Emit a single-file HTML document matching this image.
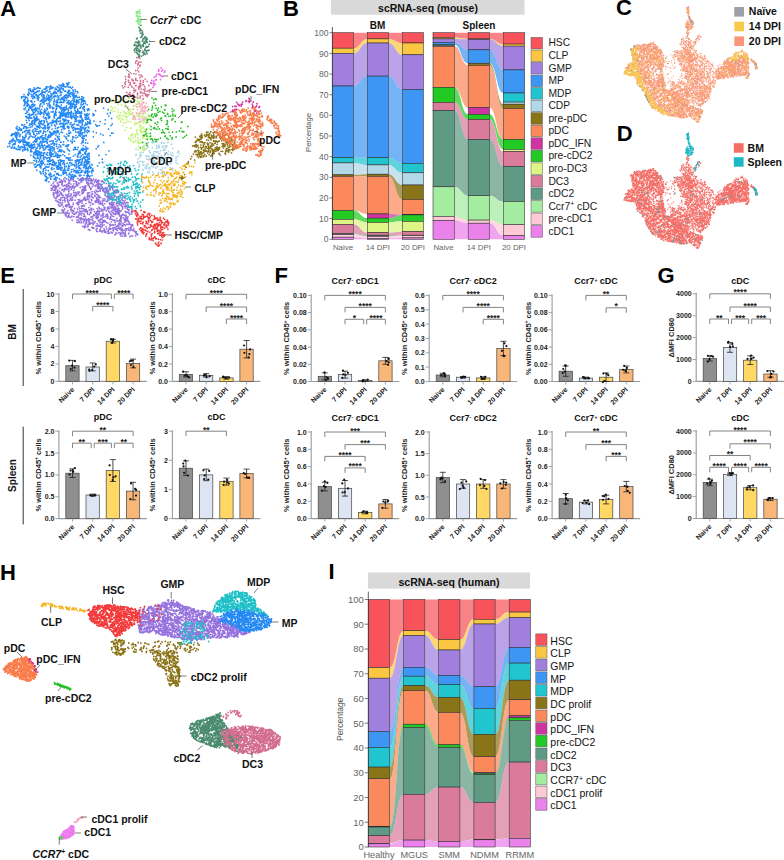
<!DOCTYPE html>
<html><head><meta charset="utf-8"><style>
html,body{margin:0;padding:0;background:#fff;}
svg{display:block;font-family:"Liberation Sans", sans-serif;}
</style></head><body>
<svg width="784" height="860" viewBox="0 0 784 860">
<rect width="784" height="860" fill="#fff"/>
<defs><path id="a_MP" d="M63 85h0M66.3 173.3h0M26.2 133.9h0M24.5 148.7h0M68.2 117.1h0M61.2 170.2h0M68.8 87.2h0M32.4 90.6h0M62.7 119.6h0M63.8 144.5h0M75 105.8h0M34.7 109.8h0M89.6 171.7h0M47.2 109.5h0M56.2 109.2h0M85.7 123.2h0M44 89h0M92.1 170.1h0M46.8 179.6h0M30.1 133.5h0M87 171.1h0M63 144.5h0M54.3 161.8h0M84 167.2h0M49.6 89.5h0M74.1 95.6h0M44.1 104.1h0M71 103h0M45.4 135.2h0M26.8 116.9h0M27.2 104.9h0M27.9 150.6h0M57.1 130.6h0M77.8 101.9h0M44.8 125.6h0M36.8 170.2h0M23.7 128.2h0M45.9 170.2h0M88.2 168.9h0M49.6 104.3h0M75.7 128.8h0M55.7 155.6h0M57.8 137.7h0M12.1 142h0M59.2 151.2h0M28.6 143h0M43.8 141.9h0M69.8 106.8h0M65.9 113h0M72.9 89.9h0M84.2 172h0M68.7 144.8h0M16.5 138.8h0M60 155.6h0M62.6 109.4h0M86.3 168.6h0M44.2 110.7h0M74.6 147.4h0M55.4 126h0M58.1 97.6h0M25.5 107.9h0M75.4 172.5h0M61.4 98.2h0M78 172.2h0M47.4 113.6h0M31.5 147.8h0M34.5 144.2h0M40.8 141.2h0M69.1 82.7h0M65.8 119.6h0M65.2 116.1h0M81.3 155.8h0M34.2 124.1h0M33 95.5h0M61 113.1h0M44.7 141.5h0M47.8 127.5h0M52.2 146.9h0M26.8 102.8h0M62.2 102.3h0M50.4 107.3h0M74.5 93.4h0M52.4 87.6h0M60.7 155.7h0M62.9 160.5h0M61.9 110.5h0M32.1 110.2h0M54.4 96.6h0M54.6 124.8h0M54.9 143.9h0M26.3 126.9h0M36.5 151.6h0M21.5 130.1h0M61.5 85.2h0M19 129.5h0M40.3 104h0M79.9 108.2h0M64 162h0M73.1 179.2h0M56.4 104.7h0M74.2 99.6h0M72.5 94.2h0M41.8 155.3h0M67.5 146.4h0M81.5 143.6h0M37.5 126.1h0M45.2 157.2h0M54.2 131.7h0M84.2 107.3h0M60.5 121.1h0M81.6 101h0M68.5 110.6h0M70.1 132.2h0M67.6 113.7h0M48.5 136.5h0M72.4 116.2h0M30.8 108.1h0M24 94.7h0M73.8 101.3h0M53 111.3h0M24.1 105.7h0M55.5 153.5h0M57.3 130.3h0M89.4 131.1h0M60.2 163h0M71.9 179h0M25.6 149.7h0M59.1 112.2h0M69 154.1h0M87.9 162.7h0M65 177.5h0M50.9 132.8h0M35.3 108h0M91.3 167.6h0M65.9 109.9h0M73.3 130.4h0M23 142.1h0M50.1 91.8h0M36.3 150.7h0M36 153.1h0M89.8 165.3h0M46.9 114.5h0M73.6 103.2h0M88.3 127.1h0M60.4 106.9h0M55.3 138.7h0M50.7 155.5h0M55.3 121.5h0M78.9 111.3h0M49.9 97.6h0M37.3 138.7h0M46.9 115.3h0M68.1 140.7h0M68.8 165.1h0M50.4 86.3h0M45.6 136h0M70.3 124.2h0M36.7 153h0M73.5 171.3h0M45.1 92.5h0M83.5 127.7h0M76.8 112.4h0M19.8 136.6h0M76.4 99.8h0M83.3 145.6h0M47.5 108.4h0M86 151.5h0M45.8 117.7h0M63 125.7h0M81.1 102.8h0M49.4 106.6h0M64.7 110.4h0M67.1 158.3h0M60.2 118.4h0M61.4 151.5h0M64.8 167.8h0M86.1 148.3h0M45.7 141.5h0M72.5 100.4h0M53.5 175.5h0M49.3 164.6h0M91.7 164.4h0M79.2 175.1h0M33.7 132.6h0M15.8 132.3h0M38.5 123h0M28.4 95.3h0M76.2 106.7h0M48.8 161.7h0M83 135.6h0M49 123.4h0M50 175.1h0M14.2 144.4h0M31.2 146.9h0M70.2 104.4h0M27.1 117h0M43.5 92.2h0M65.3 120.6h0M35.9 94.9h0M59.6 118.3h0M25.7 149.4h0M88.4 166.9h0M34.1 117.1h0M83.2 140.2h0M19.5 147h0M72.4 104.4h0M36.9 120.2h0M30.9 149.9h0M17.1 126.3h0M41.7 143.5h0M33.5 104h0M29.5 115.9h0M72.5 100.4h0M68.7 133.4h0M87.7 170.3h0M57.3 154.7h0M35.5 164.1h0M79.9 176.1h0M52.9 122.8h0M36.8 116.4h0M51.8 94.1h0M86.4 118.1h0M78.8 165.5h0M59.8 159.9h0M46.4 176.6h0M62 97.9h0M45.8 113.3h0M12 134.1h0M46.6 88.3h0M35.2 130.9h0M85.8 117.5h0M51.2 100.1h0M45.4 127.2h0M31.9 124.1h0M36.3 141.8h0M68.2 122.4h0M89.2 114h0M76.4 165.3h0M53.2 148.3h0M38.8 119.4h0M49.6 105.6h0M80.2 172.5h0M36.6 160.5h0M74.6 164.9h0M27.9 127.7h0M72.6 128.2h0M34.2 164.8h0M31.8 121.4h0M63.2 171.5h0M81.6 111.5h0M26.5 128.4h0M88.5 167.9h0M76.3 96.5h0M79.7 153.4h0M68.8 128.2h0M53.3 93.8h0M52.2 107.1h0M44.7 145.1h0M43.5 150.1h0M53.1 134.1h0M55.6 122.2h0M76.1 117.6h0M62.1 161h0M54.9 165.3h0M75.3 129.8h0M75.4 170.6h0M50.5 133.1h0M52.5 164.1h0M14 143.8h0M54.8 115.2h0M64.9 113.7h0M44.4 152.7h0M75.2 119.8h0M56.7 144.1h0M90.1 120.4h0M57.3 136.4h0M63.9 107.9h0M87.3 132.5h0M46 91.4h0M81.1 115h0M62.9 163.3h0M39.4 164.3h0M60.6 91.3h0M53.1 160.8h0M63.3 128.3h0M75.4 147.6h0M45 175.2h0M85.4 168.6h0M53.8 133.7h0M64.7 155.9h0M56.4 166.5h0M11.1 147.8h0M64.1 160.6h0M49.4 164.4h0M33.1 89.9h0M45.6 131.8h0M60.2 114.3h0M56.2 115h0M30.5 107.7h0M32.5 121.6h0M50.7 134.9h0M38 87.6h0M84.3 149.1h0M54.1 168.7h0M84.3 156.6h0M39.1 123.3h0M24.1 138.8h0M51.2 160.3h0M41.6 163.4h0M89.3 159.4h0M51.6 133.4h0M48.6 129h0M71.8 113h0M67.3 85.2h0M57.6 155.9h0M22 146.5h0M83.5 157.4h0M35.5 149.9h0M37.1 118.6h0M60.5 102.1h0M33.1 111.9h0M68.8 114.8h0M88.8 163.5h0M37.4 127.5h0M49 103.1h0M88.7 153.4h0M61 142.2h0M43.3 155.5h0M55.3 177.1h0M88.9 171.9h0M14.9 140.9h0M70.4 177.9h0M88.1 171.8h0M56.8 93.4h0M54.6 132.8h0M81.6 130.1h0M47.3 108.7h0M71.6 163h0M85.6 166.7h0M23.3 96.8h0M28.8 109h0M33.5 156.1h0M33.9 123.8h0M85.4 154.1h0M32.9 145.1h0M48.3 137.2h0M46.2 154.1h0M51.3 140.8h0M35.8 135.5h0M25.1 141.9h0M51.8 164.8h0M52 129h0M57.7 87.1h0M40 152h0M54.3 149h0M22.7 137.2h0M70.8 105.2h0M66 137.9h0M28.8 117.7h0M89.1 156.3h0M77.9 125.2h0M10 143.4h0M42.3 106.4h0M51.2 111.9h0M71.1 115h0M65.9 115.1h0M19.6 149.7h0M84.1 175.3h0M75.9 114.9h0M55.9 96.2h0M70.5 101.9h0M28.3 144h0M40.4 136.8h0M30 134.7h0M39.5 124.6h0M26.5 97.4h0M43.6 98h0M40.3 167.3h0M64.4 152.2h0M50 99.6h0M49.8 175.8h0M63.3 88.5h0M81.2 178.7h0M39.8 145.4h0M53.2 165.5h0M41.8 120.5h0M64.3 169.9h0M55.5 88.2h0M15.4 136.3h0M84.8 130.9h0M85.8 139.9h0M42 90.3h0M41.2 173.8h0M69.5 90.9h0M34.8 93.3h0M34.1 119.1h0M46.4 139h0M15.2 143.4h0M40.8 112.2h0M57.1 99.8h0M50.2 88.9h0M43.9 131.8h0M29.1 107.6h0M59.1 102.4h0M40 165.6h0M17.1 139.9h0M54.8 151.9h0M69.1 127.1h0M42.9 133.3h0M54.1 147.5h0M74.4 149.4h0M66.4 123.2h0M51.8 135.3h0M57.4 127.9h0M46.9 103.6h0M48.8 127.1h0M63.8 151.4h0M28.4 100.3h0M56.1 180.1h0M42.5 101.3h0M60.8 102.6h0M41.1 154.2h0M72.9 164.8h0M53.3 147.6h0M60.6 142.3h0M68.9 112.8h0M51.8 125.1h0M55.7 132.3h0M34.6 128.4h0M50.4 152.2h0M80.6 132.2h0M32.7 110.5h0M21.8 129.1h0M74.9 166.3h0M46.5 118h0M58.5 118.2h0M62.5 99.4h0M25.2 103.6h0M37.8 111.1h0M35.4 154.2h0M82.9 107.9h0M79.6 160h0M49.9 141.3h0M43.3 128.5h0M65.2 119h0M53.9 104.7h0M36.7 141.3h0M49.6 117.5h0M75.7 129.3h0M82.1 127.4h0M67.4 95.9h0M31.1 149.1h0M33.8 153.7h0M66.6 83.4h0M44.1 96h0M40.6 156.9h0M19.6 136.5h0M64 127.3h0M62.1 97.9h0M67.2 170h0M34.6 96.7h0M81.3 149.5h0M52.4 134.4h0M17 133.4h0M56.8 119.7h0M43.5 153.9h0M54 145.2h0M34.2 134.6h0M77.8 137.1h0M80.1 151.8h0M45.1 128.7h0M52.9 162.2h0M77.7 110.2h0M38.6 133.4h0M39.3 108.5h0M57.3 156.1h0M51.6 87h0M28.5 130.5h0M71.9 125.2h0M43.5 155.8h0M51 174.3h0M35.7 138.8h0M24.7 139.9h0M61.6 129.7h0M50.3 161.2h0M85.9 159.9h0M27.5 117.8h0M83.9 179.3h0M64.6 168.9h0M16.2 136.4h0M50.2 88.6h0M85.6 135.4h0M13.6 140.3h0M29.9 114.6h0M47.9 123.9h0M34.1 109.5h0M79.4 153.4h0M80.2 115.9h0M28.8 118.7h0M46.7 158.7h0M47.5 164.3h0M79.2 120.4h0M63.5 141.8h0M86.1 127.6h0M86.3 166.9h0M21.8 140.9h0M66.9 100.1h0M61.3 107.5h0M43.1 138.6h0M31.6 96.5h0M84.5 136h0M75.5 119.1h0M49.5 175.4h0M41.1 100.8h0M64.6 109.6h0M81.2 163.7h0M80.5 168.5h0M58.9 164.6h0M68.4 179h0M84.2 132.6h0M50 91.7h0M26.2 136.1h0M87.5 168.4h0M89.5 122.8h0M33.5 96.4h0M63.9 100.2h0M26.6 142.5h0M33.9 152.6h0M63 172.8h0M30.3 107.9h0M29.6 93.5h0M84.5 132.7h0M54.9 92.8h0M82.7 148.8h0M81.1 112.5h0M15.2 143h0M57.1 168h0M38.7 126h0M34.1 123h0M39.4 127.9h0M47.8 105.5h0M65.5 91.2h0M58.7 138.9h0M78.7 125.1h0M69.6 133.6h0M66.4 145.6h0M92.2 164.8h0M62 167.4h0M86.8 175.6h0M41.1 123h0M43.4 97.6h0M56.3 92.8h0M54 117.5h0M40.6 131.9h0M87.7 173.8h0M78.6 113.4h0M50.1 153.4h0M45.9 166.6h0M43.6 148.2h0M78.9 135h0M34.3 134.1h0M81.6 172h0M80.3 107.9h0M87.4 154.2h0M79.2 133.9h0M39.7 143h0M83.3 142.2h0M21.4 140.8h0M82.1 148.4h0M30.6 124.2h0M75.4 160.6h0M86.9 148.4h0M63.3 125.6h0M37.6 108.2h0M66.4 166.4h0M16.1 134.6h0M80.9 120.6h0M60.4 112.9h0M63.2 170.2h0M69.3 173.3h0M85.8 164.5h0M59.6 149.7h0M29.8 125.1h0M57.2 101.8h0M86.4 150.9h0M77.8 160.2h0M66.6 116.7h0M38.2 158.3h0M76.1 116.2h0M48.3 170.7h0M40.5 112.9h0M81.8 96.5h0M47.1 114.7h0M22.6 147.1h0M49.9 160.2h0M60.9 147h0M35.3 167.3h0M66.3 146.3h0M37.2 95.6h0M33.2 112.1h0M59.3 116.9h0M86 119.1h0M90.1 176h0M58.7 99.7h0M64 86.3h0M29.5 136.9h0M43.6 121.2h0M48.6 98.1h0M62.3 113.2h0M65.1 110h0M24.6 109.3h0M65.6 97.7h0M51.9 156.2h0M29.5 106h0M33 129.8h0M34.5 157.7h0M81.6 150h0M38.4 127.1h0M78.4 101.1h0M63.9 163.6h0M58.8 164.2h0M74.3 141.2h0M65.7 116.9h0M68.4 92.2h0M28.9 117.7h0M40.8 167.9h0M63.4 98.5h0M81.6 171h0M63.4 123.6h0M47.3 164.1h0M82.1 128h0M50.6 149h0M43.2 139.2h0M15.1 144h0M33.8 134.2h0M38.9 88h0M46.9 139.5h0M26.5 117.3h0M52.8 154h0M21.5 96.8h0M70.2 93.4h0M69.8 93.5h0M88.2 167.8h0M74.7 128.4h0M18.9 133.3h0M80.5 131.7h0M57.7 156.9h0M87.2 160.1h0M46.7 96.1h0M68.4 158.7h0M68.5 170.1h0M24.7 146h0M37.3 150.9h0M51.2 153.2h0M43.6 158.6h0M67.5 112.5h0M56.2 106.7h0M77 111.8h0M29.1 145.7h0M54.9 143.9h0M23.5 100.2h0M40.1 126.1h0M18.5 141.9h0M36 154.7h0M61 149.9h0M57.2 119h0M34.9 104.9h0M13.1 133.9h0M54.1 91.9h0M25.8 116.3h0M89.8 121.8h0M79 120.7h0M46.1 87h0M74.8 170.6h0M16.2 137.2h0M20.6 129.2h0M66 136.9h0M33.5 91.3h0M48.6 136.8h0M41.3 163.7h0M55.5 139h0M54.1 178.9h0M72.6 174.5h0M43.2 148.3h0M24.1 101h0M55.2 112.1h0M49.7 116.2h0M85.9 114.9h0M61 113.6h0M56.6 119.6h0M28.6 105.1h0M45.3 168h0M71.2 171.9h0M82.2 96.8h0M9.8 141.7h0M58.7 174.8h0M48.4 161.4h0M71.3 112.1h0M51.8 122.9h0M60.8 99.4h0M46.1 100.7h0M49.8 88.9h0M86.5 119.3h0M46.9 87.2h0M35.5 154.1h0M79.7 167.5h0M52.3 120.8h0M49.7 131.6h0M51 96.6h0M13.8 148h0M69.9 94.5h0M78.1 155.8h0M49 103.9h0M10.9 140.9h0M62.2 86.5h0M59.5 139.9h0M83 99.9h0M23 149.7h0M70.5 117.4h0M58.8 105.9h0M82.3 133.8h0M48.7 145.1h0M85.6 161.4h0M52.8 120.2h0M76.2 121.3h0M72 160h0M42.9 101.7h0M20.6 148.8h0M81.9 125.6h0M43.3 162.3h0M39.5 139h0M71.5 169.5h0M72.5 128h0M36.7 138.5h0M45.2 89h0M63.1 127.2h0M64.6 164.3h0M10 143.5h0M27.4 99.8h0M75.3 118.4h0M31.3 144.2h0M29.9 123.9h0M83.8 165.3h0M47.4 142.2h0M66.3 105.9h0M28.8 92h0M88.6 131h0M66.9 175.1h0M83.5 103.6h0M28.9 145.5h0M85.6 170.9h0M31.6 105.1h0M49 137.6h0M41.6 152.4h0M47.4 152.7h0M25.5 141.6h0M60.7 108.9h0M27.8 130.5h0M39.1 133.3h0M31.6 100.8h0M57.5 105.8h0M30.7 106.5h0M75.8 113h0M56.8 123.1h0M48.8 146.6h0M36.4 119.2h0M88.6 108.7h0M57.5 148.6h0M75.4 118.7h0M40.4 111.7h0M77.8 116.8h0M57.1 168.9h0M34.8 112.2h0M63.5 110.1h0M82.6 119.5h0M68.4 90.7h0M84 138.3h0M41.8 160.4h0M84.6 114h0M32 146.3h0M65.2 170.1h0M48.8 181.8h0M63.1 114h0M54.3 164.4h0M39.1 108.9h0M81.3 117.5h0M32.7 106h0M39.8 124.4h0M41.2 121h0M86.7 164.7h0M43.2 169.4h0M32.4 147.3h0M30.9 145.9h0M53.9 101.4h0M30.7 155.3h0M27.5 97.8h0M75 89.8h0M78.6 166.8h0M74.3 107.8h0M45.9 157.6h0M47.4 161h0M66.7 114.3h0M52.7 108.3h0M82.7 104.7h0M62.5 115.5h0M31.3 94.7h0M76.4 95.3h0M73.3 164.5h0M38.4 96.2h0M49.6 127h0M68.1 101.8h0M37.5 157.1h0M33 109.3h0M40.3 101.4h0M82.1 161.5h0M53 133.2h0M60.7 115.3h0M16.8 135.8h0M24.8 131.9h0M57.1 167.6h0M53.1 153.9h0M39.2 144.2h0M50.1 173.1h0M55.9 178h0M39.4 154.6h0M53.6 101.8h0M28.9 146.2h0M72.7 124.8h0M63 118.9h0M65.3 172.4h0M45.9 118.4h0M39.6 160.3h0M74.1 176.8h0M33.5 113.1h0M79 152.7h0M38.2 96.6h0M58 106.2h0M87.4 157.2h0M57.5 90.5h0M74.6 117.9h0M43.5 170.8h0M40.6 113.5h0M71.1 122.5h0M59.2 133.9h0M32.5 122.6h0M14.3 140.7h0M42 91.2h0M74.8 95.8h0M56 132.2h0M24.3 145.2h0M28.6 89.8h0M44.2 118h0M59.1 85h0M78.7 102.8h0M73.4 169.3h0M16.8 128.3h0M25.4 137.3h0M52.9 108.8h0M65.2 86.9h0M61.2 87.9h0M64.9 170.5h0M83 148.6h0M82.9 136.6h0M37.9 146.1h0M85 165.5h0M55.7 111h0M85.6 149.4h0M60.7 146.2h0M86.7 116h0M25.2 96.6h0M77.1 170.3h0M68.8 135.8h0M88.7 175.9h0M55.9 179.1h0M43.3 124.4h0M27.3 106.1h0M38.5 152.6h0M51.1 144.1h0M93.3 170.8h0M35.5 129.1h0M40.4 114.4h0M72.1 142.9h0M76 135.5h0M52.5 122.8h0M55.9 135h0M47.5 125.5h0M11.9 135.1h0M89.2 153.4h0M43.3 128.4h0M58.8 155h0M46.9 108h0M86.5 163.6h0M46.4 119.4h0M40.7 163h0M90.2 121h0M74.3 175.4h0M64.8 97.8h0M43.8 114h0M46.1 146.3h0M61.6 108.3h0M81.9 137.8h0M84.3 106.7h0M48.7 124.3h0M59.6 107.4h0M20.1 149h0M22.7 150.9h0M39.3 121.1h0M44.5 138.5h0M31.1 136.2h0M68 144.8h0M60.4 114.7h0M18.4 139.8h0M62.4 132.6h0M43.3 116.5h0M62.9 83.7h0M34 134.1h0M87.3 163.7h0M43.3 158.1h0M33.3 156.3h0M54 103.7h0M77.1 172.9h0M61.9 168.3h0M43.3 133.1h0M46.6 179.3h0M33.6 93.9h0M75.2 175.5h0M47.3 155.2h0M11.1 135.5h0M34.4 141.3h0M85.2 115.2h0M31.3 115h0M31.9 107.4h0M60.8 117h0M18.5 130.4h0M44.4 100.7h0M59 167.6h0M69.5 150.8h0M73.2 129.9h0M87.6 130.2h0M61.1 175.4h0M84.3 128.6h0M48.7 118.3h0M60 95.5h0M78.6 163.6h0M63.9 163.2h0M42.2 124.6h0M58.8 162.3h0M76 137.9h0M57.3 132h0M47.6 139h0M78.3 161h0M50.4 149.7h0M78.6 172.8h0M53.6 122.2h0M34.8 140.6h0M37.2 91.6h0M39.4 138.4h0M68.6 166.1h0M82.5 170.6h0M68.5 122.6h0M40.6 121.3h0M88 168h0M14.5 147.9h0M44.3 100.8h0M55.4 128.3h0M23.4 144h0M81.2 106.6h0M43 138.1h0M68.8 94h0M67.5 97h0M75.3 129.8h0M62.5 163.7h0M76.9 111.9h0M87.9 158.8h0M61.7 111.7h0M51.3 169.2h0M58.9 97.9h0M77.8 109.1h0M49.5 163.9h0M37.1 91.1h0M74.5 106.7h0M37.3 147.9h0M42 113.2h0M72.9 136.7h0M48.6 97.3h0M66.9 86.7h0M36.4 109.7h0M36.6 152.8h0M16.2 127.9h0M31.9 102.2h0M62.9 154.6h0M18.5 149.3h0M85.5 153.3h0M48 177.8h0M87.8 110.6h0M86.1 160.9h0M75.1 121.5h0M30.3 127.4h0M22.7 132.6h0M74.4 104.7h0M87 155.3h0M13.5 140.7h0M46.1 173.8h0M75.4 162.5h0M78.7 131.6h0M88.9 119h0M63.8 100.5h0M85.5 146.7h0M54.4 113.8h0M83.6 97.7h0M19.5 149.1h0M68.5 95.8h0M76.5 128.9h0M58.8 165.8h0M50.6 163.9h0M76.5 160.3h0M36.5 94.8h0M43.4 153.4h0M45.5 176.7h0M60.7 161.7h0M64.1 172.8h0M77.7 161.1h0M25.1 147.6h0M50.8 179.2h0M75.6 117.9h0M27.7 94.5h0M73.7 137.4h0M64.8 110.6h0M48.6 100.4h0M32 126.7h0M77.6 159.7h0M71.9 176.7h0M75.8 131.9h0M35.6 92.5h0M83.2 120.7h0M46.9 121.9h0M81.6 129.2h0M59.9 162.9h0M60.6 99.8h0M58.9 167.7h0M57.8 173.3h0M20.1 140.9h0M48.3 160.7h0M53.6 131.3h0M79 128.6h0M71.1 179.2h0M33 148.4h0M49.1 113.5h0M82.2 158.6h0M42.6 162.9h0M47.7 147h0M54.6 163.4h0M66.1 172.9h0M39.1 145.5h0M22.4 139.4h0M69.2 103.3h0M28 94.1h0M72.3 105.4h0M30.5 151.7h0M49.6 136.1h0M77.9 178.3h0M85.1 129.1h0M54.5 95.9h0M45.9 148.1h0M63.5 124.4h0M63.6 115.7h0M68.1 168.2h0M47 99.4h0M80.5 153h0M23.2 139.8h0M34.8 117.5h0M54.3 99.1h0M87.6 123.7h0M19.8 129.1h0M68.8 130.7h0M20 140h0M55.3 113.9h0M80.7 127.9h0M11.9 147.8h0M14.7 134.6h0M86.6 119.3h0M81.8 120.1h0M77.4 111.9h0M58.5 91.3h0M73.3 91.5h0M87.1 124.7h0M69.2 159.4h0M80.1 113.4h0M90.8 167.4h0M64.3 173.4h0M50.1 152.5h0M72.3 141.7h0M17.6 134.7h0M81.1 99.1h0M38.2 112h0M74.2 101.2h0M73 137.8h0M67 113.1h0M67.3 92.3h0M52.4 120.5h0M60.8 167.1h0M17.1 129.4h0M34.4 119.4h0M37 154.8h0M52 88.5h0M29.2 89.2h0M37.5 98.8h0M70.8 107.1h0M15.8 141.4h0M26.1 102h0M51.2 154.5h0M58.7 127.3h0M40.3 104.3h0M45.9 138.9h0M81.9 101.7h0M80.7 130.9h0M64.7 91.2h0M42.2 142.6h0M63.4 123.2h0M59.9 123.7h0M50.6 146.5h0M66.5 98h0M24.8 149.9h0M30 117.5h0M54.9 179.5h0M34.6 120.8h0M50.1 96.2h0M81.9 134.1h0M37.6 158h0M85.1 117.2h0M37.3 118.9h0M65 107.7h0M58.9 175.2h0M33.8 116.9h0M56.8 174.3h0M40.2 122.2h0M77.8 92.7h0M76 168.1h0M45 137.5h0M42.3 146.1h0M73.9 100.9h0M68.6 170.3h0M60.9 160.8h0M56.6 146.3h0M39 97.5h0M67.1 113.1h0M35 167h0M63.6 108.6h0M42.6 94.1h0M47.7 139.5h0M63.7 86.3h0M77.4 149.6h0M85.9 123.9h0M70.5 96.8h0M71.4 177.5h0M35.9 142h0M72.6 106.5h0M29.4 142.5h0M60.1 168.2h0M28.1 138.8h0M27.7 103.9h0M74.2 123.9h0M79.2 153.6h0M62.1 114.4h0M67.1 163.2h0M49 157.3h0M24.5 124.7h0M83.8 178.7h0M87.9 148.4h0M44.6 109h0M66 94.6h0M75.5 111.8h0M31.9 151.4h0M42.8 97.4h0M30 145.4h0M39.4 152.2h0M35.4 153h0M72.6 87.1h0M61.3 113.3h0M56.1 141.6h0M53.5 96.9h0M83.4 167.5h0M60.7 160h0M64.6 163.8h0M38.3 154.7h0M83.1 100.9h0M53.1 140.6h0M66.3 172.8h0M90.3 167.7h0M56.9 104h0M63.4 115.4h0M40.5 123.1h0M91.5 170.6h0M81.7 99.1h0M44.9 164.6h0M67 95.9h0M79.9 134.7h0M44.1 159.5h0M60.8 126.7h0M47.7 105.3h0M53 112.1h0M86.5 131.1h0M80.7 135.8h0M44.3 92.1h0M56.8 108.3h0M14.3 133.8h0M65 100.8h0M33.1 142.3h0M65.7 146h0M83.3 101.6h0M16.4 136.9h0M38.7 151.1h0M41.7 113.3h0M64 126.9h0M76.2 101.9h0M47.6 130.8h0M21.6 98h0M82.3 142.1h0M56.9 167.4h0M7.8 146.7h0M92.8 168.9h0M59.2 138.9h0M49.8 132h0M60.6 151.6h0M49.8 155.2h0M44 114.7h0M85.2 125h0M50.4 178.1h0M68.1 84.6h0M64.6 95.9h0M80 151h0M76.7 163.9h0M61.5 111.3h0M65.5 95.6h0M60.1 92.8h0M38.3 98.6h0M61.1 94.8h0M29.7 117.1h0M52.2 150.7h0M88.2 127.1h0M90 166.3h0M71.2 92.6h0M37 133.9h0M39.7 159.3h0M65.3 97.9h0M43.3 124.2h0M81.7 163.4h0M73.5 149.7h0M12.2 146.8h0M66.7 138.9h0M68.4 127.9h0M54.7 162.8h0M42.5 102.6h0M70.5 157.8h0M31.9 91.9h0M52.7 159.6h0M39.7 146.3h0M56.6 173.5h0M53.8 143.1h0M52.6 107.7h0M58.1 166.3h0M48.8 127.9h0M53.1 142.4h0M41.6 109.3h0M44.1 127.3h0M79.2 97.2h0M69.3 95.7h0M25.7 130.7h0M59.7 124.1h0M57.1 86.6h0M33.6 132h0M19.5 142.5h0M85.3 173h0M78.8 132.3h0M60.1 160.1h0M47.4 128.3h0M65.2 124.2h0M85 157.4h0M82.9 154.5h0M56 102.1h0M75.9 107.5h0M60.2 123.4h0M34.9 108.7h0M42.7 99.7h0M35.1 124.5h0M40 166.8h0M40.8 94.2h0M47.8 123.9h0M66.2 107.6h0M75.8 113.5h0M14.4 147.2h0M47.8 166.9h0M88.8 131.6h0M80.6 121.2h0M55.8 110.9h0M35 151.9h0M37 129.3h0M48.8 174.3h0M43.3 173.6h0M73.8 137.3h0M79.9 150.9h0M38 165.2h0M68.1 83.4h0M89 127.8h0M87.7 118.9h0M60.8 113.4h0M27.6 132.8h0M69 103.8h0M78.9 122.8h0M56.9 132.8h0M56.5 89.2h0M57 105.7h0M75.5 102h0M53.7 108.2h0M46.8 178h0M31.1 151.7h0M26.7 110.8h0M61.9 92.3h0M29 93.5h0M36.9 88h0M61.3 160.3h0M57.8 91.2h0M45.8 113.2h0M56 112.5h0M27.5 143.5h0M76.7 172.1h0M75.6 128.7h0M59.2 89.4h0M24 140.9h0M29.5 125.4h0M45.2 180.2h0M75 97.5h0M37.1 120h0M58.4 151.6h0M44 102.4h0M86.6 162.4h0M59.6 116.2h0M43.7 99h0M26.6 105.9h0M71.9 103.4h0M24.1 142.1h0M24.4 100.2h0M70 117.1h0M80.9 175.2h0M76.7 102h0M61 101.8h0M76.2 115.9h0M76.7 171.4h0M91.8 172.7h0M12.8 134.3h0M35.3 120.6h0M57.1 177.7h0M55.3 96.2h0M46 118.3h0M47.8 145.7h0M34.8 121.4h0M27.6 148.2h0M24.6 102.5h0M79.1 162.2h0M42.6 141.5h0M48.6 135h0M73.4 156.1h0M34.5 101.6h0M68.2 103.8h0M56 120.6h0M80.1 117.1h0M67.1 123.6h0M54.1 115.7h0M75.8 176.4h0M53.9 101.7h0M49.9 101.5h0M27.5 149.6h0M12.1 135.3h0M82.3 124.3h0M16.8 137.1h0M25.1 126.5h0M42 164.7h0M86.8 172h0M57.5 157.6h0M84.2 129h0M69.4 112.8h0M78 100.3h0M85.8 157.1h0M31.1 146.4h0M74.2 115.7h0M29.2 134h0M82 122.9h0M35.7 158.7h0M13.1 138.3h0M78.9 168.2h0M32.8 136.9h0M66.4 98.1h0M80.3 165.1h0M69.8 173.8h0M34.1 87.8h0M39.9 106.8h0M76.8 167h0M21.7 124.8h0M35.7 139.7h0M38.3 100.2h0M34.8 122.1h0M64 120.1h0M26.2 113.2h0M81.5 100h0M67.8 116.3h0M49.3 116.6h0M58.3 121.4h0M27.5 145.2h0M61.3 88.6h0M33.1 97.9h0M59.4 178.8h0M35.9 110.8h0M63.8 111.9h0M81.2 116.2h0M54.3 174.8h0M60.3 121.3h0M23.9 147.1h0M59 167.1h0M70.5 114.2h0M28.5 100.5h0M41.9 99.6h0M78.8 163.3h0M87.7 143.1h0M70.7 108.7h0M48.2 98.3h0M70.6 132.5h0M49.9 147.8h0M87.7 121.7h0M24.1 126.9h0M87 156h0M49.9 152.6h0M66.7 108.4h0M90.4 168.2h0M58.4 174.2h0M64.7 121.5h0M43.1 171.7h0M37.2 97h0M88.5 123h0M68 135.9h0M68.7 102.7h0M78.4 101.4h0M42.9 146.3h0M83.1 99.4h0M40.2 110.7h0M58.3 131.1h0M15.6 135.7h0M73.7 177.4h0M36.6 126.2h0M40.2 88.3h0M36 92.7h0M48.7 124.6h0M42.1 144.9h0M71.3 112.4h0M19.6 135.4h0M82.1 133.9h0M76.8 113.2h0M55.1 171.6h0M28.2 104h0M86.1 160.5h0M53.9 156.3h0M40.1 155.5h0M40.5 147.9h0M82 164.8h0M89.1 158.3h0M39 151.7h0M52.6 143.7h0M41.7 137.3h0M80.4 133.4h0M48.9 166.9h0M36.3 166.8h0M71.2 165h0M22.8 132.1h0M41.3 136.2h0M41.6 95.8h0M68 112.1h0M70.6 141.1h0M44.5 168.2h0M62 123.6h0M28.2 132.2h0M39.9 152.9h0M64 110.5h0M39.2 94.7h0M49.9 150.6h0M76.6 100.9h0M63.5 126.6h0M86.6 163.5h0M49.8 135.3h0M69.6 162.9h0M22.8 139h0M25.1 98.9h0M38.9 137.9h0M52.6 162.2h0M46 141.2h0M37.9 137.3h0M27.8 101.6h0M80 180h0M18.3 145.9h0M42.1 91h0M44.3 153.2h0M64.6 166h0M59.9 90.4h0M16.7 138.3h0M63.1 119.4h0M49.9 136.3h0M82.8 138.6h0M89.9 122.2h0M53.6 143h0M48.8 95.5h0M52 98.3h0M40.2 157.4h0M69 107.9h0M90 123.9h0M71 178.7h0M55.6 132.7h0M84.8 153.5h0M71.8 179.3h0M84.1 136.3h0M66.1 172.3h0M44.1 121.1h0M32.8 104.2h0M56.9 104.6h0M61.2 132.2h0M35.8 118.5h0M85 101.5h0M16 132.6h0M52.1 98.1h0M49.7 98.3h0M26.9 122.7h0M44.6 101h0M24.5 101.8h0M65.3 109.6h0M55.2 163.9h0M51 176.5h0M41.1 93.7h0M50.9 160.6h0M71.6 126.7h0M49.6 160h0M20.4 134.5h0M78 153.9h0M58.8 147.1h0M44.4 145.3h0M33.9 147h0M36.5 131.3h0M63.4 113.5h0M31.6 118.2h0M72.3 104.1h0M38.9 113.5h0M38.7 161.8h0M39.6 148.7h0M40.7 172.8h0M72.1 94.8h0M86.9 149.1h0M68.8 176.7h0M70.2 87h0M85.4 128.2h0M9 143.5h0M40.7 161.8h0M30.9 101.2h0M84 163h0M63.3 107.8h0M37.5 144.1h0M55.2 156h0M60.6 115.5h0M78.5 166.4h0M73 98.3h0M63.8 84.6h0M60.3 89.6h0M59.9 121h0M79.4 160.2h0M71.5 116.9h0M24.8 131.4h0M46 99.1h0M67.7 146.4h0M51.9 167.7h0M44.5 97.5h0M40.8 172.5h0M87.6 173.7h0M22.7 136.5h0M66.6 97.8h0M69.3 90.3h0M64.5 115.1h0M70.2 162.5h0M43.3 163.3h0M50.6 136.8h0M79 121.7h0M44 141.3h0M81.4 170.7h0M92.1 175.4h0M68.7 120.9h0M68.5 150h0M39.1 90.5h0M56.9 165.3h0M36.6 162h0M80 151.7h0M51 154.7h0M61.3 104.8h0M72.4 139.4h0M48.1 114.4h0M79.5 99.3h0M63.7 102.3h0M13.9 143.9h0M73.3 114h0M63 85.8h0M56.4 162.9h0M31.8 123h0M68.6 92.4h0M72 92.8h0M20.2 142.3h0M58.4 169.2h0M20.4 129.6h0M84.5 164.7h0M88.5 117.3h0M36.8 119.2h0M41 103.8h0M75.5 91.4h0M38.9 91.6h0M74.6 108.8h0M64 96.8h0M81 179.4h0M66.8 134h0M66.8 145.7h0M32.5 98.6h0M63.3 174.1h0M87.4 176.4h0M49.7 154h0M20.7 130.3h0M38.7 126.3h0M30.7 147.2h0M53 150.7h0M86 117.3h0M43.8 130.9h0M38.1 153h0M59.3 90.4h0M89.3 158.1h0M34.8 97.8h0M42.7 135.5h0M46.5 167.2h0M46.4 181.2h0M43.9 138.1h0M63.9 128.9h0M37.9 137.7h0M74 94h0M44.6 100.5h0M54.6 121.3h0M67.3 127h0M16.2 148.6h0M46 141.7h0M32.5 125.3h0M46.9 121.3h0M87.1 124.5h0M68.7 157.9h0M39.9 105.3h0M84.1 109.4h0M76.7 124.7h0M85.9 124.7h0M57.7 95.6h0M86.2 135.2h0M40.6 158.1h0M46.8 146.8h0M33.1 137h0M47.3 143.2h0M15.2 132.8h0M80.5 122.3h0M67.2 120.7h0M86.6 164.8h0M56.7 144.3h0M49.4 145h0M89.3 109.7h0M50.5 134.7h0M24 100.1h0M84.7 111.1h0M58.2 160.5h0M84.4 125.6h0M56.7 120.6h0M76.3 118.9h0M56.2 121.8h0M53.2 93h0M44 159.5h0M44 95.1h0M35.7 121.5h0M77.3 156.1h0M34.5 144.8h0M39.8 145.4h0M67.3 126.9h0M83.1 108.9h0M60.7 165.2h0M22 96.5h0M43.3 128h0M53.3 141.3h0M71.1 105.5h0M33 90.9h0M83.5 149.6h0M78.7 101.6h0M25.4 142.6h0M82.2 159.9h0M46.8 98.2h0M87.1 104.8h0M92.4 170.8h0M75.4 101.6h0M83.2 148.5h0M83.8 158.3h0M85.3 101.5h0M65 128.6h0M44.9 97.8h0M51.5 87.9h0M15.7 148.5h0M44.1 112.4h0M59.1 136.4h0M30.4 89.2h0M26.9 145.6h0M41.4 92.8h0M84.1 109.8h0M75.9 117.9h0M59.3 157.2h0M51.1 153.8h0M28 114.6h0M48.6 116.5h0M30.2 90.3h0M58.1 132.2h0M80.2 136h0M33.8 157.4h0M29.6 132h0M82 149.6h0M46.4 180.1h0M45 128.8h0M50.8 152.3h0M59 87.9h0M44.8 149.7h0M29.1 118.2h0M82.3 150.2h0M24.3 142.1h0M26.3 130.7h0M78.1 147.4h0M33.5 114.1h0M66.5 115.3h0M66.9 102.8h0M55.6 113.1h0M56.7 146.5h0M40 171.7h0M19.2 127.5h0M88.9 155h0M44.5 125.3h0M51.9 95.5h0M41.5 123.5h0M77.8 171.6h0M32.5 131.5h0M66.1 157.8h0M25 97.2h0M50.4 105.3h0M81.7 113.1h0M49.5 152.5h0M45.9 88.2h0M79 151.9h0M61.1 126.5h0M64.6 99.9h0M54.9 131h0M50.2 150.5h0M68.1 93.4h0M47.1 139.9h0M37.6 154.4h0M37.9 155.7h0M69.7 162.6h0M73.8 113.3h0M87.3 148.2h0M48.4 149.6h0M88.2 161.4h0M61.1 123.6h0M81.7 98.7h0M77.8 157.1h0M85.2 159.4h0M12.7 144.8h0M87.9 115.2h0M57.3 102.8h0M45.4 111.6h0M77.9 102.1h0M62.1 150.6h0M85.3 119.1h0M54.9 89.8h0M71 175.2h0M48.6 118.3h0M56 96.5h0M44.5 120.8h0M33.2 94.5h0M59.7 116.2h0M89.4 176.4h0M50.9 123.1h0M68.1 93.8h0M87.4 109.3h0M36.7 109.1h0M74 96.7h0M71.3 176.6h0M83.9 106.5h0M59.4 144.8h0M55.3 178.9h0M51.5 148.7h0M66.8 157.6h0M68 126.2h0M24 126.9h0M27.4 142.4h0M64.4 107.4h0M29 137.8h0M89.5 161.9h0M64.3 136.1h0M51.2 88h0M50.8 85.9h0M40.7 166.7h0M31.5 144.6h0M82.6 121.7h0M25.1 101.3h0M54.5 117.9h0M86.5 165h0M73.4 117.2h0M45.1 126h0M71.4 88.3h0M41.1 155.9h0M82.2 178h0M57.2 140.4h0M72.3 176.6h0M29 137.8h0M41.6 145.2h0M35.2 109.4h0M47.6 127.3h0M81 104.7h0M34.6 89h0M18.2 146.7h0M61.2 87.5h0M82.4 141.5h0M82.1 118.5h0M59.7 118.1h0M45.9 134.5h0M35.6 120.3h0M76.1 116.6h0M61.5 98.8h0M88.5 175.3h0M60.4 164.8h0M51.2 141h0M43.7 157.1h0M53.3 87.7h0M80.3 112.3h0M71.2 172.1h0M56.9 166.7h0M54.1 161.5h0M58.3 96.6h0M32.2 114.4h0M85.8 171.7h0M55.6 177.2h0M87.5 174.6h0M42.3 139.2h0M71.7 118.6h0M42.9 128.3h0M32.4 131.1h0M87.3 177.8h0M85.5 142.9h0M63.9 121.1h0M36.9 139.9h0M57.8 168.4h0M35.3 114.9h0M25.5 135.3h0M61 92.6h0M45.5 172.6h0M73 176.6h0M80.5 159.3h0M86.1 180.2h0M57.1 157h0M79.8 112.5h0M68.9 168.5h0M70.7 115.8h0M31.3 146.7h0M75.1 154.5h0M64.9 171.8h0M71.3 111.3h0M83.7 179.3h0M13 139.3h0M22.7 125.1h0M40.4 141.9h0M49.5 149.4h0M33.4 106.1h0M49.5 163.6h0M38.3 131.5h0M35.6 149.9h0M47.8 115h0M77.5 132.3h0M27.7 112.1h0M85 162.2h0M74.6 109.1h0M41.3 127.5h0M36.8 165.8h0M43 140.8h0M60.8 116.1h0M77.3 91.7h0M86.9 160.6h0M86.8 116.2h0M71.3 178.2h0M49.5 98.5h0M28.7 110.2h0M75.7 149.2h0M30.7 91.1h0M70.3 160.1h0M76.5 102.3h0M24.8 109.4h0M48.3 112.1h0M49.4 174.9h0M50.6 122.6h0M54.9 93.5h0M50 107.9h0M56.7 106.2h0M29.2 114.2h0M56.6 123.9h0M35.3 154.7h0M68.3 120.7h0M49.7 158.7h0M42 112.7h0M64 96.9h0M25 145h0M52.5 108.1h0M43.5 97.8h0M54.2 116.2h0M48.1 98.4h0M56 105.5h0M83.1 142h0M61.7 123.6h0M54.4 149.6h0M31.6 109.3h0M36 161.1h0M83.3 150.6h0M77.4 97.4h0M11.7 134.6h0M65.3 115.8h0M17.4 139.5h0M40.8 130.8h0M80.8 179.8h0M56.1 132.4h0M70.8 104.3h0M34.3 92.1h0M60.2 85.9h0M49 87h0M29.2 146.2h0M79.1 170.4h0M72.8 164.7h0M43.8 168.6h0M62.9 88.8h0M24.1 145h0M80.4 168.8h0M69.2 174.7h0M51 156.7h0M45.9 110.5h0M31.1 118.2h0M56.8 153.4h0M47.6 94.3h0M70.9 101.4h0M76.1 104.6h0M63.3 174.3h0M73.2 96h0M68.9 100.6h0M34.7 105.5h0M84.4 100.5h0M68.1 109.4h0M57.7 118h0M46.4 146.7h0M40.8 137.3h0M76.8 103.6h0M29.7 130.1h0M17.2 149.5h0M19.3 142.2h0M40.2 142.4h0M36.4 148.5h0M87 113.7h0M77.9 129h0M29.2 120.5h0M51.5 125.4h0M90.6 123.3h0M51.9 176.4h0M72.9 95.7h0M34.2 160.5h0M47.2 99.3h0M33.5 90.7h0M39.8 131.1h0M68.9 160.2h0M85.7 166h0M44.3 122.6h0M49.8 157.9h0M26.5 144.4h0M63.6 96.6h0M25.6 126.8h0M64.3 125.8h0M40.9 166.1h0M80.1 129.8h0M35 141h0M42.2 161h0M29.7 147.1h0M77.3 128.3h0M48.5 116.6h0M53.6 121.5h0M17.7 132.3h0M84.9 152.4h0M54.6 100.7h0M71.7 107.8h0M62.5 126.4h0M80.2 157.1h0M47.2 90.3h0M62.9 172.3h0M88.3 158.8h0M80.3 126.6h0M23.9 109.1h0M52.1 169.5h0M77 120.6h0M73.7 127h0M75.2 110.7h0M31 124h0M43.4 95.7h0M34.9 105h0M35.5 89h0M69.4 166.7h0M62.6 116h0M36.9 117.8h0M47.5 158.1h0M32.6 114.6h0M9.7 146.1h0M55.8 132.5h0M60.2 169h0M57 100.7h0M72.8 125.1h0M35 119.5h0M34.9 137h0M82.3 132.9h0M43 147.3h0M35.5 107.9h0M48.4 91.8h0M87.7 115.4h0M85.4 103.6h0M28.5 143.9h0M50.9 93.8h0M21 129.6h0M70.6 112.3h0M79.1 160.8h0M73 93.9h0M76.7 103.9h0M63.3 90h0M50.1 107.4h0M73.7 97.6h0M26.4 120.3h0M21 147h0M67.9 97.4h0M40.7 147.3h0M25.6 113.3h0M42.6 145.5h0M37.2 98.4h0M34.6 120.6h0M49.6 99.7h0M37.1 114h0M81.1 162.2h0M27.1 103.1h0M42 92.6h0M12 140.2h0M67.4 148.8h0M47 86.6h0M55.4 91.8h0M86.1 135.7h0M27 142.1h0M47.7 137.2h0M35 147h0M24.4 137.7h0M84.7 161.6h0M51.5 134.8h0M48.3 99.1h0M45.9 147.4h0M73.8 104.2h0M35.1 136.5h0M33.4 144.5h0M76.1 161.9h0M33.7 97.3h0M38.1 158.4h0M44.3 122.6h0M38 164.5h0M68.7 103.7h0M32.9 120.5h0M76.3 115.7h0M24.6 104.4h0" fill="none" stroke-linecap="round"/>
<path id="a_MPsc" d="M96.8 126.2h0M110.2 135.5h0M93.1 113.7h0M99.1 155.4h0M94.2 114.8h0M95.6 110.7h0M106 154.6h0M104.9 123.9h0M102.5 162.5h0M103.1 135h0M109 150.8h0M93.3 131.7h0M103.6 108.1h0M103.8 142.4h0M111.5 133h0M102.6 162.2h0M108.2 109.7h0M113 133.1h0M96.3 132.8h0M96.2 148.8h0M111.6 118.4h0M99.2 125.5h0M95.8 124.7h0M97.6 165.9h0M102.3 159.2h0M100.7 134h0M110.3 112.9h0M93.4 136.8h0M111 125.6h0M100.1 121.6h0M97.7 147.1h0M93.9 121.2h0M93.6 115.1h0M108.5 129.2h0M93.1 115.6h0M98.6 145.6h0M97.4 125.9h0M99.3 162.8h0M112.2 123.9h0M105.3 119.8h0M107.5 113.7h0M108.9 116h0" fill="none" stroke-linecap="round"/>
<path id="a_GMP" d="M68.8 182.8h0M57.7 191.3h0M109.5 208.7h0M129.3 222.8h0M52.4 189.7h0M61.2 180h0M62.9 197h0M98.2 185h0M118.7 232.5h0M98.5 217.1h0M79.5 208.6h0M59.6 191.4h0M80.6 213.5h0M96.8 200.1h0M104.1 228.6h0M136.2 234h0M107.4 201.1h0M116 233.7h0M76.6 184.1h0M91.3 217h0M121.1 222.7h0M103.5 213.3h0M125 234.8h0M106.7 229h0M71.2 208h0M124.9 236h0M70.3 207.2h0M119.8 219.8h0M83.2 213.5h0M121 234.3h0M81.2 217.7h0M122.8 215.1h0M132.7 225.3h0M89 180.8h0M118.9 210.3h0M84.9 198.6h0M125.7 228.5h0M104.7 221.7h0M106.8 196.5h0M65.1 200.6h0M77.7 184.6h0M99.6 222.6h0M84.6 219h0M72.2 220.2h0M122.9 230.4h0M88.7 180.4h0M109.4 194.2h0M124.7 236h0M68.8 216.2h0M98.7 211.5h0M91.8 196.5h0M103.6 220.5h0M90.8 211.9h0M104.9 207.3h0M99.5 211h0M115 220.1h0M67.8 204.7h0M110.1 197.5h0M128.6 233.8h0M97.6 218.2h0M113.5 199.1h0M64.5 188.7h0M93.5 185.1h0M85.5 219.1h0M79.6 183.7h0M113.1 229.9h0M65 201.7h0M79.3 222.4h0M83.4 179.6h0M65.3 214.6h0M100.8 230.6h0M76.7 195.2h0M98.4 200.9h0M79.1 199.6h0M85.2 199.1h0M132.7 225.8h0M113.1 227.5h0M95.8 217.1h0M96.5 211.9h0M84.3 210.2h0M77.5 204.4h0M88 182.9h0M76.3 212.7h0M97.9 215.8h0M97.2 180.8h0M128.4 221.6h0M64.4 199.9h0M54.7 190h0M111.4 232.5h0M61 192.5h0M100.5 229h0M111.5 202.5h0M103.2 215h0M112 204.5h0M68.5 215.6h0M84.6 209.6h0M100.4 184.4h0M99 207.4h0M104.6 203.8h0M67.4 196.8h0M135.4 232.4h0M66.5 216h0M62.1 195.2h0M64.9 189.5h0M88.4 229.4h0M70.6 209.2h0M85.7 209.5h0M82.1 186.5h0M69.5 200.5h0M122.9 223.4h0M68.7 215.1h0M74 214.3h0M116.8 218.3h0M62.1 209.7h0M81.9 179.2h0M97.8 191.4h0M86.4 221.3h0M83.7 199.5h0M84.7 220.7h0M68 189.3h0M104.9 231.1h0M107.2 190.6h0M119.3 214.8h0M68 210.5h0M83.4 208.5h0M88.8 218.9h0M109.4 194.1h0M99.8 187.2h0M104.3 221.4h0M110.2 224.4h0M66.7 186.9h0M86.2 209.4h0M62.6 210.6h0M131.1 235.6h0M60.5 200.5h0M63.7 179.2h0M123.3 232.9h0M137.3 233.8h0M54.3 186h0M84.2 186.8h0M65.7 194.5h0M70 196.1h0M105.4 221.3h0M83 180.1h0M112.1 197.8h0M126.5 224.3h0M114.2 210.6h0M109.3 196.8h0M119.7 229h0M128.4 224.4h0M69.4 180.9h0M77.5 209.2h0M103.7 189h0M110.2 229h0M64.2 189.7h0M112.4 219.5h0M102.5 213.5h0M115.7 209.3h0M115.4 214.6h0M102.1 232.1h0M110.7 218h0M89.5 221.8h0M94 223h0M102 180.5h0M125.9 235.4h0M86.6 179.4h0M106.2 201.6h0M120.8 217h0M102.6 188.9h0M84 186.8h0M98.5 191.4h0M54.2 197.1h0M110.9 203.3h0M59.9 194.6h0M122.3 229h0M89.1 202.6h0M78 191.8h0M99.1 212.1h0M65.9 185.5h0M69.1 213h0M91.2 179.1h0M89.4 223.9h0M73.4 186.4h0M53.4 192.5h0M92.4 186.6h0M103.6 209.6h0M72 186.5h0M108 223h0M99.1 213h0M57.9 194.1h0M113 204.7h0M98.8 199.8h0M114.3 210.5h0M107.5 201.3h0M74 211.4h0M53.9 182h0M86 222.3h0M84.4 187.1h0M68.7 180.5h0M69.4 187h0M109.6 219.1h0M67.2 212.4h0M112.6 212.3h0M99.2 208.1h0M66.5 213.8h0M78.1 193.4h0M107.9 208.2h0M65 180.5h0M116.3 229.6h0M81.2 181.2h0M100.1 230.2h0M95 196.3h0M64.6 197.7h0M114.2 220.5h0M109.4 233.3h0M115 234.7h0M73.8 216.6h0M51.2 185.1h0M129 233h0M89.9 230.3h0M73.1 179.3h0M67.8 201.5h0M90.8 188.3h0M113.3 220.4h0M112.7 224.7h0M98.1 200h0M114.8 209.9h0M56 192.9h0M89.5 209.8h0M132.5 236h0M96.1 226.3h0M80.3 202.1h0M57.9 186.5h0M85.4 226.7h0M86.8 199.1h0M83.7 190.3h0M97.6 183.8h0M93.1 179.6h0M91.7 210.1h0M89.8 222.2h0M85.8 178.6h0M88.9 207.6h0M101.9 219.2h0M63 195.1h0M66.3 206.7h0M64.8 198.1h0M57.3 186.2h0M88.3 199.6h0M111.8 215.5h0M91.6 194.5h0M86.8 181.8h0M131.4 229.7h0M62.9 211.7h0M82.3 193.5h0M86 211h0M109.3 212.5h0M65.4 206h0M97.8 225.4h0M68.7 193.5h0M87.8 179.8h0M82 201.2h0M122.2 232.1h0M97.2 197.3h0M103.7 217h0M91.2 183.4h0M71.1 193.8h0M74.6 208.3h0M95.6 202.3h0M111.2 199.3h0M101.5 188.2h0M107.6 207.3h0M92.6 194h0M97.4 186.6h0M122.8 236h0M73.5 211.5h0M91.8 200.8h0M64.7 199.3h0M73.5 210.4h0M120.1 232.6h0M79.1 214.8h0M98.9 196.7h0M122.1 226.7h0M92.7 183.6h0M68.3 205.1h0M64 191h0M70 196.2h0M103.2 200.8h0M57.2 182.8h0M88.7 221.6h0M104.6 200.4h0M93.2 224.6h0M82.3 219.5h0M67.1 196.5h0M70.9 195.2h0M103.2 205.7h0M112.2 204.7h0M83.8 198.4h0M56.2 193h0M125.8 235.8h0M89.7 195.3h0M69.1 196.4h0M69.3 183.4h0M64.4 185.3h0M118 220.7h0M53.2 186h0M73.7 192.5h0M58.1 192.6h0M82.7 178h0M121.5 218h0M97.8 201.8h0M136.5 233.7h0M103.7 220.4h0M117.2 208.9h0M67 213.4h0M75.5 213.7h0M82.6 200h0M66.3 178.9h0M75.8 192.4h0M68.9 203.9h0M90.6 202.5h0M75.2 181.1h0M83.6 216.6h0M103 198.9h0M72.8 179.5h0M95.9 179.4h0M105.2 194.8h0M95.6 185.3h0M92.9 223.1h0M119.7 221h0M72.6 186.4h0M56.6 200.6h0M100.4 202.6h0M62 210.3h0M72.4 206.5h0M78.4 217.2h0M109.4 227.3h0M110.8 225.6h0M102.4 225.3h0M62.1 183.8h0M81.4 221.8h0M78.5 182.8h0M88.1 226.1h0M74.4 214h0M62.6 197.3h0M81.7 218.5h0M80.9 211.7h0M104.6 209h0M71.9 216h0M126.4 217.2h0M94.8 195.3h0M84.9 225.6h0M78 192.2h0M62.3 182.7h0M58.8 184.4h0M61.7 182.3h0M88.1 185.2h0M67.3 205.9h0M62.4 189.3h0M71.2 189h0M77.8 185.8h0M100.1 219.3h0M120.1 234.3h0M86.4 223.5h0M113.4 225.2h0M67.4 197.6h0M129.8 236.6h0M114.2 210.3h0M78.6 202h0M104 191.6h0M102.4 204.5h0M89.3 201.4h0M98.3 202.6h0M106.9 196.1h0M67.6 217h0M99.6 197.4h0M71.8 216.8h0M66.8 187.7h0M97.9 210.4h0M121.1 233.7h0M58.4 204.6h0M118.5 224h0M80.5 200.9h0M79.3 201h0M65.5 215.6h0M108.4 231.9h0M107.1 189.7h0M89.7 178.2h0M102.7 211.1h0M71.8 200.4h0M79.3 202.3h0M96.8 182.4h0M78.2 220h0M56.8 193.6h0M101.1 218.7h0M108.5 193.9h0M102.1 184.3h0M91.2 199.3h0M72.3 212.9h0M100.3 229.1h0M98.4 181.5h0M96.6 198.3h0M102.4 231.7h0M59.5 202.8h0M85.3 189.3h0M116.5 221.1h0M57.8 190.2h0M77.9 202.3h0M110.6 204.2h0M106.4 190.2h0M128 228.6h0M88.2 192.9h0M124.7 222.2h0M66.8 184.5h0M74.1 188.4h0M91.5 223h0M89.8 195.9h0M125.2 234.8h0M92.2 203.8h0M119.9 216.1h0M72.6 199.9h0M95.5 196.3h0M133.7 228.5h0M58 196.1h0M80.8 200.4h0M117.8 209.4h0M87.6 211.2h0M68.1 183.7h0M129.9 230.7h0M56.6 192.8h0M116.7 233.4h0M91.8 194.3h0M121.2 230.4h0M94.3 191.5h0M99.2 187.7h0M52.2 188.6h0M66.2 195.4h0M89.4 214.5h0M114.8 220.7h0M62.6 200.3h0M51.2 188.3h0M86.7 183h0M88 219.3h0M96.8 231.2h0M78.4 204.7h0M102.7 217h0M88.9 196.6h0M90.8 183.4h0M97.1 228.6h0M84.3 216.3h0M98 182.4h0M56.6 193.4h0M93.1 227.4h0M120.7 219.2h0M61.6 204.1h0M79.1 180h0M117.7 225.7h0M97.6 199.9h0M116.9 213.7h0M109.8 224.9h0M74.7 195.2h0M98.2 186.7h0M97.7 194.9h0M82.9 180.4h0M70.6 198.4h0M81.3 208.4h0M85.3 211.2h0M61.7 193.9h0M77.6 217h0M123.6 224.3h0M99.4 214.5h0M53.9 193.8h0M105.6 193.3h0M96.6 181.8h0M62.2 181.9h0M105 195.4h0M85.5 187.4h0M86.6 220.3h0M114.7 209.2h0M79.3 218.3h0M136.2 231.8h0M55.8 200.3h0M73.7 195.1h0M99.2 207.6h0M77 219.8h0M68.4 186.3h0M98.1 213.8h0M102.6 215.2h0M67.9 201.9h0M126.6 220.7h0M94.4 222.7h0M83.8 205.2h0M58.3 185.5h0M82.7 205.9h0M86.2 178.2h0M67.7 199.7h0M60.3 181.4h0M54.5 185.3h0M97.6 191.3h0M91.9 227.4h0M94.5 182.3h0M78.8 202.7h0M95.8 202h0M79 207.1h0M88.1 224.7h0M95.9 190h0M62.2 204.9h0M92.7 228h0M99.6 231.2h0M58.7 195.9h0M121 236.1h0M79.5 192h0M96.6 202h0M107.4 214.3h0M101.4 181.8h0M113.7 204.7h0M101.3 215.6h0M125.2 225.6h0M119.8 223.8h0M107.1 188.3h0M69 213.8h0M108.5 211.1h0M118.2 210.1h0M98.7 211.8h0M106 232.5h0M99.7 225.7h0M124.4 230.1h0M119.1 228.1h0M130.7 228.4h0M95.3 213.4h0M83.6 189.9h0M65.8 214.1h0M66 212.4h0M85.8 186.5h0M68.3 194.5h0M93.6 204.1h0M89.3 186.2h0M127.4 217.6h0M79.7 210.8h0M128.3 220.8h0M66.3 204.8h0M55.2 187.6h0M82.6 189.2h0M76.3 213h0M63.5 212.1h0M87.7 194.8h0M102.2 226.8h0M63.8 210.2h0M93.2 221.1h0M128.7 228h0M110.7 196.8h0M89.7 219.3h0M85.3 224h0M110.4 216.9h0M85.3 186.9h0M107.9 233.3h0M100.5 197.3h0M90 213.1h0M102.3 223.6h0M87.6 213.9h0M111.6 207.9h0M79.1 221.4h0M105.9 216.2h0M89.6 210.2h0M122.5 231.9h0M88.6 199.1h0M83.9 189.6h0M93.5 209.4h0M107.2 218.3h0M81.9 219h0M109 229.2h0M83.9 220.9h0M90 180.3h0M64.8 208.9h0M84.3 186.3h0M104.2 189h0M116 228h0M57.5 201.9h0M111 232h0M79.6 213.9h0M113.4 199.8h0M107.4 208.6h0M92.9 218.1h0M68.6 189.5h0M92.6 180.8h0M112.8 212.3h0M67.3 196.1h0M89.7 197.3h0M112.1 216h0M91.5 181.5h0M60.1 206.2h0M96.5 228.5h0M63 186.1h0M122.4 225.8h0M88.7 195.6h0M93.3 197.9h0M113.6 214.2h0M87.4 197.6h0M126.3 230.1h0M69.1 216.2h0M128.7 230.1h0M121.5 229.2h0M106.2 210.8h0M57.2 195.9h0M96.3 200.6h0M68.4 204.5h0M95.4 221.6h0M81.9 190.3h0M96.4 225.5h0M98 226.2h0M65.5 181.7h0M56.5 200.3h0M56.3 192.4h0M90.6 179.4h0M91.4 208.6h0M92.2 196.9h0M81.4 215h0M104.9 208.1h0M98.9 221h0M98.5 188.7h0M59.1 205.7h0M136 232.6h0M63.9 212h0M104.6 221.7h0M121.5 216.8h0M106.9 191.9h0M69.8 187.8h0M101.1 230.8h0M99.1 196.2h0M93 216h0M119.3 214.1h0M65.2 188.3h0M91.1 209.1h0M101.3 210.9h0M70.4 186.8h0M120.7 228.9h0M72.4 210.7h0M94.5 211.6h0M112.9 200h0M73.6 195.8h0M100.8 184.5h0M130.7 229.2h0M119.7 221.1h0M80 179.4h0M92 216.6h0M65.7 214.1h0M61.4 180.9h0M62 190.2h0M111.2 219.3h0M90.9 217h0M103.7 222h0M58.4 201.8h0M89.1 220.7h0M105.3 221.1h0M100.6 203.5h0M97.3 217h0M73.9 183.9h0M120.7 218.3h0M60.9 197.9h0M61.8 194.9h0M114.4 227.5h0M67.7 217.4h0M93.7 179h0M73.3 203h0M78.1 199.6h0M129.7 223.9h0M86.9 199.3h0M69.2 207.2h0M103.1 181.6h0M69 185.5h0M107.8 231.2h0M124.2 218.4h0M74.3 192.7h0M104.7 231.6h0M76.4 181.8h0M82.2 203.1h0M70.6 206.3h0M87.9 184.5h0M118.8 225h0M131.9 224.8h0M56.3 187.6h0M109.7 204.4h0M90.6 189.5h0M89.7 192.5h0M69.1 182.7h0M96.8 194.3h0M100 188.7h0M96.6 199h0M87.5 193h0M85 226.5h0M88.4 193h0M84.2 226.6h0M101.8 209h0M112.4 206h0M87.2 196.3h0M102.2 222.6h0M71.2 179.2h0M101.9 210.1h0M117.7 228.6h0M72.8 178.2h0M104.2 207.6h0M123.6 232.8h0M106.8 216.2h0M83.2 210.8h0M85.8 200.5h0M67.9 194.9h0M92.2 193.7h0M64 197h0M91 208.4h0M97.7 188.1h0M53.1 187.3h0M89.3 186.6h0M137.8 234.8h0M97.5 214.9h0M133.4 230.8h0M89.5 229.9h0M100.5 204h0M88.3 178.7h0M91.5 183.5h0M109.7 228h0M80.6 220.1h0M120.7 224.6h0M80.6 180.6h0M107.1 188.4h0M99.4 197.7h0M107 188.7h0M74 214h0M76.7 181.8h0M99.6 184h0M117.9 226.7h0M97.9 185.4h0M100.8 224.6h0M104.5 229.9h0M101 203.1h0M53.8 195.7h0M117.6 220.8h0M117.5 213.4h0M71.4 210.8h0M75.8 186.5h0M57 196.8h0M65.8 195.1h0M100.2 201.7h0M71.8 209.8h0M115.1 229.1h0M98.7 183.7h0M120.4 227.5h0M104.7 209.8h0M84.4 214.5h0M56.3 198.1h0M76.8 216.9h0M104.5 220.6h0M83.1 219h0M67.1 196.5h0M95.3 193.3h0M107.9 195.8h0M96.8 212.2h0M75 200.2h0M99.2 203.7h0M72.1 178.8h0M76.6 203h0M120.1 228.4h0M86.5 219.3h0M84.5 197.7h0M65.2 188.3h0M111.8 206h0M118.3 214.2h0M97.1 208.5h0M91.7 208.5h0M88.9 224.4h0M72.2 187.7h0M96.6 191.5h0M92 191.5h0M102.2 200.8h0M81.9 193.6h0M76.5 185.3h0M87.5 196h0M108 198h0M89.2 223.4h0M110.8 214.6h0M119.2 223.1h0M99.1 200.4h0M113.7 216.6h0M83.6 192.6h0M78.3 215.5h0M104 224.8h0M114.2 207.7h0M105.4 191.5h0M126.9 228.9h0M84.5 206h0M131.3 227.7h0M87.3 226.7h0M97.2 199.3h0M103.5 190.8h0M61.5 204.9h0M108.8 229.6h0M87.2 212.6h0M101.2 185.8h0M73.2 204.5h0M82.7 180.1h0M115.1 213.3h0M83.1 192.9h0M131.2 227.1h0M102.5 187.6h0M95.4 180.9h0M94.7 215.3h0M99.3 225.3h0M83.5 178.7h0M107.8 215.8h0M95 180.8h0M86.7 222.3h0M107 189.5h0M124.5 224.6h0M85.2 188.8h0M123 233.7h0M102.1 203.8h0M109.5 202.9h0M97.8 183.9h0M119.1 222.9h0M98.4 195.4h0M97.2 211.5h0M97.7 210.9h0M96.7 218.2h0M87.4 199.4h0M100.4 230.9h0M101.1 227h0M134.8 230.9h0M60.8 182.3h0M75.3 213.5h0M73.8 213.9h0M78.8 212.7h0M72.5 185.8h0M79.9 195.3h0M124.4 219.9h0M91.2 188.5h0M60.5 202.8h0M82.3 206.4h0M80.3 211.2h0M55.9 189h0M129 221.9h0M123.2 224.8h0M100.4 189.8h0M120.2 211.1h0M91.1 213h0M95.3 186.3h0M122 225.8h0M54.5 193.2h0M80.4 211.1h0M68.4 188.8h0M120.1 221h0M96.2 230h0M96.8 201.9h0M98.2 180.3h0M121.4 215.2h0M85.3 186.1h0M78.7 204.3h0M73.5 181h0M105 198.8h0M84.5 190.2h0M103.2 230.5h0M82.1 191.8h0M55.7 188.5h0M55.6 186h0M100.1 229.4h0M62.5 202.6h0M106.3 214.4h0M113.2 212.8h0M105.7 231.7h0M81 222.8h0M82.4 211.5h0M81.2 182.2h0M101.1 216h0M98.3 220.3h0M70.2 206.3h0M108.9 211.6h0M82.5 191.3h0M62.5 197.4h0M106.2 226.9h0M67.6 200.4h0M64.9 181.6h0M110.3 199h0M95 192.3h0M84.1 191h0M102.6 203h0M70.1 217.6h0M121.4 230.2h0M82 208.7h0M90.5 205.3h0M88.9 183.4h0M98.7 188.7h0M121.2 220.8h0M111.1 211.4h0M67.5 199.9h0M76.8 222.2h0M91.3 219.5h0M99.2 180.6h0M103.6 190.7h0M52.9 183.7h0M63 181.2h0M104.6 209.7h0M71.2 194.4h0M73.6 190.5h0M116.9 209h0M81.1 213.5h0M51.3 190.3h0M68.1 185.7h0M93.8 228.2h0M56.6 197.8h0M71.3 189.6h0M60.1 182.2h0M111.1 221.8h0M96.8 185h0M116.3 226.4h0M83.6 187.6h0M125.4 231.5h0M117.3 230.6h0M112.4 232.9h0M95.1 201.2h0M75.9 194.9h0M71.4 216.7h0M111 213.7h0M68.7 202.6h0M107.5 200.2h0M59.9 188h0M75.2 186.7h0M85.8 186.1h0M72.5 186.9h0M116.1 232.9h0M66.5 198h0M81.6 181.4h0M68.7 193.4h0M123 225.7h0M85.3 200.1h0M72.7 197.5h0M70.1 199.9h0M53.8 190.3h0M55.3 198.3h0M97.3 231.6h0M76.2 183.2h0M118 213.2h0M84.5 227.8h0M60.6 199.7h0M75.7 196.7h0M100.1 191h0M97.1 218.5h0M59.1 199.7h0M73.8 187.2h0M131.3 225.1h0M125.7 216.4h0M107.1 187.7h0M84.8 197.1h0M122.9 233h0M107.7 216.8h0M64.4 185.6h0M96.7 215h0M66.3 189.7h0M103.3 189h0M126.7 224.3h0M108.7 190.6h0M96 213.9h0M81.5 205.9h0M130.3 227.1h0M68.7 191.4h0M91.2 183.4h0M65.2 213.8h0M62.3 183.9h0M135.6 235.8h0M106.2 188.8h0M127 217.3h0M88 219.7h0M127.1 224h0M77.8 222.5h0M106.4 222.5h0M100.1 220.3h0M111.1 228.8h0M82.7 226.4h0M108.4 231.1h0M130.5 224.6h0M107.6 209.4h0M110.9 207h0M69.7 206.6h0M108.1 197.1h0M108.7 191h0M91.6 199.6h0M115.2 224.7h0M77.3 211.6h0M81.9 203.3h0M102.5 190.5h0M98.3 199.1h0M60.6 193h0M105.3 216.5h0M100.6 222.4h0M96.9 216.2h0M100.1 208.9h0M63.2 206.9h0M108 217.8h0M91.7 210.1h0M125.3 233.2h0M76.4 184.8h0M109.8 224.4h0M64.7 185.4h0M59.1 182.1h0M92.2 219.9h0M86.7 211.1h0M76.4 217.3h0M84.9 211.8h0M132.9 230.2h0M80 218.7h0M85.4 198.8h0M91.3 180.2h0M88.6 184.5h0M102.6 220.4h0M80.2 187.5h0M86 190.2h0M104.5 232.1h0M99.5 211.6h0M86.1 203.6h0M78.4 193.4h0M76.3 193.2h0M102.2 222.4h0M112.9 228.6h0M96.4 217.9h0M99.6 186.6h0M78.2 202.8h0M97.1 223.5h0M70.9 184.1h0M65.7 215.2h0M82.1 205.9h0M70.5 180.5h0M100.1 226.6h0M96.6 213.1h0M72 199.3h0M71.9 197.3h0M55.8 191.1h0M65.9 205h0M85.4 216.7h0M69.3 204.6h0M84.5 226.5h0M113.4 230.9h0M109 206.8h0M124.8 233.9h0M123 214h0M84 188.7h0M115.1 222.5h0M105.4 191.8h0M69.1 190.9h0M91.1 182h0M109.7 203.2h0M53.2 194.4h0M63.9 191.6h0M118.8 226.1h0M132.4 224.8h0M89.8 187.6h0M90.6 223.8h0M111.6 196.9h0M53.9 187.2h0M83.4 222.7h0M71.4 207.9h0M55 189h0M55.9 180.8h0M98.9 225.6h0M126.7 228.9h0M111.8 225.1h0M103 198.8h0M105 192.9h0M103 221.4h0M58.1 184h0M71 210.9h0M61.8 184.7h0M110.5 218.4h0M78.4 194h0M104.5 200.3h0M93.7 214.8h0M115.3 206.7h0M112.8 189.8h0M123.3 204.1h0M107.7 192h0M107.7 193.3h0M124.7 196.9h0M117.4 210.2h0M125.4 207.9h0M123 203.2h0M109.3 184.5h0M128.7 212.8h0M113.1 203.4h0M112.6 192.8h0M127.1 220.3h0M126.2 212.6h0M112.2 187.6h0M125.2 198.3h0M105.3 187.7h0M120.6 216.2h0M132 211.4h0M109 196.6h0M113.1 187.5h0M125 219.3h0M127.1 212.2h0M117 202.4h0M115.6 211.4h0M131.3 211.5h0M117.8 209.7h0M122.5 195.5h0M126.9 206.1h0M116.8 197.2h0M129.5 207h0M112.3 207.8h0M115.4 196.1h0M121.4 217.4h0M113.1 205.3h0M116.8 192.5h0M122.2 200.3h0M120.2 205h0M117.3 192.1h0M127.1 202.4h0M128 216.8h0M115.3 192.2h0M118 208h0M110.3 186.3h0M127.4 218.4h0M125.3 211.9h0M121.4 216.5h0M108.9 198.4h0M116.4 203.9h0M117.9 210.3h0M115.8 207h0M121.9 198.3h0M112.8 197.9h0M121.9 193.9h0M122.7 207.7h0M121.5 205.2h0M110.2 189.5h0M109.8 187h0M122.8 206.6h0M119.6 202.9h0M113.7 193.5h0M113.7 209.9h0M113.2 195.5h0M122.8 195h0M116.6 202.2h0M114 192.6h0M109.3 194h0M106.9 189.1h0M127.4 208.9h0M117.7 202.5h0M108.6 198.7h0M116.2 200.1h0M125.8 198.6h0M112.6 188.8h0M113.6 205.6h0M127.5 209h0M119.5 203.3h0M120.9 202.3h0M131.9 209.8h0M124.8 202.7h0M108.3 192.4h0M132.1 212.6h0M126.3 217.8h0M125.5 204.5h0M120.4 216.8h0M126 215.4h0M131.7 214.1h0M119.2 196.4h0M118.6 211.6h0M106.5 183.4h0M120.9 217.3h0M127.6 207.6h0M120.9 195.6h0M118.6 211.5h0M117.4 211.5h0M110.5 204.5h0M112.5 207.1h0M104.3 182.5h0M112.3 210h0M124.8 206.3h0M117 190.3h0M129.7 214.5h0M115.2 208.5h0M116.1 212.2h0M112.1 201.9h0M124.8 197.3h0M123.7 203h0M122.6 208.4h0M119.4 204.3h0M127.6 218.9h0M118.4 190.9h0M122.4 209.1h0M122 199.1h0M128.8 212.2h0M118.2 199h0M127 212.2h0M118.3 203h0M126.2 220.4h0M110.3 197h0M121.8 206.2h0M108.8 185.4h0M111.2 187h0M124.4 215.2h0M129 207h0M118 205.9h0M126.3 202.8h0M121.2 210.9h0M126.1 221.3h0M118.4 192.5h0M109 196.1h0M115.4 209.2h0M117.4 205.4h0M117.3 205.8h0M123.3 200.8h0M127.4 217.9h0M125.7 219.3h0M109.5 187.7h0M128.4 210.2h0M114.1 202.7h0M128 202.7h0M121.8 202.5h0M118.5 191.3h0M115.5 211h0M131.9 212.3h0M109.1 193.7h0M119.8 201.4h0M115.7 191.5h0M109.5 189.1h0M115.5 190h0M126.3 206.4h0M131.9 211.2h0M119.5 212.5h0M125.9 205.9h0M119.8 210.8h0M120 200.2h0M119 208.7h0M112.9 207.8h0M114.5 190.9h0M126.5 220.4h0M110.8 204.4h0M126.8 220.7h0M119.5 201h0M111.1 193.6h0M113.3 203.1h0M123.6 217.5h0M119.2 199.2h0M125.4 211.3h0M125.8 218.9h0M116.3 211.6h0M125.5 220.8h0M108.5 186.1h0M118.5 211.2h0M110.3 203.5h0M118.2 197.2h0M132.1 211.8h0M129.3 209.6h0M113.9 209.3h0M123.5 204.3h0M118.8 201h0M112.3 186.1h0M129.8 214.1h0M112.5 197.6h0M116.4 190.6h0M114 195h0M125 200.7h0M120.1 202.3h0M129.8 213.9h0M112.6 207.6h0M115.4 193.1h0" fill="none" stroke-linecap="round"/>
<path id="a_MDP" d="M140.7 186.3h0M131.4 206.2h0M120.4 166.2h0M129.7 199.6h0M120.1 194.6h0M133.6 165.6h0M129.4 192.7h0M102.2 186.9h0M127.9 204.8h0M135.3 177.4h0M108.9 183.2h0M122.8 197.4h0M139.7 189.6h0M136 187.7h0M129.7 165.9h0M138.4 195.9h0M110.8 186h0M108.5 178h0M130.8 179.4h0M137.3 186.5h0M128 195.5h0M135.4 180.7h0M142.7 191.9h0M111.2 195.3h0M134.4 196.2h0M118.8 196.6h0M136.5 208.5h0M132.2 206.5h0M138.5 203.6h0M130.2 196.8h0M137.2 190.6h0M136.8 186.7h0M135 176.8h0M106.3 179.5h0M123.7 180.6h0M140.2 205.7h0M123.6 165h0M135.3 206.7h0M121.1 203.5h0M113.8 173.1h0M132 208.5h0M123.5 164h0M121.2 202.8h0M104.2 179.2h0M134.9 184.5h0M118.7 199.1h0M133.2 182.4h0M106.1 179h0M135.6 184.6h0M134.6 200h0M142.8 199.9h0M131.1 171.5h0M113.2 172.1h0M136.1 186.7h0M119.7 169.6h0M124.2 177.6h0M138.4 169.9h0M117.9 173.3h0M128.1 180h0M120.6 163.6h0M108.9 177.9h0M141.6 181.2h0M105.9 192h0M126.1 181.5h0M139.5 187.7h0M129.2 169.3h0M133.5 201.2h0M133.2 185.1h0M118.4 173.6h0M108.2 194.8h0M119.4 199h0M137.9 186.5h0M111 183.1h0M135.7 187.9h0M107.8 171.1h0M136 184.1h0M117.4 189.3h0M107.6 165.5h0M124.5 189.1h0M142.1 174.1h0M137.3 183.9h0M119.2 201.3h0M112.5 170.5h0M116.2 171.9h0M134.8 168.5h0M132.5 177.2h0M137.9 192.6h0M105.1 180.5h0M124.2 182.7h0M118.5 182.2h0M125.2 161.2h0M121.7 188.9h0M142.7 199.9h0M136.3 191.5h0M140.6 206.8h0M124.6 161.8h0M138.6 178.5h0M107.2 178.9h0M109.7 177.9h0M130.9 207.6h0M117.4 186.7h0M124.1 196.8h0M108.3 168.6h0M116.9 168.7h0M114.9 199.6h0M127.7 166.5h0M133.9 199.9h0M133.5 199.8h0M139 192.4h0M110.4 186.3h0M120.7 176.4h0M116.5 191.6h0M104.2 167h0M103.3 172.1h0M136.8 174.5h0M110.8 165.5h0M130.2 207.2h0M119.3 200.6h0M122.9 174.2h0M137 178.8h0M111.6 198.1h0M125 165.6h0M136.2 187.4h0M139.4 184.4h0M116.1 199.3h0M106.6 165h0M141.7 176h0M135.7 170.5h0M110.1 169h0M124 178.8h0M126.6 163h0M113.8 183.2h0M107.2 176.2h0M107.3 168.4h0M115.1 200h0M137.9 194.2h0M140.7 202h0M111.8 175.2h0M128.2 180.9h0M119.1 167.1h0M141.4 179.1h0M110 164h0M103.6 171.6h0M108.6 192.8h0M112.8 184.6h0M125.5 180.3h0M120.9 162h0M132.2 204h0M116.8 171.6h0M124.6 172.1h0M111.7 164.8h0M128.3 205.4h0M108.5 181.7h0M140.3 192.7h0M104 183.1h0M108.6 165.3h0M108.5 169.5h0M138.5 187.7h0M109 173.3h0M126.8 162.4h0M118.4 163.7h0M114.6 187.1h0M121.3 192.6h0M112.3 171.6h0M121.3 171.6h0M133.6 202.2h0M116.7 173.5h0M137.6 201h0M105.9 189.6h0M129.6 169.2h0M131.6 174.1h0M114.6 186.5h0M138.1 185.5h0M107.5 180.7h0M113.8 191.3h0M134.3 190.8h0M122.9 173.9h0M127.3 199.1h0M122.5 174.6h0M117 179.9h0M137.8 173.6h0M120.1 196h0M128.3 206.8h0M114.4 197h0M136 180.4h0M109.9 199.5h0M115.9 183.7h0M123.3 182.3h0M127 193.6h0M112.4 200.3h0M126.2 196.3h0M127.1 187.8h0M110.3 188.8h0M123.1 189h0M117.5 180.5h0M128.4 178.5h0M124.7 196.1h0M109.8 186.8h0M110.7 178.7h0M125.3 196.2h0M126.2 193.8h0M124 181h0M113.3 194.6h0M130.5 196.3h0M111.5 195.4h0M123.9 197.6h0M116.3 187.1h0M109.8 194.9h0M111.4 196.3h0M117.5 201.7h0M126.1 187.5h0M119.7 181.5h0M131.9 188h0M116.2 192.2h0M137 182.8h0M128.4 197.6h0M129.3 179.8h0M135.7 183.8h0M112.2 199.1h0M111.9 193.3h0M130.6 200h0M134.2 193.4h0M112.2 178.4h0M113.4 192.8h0M133.6 182.1h0M135.9 178.6h0M124.4 193.3h0M132.3 198.1h0M135.5 193.5h0M118.5 191.1h0M122.1 183.9h0M124.1 187.6h0M133 181.3h0M120 177.4h0M112.7 177.4h0M136.8 187.5h0M133.7 184h0M131.5 186.5h0M132 189.1h0M114 195.4h0M127.5 193.4h0M127.4 186.3h0M135.8 188.5h0M114.1 199.7h0M120.3 197.4h0M109 200h0M128.3 178.1h0M128.6 187.6h0M119.3 200.5h0M136.2 198.8h0M116.6 198.9h0M113.1 185.8h0M121.6 189.5h0M137 201h0M110.1 187.1h0M130.7 201.3h0M125.4 180.2h0M133.8 199.6h0M110.4 183.4h0M119.8 181.1h0M126.4 177.3h0M119.6 201.6h0M135.5 193.4h0M129.6 198.6h0" fill="none" stroke-linecap="round"/>
<path id="a_CDP" d="M157.7 166.6h0M154 151.8h0M171.4 144.4h0M158.3 147.8h0M152.5 142.1h0M166.1 174.5h0M162.4 167.9h0M170.5 167.7h0M167.6 161.3h0M156.8 146.5h0M159 145.8h0M163.9 143h0M156.3 156.4h0M170.8 163.4h0M154.6 155.7h0M156.6 145.3h0M142.9 164.8h0M152.6 141.5h0M156.8 164.1h0M179.6 153.6h0M138 161.7h0M161.5 143.6h0M156.3 148.6h0M147.7 147.6h0M154.6 160.8h0M146.5 156.5h0M178.1 156h0M165.8 157.9h0M158.8 153.5h0M159.7 153.7h0M149.9 167.7h0M146 166.9h0M164.8 150h0M156.6 158h0M159.1 147.4h0M168 142.4h0M176.1 160.6h0M177.6 163.6h0M158.9 146.5h0M151.6 165.9h0M143.5 148.3h0M167.2 145.8h0M147.8 171.6h0M153.9 142.5h0M161.4 142.5h0M139.4 166.2h0M172.6 170.6h0M140.7 155h0M149.4 150.9h0M152.4 147.7h0M161.3 155.5h0M140.8 152.3h0M155.6 141.3h0M146.5 166.6h0M168.5 151.4h0M171.9 161.6h0M140.1 155.7h0M140.3 154.8h0M147.9 145.7h0M159.6 157.1h0M151.9 155.4h0M171.4 155.2h0M152.2 156.6h0M163.1 150.6h0M159.1 145.3h0M163.4 146.2h0M169.3 157.6h0M155.5 162.5h0M139.2 164.4h0M152.1 142.8h0M150 170.3h0M140.3 152.5h0M178.3 151.1h0M149.2 159.5h0M167 162.4h0M172.9 168.4h0M152.7 172.2h0M165.5 146.4h0M156.8 152.3h0M148.2 156.2h0M147.6 172.1h0M153.4 174.2h0M143.1 169.8h0M157.2 142h0M154.3 165.5h0M138.1 158.9h0M153.5 153.5h0M145.8 143.7h0M149 156.9h0M167.7 154.2h0M158.1 161.7h0M173 155.6h0M149.2 172.9h0M143 152.6h0M146.1 165.1h0M145.2 167.9h0M155.8 167.3h0M163.5 161.3h0M161.8 156.6h0M142.7 170.4h0M161.8 158.2h0M140.1 161.4h0M148.8 168.5h0M155.2 163.2h0M142.6 147h0M164 142.7h0M142.4 161.7h0M157.7 151.6h0M147.7 164.8h0M158.2 173h0M164.9 152.9h0M165.7 145.6h0M176.1 156.9h0M165.7 163.4h0M153.9 163.5h0M176 158.7h0M153.1 167.1h0M135.6 155.3h0M136.4 154.6h0M162.3 147.1h0M148 163.7h0M155.8 168.3h0M153.7 156.1h0M146.1 155.8h0M160.4 150.6h0M163.7 148.5h0M144 162.1h0M165.3 167.9h0M137.6 162.6h0M153.7 162.2h0M161.5 169.8h0M171.9 168.9h0M144 145.7h0M161.2 173.2h0M138.6 166.9h0M164.4 173.8h0M166.2 147.6h0M142.9 162.3h0M141.4 155.3h0M157.2 158.7h0M139.9 157.2h0M163.9 143.1h0M178.7 151.4h0M167.3 161.7h0M148.1 167.9h0M158.7 172.3h0M160.1 169.7h0M165.2 149.7h0M162.6 174.1h0M153.2 154.8h0M167.7 165.6h0M146.8 159h0M177.6 152.6h0M150.5 158.8h0M153.8 141.2h0M153.1 160.1h0M165.4 153.9h0M150.2 152.7h0M146 168.7h0M155.7 151.7h0M173 148.3h0M172.5 170.5h0M152.8 142.6h0M157.6 155.8h0M170.7 153h0M162.1 160.2h0M162 172.4h0M143.8 165h0M171.8 161.7h0M172.7 153.1h0M146.4 148.6h0M148.6 142.5h0M168.7 154.6h0M160.4 158.9h0M144.2 150h0M136 149.4h0M175.9 162.6h0M148.4 142.5h0M168.2 164.9h0M158.5 157.6h0M148.2 159.5h0" fill="none" stroke-linecap="round"/>
<path id="a_CLP" d="M169.7 169.4h0M169.7 199.4h0M156.2 191.2h0M164.6 200.1h0M171.2 199h0M150.1 183.3h0M192 172.1h0M165.4 198.1h0M151 192.3h0M176.3 197.1h0M166.8 187.5h0M149.1 181.2h0M153.1 186.1h0M189.6 173.1h0M180.3 194.3h0M184.5 183.3h0M152.6 175h0M173.7 197.1h0M174.1 194.5h0M171.1 169.2h0M184.4 188.7h0M177.1 201.4h0M171.5 181.5h0M177.4 193.2h0M143.4 187h0M160.5 184.6h0M189.4 166.3h0M165.2 209h0M178.2 200.2h0M180.1 175.8h0M161.2 188h0M158 186.6h0M191.6 166.4h0M153.5 195.4h0M147.3 194.3h0M165.8 184.7h0M189.5 173.3h0M160.6 188.2h0M185.8 164.5h0M148.4 177.9h0M160.5 211.1h0M177.8 196.1h0M183.6 172h0M160.1 200.2h0M173.1 203.2h0M166.7 172h0M162.1 186h0M181.9 191.3h0M174.5 183.5h0M163.2 190.2h0M157.5 175.5h0M173.5 204.3h0M167.8 184.8h0M180.5 167.6h0M172.6 195.2h0M163.9 185h0M163.8 211.5h0M190.5 172.1h0M164.3 172.7h0M160.7 200.2h0M159 194.7h0M163.2 175.5h0M188.2 164.3h0M185.7 166.8h0M160.6 208.9h0M174.7 178.7h0M185.7 176.8h0M181.9 178.7h0M191.9 174.6h0M166.8 173.8h0M154.9 180.1h0M166.2 188.4h0M141.8 178.1h0M168.3 184.1h0M184.9 165.1h0M175.7 178h0M159.2 185.1h0M176.3 195.5h0M177.1 174h0M142.5 182.7h0M158.3 174.6h0M190.1 171.9h0M161.8 195.7h0M177.5 193.5h0M155.1 177.3h0M184.8 169.4h0M163.6 176h0M157.7 187.5h0M155.5 188.1h0M181.1 191.9h0M165 185.1h0M154.3 196.1h0M175.4 170.4h0M153.8 182.5h0M162.1 211.9h0M159.3 205.9h0M183 181.7h0M169.1 193.8h0M180.6 196.3h0M171.9 198h0M182.1 169.2h0M162.4 210h0M146.7 186.2h0M171.1 172.9h0M171.2 187.5h0M184.2 181.8h0M157.3 185.9h0M184.3 165.1h0M151.8 185.5h0M167.1 181.1h0M170.5 183.5h0M171.5 198.7h0M162.9 171.4h0M184.1 184.4h0M175.8 181.6h0M162.7 191.4h0M147 195h0M162.1 176.5h0M175.1 184.9h0M163.6 208.1h0M159.1 192.8h0M193.6 166.7h0M156 175.4h0M177.1 171.9h0M143.5 190.9h0M168.1 172.5h0M154.8 189.9h0M141.6 176h0M173.5 195.9h0M143.6 177.5h0M163.2 189.8h0M174.1 174.1h0M144.3 177.9h0M184.3 166.2h0M145.8 187.3h0M169.6 203.6h0M170.3 206.1h0M148.5 186.7h0M167.2 188h0M157.2 183.7h0M168.5 193.6h0M172.8 176.2h0M191.6 172.5h0M173.8 184h0M162.4 182.5h0M168.3 177.5h0M148.6 180.3h0M166.7 189.8h0M156.2 188.9h0M164.4 193h0M195 162.6h0M191.4 172h0M168.8 208h0M151.1 194.8h0M149.6 182.4h0M160.9 180.4h0M185.7 182.7h0M185.2 166.3h0M148.7 186h0M160.3 203h0M153.6 190.3h0M171.6 176h0M166.9 206.9h0M160.7 193.1h0M155.7 193.1h0M161.5 202.4h0M150.1 195.1h0M173.9 185.6h0M142.3 176.9h0M159.1 177h0M182.9 166.1h0M145.7 188h0M171.8 198.6h0M171 175.7h0M174.2 183.8h0M178.9 180h0M174.4 189.8h0M159.2 185.4h0M145.6 177.9h0M173.3 190.2h0M156.4 186.4h0M174.8 194.9h0M168.4 209.2h0M150.6 177h0M180 177.3h0M159.8 210.9h0M146.9 189.3h0M150 185h0M183 172.7h0M148.7 181.5h0M179 192.8h0M146.5 176.7h0M165.2 175h0M171.4 190.6h0M182.8 183.6h0M166.1 185.4h0M164.9 183.5h0M167 201.9h0M173.5 181.5h0M165.5 185.9h0M163.1 191.9h0M166.9 193.5h0M173.2 192.9h0M176.9 177h0M169.9 173.8h0M168.5 188.7h0M170.5 206.9h0M178.7 192h0M182.7 178.6h0M174.3 172.9h0M168.7 197.9h0M172.2 199.7h0M168.8 198.8h0M171.8 186h0M163.3 176.7h0M182.6 185.9h0M180 176.1h0M178.1 182.2h0M178.6 172.3h0M162.6 193.9h0M171.8 182.7h0M166.6 188.5h0M175.5 172.7h0M180.8 189.6h0M163.9 180.9h0M162.7 198.4h0M174.4 204.5h0M167.6 196.5h0M173.6 184.4h0M178.4 173.9h0M166.6 196h0M175.1 203.5h0M166.8 189.9h0M165.8 186.3h0M177.5 181.9h0M168 186.8h0M171.5 174.9h0M169.5 190.3h0M164.5 201.1h0M171.7 174.8h0M171.6 188.7h0M167.3 182.1h0M172.1 199.5h0M163.7 191.9h0M166.3 199.9h0M170.6 202.8h0M177.1 187.4h0M176.9 190.1h0M167.6 186.9h0M175 196.7h0M178.5 185h0M166.5 193.9h0M180.6 186.2h0M182.5 197.4h0M173.6 180.2h0M167.8 206.7h0M166.7 198.6h0M172.4 191.9h0M174.4 185.4h0M176.7 196.5h0M181.6 194.3h0M182.2 192.8h0M168.4 197.2h0M181.9 175.5h0M179.6 173.6h0M169.6 184.9h0M180.1 190.2h0M178.3 172.3h0M167 189.9h0M176.7 197.7h0M168.5 180.3h0M171.3 204h0M177.8 201.7h0M176.6 173.9h0M167 181.8h0" fill="none" stroke-linecap="round"/>
<path id="a_HSC" d="M151.1 221.1h0M148.6 219h0M156.4 224.5h0M157.8 233.7h0M158.1 225.7h0M151.1 225.1h0M153.2 240.6h0M151.3 234.4h0M158.8 242h0M153.8 225.1h0M137.2 223.1h0M140.6 218.5h0M160.7 228.5h0M146.2 234.2h0M157.3 229.6h0M161.4 222h0M160.1 225.4h0M156 218.7h0M164.7 223.2h0M151.8 230.6h0M155.7 238.2h0M164.8 228.1h0M156.2 244.2h0M158.6 219.6h0M157.1 227.7h0M168 222.3h0M163.7 235.4h0M149.3 237.9h0M161.2 243.5h0M157.2 231.3h0M145.8 236.1h0M160.8 224.4h0M142.7 232.2h0M142.2 214.3h0M153.5 238h0M149.6 218.3h0M165.9 221.6h0M135.1 211.6h0M166 225h0M139.2 221.2h0M153.1 227h0M141.1 218.3h0M150.7 224.8h0M163.8 234.9h0M147.5 214.6h0M143.3 229.6h0M162.2 235.3h0M161.4 221.2h0M152.7 221.9h0M146.7 233.9h0M164.8 235.6h0M146 236.2h0M132.9 211h0M148.3 213.4h0M154.2 215.9h0M155.1 217.8h0M158.3 233.2h0M150.9 240h0M160.3 220.6h0M157.9 218.8h0M154.4 232.6h0M159.3 222.6h0M159.1 224.5h0M145.1 212.4h0M138 215.1h0M158.6 246h0M142.5 231.3h0M143.8 232.8h0M137.3 221.3h0M150.3 220.3h0M167.9 229.3h0M167.2 220.1h0M146.2 227.4h0M144.8 212.5h0M164.6 222.8h0M144.7 226.7h0M136.9 216.5h0M146.7 233.6h0M163.8 224.6h0M136.7 219h0M146.1 236.1h0M158.1 230.9h0M149.3 239.3h0M167.9 223h0M160.9 227.9h0M161.4 222.8h0M144 211.5h0M162.7 222.5h0M141.6 216.6h0M144.9 229.9h0M137.6 224.9h0M148 224h0M162.3 227.1h0M154.6 218.3h0M156.2 238.5h0M141 218.3h0M147.8 231.8h0M151.8 222.6h0M161.5 221.2h0M138.1 219.3h0M157.9 226.1h0M135.7 210.5h0M157 217.9h0M161.7 236.7h0M153.3 219.5h0M146.7 216.1h0M141.5 230.1h0M135.7 211h0M140 216.4h0M162.7 232.9h0M143.8 212h0M166.5 222.1h0M160.1 217.4h0M147.3 216.6h0M136.8 212.3h0M160.3 218.8h0M156.3 224h0M144.2 211.8h0M167.2 220.9h0M144 232.5h0M162.9 229.3h0M167.8 220.8h0M146.7 223h0M137 215.7h0M135.6 218.8h0M160.6 225.9h0M158.7 220.2h0M142.3 218.9h0M151.3 236h0M134.7 210.5h0M149.8 213.5h0M137.6 213.3h0M140.8 230.7h0M143.7 217.3h0M151 226.2h0M155 236.8h0M138.9 218.7h0M140.7 227.9h0M143.2 222.2h0M154 228.2h0M141.8 232.1h0M157.3 220.4h0M161.4 229.7h0M136.5 215.6h0M140.8 223.3h0M143.3 214.7h0M151.8 229.9h0M164.9 234.7h0M158.9 233.3h0M163.4 218.1h0M167.1 227.3h0M159.9 231.6h0M149.9 227.4h0M166.1 226.4h0M161.6 234.6h0M143.7 215.9h0M160.1 232.8h0M143 218.9h0M146.5 221.9h0M154.2 226.3h0M150.5 224.9h0M147.6 231.3h0M148.2 217.4h0M145.3 216.9h0M137.8 214.3h0M142.4 223.5h0M142.8 223.9h0M150.2 216.8h0M161 235.1h0M156.9 223.3h0M141 221h0M152.4 238.8h0M149.9 232h0M160.5 231h0M158.3 245.2h0M155.9 227.4h0M144 217.5h0M159.7 235.2h0M136.4 215h0M151.8 226.1h0M144.2 226.1h0M163.1 227.2h0M154.8 232.8h0M135.5 213.7h0M168.9 222.6h0M152.5 229.4h0M157.5 245.6h0M168.7 223h0M154.6 217.3h0M163.8 236.1h0M150.4 225.3h0M157.7 225.1h0M154.8 229.1h0M143.3 232h0M149.5 215.2h0M142.7 228.7h0M153.7 238h0M161 243.1h0M154.2 237.3h0M141.1 227.9h0M158.3 224.5h0M157.9 224.1h0M141.4 218.9h0M158.9 230.2h0M160.9 232h0M160.8 227h0M153.5 226.8h0M164.3 235.8h0M155.6 243.1h0M147.4 228.4h0M148.7 227.3h0M149.6 217.6h0M143.1 233.8h0M159.4 245.1h0M138.5 218h0M152.1 233.8h0M164.6 219.3h0M154.3 225.8h0M156.8 228.7h0M168.6 224.9h0M154.7 231h0M158.3 243.3h0M155.1 228.4h0M146 223.6h0M167 225.2h0M137.9 222.3h0M146 230.7h0M161.2 220.7h0M141.7 216.3h0M157.1 229.6h0M140.5 217h0M141.1 210.4h0M162.1 240h0M140.9 230.5h0M164.6 225.1h0M160.4 239.5h0M154.6 224.4h0M154.7 218.9h0M158.1 226.5h0M163.6 232.7h0M139.6 229h0M148.5 221.9h0M145.1 225.5h0M159.1 225.1h0M142.6 230.5h0M138.3 219.9h0M155.7 225.6h0M166.6 221.4h0M156 238.9h0M158.3 239.2h0M162.8 237.6h0M151.9 215.4h0M148.4 220.5h0M151 239.2h0M153.2 238h0M146.1 221.3h0M160.5 225.8h0M162.1 233.8h0M164.4 236h0M151.4 238h0M139.7 221.5h0" fill="none" stroke-linecap="round"/>
<path id="a_proDC3" d="M147.7 137.9h0M133.1 137.8h0M136.3 104.4h0M126.5 119.6h0M143.4 146.5h0M117.2 102.9h0M119.8 116h0M126.7 113.5h0M133.4 141.6h0M123.7 111.3h0M118.1 112h0M143.6 121h0M118.1 117.8h0M144.4 119.6h0M120.9 120.9h0M127.8 107.6h0M141.1 132h0M143.7 137.4h0M123.6 116h0M118.2 112.3h0M141.6 132.7h0M146.4 144.4h0M123.2 119.6h0M137 129.5h0M138.9 142.7h0M129.1 137.9h0M147 118.5h0M138.7 122.3h0M132.5 118.4h0M137.7 96.9h0M149.1 128.8h0M135 99.8h0M137.5 134.7h0M136.6 130.9h0M139.1 115h0M120.6 112.9h0M145.7 144.9h0M138.3 139.9h0M117.5 116h0M128.9 112.9h0M147.3 139.4h0M115 102.7h0M141.3 100.3h0M143.3 150.5h0M145.4 138.9h0M110.7 110.5h0M133.5 116.7h0M143.3 150.8h0M143.3 137.2h0M127.8 106.8h0M111.7 110h0M148 114h0M145.5 130.5h0M125.1 130.4h0M140.3 113.9h0M143.3 120.2h0M139.2 106.3h0M144 129.5h0M138.8 101.8h0M137 101.2h0M139.7 143.1h0M125 103.9h0M143.1 127.8h0M137.8 137.8h0M128.7 138.6h0M119.2 115h0M135 135.6h0M134.5 124.9h0M124 112.1h0M141.2 142.6h0M125.6 116.1h0M128 121.3h0M137.1 130h0M132.5 114.5h0M136.9 107.4h0M146.3 130.3h0M148.3 119.3h0M147 143.2h0M146.7 123h0M139.7 130.5h0M131.9 113.3h0M138.7 149.6h0M126.5 127.4h0M145.1 149.6h0M117 99.2h0M138.6 103.1h0M130.2 139.1h0M138.1 146.5h0M112.7 108.2h0M129.4 115.2h0M134.8 124.1h0M124.8 114.1h0M128.1 111.1h0M122.1 100.4h0M121.5 115.3h0M146.8 135.2h0M130.6 121.6h0M147 120h0M128.7 110.4h0M133.8 115.9h0M140.2 139.6h0M145.2 130.2h0M133.2 109.3h0M124.6 106.7h0M139.9 114.3h0M134.9 105.7h0M113.3 111.7h0M139.3 113.1h0M131.2 127.8h0M110.1 100.6h0M129.3 97.9h0M144.6 120.6h0M141.4 125.5h0M139.4 101.8h0M119 119.3h0M118.3 104.6h0M137.4 123.8h0M143.8 112.7h0M137.8 142h0M141.7 116.4h0M138.4 143.6h0M131.1 101h0M123.6 122.8h0M120.1 118.1h0M133.6 142.6h0M140.8 127.5h0M127.2 117h0M132 134.5h0M141.3 129.8h0M139.9 125h0M135.8 122.6h0M126.2 117.2h0M145.7 123h0M126.1 122.4h0M122.1 119h0M147.9 136.7h0M137.1 112.7h0M140.2 130.4h0M135.9 141.8h0M137.2 123.1h0M147.6 122.2h0M124.9 101.8h0M135.2 136.9h0M144.8 116.9h0M143.1 123.2h0M143 116.3h0M135.5 118.5h0M134.4 102.6h0M141.1 131.7h0M120.6 122h0M142.5 109.8h0M131.4 136h0M149.8 125h0M112.2 100.4h0M136.5 132.9h0M147.5 121.8h0M130.8 135.2h0M130.2 113.6h0M141.2 128.8h0M136.4 115.8h0M123 125.5h0M128.5 121.4h0M130.6 111.1h0M142.5 138.2h0M111.1 106.6h0M145.1 149.2h0M148.5 107h0M148.9 133.4h0M146.4 133.7h0M143.4 127.4h0M142 149h0M141.6 103.9h0M115 110.8h0M121.5 104.9h0M146.8 128.8h0M131 141.1h0M139.9 121.3h0M134.4 117.1h0M117 117h0M136.9 104.1h0M142.7 132h0M126 112.9h0M140.7 111.6h0M118.2 109.6h0M110.5 101.5h0M115.1 107.6h0M144.9 118.1h0M135.8 123.1h0M130.8 139.4h0M139.1 116.9h0M135.5 134.6h0M129 98.3h0M143.5 118.1h0M142.2 108.5h0M135.5 140.6h0M126 112.7h0M138.2 134.3h0M117.6 103.3h0M133 134.2h0M131.5 101.6h0M130.9 128.5h0M134.8 118.3h0M144.7 149.3h0M139.8 126.8h0M123.4 111.5h0M144.3 148h0M140.5 116.6h0M129.1 112.7h0M134.1 100.6h0M121.7 100.7h0M146.6 117.1h0M137 115.3h0M114.8 100.6h0M118.3 100.9h0M144.2 121.4h0M137.4 106.8h0M145.5 113h0M146.2 135.1h0M130.7 109h0M131.3 114h0M126.3 99.4h0M143.4 148.1h0M143.4 131.8h0" fill="none" stroke-linecap="round"/>
<path id="a_DC3" d="M128.3 76.8h0M145.2 79.1h0M130.4 96.2h0M145.9 95.3h0M147.5 95.4h0M147.3 96.7h0M133.8 73.5h0M135.7 79.2h0M130 92.3h0M125.7 81.6h0M142.1 92.7h0M139.9 77.7h0M137.4 80.5h0M147.1 81.4h0M143.3 82.2h0M125.1 82.3h0M134.7 83.2h0M125.5 76.7h0M126.7 92.4h0M134.8 90.1h0M124.8 86.6h0M141.2 75h0M140.1 97.9h0M133.4 80.3h0M131.6 86.1h0M145.1 88h0M137.5 94.8h0M137.5 93.4h0M140.6 92.9h0M131.9 79.3h0M140.8 83.4h0M143.4 98.5h0M135.9 97.1h0M145 89.9h0M135.6 85.7h0M135.7 90h0M130.3 82.8h0M144.6 86.3h0M135.6 70.6h0M122.3 85.8h0M143.6 89.7h0M143.4 84.7h0M129.5 84.9h0M133.9 96.2h0M143.9 93.4h0M133.6 90.4h0M129.5 94.8h0M137.6 93h0M137.8 98.2h0M142.4 76.5h0M125.2 84.6h0M140.2 83.8h0M136 74h0M131.9 87.1h0M143.4 80.6h0M142.9 99.1h0M141.1 75.9h0M140.6 81.2h0M124.9 82.9h0M139.7 83.3h0M130.3 94.3h0M139.1 74.8h0M139.6 85.5h0M149.4 91.8h0M129 75.7h0M140.5 80.3h0M148.8 85.6h0M135.8 80.1h0M140 87.1h0M141.1 89.2h0M140.4 91.6h0M142.7 84.5h0M129.1 74.6h0M133.8 88h0M144.6 91.5h0M149.3 90.4h0M133.3 97.3h0M140.7 85.7h0M129.5 94h0M138.8 89.1h0M150.8 89.4h0M133.9 82.5h0M145.4 93.9h0M131.9 95.9h0M138.4 87.2h0M133.6 95.9h0M130.3 83.5h0M147.1 91.2h0M128.7 82h0M138.7 88.7h0M128.2 87.2h0M129.6 95.6h0M135.5 90.8h0M135.9 78.3h0M148.8 90.4h0M130.1 84.3h0M140.6 86.2h0M128.5 80.4h0M128.7 74h0M132.3 80.7h0M148.8 94.5h0M123.2 87.8h0M146.2 95.7h0M128.2 94h0M136.1 85.5h0M147.2 94.7h0M140.1 96.2h0M142.5 95.7h0M129.6 77.4h0M134.3 92.3h0M125.8 79.4h0M132.9 94.3h0M134 83.4h0M134.1 97.4h0M140 65.9h0M139.9 66h0M138.1 64.5h0M138.8 57.6h0M137.1 60.6h0M139.9 58.3h0M140.1 65h0M137.8 64.9h0M135.7 63.3h0M138.1 67.9h0M137.5 70.3h0M138.7 71.8h0M139.1 62.2h0M138.1 63.3h0M140.9 62.1h0M136.8 57.7h0M135.7 61.6h0" fill="none" stroke-linecap="round"/>
<path id="a_preCDC1" d="M142.6 110.7h0M134.5 116.8h0M141 122.1h0M144 111.6h0M143.5 103.2h0M141.5 103.4h0M146.3 103.4h0M140.2 104.4h0M134.4 115.6h0M138.4 119h0M137.8 114h0M143.3 113.9h0M135.5 119.6h0M139.8 112.4h0M133.4 105.9h0M139.4 113.5h0M140.4 105.3h0M142.3 109.3h0M134.6 118.1h0M147.2 107.3h0M144.6 110.9h0M133.3 109.1h0M141.2 103.5h0M141.8 111.7h0M145.1 111.7h0M141.9 109.4h0M137.1 104.4h0M145.6 106.7h0M136.3 113h0M144.3 106.4h0M139.9 107.6h0M142.3 106.5h0M145.8 118.7h0M144.5 119.6h0M144.3 110h0M133.6 117.6h0M133.5 116.5h0M142.8 110.8h0M145.5 118.7h0M139.8 105.7h0M133.8 118.8h0M140.1 121.8h0M142.2 118.4h0M142.5 113.8h0M133.2 119.3h0M134.9 117.7h0M143 102h0M143.7 101.8h0M141.1 109.9h0M137.5 109.7h0M139.5 121.9h0M142.2 120.3h0M142.8 113.8h0M136.6 106.6h0M138.9 103.3h0M147.7 111h0M144.8 110.8h0M145 105.9h0M141.8 107.8h0M132.6 112.6h0M147 110.7h0M144.9 119.3h0M145.8 108.4h0M139.6 106h0M143.3 107.7h0M138.9 116.4h0M143.6 119h0M144.9 107.8h0M142 105h0M138.6 103.5h0M140.1 119.3h0" fill="none" stroke-linecap="round"/>
<path id="a_cDC1" d="M164.9 71h0M158.4 74h0M159.9 74.9h0M164.4 72.3h0M151.9 83.6h0M156.5 74.4h0M162.4 76.6h0M160.5 79.5h0M159.7 74.3h0M153.6 81.2h0M158.7 69.5h0M161.2 67.9h0M158.8 70.4h0M153.8 83.7h0M150.7 83h0M160 74.6h0M152.9 87.4h0M156.3 79.9h0M151.2 82.7h0M154.3 77.1h0M151.7 80.4h0M158.6 71.2h0M155.1 84.1h0M156 76.4h0M155.7 79.9h0M153.9 85.5h0M162.7 69.8h0M153.9 81.7h0M161.2 75.9h0M161.7 71.1h0" fill="none" stroke-linecap="round"/>
<path id="a_cDC2" d="M137.6 48.3h0M138.8 46h0M139 50.5h0M144.9 50.3h0M136 45.6h0M144 38.8h0M145.8 40.9h0M137.2 38.7h0M135.6 42.1h0M144.2 42.6h0M143.2 45.8h0M147.3 39.3h0M138.7 42.6h0M144.6 38.2h0M136.9 46.6h0M139.4 56.1h0M140.8 37.3h0M143 51.1h0M136.7 52.5h0M139.5 56h0M143.4 38.7h0M144.5 38.1h0M149 50h0M136.6 38.8h0M146.7 41.4h0M136.3 45.4h0M144.1 53.6h0M134.2 50h0M144.3 42.2h0M146.2 42.2h0M142.7 40.6h0M146.4 46.6h0M145.3 54.3h0M146.8 38.1h0M145.8 39.9h0M149.2 44.4h0M143 51h0M137.5 53.9h0M140 44.6h0M134.7 44h0M139.5 42h0M144 52.7h0M146.2 52h0M148.1 50.6h0M145.6 50.3h0M147.3 47.2h0M144.7 49h0M138.5 56.9h0M139.1 54.1h0M139.6 52h0M142.9 38.9h0M134.5 44.8h0M142.6 52.5h0M138.6 54.8h0M138.3 51.1h0M136.3 42.2h0M143.1 44.7h0M134.6 50h0M137 50.6h0M145.3 36.9h0M143.3 55.1h0M147 39.4h0M143.7 43.3h0M142.3 41h0M146.5 37.9h0M143.4 46.4h0M146.5 51.1h0M138.9 43.7h0M147.1 53.7h0M145.2 54.4h0M148.5 46.3h0M134.9 52h0M137.2 47.7h0M137.3 47.9h0M138.3 41.1h0M141.1 47.8h0M146.4 38h0M149.7 41.3h0M146.2 40.5h0M144 42.2h0M145.8 47.5h0M147.6 50.5h0M140.7 46.1h0M138.9 49.7h0M134.3 45.5h0M144.7 37.2h0M141.4 56.1h0M136.5 49.5h0M136.9 47.8h0M136.6 50.7h0M140.4 47.9h0M146.1 39.9h0M145.3 43.6h0M135.8 48.1h0M137.8 45.7h0M147.3 42.3h0M137.4 42.9h0M141.5 36.6h0M134.7 49h0M138.8 44.6h0M144.7 49.4h0M139.6 41.5h0M145.5 40.5h0M139.1 42.3h0M140.3 50.5h0M142 45.7h0M137.2 38h0M142 35.1h0M140.4 33h0M140.4 29h0M142.1 36.7h0M139.5 28.6h0M140.7 30.7h0M139 27h0M141.8 33.3h0M142.6 32.1h0M142.7 34h0M143.2 34.5h0M139.6 30.8h0M141.8 30.3h0M140.8 25.4h0" fill="none" stroke-linecap="round"/>
<path id="a_Ccr7" d="M138.9 16.9h0M136.4 11.5h0M140.8 21h0M137.9 18.2h0M137 15.7h0M137.9 20.1h0M138 22.3h0M138.2 16.2h0M139.9 13.4h0M138.3 21.4h0M138 11.3h0M138.8 11.5h0M140 21.1h0M137.7 20.5h0M139.8 24.4h0M140.9 19.2h0M139.1 12.1h0M136.2 21.2h0M138.1 23.9h0M138.4 19.4h0M138 17.8h0M139.5 13.7h0M139.7 9.8h0M137.4 13.6h0M139.8 23.9h0M139.8 11.8h0M140.5 16.6h0M139.7 19.5h0M137.3 12.7h0M139.3 20.9h0M136.2 13.5h0M140.5 22.6h0M138.2 21.5h0M136.6 16.1h0M140.3 20.9h0M139.8 16.2h0M137.4 21.3h0M138.2 18.6h0" fill="none" stroke-linecap="round"/>
<path id="a_preCDC2" d="M158.2 112.2h0M153.6 128.2h0M150.6 138.8h0M160 111.4h0M157.8 110h0M168.2 126.5h0M149.1 116.1h0M147.3 119.5h0M175.1 116h0M160.5 118.6h0M156.1 108.3h0M152.1 139.2h0M162.7 132.4h0M154.8 139.1h0M143.2 135.7h0M148.7 109.6h0M161.5 120.4h0M166.8 138.2h0M147.2 139.4h0M165.9 128.6h0M167.1 120.5h0M154.7 113.8h0M162.6 112h0M153.9 102.9h0M169.1 132.3h0M161.7 132.5h0M154.7 127.8h0M160.5 138h0M172.9 114.1h0M151.6 116.3h0M146.5 129.4h0M152.4 107.9h0M172.4 111.5h0M183.1 137.8h0M154.9 128.8h0M165.7 116.2h0M156.3 139.5h0M182.7 131.7h0M166.2 124.6h0M170.3 135.8h0M165.1 105h0M156.4 99.3h0M150.4 119.1h0M186.5 135.2h0M147.2 120.6h0M140.3 147.7h0M168.1 139.4h0M144 134.9h0M151.1 129.5h0M175.2 121.5h0M161.3 106.8h0M162.6 129.9h0M157 115.2h0M171.8 139.1h0M155.6 105.3h0M156.6 114.2h0M151.1 126.5h0M158 126.8h0M172.2 108.9h0M150.4 133.3h0M154.2 127.7h0M163.3 132.2h0M173 118.6h0M173.9 110.4h0M182 131.6h0M167.8 113.5h0M146.4 133.6h0M187.8 126.4h0M145.9 133.8h0M144.6 135.7h0M151.2 115.1h0M142.7 142.4h0M158.3 108.1h0M171.8 119.9h0M155.9 116.4h0M173 115.8h0M157.7 122.2h0M170.6 115.9h0M172.4 132.1h0M168.2 129.2h0M155 115.6h0M184.7 136.5h0M165 136.5h0M164.6 133.2h0M179.5 130.9h0M159.3 128.8h0M147.1 145.5h0M176.4 131.8h0M150 136.4h0M172.2 137.5h0M152.5 106h0M158.1 139.4h0M163.9 113.2h0M180.9 128h0M146.8 143.5h0M165.1 115.7h0M150.7 136.1h0M161.4 118.2h0M152 138.8h0M155.3 98.8h0M167.3 123.9h0M150.3 119.6h0M165.3 135.9h0M156.1 141.2h0M176.1 136.9h0M164.7 110.1h0M181.3 122.3h0M175.2 115.3h0M168.7 116.3h0M146.8 136.1h0M145.4 131.7h0M153.7 99.5h0M152.5 108h0M156.9 124.3h0M167.6 128.8h0M152.2 114.1h0M182 122.1h0M167.5 114.2h0M155.8 141.4h0M166 105.4h0M167.4 121.9h0M168.1 129.4h0M152 97.9h0M151.8 110h0M153.3 117h0M151.4 120.3h0M148.4 119.6h0M155.1 123.2h0M165.8 105.5h0M157 129.2h0M157.5 110.2h0M165 109.6h0M152.8 140.3h0M183.9 131.5h0M160.5 118.6h0M146.9 122.3h0" fill="none" stroke-linecap="round"/>
<path id="a_prepDC" d="M213.7 138.2h0M212.5 154.6h0M228.7 137.3h0M218.7 153.6h0M224.9 146.5h0M234.3 140.7h0M195.2 142.1h0M216.3 137.8h0M223.8 135.7h0M218.2 150.2h0M229.3 147h0M205.1 151.2h0M207.1 134.7h0M224.1 140.6h0M213.8 135.6h0M232.8 150.4h0M206.1 146.7h0M224.1 139.6h0M206.4 134.2h0M201.8 137.2h0M204.8 150.8h0M192.6 146h0M197.8 150.2h0M203.3 150.3h0M201.8 135.6h0M213.7 140.7h0M211.1 139.8h0M213 150.2h0M195.8 145h0M223.1 145.1h0M195.4 150.5h0M197.5 139.1h0M203.7 150.2h0M196.7 146.7h0M194.8 146.6h0M206 150.7h0M225.7 151.8h0M217.1 148.6h0M213.1 132.5h0M232.8 148.1h0M199.9 156.1h0M226.5 150.6h0M226.7 142h0M218.9 147.6h0M210.9 131.5h0M208.6 150.4h0M221.7 140.7h0M225 153.4h0M203.3 145h0M221 151.3h0M228.5 150.1h0M232.9 144.9h0M204.5 135.2h0M212 150.5h0M200.1 142.1h0M229.4 141.7h0M196.1 147.1h0M204.5 143.9h0M231.5 152.8h0M207.4 134.6h0M200.6 157.3h0M202 153.8h0M213.2 151.9h0M227 150.8h0M196 144.9h0M208.9 134.4h0M201.2 151.5h0M210.8 156.1h0M198 145.4h0M223 136h0M225.7 150.3h0M217 146.8h0M201.6 156.3h0M201.1 137.3h0M223.4 148.1h0M229.3 136.7h0M210.3 151.7h0M208.6 144.1h0M218.3 141.4h0M237 148h0M230.8 140.6h0M208.9 149h0M202.2 147.8h0M216 140.8h0M201.8 152.7h0M219.7 147.6h0M234 149.3h0M202 136.7h0M219.3 141.1h0M228.7 152h0M225.5 134.4h0M212.1 154.7h0M216.1 148.2h0M230.1 146.6h0M203.3 146.1h0M220.3 155h0M216.3 136h0M213.6 135.6h0M208.2 151.5h0M223.1 139h0M205.3 136.4h0M206.7 151.1h0M212 148.9h0M214.6 131.8h0M198.7 152.8h0M201.4 149.1h0M222.2 143.5h0M225.6 138.7h0M199.1 139.4h0M220.9 136.3h0M228.6 152.2h0M227.5 148.7h0M230.4 137.9h0M201.8 156.9h0M212.3 145.8h0M212.1 155.8h0M226 142.9h0M234.4 145.6h0M212.5 137.6h0M215.4 147.7h0M210.2 151.2h0M219.2 149.2h0M199.6 156.1h0M232.2 140.7h0M219.4 135.8h0M229.7 149.5h0M229.8 144.6h0M216 132.2h0M206.3 147.8h0M228.9 136.7h0M212.3 143.4h0M218.8 148.7h0M211.6 136h0M217.4 142h0M217.9 148.2h0M216 137h0M229.5 144.9h0M199.7 140.1h0M200.9 145h0M200.5 138.9h0M196.3 141.1h0M226.4 148.7h0M205.6 146.3h0M200.7 141.8h0M209.2 154.7h0M218.5 149.1h0M219.3 153.5h0M216.5 133.2h0M222.4 133.1h0M235.6 147.1h0M199.5 153.6h0M217.7 150.3h0M235 140.9h0M211.4 135.1h0M231.5 152.8h0M201.8 154.6h0M234.7 144.4h0M208 135.2h0M216.9 141.5h0M228.3 151h0M211.7 144.2h0M197.1 146h0M222.7 134.6h0M221.7 137.2h0M201 135.9h0M232.2 144.7h0M225.1 134.7h0M205.1 148.9h0M217.5 149.6h0M210.6 145.8h0M208.5 140.3h0M202 142.4h0M210.6 138.4h0M223.7 146h0M203.7 152.5h0M194 145.6h0M203.8 152.7h0M202.9 142.5h0M204.9 154.6h0M210.6 146.9h0M223.8 143.3h0M211.9 146.1h0M208 148.7h0M198.5 157.5h0M198.6 147.7h0M200.2 153.9h0M220.8 138.8h0M210 133.3h0M207.9 132.2h0M231.4 138.7h0M198.2 152.1h0M195.9 151.5h0M227.4 145.6h0M227.3 139.3h0M219.3 148h0M211 148.6h0M209 135.2h0M214.6 149.5h0M225 135h0M200.2 136.5h0M230.1 141.5h0M216 151.1h0M194.6 151.9h0M208.6 150.8h0M225.1 144.9h0M220.7 138.8h0M198.9 150.6h0M198.8 154.7h0M203.9 151.1h0M228.7 138.6h0M214.3 137h0M213.4 153.5h0M217 149.6h0M197.3 156.1h0M196.3 144.3h0M218.1 135.1h0M213.3 151.9h0M212 136.9h0M215.2 143.2h0M206.3 151.2h0M206.8 139.8h0M213.4 145.2h0M200.6 157h0M213.7 141.3h0M217.1 144.4h0M224 144.5h0M213.7 136.6h0M229.8 150.4h0M208.6 136.1h0M226.5 134.7h0M203.8 156.8h0M208.4 147h0M206.3 156.2h0M219.4 147.5h0M229.3 149.5h0M202.4 137.6h0M230.7 143.6h0M214.8 151h0M208.4 145.9h0M195.2 145.3h0M230.5 143.9h0M208.9 147h0M201.9 135.3h0M232.1 139.7h0M234.8 142.9h0M201.5 134.2h0M202 141.7h0M213.2 150.5h0M227.1 141.9h0M227.1 134.6h0M228.4 147.2h0M211.8 135.5h0M208.2 137.3h0M203.6 155.7h0M207.6 152.9h0M232.4 146.2h0M209.9 137.3h0M196.1 151.4h0M217.7 150.6h0M209.3 147.9h0M195.8 142.1h0M217.4 147.9h0M223.7 140.1h0M214.5 143.5h0M213.9 140.9h0M228.3 142.5h0M203.8 147.1h0M202.1 153h0M236.2 148.6h0M200.2 152.2h0M200.8 147.4h0M197.3 154.4h0M195.4 137h0M206.2 136h0M196 154.3h0M210.1 152.6h0M222.3 146.4h0M209.5 147.6h0M213.2 137.2h0M237 146.8h0M200.9 135.9h0M215.4 141.4h0M233.9 147.8h0M222.6 151.3h0M234.1 143h0M227.3 144.2h0M197.3 140.1h0M223.1 136.6h0M225.6 154h0M207.7 144.7h0M231.9 149.5h0M216.1 149.2h0M210.9 138.3h0M199.7 136.4h0M227.2 140.5h0M207.4 143h0M209.7 138h0M204.2 143h0M208.3 148h0M204.7 143h0M221.4 137.8h0M212.3 153h0M236.5 145.2h0M216.5 136.4h0M234.5 146.7h0M219.9 137.7h0M205.9 151h0M206.5 132.2h0M198.5 140.7h0M216.5 148.1h0M201.3 138.9h0M204.9 142.5h0M210.1 142.7h0M202 154.1h0M214.3 153.2h0M213.8 134h0" fill="none" stroke-linecap="round"/>
<path id="a_prepDC2" d="M179.6 177.8h0M182.9 178h0M190.7 158.9h0M182.3 176.7h0M184.1 177.5h0M184.6 174.5h0M193.4 154h0M188.5 162.6h0M191.7 156.6h0M181.2 178.1h0M187.1 163.5h0M188.3 161.6h0M186 167.3h0M181.8 179.4h0M181.3 177.6h0M194.6 160.1h0" fill="none" stroke-linecap="round"/>
<path id="a_pDC" d="M233.1 140.5h0M239.7 136.7h0M243.8 123.7h0M248.5 122.4h0M243.7 109.4h0M242.3 135h0M254.4 114.4h0M255.9 125h0M233.8 135.9h0M229.1 143.2h0M253.4 137.7h0M256.8 135.3h0M261.2 113.3h0M252.2 108.5h0M228.7 130.9h0M221.7 130.2h0M241.7 130.6h0M224.6 139.3h0M227.7 130.7h0M256.3 131.1h0M256.4 115.5h0M215.3 122.4h0M229.7 128h0M228.2 122.2h0M243.5 145h0M237.1 124.4h0M251.2 130.1h0M249.9 146.8h0M249.8 130h0M223.8 125.3h0M222.8 122h0M255.9 133.8h0M252.3 134.1h0M260.4 123.6h0M237.6 145.6h0M248.4 136.9h0M251.9 120.5h0M234.4 129.3h0M253.9 118.2h0M213.4 119.8h0M239.6 121h0M215.7 126.2h0M240.4 142.5h0M236.4 113.9h0M260.2 141.9h0M224.2 140h0M236.5 137.6h0M225.3 123.6h0M243.9 119.4h0M229.7 132h0M229.1 135h0M254.9 148.6h0M261.7 126.1h0M262.4 116.7h0M247.8 145.7h0M235.6 123.7h0M235.5 121.4h0M243.8 133.1h0M252 134.7h0M257 137.1h0M239.5 136.1h0M214.8 123.6h0M239.8 133.9h0M229.9 116.2h0M222.8 116.8h0M223.1 133.4h0M222.8 132.2h0M261.4 132.2h0M234.5 125.2h0M222.6 130.1h0M225.9 140.4h0M232.3 119.4h0M233.4 117.8h0M245.2 130.3h0M224.7 132.5h0M238.4 136.9h0M261.3 124.3h0M263.1 132.6h0M227.8 126.7h0M217.8 134.7h0M218.2 124h0M253.5 119.1h0M252.2 113.6h0M244.9 119h0M222.2 116.4h0M246.5 109.9h0M238.1 121.7h0M227.8 133.3h0M237.1 132.3h0M245.2 118.8h0M242.5 116.7h0M222.1 128h0M253.2 115h0M237.5 126.9h0M215.4 123.6h0M227.6 135.4h0M262.4 122.6h0M257.5 131.6h0M220.1 115.4h0M240.4 146.1h0M232.9 139h0M256.1 137.2h0M221.2 131.7h0M253.2 134.7h0M254.5 108.9h0M224.4 127.7h0M252 148.3h0M251.4 123.3h0M228 113h0M219.7 134.7h0M237.2 115.7h0M256.8 135.2h0M258.4 139.4h0M217.6 125.1h0M220.9 127.7h0M218.4 119.8h0M216.8 119.7h0M219.7 126.1h0M256.2 114.9h0M214.7 125.6h0M237.6 125.8h0M234.5 121.9h0M234.7 113.2h0M223.1 135.3h0M213.1 127.5h0M229.2 140.7h0M247 126.6h0M235 110.4h0M214.9 124.2h0M242.3 143.5h0M229.7 142.8h0M222.4 138.3h0M244 123.7h0M257 125.8h0M213 126.9h0M224.7 124.8h0M246.9 140.3h0M258.9 121.5h0M237.2 142.1h0M242.8 115.6h0M229.7 118.2h0M221 117.7h0M248.3 123.6h0M235.1 146.2h0M254.3 147.5h0M251.6 118.9h0M234.2 135.8h0M254.2 122.3h0M243.6 131.8h0M253.5 145.8h0M243.9 132.4h0M234.3 144.8h0M230.6 111.9h0M242.6 129.2h0M214.5 124h0M242.5 143.7h0M228 116.1h0M235.2 136.9h0M239.1 136.2h0M245.2 139.5h0M241.4 143.8h0M245.5 142.4h0M237.7 145.9h0M241.7 110.1h0M240.9 143.7h0M247.3 137h0M246.1 138.1h0M254.5 145.3h0M235.1 138.4h0M257.6 111.5h0M259.1 120.8h0M236.5 116.1h0M254.1 113.7h0M229.9 117.8h0M255 149h0M242.9 122.8h0M257.5 139.5h0M235.5 123.3h0M249.3 118.8h0M245.3 120.8h0M230.1 134.2h0M250.6 115h0M258.2 126.2h0M232.7 133.3h0M230 137.5h0M235.8 116.8h0M249.1 128.5h0M227.8 121.9h0M246.5 141.9h0M223.7 129.7h0M240.2 125.1h0M241.8 120.1h0M234.4 132.7h0M216.9 133.1h0M244.8 130h0M240.7 119.5h0M247.4 129.3h0M255.6 110.5h0M226.3 120.6h0M228.9 129.6h0M213.7 121.9h0M218.5 134.9h0M249.6 115.5h0M256.2 127.3h0M232.6 146.7h0M238.9 147h0M239 121.6h0M244.7 119.3h0M244.6 116.6h0M255.8 135.2h0M221.3 120.8h0M244.2 111.5h0M237 145.5h0M254.9 122h0M228.5 118.3h0M248.3 114.6h0M255.2 110.8h0M246 117.3h0M253.3 148.7h0M224 137.8h0M252.7 148.7h0M241.2 141.8h0M259.3 114.4h0M236.3 125h0M233.6 136.9h0M249.5 147.8h0M220.4 137.3h0M229.4 143.2h0M247.6 146.6h0M233.7 134.6h0M249.3 131.7h0M248 115h0M256.6 135.9h0M231.4 133h0M254.8 143.9h0M234.3 147.1h0M243.4 129.8h0M226.6 134.8h0M261.9 124.6h0M242.4 118.1h0M257.9 121.7h0M262.2 115.6h0M258.2 111.4h0M227 113.2h0M251.4 146.9h0M235.7 110.7h0M252.1 107.5h0M250.9 118.4h0M251.7 134.9h0M241.9 131.1h0M259.1 126.2h0M239.1 146.4h0M236.3 113h0M245.1 115h0M247.1 143.6h0M228.6 115.2h0M257.8 126.7h0M248.5 133.1h0M220 132h0M239.8 142.8h0M220.3 124.2h0M239.7 126.2h0M257.8 140.2h0M251.8 117.4h0M242.5 133h0M214.4 126.2h0M240.6 136.6h0M232.4 141.6h0M259.2 123.1h0M254.5 131.9h0M225 114.7h0M241.5 122.1h0M255.7 115.5h0M225.9 133.2h0M247.2 111.9h0M242.2 129.4h0M246.3 151h0M233.2 125.1h0M242.7 149.4h0M258.9 113.3h0M257.7 144.2h0M244.2 131.5h0M252.8 130.7h0M249.2 140.8h0M256.5 137.4h0M256 121.4h0M254.3 110.2h0M250.5 149.7h0M212.9 126.4h0M252.2 133.2h0M254.8 108.2h0M238.8 129.9h0M217 129.5h0M248.1 108.1h0M244.3 128.2h0M225.2 134.3h0M245.9 150.3h0M244.8 136.9h0M249.1 120.8h0M253.5 120.2h0M240.8 113h0M247 112.8h0M261.8 126h0M247.4 112.9h0M230.4 142.1h0M253.2 134h0M258.9 144h0M235.7 126.7h0M213.4 129.5h0M242.7 110.8h0M222.1 127.5h0M218.7 119.5h0M227.2 140.3h0M252.7 144.3h0M216.1 132h0M245.5 142h0M252.9 122.7h0M227.2 121.9h0M240.7 141.5h0M232.2 130.2h0M229.2 127.6h0M228.7 137.7h0M228.2 116.9h0M225.3 141.2h0M251 148.3h0M246.6 127.5h0M250 127.5h0M246 148.7h0M219.4 125.1h0M229.8 129.1h0M226.8 126.2h0M238.2 118.6h0M224 131.7h0M222.5 114.1h0M226.6 123.9h0M257.2 136.6h0M244.5 109.6h0M250 149h0M218.7 128h0M219 123.5h0M254.1 109.6h0M224.6 139.8h0M258 143.3h0M254.4 118.6h0M258.7 135.8h0M249.8 136.2h0M252.3 123.2h0M224.3 136.1h0M250.4 123.4h0M226.8 140.1h0M227.8 116.4h0M262.4 125.1h0M244.6 123.6h0M245.5 150.5h0M242 144.1h0M247.5 149.7h0M243.9 146.4h0M236.8 137h0M254.4 148h0M225.1 138.6h0M240.5 118.9h0M211.8 126.2h0M231.1 131.6h0M253.3 129.4h0M252.4 143.7h0M258.8 145.9h0M230.5 133.2h0M229.5 143.4h0M220.7 126.6h0M256.1 143.6h0M244.1 118.4h0M240.4 124.9h0M246.1 147.2h0M235.8 116.1h0M251.8 116.8h0M245.1 117.4h0M247.4 133.3h0M244.3 129.9h0M234.8 132.8h0M259.9 126.2h0M237 148h0M242.6 140.7h0M233.7 111.8h0M255.9 148.9h0M262.1 124.7h0M217 124.4h0M259.6 119.2h0M228.2 123.5h0M239.8 117.4h0M246.7 122.2h0M252.8 148.9h0M232.7 128.7h0M234.7 139.9h0M242.8 141.6h0M230.5 129h0M235.7 112h0M219.8 132.2h0M213.5 127.4h0M258.8 111.7h0M260.8 140.4h0M242.8 144.3h0M238.4 125.5h0M245.4 128.5h0M241.6 140.9h0M219.7 133.8h0M227.5 125.6h0M243.7 139.5h0M216.2 123.2h0M238.4 109.6h0M260.7 127.9h0M211.3 127h0M232.9 136.2h0M252.2 121.6h0M241.7 132.9h0M233.6 147.6h0M243.6 137.5h0M219.6 126.3h0M217.3 120.9h0M224.1 115.7h0M233.8 147.2h0M257.4 125.9h0M255 149.1h0M261.1 131h0M243.5 150.1h0M231.3 143.5h0M234.2 117.6h0M239.1 147.2h0M235.5 110.3h0M241 146.5h0M250 123h0M233.8 120.2h0M241.8 124.5h0M237.5 127.1h0M216.4 123.4h0M218.3 118.2h0M241.1 142.4h0M222.6 138.8h0M251.9 124.1h0M239.1 139.6h0M257.1 148.3h0M221.5 136.4h0M231.9 136.4h0M253.3 143.7h0M258.2 119.8h0M233.6 136.7h0M247.9 126.6h0M249.9 118.5h0M237.1 126.3h0M225.7 131.3h0M237.3 146.7h0M223.5 139.7h0M237 114.8h0M223.9 132.7h0M218.7 116.2h0M257 144.6h0M255.4 148.3h0M234.9 144h0M236.1 123.4h0M224.4 140h0M247.6 124.6h0M232.6 133.5h0M247 140.2h0M245.3 129.1h0M246 127.3h0M248.9 124.3h0M236 124.7h0M229.6 119.9h0M235.3 120.5h0M239.9 138.2h0M242.8 133.8h0M252.3 117.4h0M252.4 119.4h0M253.2 113.3h0M261.8 116.1h0M258.4 111.9h0M256.9 118.8h0M229.1 129.6h0M238.2 121.4h0M225.6 113.9h0M228.6 119.4h0M234.7 118.4h0M261.5 116.5h0M234.5 132.7h0M245.1 127.5h0M233.3 146.5h0M250.2 126.7h0M235.1 131h0M261 124.4h0M241.5 112h0M260.5 120.8h0M248 114.6h0M253.3 137.8h0M217.4 130.6h0M234.7 126.5h0M255.3 146.9h0M253.9 107.2h0M253.9 134.3h0M252.5 134.9h0M250 145.9h0M234.5 111.5h0M249.5 124.2h0M254 139.5h0M231.1 126.1h0M229.1 130.5h0M249.5 124.2h0M246.4 111.1h0M222.7 135.9h0M261 133.8h0M242.4 140.2h0M252.7 108.1h0M243.5 128.1h0M240.1 117.6h0M247.2 149.2h0M257 128.4h0M236.4 123h0M231.5 126.7h0M235.7 117.1h0M240.1 111.8h0M223.3 116.8h0M250.2 112.7h0M244.4 132.6h0M235.5 145.5h0M258.1 143.6h0M240.5 144.4h0M242.6 109h0M240.6 142.4h0M246.1 110.9h0M249 121.6h0M223.6 124.7h0M231.2 120.1h0M253.7 125.8h0M244.1 127.9h0M231.5 129.5h0M259.8 121.4h0M228.5 139.9h0M257.8 119.8h0M232.3 128.6h0M226.7 127.8h0M213.5 120.4h0M250.8 143.8h0M229.5 133.1h0M259.6 117.3h0M250.2 113.9h0M231.3 119.2h0M244.2 144.8h0M244.6 117.3h0M217.8 126.3h0M252.7 114h0M252.1 123.3h0M242.8 123.6h0M253.5 137.5h0M253.7 115.9h0M239.5 131.2h0M236.9 127.6h0M237.3 121h0M262.9 124h0M240.3 126.4h0M244.2 116.5h0M229.2 139.8h0M233.1 132.7h0M230.4 132.5h0M236.3 135.4h0M248.8 139h0M235.2 115.7h0M223 135.7h0M262.8 125.7h0M226.1 139.8h0M257 124.8h0M258 140.9h0M229.5 130.4h0M248.2 125.8h0M256.9 131.5h0M216.6 133.1h0M235.3 133.4h0M244.9 142.5h0M262.1 134.1h0M211.5 124.4h0M251.3 115.1h0M218.3 133.1h0M239.9 110.6h0M242.1 126.2h0M255 115.2h0M223.2 136.8h0M250.4 149.8h0M238.6 118.6h0M256.6 147.9h0M225.4 129.2h0M258.5 138h0M255.6 109.4h0M245.5 140h0M256.5 131.5h0M225.3 139.1h0M219.7 116.2h0M228.9 139h0M229.5 136.5h0M218.9 116.9h0M235.2 122.6h0M238.6 147.7h0M258.1 129.2h0M250.5 110.8h0M228 129.8h0M250.7 126.5h0M243.2 120.4h0M253.6 149.4h0M256.3 119.7h0M229.5 115.9h0M227.4 121.4h0M237.1 114.4h0M260.2 127.1h0M236.8 118.3h0M254.9 122.3h0M227.4 139.3h0M236.9 114.4h0M223.1 139.6h0M240.5 112.3h0M259 112.9h0M254.6 118.5h0M220.6 124.3h0M257.8 133.8h0M235.3 139.1h0M248.8 127.7h0M233.8 126.6h0M231.9 115.8h0M252.8 144.3h0M244.3 131.4h0M255.6 143.9h0M232 142.8h0M233.7 147.6h0M228.3 119.1h0M240.7 142.6h0M258.6 146.2h0M253.1 112.8h0M248 122.8h0M234.4 146.3h0M245.5 121.5h0M218 134.8h0M241.8 138h0M229.5 129.6h0M234.8 114.7h0M247.8 147.1h0M220.6 134.3h0M251.4 119.9h0M231.2 137.5h0M249.6 125.7h0M222.2 117.6h0M232.2 115.7h0M257.4 111.1h0M257.2 116.5h0M256.9 132h0M221.7 123.4h0M245.2 120.8h0M225.7 113.6h0M235.2 118.9h0M225.8 132.5h0M225.6 141.4h0M239.9 139.3h0M243.8 120.5h0M215.9 123.5h0M232 140.9h0M219.4 118.3h0M219.6 133.8h0M233.9 118.4h0M240.8 112.3h0M245.1 142.9h0M222.7 122.3h0M258 114.7h0M249.1 111.1h0M222.9 128.5h0M254.6 124.3h0M254.2 110.2h0M241.9 112.1h0M253.7 133.8h0M250.5 148.1h0M242.3 138.5h0M259.1 141.3h0M260.1 134.9h0M261.9 135.7h0M224.3 138.6h0M235 124.8h0M237.3 118.8h0M217.4 124.7h0M222 129h0M255.6 148.3h0M262.9 133h0M248.3 134h0M227.5 128.2h0M247.9 134.4h0M222.4 122.3h0M241 136.7h0M238.9 144.4h0M215.4 123.6h0M224.7 137.3h0M228.4 143.4h0M257.2 130.9h0M243.3 116.5h0M235.3 148.3h0M225.7 124.5h0M230.5 144.7h0M252.4 145.5h0M242.8 117.5h0M223 114.1h0M251.2 149.5h0M254.4 139.5h0M219.2 121.9h0M239.7 120.1h0M242 135.8h0M236.6 121.6h0M259 135h0M231.5 118.5h0M261.3 132.4h0M237.9 119.1h0M217.7 132.4h0M258 117h0M228.4 138.8h0M230.3 118.1h0M217.1 126.5h0M224.6 130h0M231.5 118.1h0M242.3 130.7h0M254.8 136.7h0M253.4 117.4h0M230.2 119.7h0M226.3 125.9h0M233.2 136.9h0M244 148.3h0M235.4 131.9h0M230.4 123.1h0M243.3 109.6h0M275 128h0M268.4 116.2h0M280.3 135.5h0M278.6 128.1h0M271.9 122.4h0M267.3 118.8h0M276.6 136.6h0M276.4 128.2h0M278.3 129.9h0M269.5 120.7h0M270.7 121.9h0M279.3 134.3h0M272.9 123.3h0M279.6 132.8h0M276.1 132.3h0M275.3 122.8h0M278.5 126.2h0M277.1 128.3h0M269.9 119.1h0M278.6 130.3h0M274.3 121.8h0M268.5 120.7h0M271.5 119.3h0M279.8 136.1h0M275.3 124.7h0M278.8 135.2h0M277.3 134.8h0M271.7 120.1h0M276.5 123.8h0M267.9 117.5h0M274.1 126.4h0M267 119.4h0M275.3 123h0M278 134.9h0M277.1 125.6h0M278.8 134.4h0M275.8 124.4h0M279.3 131.1h0M271 120.2h0M267.4 116.7h0M274.3 121.4h0M273.9 125.3h0M276.3 132.5h0M278 128.6h0M279.9 135.5h0M271.4 123h0M276.4 133.2h0M279.5 136.6h0M274 121h0M278.3 131.7h0M280.7 135.7h0M260.4 144.4h0M261.1 154.2h0M262.1 148.8h0M255.8 154.8h0M260.9 143.5h0M261.7 151.3h0M263 149.5h0M260.3 153.5h0M260.4 150.4h0M257.2 155.3h0M261.8 143.1h0M258.8 151.3h0M262.1 150.8h0M259.9 143.9h0M258.8 156.3h0M259.6 143.7h0M257.7 154.9h0M263.9 146.9h0M262.1 146.5h0M260.9 143.5h0M260.9 152.9h0M261.1 146h0M257.6 154.3h0M260.2 152.4h0M260.4 154h0M259.2 155.9h0M260.9 155.5h0M262.8 143.3h0M260.1 151h0M261.2 152.8h0" fill="none" stroke-linecap="round"/>
<path id="a_pDCIFN" d="M236.7 109.4h0M241.2 104.3h0M256.6 105.8h0M232.5 111.4h0M260.1 110.9h0M239.2 105.2h0M235 109.2h0M242.3 104.2h0M249.3 102.4h0M249.9 100.9h0M252.7 105.7h0M239.1 105.5h0M254.6 111.5h0M258.9 107.4h0M232.7 110.1h0M249.5 99h0M234.8 106h0M242.6 102.1h0M255.9 110.8h0M233.5 110.7h0M239.7 105.7h0M232.6 106.6h0M249 98.4h0M248.3 101h0M236.2 106.4h0M237.8 104.1h0M246.1 100.7h0M236.7 102.3h0M257 103.7h0M232.3 111.6h0M252.3 104h0M238.5 104.4h0M246 101.5h0M255.8 107h0M253.3 101.9h0M259.6 106.6h0M252.7 106.8h0M239 105h0M241.4 106.1h0M256.6 113h0" fill="none" stroke-linecap="round"/>
<path id="a_filler" d="M156.2 137.5h0M173.3 169.1h0M118.7 174.4h0M135.2 205.8h0M142.6 149h0M175.2 155.5h0M145.3 186h0M155.4 190.6h0M118.4 185.2h0M117.6 193h0M109.7 189h0M150.3 197.6h0M184.2 161.1h0M178.8 145.8h0M134.1 102.3h0M115.6 184.7h0M124.5 167.3h0M172.8 139.7h0M140 114.8h0M155.2 156.2h0M181.1 153.4h0M126.9 166.7h0M117.4 182.6h0M123.9 100.1h0M126.7 108.2h0M163.9 194.1h0M173.1 128.9h0M182.5 174.3h0M154.8 203.6h0M118.8 103.9h0M126.5 127.1h0M124.5 109.5h0M121.6 127h0M166.2 156h0M191.2 143.3h0M148.3 121.3h0M128.9 141.3h0M139.6 182.4h0M127.5 114.3h0M122.6 171.8h0M166.1 165.5h0M131.5 165h0M139.8 187.6h0M167.2 147.4h0M123.2 183.6h0M140.2 158.2h0M126.1 125.6h0M127.9 168.3h0M150.9 185.4h0M185.1 143.5h0M153 137.4h0M178.3 154.2h0M145.3 135.5h0M121.8 198.7h0M146.1 129.2h0M160.3 164.4h0M152.7 167.6h0M134.3 153.1h0M164.7 187.5h0M153.4 196.3h0M130.3 109.8h0M161.1 129.5h0M147.1 180.5h0M112.7 177.1h0M150.1 174.4h0M157.7 142.3h0M131.7 105.2h0M133.5 152.8h0M180.4 161.7h0M174.6 195.3h0M152.7 139.9h0M157.2 170.1h0M162.4 131.2h0M121 180.5h0M176.9 122.1h0M121.9 159h0M140.5 154.8h0M114.5 184.9h0M126.7 180.1h0M128.2 132.7h0M172.4 128.8h0M137.4 102.3h0M144.3 213h0M157.3 158.3h0M172.7 132.7h0M169.1 164.4h0M188.5 153.2h0M167.5 155h0M133.1 180.6h0M168.2 127.1h0M141 143.4h0M156.5 179.7h0M171.9 135.1h0M145.6 163.6h0M150.6 170.6h0M169.9 151h0M143.8 113.8h0M125.9 105.4h0M132.6 133.2h0M141.9 193.7h0M146.5 201.3h0M163.8 176.8h0M105 178.2h0M169 179.2h0M178.6 143h0M126.9 179.1h0M146.8 108h0M176.7 175.6h0M169.2 141.9h0M162 129.5h0M163.6 177.9h0M155.6 122.9h0M146.4 174.9h0M123.9 110.5h0M155.1 131.7h0M137.6 144.8h0M148.8 190.3h0M193 160.9h0M125.9 147.4h0M163.3 136.2h0M137.1 153.5h0M157.6 185.4h0M136.8 198.3h0M184.6 126.3h0M145.3 120.2h0M126.4 198.6h0M128 186.3h0M174.6 126h0M114.9 176h0M184.7 149.6h0M150.4 211.7h0M128.1 177.8h0M154.9 128.9h0M154.7 199.9h0M170.6 182.8h0M113.2 185.2h0M182.2 134.9h0M158.1 199.1h0M163.9 212.7h0M123.1 180.4h0M167.6 201.5h0M134.7 172.1h0M164.1 191.8h0M141.6 132.5h0M115.7 171.5h0M143 149.4h0M127 156.2h0M166.7 182.1h0M183.3 143.4h0M145.5 191.6h0M179.6 188.7h0M158.7 196.1h0M125.8 106.2h0M173.6 142.7h0M183 156.9h0M161 196.4h0M189.2 163.7h0M130 108.7h0M184.4 179.7h0M133 189.9h0M146.9 114.3h0M188.3 142.1h0M120.3 108.6h0M183.6 139.6h0M175.5 154.3h0M139.9 156h0M133 156h0M151.2 140.2h0M165.8 152.4h0M155.5 205.6h0M138.6 141.6h0M137.5 204.1h0M167 113.2h0M124.9 191.3h0M124.5 126.8h0M183.1 155.2h0M130.5 198.5h0M172.6 174.3h0M127.9 123.1h0M162.8 178.5h0M146.8 172.6h0M130.5 161.5h0M126 151.8h0M139.7 189.7h0M144.6 180.3h0M173 172.4h0M158 207.1h0M127.5 139.1h0M147.4 187.1h0M126.5 149.2h0M151.9 137.3h0M190 130h0M138.2 159.2h0M139.8 186.6h0M119.4 188.7h0M177 130.4h0M167 178h0M155.1 140.1h0M158.2 149.3h0M180.1 176.8h0M134.7 112.3h0M169.3 179.4h0M163 158.5h0M151.3 186.1h0M143.4 181h0M156.4 169.4h0M162.3 211.4h0M169.2 136.2h0M107.8 169.4h0M149 163.8h0M165.7 156.1h0M138.3 194.2h0M184.6 176.4h0M168.8 161.8h0M178.3 189.9h0M154.2 172.4h0M105.8 183.9h0M179 175.1h0M139.7 134.4h0M133.1 136.8h0M157.2 185.3h0M168 149.1h0M190.4 157.2h0M120.1 115.3h0M167.4 209.2h0M168.5 112h0M135.1 150.4h0M146.1 176h0M177.3 187h0M103.8 179.9h0M158.7 127h0M147.4 170.7h0M158.5 153.3h0M172.7 150.8h0M118.8 186.9h0M142.4 173.8h0M117.3 185.6h0M137.6 113.9h0M152.5 182.1h0M148.5 134.5h0M172.4 174.4h0M167 173.3h0M127.2 178.6h0M144 143.2h0M123.7 198.5h0M163.6 120.5h0M108 176.4h0M122 173.5h0M161.7 167.7h0M158.4 164.9h0M144 151.9h0M136.5 157.5h0M167.5 204.6h0M133.3 179.3h0M179.5 153h0M175.2 193.6h0M121.1 192.4h0M173.5 195.8h0M136.5 153.4h0M151.9 117.2h0M137.8 181.5h0M141.5 106.9h0M154.9 115.3h0M137.3 200.3h0M133.1 154.4h0M153.9 198.8h0M136.2 113.8h0M152 155.2h0M186.1 138h0M163.3 132.1h0M149.4 145.2h0M132.8 150.2h0M151.4 109h0M189.9 153.2h0M131.9 206.5h0M105.4 176.3h0M163.5 134.4h0M154.7 176.6h0M158.3 191h0M149.5 106.3h0M152.4 187.3h0M142.7 119.7h0M162 142.5h0M156.7 197.7h0M183.5 178h0M135.1 118.2h0M149.4 130.7h0M133.1 116.3h0M147.5 203.4h0M118.2 105.9h0M141.1 98.9h0M172 134.1h0M154.8 148.4h0M143.5 121h0M152.2 138h0M130.8 184.5h0M135.2 173.6h0M161.8 159.6h0M127.5 189.7h0M139.3 204.5h0M155.5 118.2h0M147.4 153.6h0M123.7 129.1h0M137.3 202.6h0M182.7 169.6h0M173.3 194.4h0M137.7 166.3h0M181.9 122.9h0M133.1 98.4h0M171.8 148.3h0M154.2 130.3h0M155.8 163.9h0M189.1 131h0M164.2 198.8h0M115.5 168.4h0M184.5 140.1h0M132.2 203.1h0M168.5 166.5h0M151.9 162.5h0M133.2 152.1h0M154.3 188.1h0M157.7 151.9h0M162.6 157.3h0M143.7 142h0M149.5 163.6h0M173.1 177.3h0M144.3 113.4h0M171.9 177.3h0M144.1 124.1h0M191.3 144.4h0M151.1 137.4h0M104.5 169.7h0M171.6 146.8h0M145.7 134.4h0M190.9 148.7h0M162.3 161.8h0M157.9 196h0M165.4 211.9h0M131.3 154.9h0M136.9 183.8h0M161.3 113.6h0M107.2 167.9h0M125.5 149.6h0M170.4 117h0M147 153.1h0M185.4 177.6h0M180.1 158.9h0M142.5 206.2h0M155.5 149.5h0M130 191.9h0M147.8 174.1h0M163.5 183.3h0M132.8 135.1h0M122.6 153.7h0M136.5 152.3h0M152 114.9h0M190.1 132.4h0M142.8 176.6h0M134.9 139.9h0M143.6 124h0M168.5 148.5h0M180.1 136.3h0M191.3 161.8h0M189.2 142h0M131.6 125.3h0M164 121.7h0M130.2 113.4h0M170.8 124.6h0M174 131.7h0M162.2 188.7h0M169 144h0M159.5 187.1h0M127.2 121.8h0M168.2 199.1h0M149.1 116.4h0M131 177.4h0M156.9 207.6h0M149.3 98.6h0M161.3 131.4h0M166.2 161.3h0M137.4 124.1h0M135.5 146.3h0M140.4 155.6h0M136 155.3h0M157.3 133.2h0M134.3 155h0M138.6 207.4h0M180.6 187.1h0M186.4 136h0M127.4 109.3h0M166.4 155.5h0M158.8 189.6h0M123.4 182.4h0M107.1 166.6h0M142.9 99.4h0M153.9 119.5h0M139.5 135.1h0M131.9 127.6h0M128.1 190.2h0M129.3 135.1h0M179 147.3h0M136.5 105.5h0M165 129h0M153.3 171.7h0M167.8 148.3h0M131.5 178h0M171.2 126h0M144.7 204.2h0M130.1 200.2h0M150.1 156.5h0M162 131.3h0M145.6 131.4h0M159.5 119.7h0M170.7 200.5h0M103.4 177.3h0M163.4 202h0M122.5 118.8h0M139.9 202.5h0M122.2 109.6h0M166.3 122.9h0M163.8 190.1h0M129 192.7h0M142.4 159.9h0M162.9 139.7h0M155.4 160.7h0M148.1 127.4h0M132.5 191h0M138.1 146.9h0M181.7 124.6h0M149 171.8h0M114.7 104.1h0M149.2 173.2h0M168.9 200.5h0M155.5 168.6h0M152.4 146h0M154.4 186.2h0M146.8 119.9h0M129.1 120.1h0M181.6 183.5h0M140 101.6h0M119.5 173.3h0M144.7 158.2h0M152.3 117.1h0M146 159.4h0M176 121.2h0M133.5 101.3h0M165.4 176.1h0M148.5 200.4h0M162.6 156.2h0M131.9 167.2h0M161.5 194.1h0M158.7 158.2h0M163.4 172.9h0M188.4 160.7h0M136.6 98.6h0M116.5 170.7h0M124.1 139.4h0M149.5 130.1h0M113.2 185.6h0M157 128h0M111.4 169.3h0M120.3 196.4h0M138.6 177.3h0M180.9 123.5h0M154.1 115.3h0M144.7 167.4h0M132.4 204.8h0M134.1 109.9h0M173.4 135.9h0M177.2 124.2h0M136.9 140.2h0M143.2 139.3h0M147.5 108.4h0M133.4 146.5h0M157 210.1h0M144.5 148.9h0M131 102.1h0M149.3 119.4h0M161.1 203.5h0M158.3 180.6h0M170.8 197.8h0M127 181.6h0M130.2 191.3h0M136.9 132.7h0M146.7 195.5h0M163.9 160.5h0M178.7 119.5h0M122.8 122.9h0M163.4 150.2h0M125.7 134.2h0M136.3 195.1h0M105.9 163.7h0M187.7 131h0M140.1 103.7h0M143.7 192.9h0M130.1 111.4h0M122.1 186.2h0M132.5 131.1h0M188.6 127.6h0M151.2 208.1h0M135.3 170.5h0M167.1 142.7h0M181.6 154.9h0M133.2 186.1h0M128.1 189.7h0M123.8 175.9h0M172.1 189.4h0M149.2 167h0M162.4 159.7h0M108 162.2h0M112.9 175.8h0M148.4 195h0M146.6 147.5h0M106.2 174.8h0M136.5 194.8h0M148 197.9h0M140 164h0M162.9 183.3h0M155.5 135.3h0M135.6 204.8h0M170.9 142.7h0M159.3 201.3h0M142.6 171.3h0M135.2 128.5h0M189.5 141.6h0M150.7 201.4h0M164 143.1h0M145.8 165.2h0M125.5 106.5h0M148.2 113h0M167.2 194.5h0M135 185.5h0M142.5 177.6h0M120.6 189.6h0M168.9 119.1h0M163.5 124.2h0M126.5 101.1h0M186.4 127.5h0M150.3 104.7h0M129.7 137.1h0M164.6 213.6h0M156.4 139h0M166.6 154.5h0M139.8 175.6h0M122.6 165.4h0M123.7 181.4h0M109.6 165.2h0M132.8 108.9h0M109.8 173.7h0M137.7 186.5h0M183.8 144.4h0M154.9 188.9h0M108.5 186.9h0M155.3 148.4h0M147.6 116.8h0M191 161.8h0M163.4 157.4h0M178.3 121.5h0M131 180.6h0M176.2 191.1h0M143.7 183.6h0M122.4 104.2h0M132.8 124.2h0M163.5 156.4h0M122 127.9h0M165 188.1h0M170.8 159.6h0M158 161.7h0M134.7 153.9h0M146.2 213.1h0M106.1 187.3h0M141.7 201.3h0M185.8 178.7h0M134.3 122.8h0M126.8 103.7h0M160.9 210.8h0M191.2 153.8h0M151.1 102.3h0M130.8 131.9h0M136.5 189.4h0M180.6 164.3h0M134.2 201.3h0M188.1 148.6h0M154 174.4h0M132.8 204.7h0M182 160.1h0M132.9 135.2h0M169.9 188.2h0M144.6 131.4h0M189.2 171.4h0M142 190.3h0M155.4 117.4h0M139.6 155.3h0M171.5 176.5h0M135.5 170.6h0M136.4 157.7h0M130.3 99.6h0M126.7 139h0M138.8 189.7h0M135.6 139.3h0M182.9 143.4h0M152.3 178.5h0M150.2 117h0M176.7 141.9h0M165.8 140.1h0M134.5 99.5h0M149.2 105.3h0M148 186.7h0M178.8 170.2h0M157.3 144h0M136.7 209.7h0M150.4 204.7h0M162.9 168h0M177.3 125.3h0M166.5 129.6h0M169.3 192.6h0M156.8 184.5h0M156.4 181h0M187.6 164.3h0M185.7 164.2h0M134.6 186h0M193.3 164.9h0M172.9 153h0M165.6 152.8h0M182.4 152h0M152.4 134.6h0M116.8 110h0M153 111.3h0M153.1 149.2h0M140.2 103.7h0M118.2 195.1h0M156.6 172.9h0M144.7 198.2h0M132.6 110.7h0M181.7 148h0M177.1 182.8h0M179.7 145.6h0M131.2 129.5h0M172.7 178.6h0M167.4 199.7h0M139.2 170.7h0M172.4 128.5h0M134.3 175.3h0M175.6 177.2h0M189.4 152h0M168.7 187.6h0M149.3 207.8h0M183.3 183h0M142.7 144.2h0M153.2 189.2h0M146.2 176.7h0M153.3 172h0M129.5 178h0M192.3 167.6h0M147.5 198.9h0M151.9 113.3h0M166.9 190.9h0M119.4 101.2h0M116.2 103.3h0M123.1 196.4h0M122.4 187.2h0M128.9 129.9h0M156.7 138.2h0M114 172.4h0M181.8 146.2h0M187.2 127.8h0M157.9 108.2h0M116.5 191.7h0M138.8 147.6h0M156.9 115h0M154.9 121.3h0M129.7 115.6h0M138.8 152.5h0M178.7 143.9h0M191.2 135.6h0M142.5 169.2h0M183.2 173.6h0M175 156.8h0M169.8 186.2h0M184.8 158.6h0M118.9 158.6h0M126.9 189.2h0M138.4 118.4h0M123.5 174.9h0M145.8 109h0M158.3 191.1h0M123.6 138.8h0M123.4 103.7h0M164.8 151h0M136.4 208.3h0M122.8 194.6h0M129.9 117.1h0M141.7 121.4h0M128.1 178h0M140.5 117h0M128.2 136.9h0M134.5 106.7h0M125.5 105.2h0M140.8 194.2h0M140.8 188.3h0M159.4 145.8h0M138 134.1h0M131.8 198.2h0M139 199.6h0M167.4 145.6h0M117.8 187.9h0M176.1 135.6h0M133.3 102.5h0M127.2 114h0M124.1 175.3h0M141.2 126.5h0M116.3 104.3h0M164.9 110.6h0M110.3 173.4h0M152.7 202.5h0M136.5 152.3h0M139.4 183.3h0M132.1 111.2h0M177.1 147.6h0M180.3 150.5h0M113.3 183.9h0M147 126.3h0M143.6 158.9h0M147.9 190.5h0M148.4 177.5h0M117.8 193.8h0M124.6 165.6h0M158 114.7h0M145.1 117.7h0M148.1 123h0M129.1 177.5h0M155 101.5h0M163.4 181h0M140 125.2h0M160.6 200.5h0M173.1 148h0M148.4 205.4h0M188 142.3h0M149.3 108.3h0M188.1 171.4h0M113.9 103.5h0M169.2 191.6h0M128.7 104.3h0M132.1 173.1h0M161.5 200.8h0M155.6 196.3h0M137.7 190.2h0M146.5 168.4h0M251.4 122.4h0M231 118.6h0M226.2 133.5h0M221.5 125.2h0M259.9 108.5h0M258.2 147.3h0M256.4 112.1h0M214.3 131.5h0M230.1 146.3h0M230.1 115.4h0M212.8 125.9h0M227.8 132.1h0M248 129.1h0M261.2 124.8h0M213.7 125.2h0M201.6 130.3h0M227.8 141h0M243.2 112.3h0M262.8 138.4h0M241.2 151.6h0M250.8 111.3h0M251 131.6h0M210.3 156.8h0M234.7 149.6h0M206 146.1h0M225 142.4h0M200.8 146.3h0M231.6 152.5h0M233.2 129.3h0M227.8 149.5h0M205 135.5h0M253 137.3h0M220.5 127.4h0M212.3 148.3h0M199.1 130.8h0M235.1 121.4h0M196.4 139.5h0M229.6 148.3h0M232 152.5h0M218.8 120.9h0M261.6 124.2h0M212.7 144.4h0M213.3 156.4h0M260.5 134.7h0M230.2 122.6h0M241.9 147.1h0M258.8 111.6h0M223.1 134.6h0M225.4 127.4h0M246.2 112.7h0M251 118.5h0M206.4 132.9h0M236.7 118.4h0M238.9 126.1h0M246.9 122.9h0M235.2 143.1h0M208.1 149.4h0M221.7 121.8h0M244.3 137.5h0M260.5 116.5h0M227.3 124.6h0M261.9 131.2h0M229.2 149.8h0M253.2 135.3h0M211.8 132h0M236.7 130.3h0M197.3 142h0M231.7 140.3h0M254.8 140.1h0M256.7 149.7h0M219.9 133.4h0M221.3 155.3h0M253.2 132.2h0M257.2 109.3h0M257.1 131.3h0M239.7 125.6h0M235.2 146.9h0M230.4 150.2h0M255.5 119.4h0M256.4 133.8h0M204.2 127.7h0M248.9 134h0M257.9 129.8h0M244.5 113h0M240.9 128h0M221.3 143.8h0M212 122.6h0M237.4 152h0M225.3 141.6h0M226.9 134.9h0M252.3 117h0M228.8 154h0M237.5 123.4h0M258.2 118.5h0M254.9 133.3h0M226.7 120.9h0M256.3 123.3h0M260.6 131.3h0M260.3 111.1h0M236.7 128.9h0M242.9 120.8h0M252.2 140.8h0M225.6 137.3h0M206.7 148h0M216 150.9h0M225.3 128.6h0M228.5 143.2h0M219.7 152.6h0M246.5 123.3h0M223.2 127.1h0M235.5 131.3h0M239 149.8h0M256.8 140.5h0M231.6 127.9h0M223.6 137.7h0M243.2 130.6h0M210.1 128.5h0M247.2 111.4h0M228.2 128.8h0M258.4 118.1h0M220.1 134h0M229.7 145h0M216.5 151.8h0M221.3 132.1h0M221.2 135.3h0M217.6 120h0M132.2 220.4h0M124.7 217.6h0M143.7 226.2h0M140.8 221.2h0M127.7 217.2h0M127.8 209.4h0M127.1 231.1h0M133.1 215.4h0M123.8 229.3h0M132.6 232.3h0M128.3 212.2h0M135.6 232.9h0M124.6 235.7h0M131.1 208.8h0M127.4 224.2h0M141.9 227.1h0M141.7 224h0M135.6 220h0M130.7 233.7h0M136.3 231h0M121.1 202.4h0M139 214h0M128.9 223.1h0M136 214.2h0M143.1 232.6h0M135.7 208.1h0M134.8 212.3h0M123 210.4h0M132.8 210.3h0M135.8 211.5h0M143.4 224.9h0M124.9 205.7h0M130.5 217.6h0M130.8 226h0M141 234.1h0M132 226.8h0M125.6 222h0M124.8 235.3h0M120.8 208.4h0M125 236.5h0M123.5 207.2h0M123.7 223.7h0M123.9 207.1h0M136.8 211.8h0M129.2 215.1h0M135 209.3h0M136.9 209.8h0M141.6 216.9h0M129.1 208.5h0M134.7 213.7h0M123.5 222.8h0M137.9 218.4h0M135.5 209.8h0M129 233.9h0M132.3 209.7h0M120.4 218.3h0M132.9 207.9h0M126.8 208.4h0M128.1 218.2h0M125.6 212.5h0M132.5 220.7h0M126.2 231.9h0M131.4 208.4h0M118.6 203.9h0M138.9 209.5h0M137.2 216.7h0M127.8 224.1h0M133.3 222.4h0M124.1 210.9h0M128.9 228h0M135.3 208.8h0M118.1 200.9h0M127.2 223.5h0M130.7 206.7h0M129.4 236.9h0M116.6 200.3h0M141.5 215.8h0M134.3 235.9h0M137.4 223.5h0M121.7 215.8h0M120.6 208.2h0M135.4 228.5h0M125.4 204.1h0M131.3 208.2h0M130.2 217.3h0M134.3 229.6h0M133.7 218.7h0M130.3 211.2h0M136.7 224.1h0M134.2 222.9h0M131.1 212.5h0M140 219.8h0M122 218.3h0M126.2 236.9h0M128 234.7h0" fill="none" stroke-linecap="round"/></defs>
<use href="#a_MP" stroke="#2589F3" stroke-width="1.75"/>
<use href="#a_MPsc" stroke="#2589F3" stroke-width="1.75"/>
<use href="#a_GMP" stroke="#9672DF" stroke-width="1.75"/>
<use href="#a_MDP" stroke="#1FC0C8" stroke-width="1.75"/>
<use href="#a_CDP" stroke="#A9D4E6" stroke-width="1.75"/>
<use href="#a_CLP" stroke="#F5B41E" stroke-width="1.75"/>
<use href="#a_HSC" stroke="#F23A3A" stroke-width="1.75"/>
<use href="#a_proDC3" stroke="#C6F277" stroke-width="1.75"/>
<use href="#a_DC3" stroke="#D46E90" stroke-width="1.75"/>
<use href="#a_preCDC1" stroke="#F6B4C6" stroke-width="1.75"/>
<use href="#a_cDC1" stroke="#EE5FEE" stroke-width="1.75"/>
<use href="#a_cDC2" stroke="#4A8A6E" stroke-width="1.75"/>
<use href="#a_Ccr7" stroke="#8FE88C" stroke-width="1.75"/>
<use href="#a_preCDC2" stroke="#22BF22" stroke-width="1.75"/>
<use href="#a_prepDC" stroke="#8A7216" stroke-width="1.75"/>
<use href="#a_prepDC2" stroke="#8A7216" stroke-width="1.75"/>
<use href="#a_pDC" stroke="#F97D4B" stroke-width="1.75"/>
<use href="#a_pDCIFN" stroke="#D0309E" stroke-width="1.75"/>
<g transform="translate(620,1.9) scale(0.49)" stroke-width="2.5">
<use href="#a_MP" stroke="#F99A7C"/>
<use href="#a_MPsc" stroke="#F99A7C"/>
<use href="#a_GMP" stroke="#F99A7C"/>
<use href="#a_MDP" stroke="#F99A7C"/>
<use href="#a_CDP" stroke="#F99A7C"/>
<use href="#a_CLP" stroke="#F99A7C"/>
<use href="#a_HSC" stroke="#F99A7C"/>
<use href="#a_proDC3" stroke="#F99A7C"/>
<use href="#a_DC3" stroke="#F99A7C"/>
<use href="#a_preCDC1" stroke="#F99A7C"/>
<use href="#a_cDC1" stroke="#F99A7C"/>
<use href="#a_cDC2" stroke="#F99A7C"/>
<use href="#a_Ccr7" stroke="#F99A7C"/>
<use href="#a_preCDC2" stroke="#F99A7C"/>
<use href="#a_prepDC" stroke="#F99A7C"/>
<use href="#a_prepDC2" stroke="#F99A7C"/>
<use href="#a_pDC" stroke="#F99A7C"/>
<use href="#a_pDCIFN" stroke="#F99A7C"/>
<use href="#a_filler" stroke="#F99A7C"/>
<path stroke="#F6C94A" d="M26.2 133.9h0M24.5 148.7h0M32.4 90.6h0M34.7 109.8h0M30.1 133.5h0M23.7 128.2h0M45.9 170.2h0M12.1 142h0M16.5 138.8h0M25.5 107.9h0M31.5 147.8h0M34.5 144.2h0M34.2 124.1h0M33 95.5h0M26.8 102.8h0M26.3 126.9h0M36.5 151.6h0M21.5 130.1h0M41.8 155.3h0M24 94.7h0M24.1 105.7h0M25.6 149.7h0M36 153.1h0M37.3 138.7h0M36.7 153h0M19.8 136.6h0M53.5 175.5h0M33.7 132.6h0M14.2 144.4h0M31.2 146.9h0M25.7 149.4h0M34.1 117.1h0M19.5 147h0M30.9 149.9h0M17.1 126.3h0M33.5 104h0M29.5 115.9h0M46.4 176.6h0M35.2 130.9h0M31.9 124.1h0M36.3 141.8h0M31.8 121.4h0M26.5 128.4h0M14 143.8h0M39.4 164.3h0M45 175.2h0M33.1 89.9h0M30.5 107.7h0M24.1 138.8h0M41.6 163.4h0M22 146.5h0M35.5 149.9h0M33.1 111.9h0M14.9 140.9h0M23.3 96.8h0M28.8 109h0M33.5 156.1h0M32.9 145.1h0M35.8 135.5h0M25.1 141.9h0M40 152h0M22.7 137.2h0M28.8 117.7h0M10 143.4h0M19.6 149.7h0M28.3 144h0M30 134.7h0M40.3 167.3h0M49.8 175.8h0M41.2 173.8h0M34.1 119.1h0M15.2 143.4h0M29.1 107.6h0M40 165.6h0M17.1 139.9h0M56.1 180.1h0M34.6 128.4h0M32.7 110.5h0M21.8 129.1h0M25.2 103.6h0M35.4 154.2h0M36.7 141.3h0M31.1 149.1h0M19.6 136.5h0M34.2 134.6h0M28.5 130.5h0M51 174.3h0M24.7 139.9h0M27.5 117.8h0M13.6 140.3h0M29.9 114.6h0M34.1 109.5h0M28.8 118.7h0M21.8 140.9h0M31.6 96.5h0M26.2 136.1h0M26.6 142.5h0M33.9 152.6h0M30.3 107.9h0M15.2 143h0M34.1 123h0M45.9 166.6h0M21.4 140.8h0M30.6 124.2h0M38.2 158.3h0M22.6 147.1h0M35.3 167.3h0M33.2 112.1h0M24.6 109.3h0M29.5 106h0M33 129.8h0M34.5 157.7h0M28.9 117.7h0M40.8 167.9h0M15.1 144h0M33.8 134.2h0M26.5 117.3h0M21.5 96.8h0M18.9 133.3h0M24.7 146h0M37.3 150.9h0M43.6 158.6h0M23.5 100.2h0M18.5 141.9h0M36 154.7h0M34.9 104.9h0M25.8 116.3h0M20.6 129.2h0M33.5 91.3h0M41.3 163.7h0M54.1 178.9h0M24.1 101h0M28.6 105.1h0M45.3 168h0M9.8 141.7h0M35.5 154.1h0M13.8 148h0M10.9 140.9h0M23 149.7h0M43.3 162.3h0M36.7 138.5h0M10 143.5h0M27.4 99.8h0M31.3 144.2h0M41.6 152.4h0M31.6 100.8h0M34.8 112.2h0M41.8 160.4h0M48.8 181.8h0M32.7 106h0M43.2 169.4h0M32.4 147.3h0M30.9 145.9h0M30.7 155.3h0M31.3 94.7h0M37.5 157.1h0M50.1 173.1h0M39.4 154.6h0M28.9 146.2h0M39.6 160.3h0M43.5 170.8h0M32.5 122.6h0M14.3 140.7h0M24.3 145.2h0M25.4 137.3h0M37.9 146.1h0M25.2 96.6h0M55.9 179.1h0M27.3 106.1h0M35.5 129.1h0M11.9 135.1h0M40.7 163h0M20.1 149h0M22.7 150.9h0M31.1 136.2h0M34 134.1h0M43.3 158.1h0M46.6 179.3h0M33.6 93.9h0M34.4 141.3h0M31.3 115h0M34.8 140.6h0M23.4 144h0M37.3 147.9h0M36.6 152.8h0M31.9 102.2h0M18.5 149.3h0M48 177.8h0M30.3 127.4h0M22.7 132.6h0M13.5 140.7h0M46.1 173.8h0M19.5 149.1h0M45.5 176.7h0M25.1 147.6h0M50.8 179.2h0M27.7 94.5h0M32 126.7h0M20.1 140.9h0M42.6 162.9h0M22.4 139.4h0M28 94.1h0M23.2 139.8h0M20 140h0M11.9 147.8h0M37 154.8h0M26.1 102h0M24.8 149.9h0M30 117.5h0M33.8 116.9h0M35 167h0M35.9 142h0M29.4 142.5h0M28.1 138.8h0M27.7 103.9h0M24.5 124.7h0M31.9 151.4h0M39.4 152.2h0M35.4 153h0M44.9 164.6h0M44.1 159.5h0M38.7 151.1h0M21.6 98h0M50.4 178.1h0M37 133.9h0M39.7 159.3h0M12.2 146.8h0M31.9 91.9h0M25.7 130.7h0M33.6 132h0M19.5 142.5h0M35.1 124.5h0M40 166.8h0M47.8 166.9h0M35 151.9h0M48.8 174.3h0M43.3 173.6h0M46.8 178h0M31.1 151.7h0M26.7 110.8h0M29 93.5h0M27.5 143.5h0M24 140.9h0M29.5 125.4h0M45.2 180.2h0M26.6 105.9h0M24.1 142.1h0M24.4 100.2h0M35.3 120.6h0M34.8 121.4h0M27.6 148.2h0M24.6 102.5h0M27.5 149.6h0M12.1 135.3h0M25.1 126.5h0M42 164.7h0M29.2 134h0M35.7 158.7h0M13.1 138.3h0M21.7 124.8h0M35.7 139.7h0M26.2 113.2h0M27.5 145.2h0M33.1 97.9h0M23.9 147.1h0M28.5 100.5h0M43.1 171.7h0M36.6 126.2h0M19.6 135.4h0M40.1 155.5h0M36.3 166.8h0M22.8 132.1h0M28.2 132.2h0M39.9 152.9h0M22.8 139h0M25.1 98.9h0M37.9 137.3h0M27.8 101.6h0M18.3 145.9h0M16.7 138.3h0M40.2 157.4h0M35.8 118.5h0M26.9 122.7h0M24.5 101.8h0M51 176.5h0M20.4 134.5h0M33.9 147h0M36.5 131.3h0M38.7 161.8h0M39.6 148.7h0M40.7 172.8h0M9 143.5h0M40.7 161.8h0M30.9 101.2h0M37.5 144.1h0M24.8 131.4h0M22.7 136.5h0M43.3 163.3h0M36.6 162h0M13.9 143.9h0M31.8 123h0M20.4 129.6h0M32.5 98.6h0M20.7 130.3h0M30.7 147.2h0M38.1 153h0M46.5 167.2h0M46.4 181.2h0M37.9 137.7h0M16.2 148.6h0M32.5 125.3h0M33.1 137h0M24 100.1h0M22 96.5h0M33 90.9h0M25.4 142.6h0M15.7 148.5h0M26.9 145.6h0M33.8 157.4h0M29.6 132h0M46.4 180.1h0M29.1 118.2h0M24.3 142.1h0M33.5 114.1h0M40 171.7h0M19.2 127.5h0M32.5 131.5h0M25 97.2h0M37.6 154.4h0M37.9 155.7h0M12.7 144.8h0M33.2 94.5h0M55.3 178.9h0M24 126.9h0M27.4 142.4h0M29 137.8h0M40.7 166.7h0M31.5 144.6h0M25.1 101.3h0M41.1 155.9h0M29 137.8h0M35.2 109.4h0M18.2 146.7h0M35.6 120.3h0M43.7 157.1h0M32.2 114.4h0M32.4 131.1h0M25.5 135.3h0M45.5 172.6h0M31.3 146.7h0M13 139.3h0M22.7 125.1h0M35.6 149.9h0M36.8 165.8h0M28.7 110.2h0M30.7 91.1h0M24.8 109.4h0M49.4 174.9h0M29.2 114.2h0M31.6 109.3h0M17.4 139.5h0M29.2 146.2h0M43.8 168.6h0M24.1 145h0M31.1 118.2h0M34.7 105.5h0M29.7 130.1h0M17.2 149.5h0M19.3 142.2h0M36.4 148.5h0M51.9 176.4h0M34.2 160.5h0M33.5 90.7h0M26.5 144.4h0M25.6 126.8h0M40.9 166.1h0M35 141h0M42.2 161h0M29.7 147.1h0M23.9 109.1h0M31 124h0M32.6 114.6h0M9.7 146.1h0M34.9 137h0M21 129.6h0M26.4 120.3h0M21 147h0M25.6 113.3h0M34.6 120.6h0M27.1 103.1h0M12 140.2h0M35 147h0M24.4 137.7h0M35.1 136.5h0M33.4 144.5h0M33.7 97.3h0M38.1 158.4h0M38 164.5h0M32.9 120.5h0M24.6 104.4h0M57.7 191.3h0M52.4 189.7h0M62.9 197h0M59.6 191.4h0M71.2 208h0M70.3 207.2h0M81.2 217.7h0M84.6 219h0M67.8 204.7h0M85.5 219.1h0M65 201.7h0M79.3 222.4h0M65.3 214.6h0M64.4 199.9h0M61 192.5h0M68.5 215.6h0M66.5 216h0M88.4 229.4h0M68.7 215.1h0M74 214.3h0M62.1 209.7h0M86.4 221.3h0M84.7 220.7h0M68 210.5h0M62.6 210.6h0M60.5 200.5h0M54.3 186h0M89.5 221.8h0M54.2 197.1h0M59.9 194.6h0M69.1 213h0M89.4 223.9h0M74 211.4h0M53.9 182h0M86 222.3h0M67.2 212.4h0M66.5 213.8h0M64.6 197.7h0M73.8 216.6h0M51.2 185.1h0M89.9 230.3h0M67.8 201.5h0M56 192.9h0M96.1 226.3h0M85.4 226.7h0M89.8 222.2h0M63 195.1h0M66.3 206.7h0M64.8 198.1h0M57.3 186.2h0M62.9 211.7h0M73.5 211.5h0M64.7 199.3h0M73.5 210.4h0M79.1 214.8h0M57.2 182.8h0M88.7 221.6h0M82.3 219.5h0M56.2 193h0M53.2 186h0M58.1 192.6h0M67 213.4h0M68.9 203.9h0M92.9 223.1h0M56.6 200.6h0M62 210.3h0M72.4 206.5h0M78.4 217.2h0M81.4 221.8h0M74.4 214h0M62.6 197.3h0M81.7 218.5h0M71.9 216h0M84.9 225.6h0M67.3 205.9h0M86.4 223.5h0M67.6 217h0M71.8 216.8h0M65.5 215.6h0M78.2 220h0M56.8 193.6h0M72.3 212.9h0M59.5 202.8h0M57.8 190.2h0M58 196.1h0M56.6 192.8h0M52.2 188.6h0M62.6 200.3h0M51.2 188.3h0M96.8 231.2h0M97.1 228.6h0M56.6 193.4h0M93.1 227.4h0M61.6 204.1h0M61.7 193.9h0M77.6 217h0M53.9 193.8h0M79.3 218.3h0M77 219.8h0M67.9 201.9h0M58.3 185.5h0M67.7 199.7h0M54.5 185.3h0M91.9 227.4h0M88.1 224.7h0M62.2 204.9h0M92.7 228h0M58.7 195.9h0M65.8 214.1h0M55.2 187.6h0M76.3 213h0M63.5 212.1h0M63.8 210.2h0M85.3 224h0M81.9 219h0M83.9 220.9h0M64.8 208.9h0M57.5 201.9h0M96.5 228.5h0M69.1 216.2h0M57.2 195.9h0M68.4 204.5h0M96.4 225.5h0M98 226.2h0M56.3 192.4h0M59.1 205.7h0M63.9 212h0M72.4 210.7h0M62 190.2h0M58.4 201.8h0M61.8 194.9h0M69.2 207.2h0M70.6 206.3h0M56.3 187.6h0M85 226.5h0M64 197h0M53.1 187.3h0M80.6 220.1h0M74 214h0M71.4 210.8h0M57 196.8h0M71.8 209.8h0M56.3 198.1h0M76.8 216.9h0M83.1 219h0M88.9 224.4h0M89.2 223.4h0M87.3 226.7h0M61.5 204.9h0M86.7 222.3h0M75.3 213.5h0M73.8 213.9h0M60.5 202.8h0M55.9 189h0M55.7 188.5h0M55.6 186h0M62.5 202.6h0M81 222.8h0M70.2 206.3h0M62.5 197.4h0M67.6 200.4h0M67.5 199.9h0M76.8 222.2h0M52.9 183.7h0M51.3 190.3h0M93.8 228.2h0M56.6 197.8h0M71.4 216.7h0M68.7 202.6h0M59.9 188h0M66.5 198h0M53.8 190.3h0M55.3 198.3h0M97.3 231.6h0M60.6 199.7h0M59.1 199.7h0M65.2 213.8h0M77.8 222.5h0M82.7 226.4h0M69.7 206.6h0M63.2 206.9h0M76.4 217.3h0M65.7 215.2h0M55.8 191.1h0M69.3 204.6h0M84.5 226.5h0M53.2 194.4h0M90.6 223.8h0M53.9 187.2h0M83.4 222.7h0M71.4 207.9h0M55 189h0M71 210.9h0M243.7 109.4h0M254.4 114.4h0M261.2 113.3h0M252.2 108.5h0M236.4 113.9h0M262.4 116.7h0M229.9 116.2h0M232.3 119.4h0M233.4 117.8h0M246.5 109.9h0M228 113h0M237.2 115.7h0M235 110.4h0M229.7 118.2h0M228 116.1h0M241.7 110.1h0M257.6 111.5h0M236.5 116.1h0M229.9 117.8h0M235.8 116.8h0M255.6 110.5h0M244.2 111.5h0M228.5 118.3h0M255.2 110.8h0M259.3 114.4h0M262.2 115.6h0M258.2 111.4h0M227 113.2h0M235.7 110.7h0M236.3 113h0M228.6 115.2h0M255.7 115.5h0M254.3 110.2h0M254.8 108.2h0M248.1 108.1h0M240.8 113h0M242.7 110.8h0M222.5 114.1h0M254.1 109.6h0M227.8 116.4h0M235.8 116.1h0M233.7 111.8h0M235.7 112h0M258.8 111.7h0M238.4 109.6h0M224.1 115.7h0M234.2 117.6h0M235.5 110.3h0M233.8 120.2h0M258.2 119.8h0M237 114.8h0M256.9 118.8h0M228.6 119.4h0M234.7 118.4h0M241.5 112h0M253.9 107.2h0M234.5 111.5h0M252.7 108.1h0M235.7 117.1h0M240.1 111.8h0M242.6 109h0M231.2 120.1h0M231.3 119.2h0M252.7 114h0M235.2 115.7h0M239.9 110.6h0M255 115.2h0M255.6 109.4h0M250.5 110.8h0M229.5 115.9h0M237.1 114.4h0M236.9 114.4h0M240.5 112.3h0M259 112.9h0M231.9 115.8h0M228.3 119.1h0M253.1 112.8h0M234.8 114.7h0M232.2 115.7h0M257.4 111.1h0M257.2 116.5h0M235.2 118.9h0M233.9 118.4h0M240.8 112.3h0M258 114.7h0M223 114.1h0M231.5 118.5h0M258 117h0M231.5 118.1h0M230.2 119.7h0M230.4 123.1h0M243.3 109.6h0M236.7 109.4h0M241.2 104.3h0M232.5 111.4h0M260.1 110.9h0M239.2 105.2h0M235 109.2h0M242.3 104.2h0M249.3 102.4h0M249.9 100.9h0M252.7 105.7h0M239.1 105.5h0M254.6 111.5h0M258.9 107.4h0M249.5 99h0M234.8 106h0M255.9 110.8h0M239.7 105.7h0M232.6 106.6h0M236.2 106.4h0M237.8 104.1h0M236.7 102.3h0M257 103.7h0M232.3 111.6h0M252.3 104h0M238.5 104.4h0M246 101.5h0M255.8 107h0M252.7 106.8h0M239 105h0M241.4 106.1h0M256.6 113h0M32.4 90.6h0M89.6 171.7h0M36.8 170.2h0M44.2 110.7h0M75.4 172.5h0M34.5 144.2h0M62.2 102.3h0M74.2 99.6h0M71.9 179h0M23 142.1h0M37.3 138.7h0M64.7 110.4h0M61.4 151.5h0M45.7 141.5h0M49.3 164.6h0M49 123.4h0M50 175.1h0M85.8 117.5h0M68.2 122.4h0M27.9 127.7h0M76.1 117.6h0M64.9 113.7h0M48.6 129h0M35.5 149.9h0M88.7 153.4h0M43.3 155.5h0M32.9 145.1h0M77.9 125.2h0M51.2 111.9h0M34.8 93.3h0M54.1 147.5h0M63.8 151.4h0M80.6 132.2h0M54 145.2h0M77.7 110.2h0M28.5 130.5h0M34.1 109.5h0M21.8 140.9h0M66.4 145.6h0M86.8 175.6h0M87.4 154.2h0M37.6 108.2h0M85.8 164.5h0M86.4 150.9h0M40.5 112.9h0M64 86.3h0M33 129.8h0M78.4 101.1h0M58.8 164.2h0M63.4 123.6h0M57.2 119h0M20.6 129.2h0M43.2 148.3h0M76.2 121.3h0M27.8 130.5h0M30.9 145.9h0M40.3 101.4h0M53.1 153.9h0M38.2 96.6h0M35.5 129.1h0M47.5 125.5h0M44.5 138.5h0M31.1 136.2h0M18.4 139.8h0M62.9 83.7h0M54 103.7h0M11.1 135.5h0M81.2 106.6h0M75.1 121.5h0M42.6 162.9h0M68.8 130.7h0M90.8 167.4h0M64.3 173.4h0M66 94.6h0M56.1 141.6h0M80.7 135.8h0M56.8 108.3h0M49.8 132h0M38.3 98.6h0M61.1 94.8h0M65.3 97.9h0M31.9 91.9h0M56 102.1h0M47.8 123.9h0M75.6 128.7h0M59.2 89.4h0M43.7 99h0M67.1 123.6h0M75.8 176.4h0M25.1 126.5h0M81.2 116.2h0M58.3 131.1h0M48.7 124.6h0M52.6 162.2h0M44.3 153.2h0M16.7 138.3h0M65.3 109.6h0M58.8 147.1h0M38.7 161.8h0M56.9 165.3h0M13.9 143.9h0M20.4 129.6h0M49.7 154h0M46.4 181.2h0M49.4 145h0M76.3 118.9h0M39.8 145.4h0M71.1 105.5h0M59.3 157.2h0M28 114.6h0M82.3 150.2h0M85.3 119.1h0M64.4 107.4h0M82.2 178h0M71.7 118.6h0M42.9 128.3h0M87.3 177.8h0M63.9 121.1h0M71.3 111.3h0M49.5 149.4h0M60.8 116.1h0M71.3 178.2h0M76.5 102.3h0M43.5 97.8h0M83.1 142h0M70.8 104.3h0M34.7 105.5h0M36.4 148.5h0M87 113.7h0M42.2 161h0M34.9 137h0M35.5 107.9h0M67.4 148.8h0M45.9 147.4h0M100.1 121.6h0M61.2 180h0M80.6 213.5h0M103.5 213.3h0M91.8 196.5h0M79.6 183.7h0M132.7 225.8h0M97.2 180.8h0M88.4 229.4h0M116.8 218.3h0M83.7 199.5h0M68 189.3h0M88.8 218.9h0M131.1 235.6h0M126.5 224.3h0M125.9 235.4h0M108 223h0M99.1 213h0M56 192.9h0M85.4 226.7h0M64.7 199.3h0M122.1 226.7h0M70.9 195.2h0M100.4 202.6h0M81.4 221.8h0M77.8 185.8h0M78.6 202h0M79.3 202.3h0M101.1 218.7h0M57.8 190.2h0M91.5 223h0M61.6 204.1h0M109.8 224.9h0M98.2 186.7h0M85.3 211.2h0M105 195.4h0M114.7 209.2h0M67.9 201.9h0M82.7 205.9h0M60.3 181.4h0M54.5 185.3h0M78.8 202.7h0M121 236.1h0M55.2 187.6h0M87.7 194.8h0M87.6 213.9h0M88.6 199.1h0M107.2 218.3h0M104.2 189h0M112.1 216h0M69.8 187.8h0M119.7 221.1h0M80 179.4h0M69.1 182.7h0M100 188.7h0M87.2 196.3h0M92.2 193.7h0M53.1 187.3h0M89.3 186.6h0M97.5 214.9h0M100.5 204h0M109.7 228h0M95.3 193.3h0M111.8 206h0M91.7 208.5h0M78.3 215.5h0M94.7 215.3h0M83.5 178.7h0M87.4 199.4h0M101.1 227h0M55.9 189h0M121.4 215.2h0M105 198.8h0M103.2 230.5h0M102.6 203h0M116.3 226.4h0M62.3 183.9h0M127.1 224h0M112.9 228.6h0M96.6 213.1h0M109 206.8h0M123.3 204.1h0M125.4 207.9h0M112.8 197.9h0M109.3 194h0M124.8 202.7h0M129.7 214.5h0M126.3 202.8h0M119.8 210.8h0M122.8 197.4h0M135.3 206.7h0M105.9 192h0M134.8 168.5h0M133.5 199.8h0M122.9 174.2h0M107.2 176.2h0M140.7 202h0M128.3 205.4h0M140.3 192.7h0M116.7 173.5h0M131.6 174.1h0M122.9 173.9h0M123.9 197.6h0M116.2 192.2h0M133 181.3h0M135.8 188.5h0M120.3 197.4h0M116.6 198.9h0M158.3 147.8h0M178.1 156h0M161.4 142.5h0M152.4 147.7h0M159.1 145.3h0M139.2 164.4h0M153.5 153.5h0M145.8 143.7h0M146.1 165.1h0M142.4 161.7h0M139.9 157.2h0M153.1 160.1h0M156.2 191.2h0M151 192.3h0M171.5 181.5h0M190.5 172.1h0M184.8 169.4h0M171.1 172.9h0M193.6 166.7h0M178.7 192h0M168.5 180.3h0M151.1 225.1h0M153.2 240.6h0M155.7 238.2h0M150.7 224.8h0M154.4 232.6h0M167.2 220.1h0M144.8 212.5h0M162.3 227.1h0M143.8 212h0M167.2 220.9h0M137 215.7h0M158.9 233.3h0M159.9 231.6h0M149.9 232h0M152.5 229.4h0M160.9 232h0M155.6 243.1h0M143.1 233.8h0M159.4 245.1h0M118.2 112.3h0M139.1 115h0M117.5 116h0M141.3 100.3h0M133.8 115.9h0M131.1 101h0M137.1 112.7h0M135.5 118.5h0M128.5 121.4h0M142 149h0M125.5 76.7h0M141.2 75h0M148.8 94.5h0M129.6 77.4h0M139.1 62.2h0M133.3 109.1h0M144.3 106.4h0M146.7 41.4h0M145.3 54.3h0M146.8 38.1h0M138.5 56.9h0M136.3 42.2h0M143.1 44.7h0M137.3 47.9h0M146.4 38h0M147.6 50.5h0M134.3 45.5h0M145.3 43.6h0M140.8 21h0M137.9 20.1h0M138.2 16.2h0M137.7 20.5h0M139.3 20.9h0M160 111.4h0M148.7 109.6h0M151.1 129.5h0M171.8 139.1h0M172.2 108.9h0M150.4 133.3h0M171.8 119.9h0M150.7 136.1h0M161.4 118.2h0M153.7 99.5h0M165 109.6h0M213.7 138.2h0M224.9 146.5h0M206.1 146.7h0M224.1 139.6h0M202.2 147.8h0M216.3 136h0M212 148.9h0M198.7 152.8h0M199.1 139.4h0M212.1 155.8h0M210.6 146.9h0M227.4 145.6h0M209 135.2h0M215.2 143.2h0M206.8 139.8h0M226.5 134.7h0M219.4 147.5h0M208.4 145.9h0M232.1 139.7h0M227.1 134.6h0M222.6 151.3h0M223.1 136.6h0M210.9 138.3h0M182.3 176.7h0M242.3 135h0M229.7 128h0M239.6 121h0M236.5 137.6h0M262.4 116.7h0M222.8 116.8h0M218.2 124h0M227.6 135.4h0M240.4 146.1h0M229.7 118.2h0M246 117.3h0M248 115h0M257.2 136.6h0M227.8 116.4h0M245.5 150.5h0M229.5 143.4h0M245.4 128.5h0M243.7 139.5h0M260.7 127.9h0M211.3 127h0M216.4 123.4h0M256.9 118.8h0M252.5 134.9h0M261 133.8h0M253.7 125.8h0M211.5 124.4h0M251.3 115.1h0M225.3 139.1h0M254.9 122.3h0M257.8 133.8h0M232.2 115.7h0M225.7 113.6h0M225.8 132.5h0M233.9 118.4h0M222.9 128.5h0M254.2 110.2h0M241.9 112.1h0M237.3 118.8h0M228.4 143.4h0M252.4 145.5h0M268.4 116.2h0M279.6 132.8h0M269.9 119.1h0M278.8 134.4h0M275.8 124.4h0M261.1 154.2h0M260.9 143.5h0M260.4 150.4h0M259.2 155.9h0" fill="none" stroke-linecap="round"/>
<path stroke="#9C9CA6" d="M23.3 96.8h0M28.8 92h0M28.6 89.8h0M46.6 179.3h0M29.2 89.2h0M21.6 98h0M40.8 172.5h0M22 96.5h0M30.2 90.3h0M40 171.7h0M52.4 189.7h0M53.4 192.5h0M56.6 200.6h0M58.4 204.6h0M59.5 202.8h0M55.8 200.3h0M56.3 198.1h0M54.5 193.2h0M51.3 190.3h0M55.3 198.3h0M53.2 194.4h0M144 38.8h0M145.8 40.9h0M144.5 38.1h0M145.8 39.9h0M149.2 44.4h0M146.5 37.9h0M148.5 46.3h0M149.7 41.3h0M146.1 39.9h0M147.3 42.3h0M142 35.1h0M141.8 33.3h0M142.6 32.1h0M142.7 34h0M141.8 30.3h0M275 128h0M276.1 132.3h0M277.1 128.3h0M277.1 125.6h0M263 149.5h0M262.1 150.8h0M263.9 146.9h0M26.3 126.9h0M30.8 108.1h0M36.3 141.8h0M88.1 171.8h0M66 137.9h0M51.2 111.9h0M30.7 106.5h0M36.4 119.2h0M84 138.3h0M53.1 153.9h0M57.5 90.5h0M78.7 102.8h0M23.2 139.8h0M80.7 127.9h0M80.7 135.8h0M85 157.4h0M48.8 95.5h0M72.1 94.8h0M68.8 176.7h0M42.3 139.2h0M35 119.5h0M93.1 115.6h0M52.4 189.7h0M88.7 180.4h0M110.1 197.5h0M94 223h0M53.9 182h0M65.5 215.6h0M127.4 217.6h0M87.6 213.9h0M100.1 220.3h0M63.9 191.6h0M110.3 197h0M128.4 210.2h0M128 202.7h0M136.8 186.7h0M135 176.8h0M157.7 166.6h0M158.8 153.5h0M153.1 160.1h0M163.6 208.1h0M174.4 204.5h0M135.7 210.5h0M162.7 232.9h0M163.4 218.1h0M148.3 119.3h0M135.9 141.8h0M125.5 76.7h0M143.9 93.4h0M139.1 74.8h0M138.1 67.9h0M158.4 74h0M136.7 52.5h0M160.5 138h0M203.3 145h0M223.4 148.1h0M234.1 143h0M262.4 116.7h0M235.5 121.4h0M242.6 129.2h0M240.4 124.9h0M239.9 138.2h0M225.3 139.1h0M230.2 119.7h0M276.6 136.6h0" fill="none" stroke-linecap="round"/>
</g>
<g transform="translate(620,128) scale(0.49)" stroke-width="2.6">
<use href="#a_MP" stroke="#F46F68"/>
<use href="#a_MPsc" stroke="#F46F68"/>
<use href="#a_GMP" stroke="#F46F68"/>
<use href="#a_MDP" stroke="#F46F68"/>
<use href="#a_CDP" stroke="#F46F68"/>
<use href="#a_CLP" stroke="#F46F68"/>
<use href="#a_HSC" stroke="#F46F68"/>
<use href="#a_proDC3" stroke="#F46F68"/>
<use href="#a_DC3" stroke="#F46F68"/>
<use href="#a_preCDC1" stroke="#F46F68"/>
<use href="#a_cDC1" stroke="#F46F68"/>
<use href="#a_cDC2" stroke="#1EB8C2"/>
<use href="#a_Ccr7" stroke="#1EB8C2"/>
<use href="#a_preCDC2" stroke="#F46F68"/>
<use href="#a_prepDC" stroke="#F46F68"/>
<use href="#a_prepDC2" stroke="#F46F68"/>
<use href="#a_pDC" stroke="#F46F68"/>
<use href="#a_pDCIFN" stroke="#F46F68"/>
<use href="#a_filler" stroke="#F46F68"/>
<path stroke="#1EB8C2" d="M158.4 74h0M151.9 83.6h0M156.5 74.4h0M159.7 74.3h0M153.6 81.2h0M161.2 67.9h0M158.8 70.4h0M153.8 83.7h0M160 74.6h0M152.9 87.4h0M151.2 82.7h0M151.7 80.4h0M158.6 71.2h0M155.1 84.1h0M156 76.4h0M155.7 79.9h0M153.9 85.5h0M153.9 81.7h0M149.2 44.4h0M149.7 41.3h0M147.3 42.3h0M275 128h0M280.3 135.5h0M278.6 128.1h0M276.6 136.6h0M276.4 128.2h0M279.3 134.3h0M272.9 123.3h0M279.6 132.8h0M276.1 132.3h0M275.3 122.8h0M278.6 130.3h0M274.3 121.8h0M279.8 136.1h0M275.3 124.7h0M278.8 135.2h0M277.3 134.8h0M274.1 126.4h0M275.3 123h0M278 134.9h0M277.1 125.6h0M278.8 134.4h0M275.8 124.4h0M279.3 131.1h0M273.9 125.3h0M276.3 132.5h0M278 128.6h0M279.9 135.5h0M279.5 136.6h0M274 121h0M280.7 135.7h0M36.8 170.2h0M75.4 172.5h0M35.5 149.9h0M43.3 155.5h0M55.7 132.3h0M74.9 166.3h0M81.2 163.7h0M37.9 146.1h0M50.4 149.7h0M83.1 100.9h0M47.6 130.8h0M46.8 178h0M75 97.5h0M49.8 135.3h0M33 90.9h0M83.5 149.6h0M44.9 97.8h0M82 149.6h0M73 176.6h0M79.1 170.4h0M111.5 133h0M125 234.8h0M76.3 212.7h0M109.3 196.8h0M118 220.7h0M109.8 224.9h0M69.2 207.2h0M107.8 231.2h0M123.6 232.8h0M53.8 195.7h0M120.1 228.4h0M108.8 229.6h0M82.4 211.5h0M99.2 180.6h0M135.6 235.8h0M85.4 198.8h0M65.7 215.2h0M91.1 182h0M113.2 172.1h0M136.1 186.7h0M124.7 196.1h0M134.2 193.4h0M152.2 156.6h0M165.7 145.6h0M163.2 175.5h0M166.9 193.5h0M155.1 217.8h0M167.9 229.3h0M135.6 218.8h0M153.5 226.8h0M147.7 137.9h0M143.3 137.2h0M110.5 101.5h0M121.7 100.7h0M148.8 94.5h0M146.5 129.4h0M216.3 136h0M228.9 136.7h0M212.3 143.4h0M210.6 145.8h0M208.4 147h0M223.7 140.1h0M186 167.3h0M242.6 140.7h0M249.1 111.1h0M243.3 109.6h0" fill="none" stroke-linecap="round"/>
</g>
<path stroke="#9672DF" stroke-width="1.8" d="M213.9 637.1h0M141.1 622.2h0M215.6 622.9h0M189.3 614.9h0M177.6 628.1h0M218.6 636.2h0M228.8 636.6h0M168.6 600h0M177.3 623.4h0M208.9 618.3h0M200.6 635.6h0M230.8 629.1h0M153.5 628.4h0M139.8 616.1h0M235.1 632.2h0M166.9 628h0M227.6 630.6h0M176.6 621.9h0M139.7 613.2h0M176.5 630.4h0M225.2 627.6h0M183.1 620.8h0M163.5 622.1h0M140.5 625.9h0M189.1 620.6h0M158 631.5h0M176.4 605.6h0M183.1 613.4h0M144 621.8h0M178.2 625.1h0M203.7 619h0M165.5 624.6h0M171.5 628.9h0M212.7 635.6h0M216.7 629.9h0M179.9 612.6h0M149.2 618.2h0M203.7 637.2h0M158.8 620.8h0M209.5 613.3h0M189.7 635.9h0M238.1 633.9h0M162.8 635h0M174.2 626.4h0M213.8 629h0M186.9 622.1h0M195 637.8h0M232.1 631.1h0M165.6 603.6h0M231.2 634.4h0M214.5 633.7h0M147 615.9h0M189.6 636.8h0M183.5 611.2h0M154.5 620.4h0M167.6 603.5h0M179 628.1h0M181.2 613.5h0M185.6 633.8h0M210.3 638.2h0M170 617h0M194.7 612.5h0M205.4 611.1h0M170.7 620.2h0M191.8 631.6h0M162.3 630.6h0M232.4 632h0M213.7 633.1h0M209.7 625.6h0M195.6 612.3h0M234.2 637.1h0M233.8 636h0M157.2 611.1h0M186.6 606.7h0M154.1 618.4h0M213 616.6h0M184.4 638.8h0M186.7 614h0M151.5 609.9h0M218.2 630.3h0M242.3 629.7h0M215.5 624.2h0M185.6 611.9h0M176.4 626.3h0M146.2 622.8h0M165 604.1h0M185.1 619.5h0M230.7 626.4h0M142.7 632h0M198.3 622h0M182.8 616.1h0M206.1 616.7h0M139.7 622h0M187.7 614.3h0M200.5 626.7h0M167.2 633.1h0M149.2 615.5h0M149.2 632.8h0M175 621.3h0M170.8 620.8h0M167.6 635.7h0M217.8 619.6h0M249.8 632h0M157.2 631.3h0M189.8 633.9h0M213.3 631h0M176.6 630.1h0M152.2 630.6h0M182.6 631.4h0M196.3 634.1h0M210 617h0M160.1 617.6h0M163.8 602.9h0M177.7 622.3h0M202.3 625.8h0M220.3 625.8h0M151 627.6h0M186.3 624.8h0M174.3 606.9h0M167.6 607.4h0M188.3 631.7h0M173 604.6h0M210 617h0M159.2 624.9h0M226.6 627.1h0M154.1 609.8h0M223.9 636.6h0M143.8 615.9h0M224.1 627.5h0M199.8 617.5h0M163.5 614.5h0M234.8 636.1h0M186 609.5h0M186.1 611.1h0M152.6 616h0M206.7 629.9h0M186.5 629.4h0M145.5 612.3h0M180.6 622.3h0M186.3 630.1h0M141.2 619.7h0M165.1 620.4h0M168.4 620.5h0M197.1 635h0M223.1 632h0M200.8 614.6h0M168.1 635.2h0M225.3 628h0M228.1 626.4h0M195.5 620.7h0M151.7 631.1h0M143.8 621.7h0M217.1 624h0M192 624h0M175.8 630.1h0M223.9 626.3h0M188 637.6h0M194.6 610h0M173 613.8h0M203.3 611.3h0M188.5 612.9h0M211.2 623.3h0M196.6 633.1h0M242.9 634.7h0M149.8 620.2h0M184.4 606.7h0M220.6 626h0M164.3 619.4h0M182.1 637.1h0M209.8 629.3h0M203 620.5h0M239.1 628.2h0M204.9 620.7h0M192.2 616.8h0M231.2 635.9h0M156.6 608.7h0M193.1 612.5h0M186 613.6h0M221.7 634.5h0M179.5 604.2h0M196.9 624.1h0M211.2 637.1h0M182.5 632h0M156.7 608.9h0M152.9 626.1h0M213.2 636.5h0M212.4 636.9h0M201.8 611h0M170.8 634.8h0M213.3 617.4h0M162 624.1h0M227.5 630.4h0M212.1 634.5h0M205.6 611.8h0M171.5 632.6h0M191.7 627.3h0M242.1 628.8h0M157 632.4h0M213.9 620.6h0M155.9 611.2h0M180 637.2h0M155.2 616.2h0M162.8 616.6h0M185.2 613.9h0M184.7 626.2h0M192.5 640h0M195.2 621.4h0M248.5 631.8h0M166.8 607.8h0M149.7 626.4h0M214.1 636h0M234 628.5h0M218.9 634.6h0M194.4 619.7h0M227.6 631.2h0M208.9 617.2h0M161.2 621h0M236.7 631.2h0M239.6 628.9h0M202.3 611.4h0M175.1 617.4h0M204.6 633.2h0M185.7 607.8h0M191 639.7h0M154.5 628h0M181.7 606h0M218.5 633.6h0M141.7 628.8h0M150.5 622.3h0M204.2 628.1h0M159.8 624h0M177.4 620.4h0M154.1 613.1h0M152.2 621.1h0M151.7 619.8h0M152.8 621h0M163.5 606.9h0M189.5 612.1h0M180 612.6h0M215.5 619.6h0M191.7 632.7h0M169.3 603.6h0M200 620.8h0M222.4 630.3h0M194.1 611h0M179.7 618.8h0M202.8 613.7h0M204.6 638.5h0M237.8 636.9h0M154.3 613.7h0M195.2 623.4h0M191.2 638.6h0M202.7 634.2h0M152.4 615.9h0M219 623.2h0M165.5 622.1h0M213.1 631.8h0M175 603.5h0M206.1 616.4h0M146.7 626.8h0M165.6 605.5h0M167.6 622.6h0M173.1 623.5h0M162 632.1h0M178.9 635.3h0M198.2 615.4h0M199.7 622.4h0M199.6 633.8h0M187.5 628.3h0M191.3 622.3h0M148.8 612.5h0M161.1 606h0M171 606.7h0M165.2 632h0M158.6 620.3h0M160.8 630.7h0M158 612.3h0M164.1 613.8h0M156.3 630.4h0M203.5 626.3h0M164.5 616.6h0M163.2 612.9h0M197.2 633.8h0M153.5 625.5h0M223.2 632.4h0M187.9 626h0M204.3 623.4h0M208.7 618.6h0M216 634.4h0M230.9 629.7h0M156.9 620.4h0M196.7 615.8h0M192.6 622.6h0M204.3 611.1h0M193.5 636.7h0M148.7 610.8h0M151.9 615.2h0M193.7 630.8h0M201.7 622.5h0M171.4 629.6h0M205.1 633.5h0M235.5 625h0M164 607.3h0M219.1 619.2h0M225 633.4h0M213.3 621.4h0M179.8 618.1h0M233.7 629h0M191.2 637.9h0M164.5 615.6h0M173.8 610.1h0M173.5 630.6h0M164.8 624h0M183 616.6h0M169.5 628.6h0M232.9 625.1h0M191 627.7h0M240.5 627.5h0M188.1 632.8h0M212.1 632.2h0M197 634.8h0M144.7 631.9h0M154 612.6h0M217.3 627.2h0M237.4 635.5h0M201.8 638.5h0M229.6 630.3h0M222.4 618.3h0M159.6 620.1h0M163.4 634.5h0M151.2 624h0M186.2 618h0M180 631.8h0M161.1 609.6h0M240.9 631.6h0M168.6 619.7h0M162.7 619.1h0M220.9 637.3h0M167 620.8h0M154.9 621.8h0M218.7 632.3h0M225.5 628h0M218.1 619.9h0M149.9 631h0M195.9 632.9h0M203.6 624h0M189.6 637.3h0M215.5 628.3h0M218.9 619.5h0M195.1 620.5h0M195.4 632.7h0M190.4 615.1h0M145.8 628.7h0M144.4 618.1h0M202.6 624.8h0M191.9 621.7h0M144.7 622.2h0M215.4 634.9h0M165.9 619.8h0M160 630.3h0M185.8 621h0M161.1 630h0M246.4 633.3h0M197.1 618.5h0M183.9 639.2h0M162.8 633.5h0M210.4 615.2h0M149.6 629.2h0M186.2 610.2h0M244.2 631.6h0M158.4 618.4h0M183.4 610.1h0M166.3 611.1h0M231.5 623.5h0M162.3 617.8h0M188.8 617h0M230.6 628.7h0M200.2 634.9h0M165.3 624h0M143.6 632.3h0M202.9 617.4h0M170.4 624.7h0M191.6 610.9h0M157.2 611.4h0M175.2 635.3h0M166.6 605.8h0M157.7 622h0M173 626.3h0M143.1 632.5h0M154 625.2h0M209.8 615.7h0M174.1 604.5h0M194.5 611.8h0M223.6 631h0M158.8 616.7h0M240.8 631.6h0M164.3 610.5h0M217 617h0M205.7 621.9h0M165 602.3h0M182.7 620.1h0M152.5 615.7h0M172.6 613.6h0M222.9 619.2h0M232.4 630h0M198.7 634.5h0M165.2 627.4h0M147.2 622.4h0M238.2 632.6h0M193.8 608.6h0M170.4 619.3h0M166 609.5h0M164.7 625.8h0M237.6 628h0M153.5 626.9h0M208.1 633h0M216.2 629.9h0M147.6 630.4h0M169.6 633.3h0M187.3 608.7h0M195.7 620.5h0M193.2 610.2h0M229.9 633.7h0M206.8 616.3h0M224.6 624.2h0M190.2 608.5h0M166.7 608.2h0M188.4 625.8h0M162.8 621.9h0M162.4 605.3h0M216.1 625h0M177.7 617.8h0M148.7 625.3h0M198.8 637.3h0M163.6 614.6h0M209.1 632.7h0M151.9 613.3h0M150.9 631.7h0M165.4 610.1h0M164.3 607.3h0M140.9 627h0M233.6 625.7h0M142.6 632.8h0M208.8 635.8h0M164 630.7h0M208 616.6h0M163.8 624.2h0M186.4 639h0M208.3 631.2h0M140.2 625.2h0M152.6 629.4h0M233.4 630.5h0M139.7 615.8h0M160.3 606.4h0M149.2 622.6h0M237.4 631.3h0M227.6 624.6h0M205 622.8h0M140.3 621.3h0M189.3 607.6h0M197.5 631.6h0M147.3 628.4h0M179.2 622.8h0M223.8 625.4h0M236.2 630.1h0M236.6 633.6h0M185.4 617.3h0M233.1 633.5h0M149.1 614.4h0M233.7 624.4h0M172.1 619.5h0M216.7 623.6h0M244.9 634.2h0M240.2 627.4h0M146.8 629.7h0M153.3 608.2h0M192.2 628.4h0M177 619.4h0M155.3 608.8h0M225.4 637.4h0M203.5 610.7h0M163.1 620h0M227.2 627.2h0M182.9 617.5h0M192.6 618.7h0M180 610.2h0M161.6 604.2h0M149.7 608.1h0M154.3 612.7h0M176 617.2h0M179 633.7h0M139.6 631.3h0M209.8 614.2h0M167.2 611.9h0M237.3 628.5h0M166.1 603.4h0M167.5 617.3h0M231.4 627.1h0M191.5 630.4h0M193.4 632.9h0M174.8 628.2h0M186 632.2h0M214.2 626h0M171.6 625h0M175.5 611.4h0M180.7 611.6h0M193.2 615.4h0M221.4 621.1h0M152.7 610.3h0M143.4 611.3h0M156 626.7h0M200 636.5h0M143.5 629.5h0M143.7 632.4h0M232.4 629.5h0M178.6 607.4h0M202.2 613.4h0M152 615.3h0M198.2 611.2h0M144.2 615.5h0M181 628.9h0M168.8 632.2h0M172.2 614.5h0M188.7 638.8h0M141.2 623h0M176.4 619.1h0M151.3 607.4h0M171.5 626.3h0M143.4 615.7h0M193.6 616.5h0M228.3 625.7h0M165.9 609.2h0M210.3 617.5h0M181.3 617.3h0M175.8 631.1h0M203.7 610.9h0M201 624.8h0M155.3 626.8h0M174.6 637.8h0M172.4 631.9h0M167.5 613.7h0M181.3 608.9h0M139.7 626.3h0M160.7 612.8h0M198.1 610.5h0M158.2 631.1h0M168.1 614.9h0M183.7 623.8h0M240.4 632.4h0M209.5 616.4h0M178.8 618.8h0M140.2 619.6h0M166.5 603.2h0M220.5 622h0M153.8 617.7h0M141.6 628.4h0M203.8 628.6h0M191.6 640.8h0M206.5 633.5h0M232.7 627.7h0M207.8 637.8h0M185.5 632.6h0M211.3 628.2h0M141.4 616.1h0M154.1 617.5h0M184.5 623.6h0M227.1 635.5h0M240 632.2h0M212.6 620.2h0M192.8 613.6h0M185.6 621.4h0M180.4 637.3h0M246 633.6h0M188.7 633.3h0M188.3 610.4h0M150.5 606.8h0M208.9 631.4h0M172 609.9h0M195.7 629.4h0M176.1 636.8h0M199.2 613.6h0M159 608.6h0M229.9 623.6h0M220 633.8h0M208.2 625.5h0M198 620.6h0M163.7 632.4h0M157.7 615.1h0M173 631h0M195.9 613.8h0M242.5 634.2h0M201.4 621.7h0M146.8 617.6h0M197.4 616.6h0M185.1 634.3h0M202.2 633.4h0M151.1 606.5h0M140.5 631.8h0M165.3 606.4h0M179.4 626.3h0M194.7 634.1h0M210.3 627.1h0M214.8 619.9h0M189.2 632.8h0M164.5 624.8h0M175.3 636.1h0M216.6 625.7h0M169.5 629.2h0M202.9 623h0M168.1 632.7h0M190.7 625.6h0M187.9 637.6h0M168 626.6h0M181.4 620.1h0M164 619.3h0M224.8 628.5h0M205.3 624.6h0M196.9 639.3h0M159.5 612.9h0M189.2 635.6h0M144.7 628h0M232.6 623.6h0M163.5 626.8h0M174.7 610.8h0M159.6 617.8h0M224.7 621.3h0M170.8 634.4h0M167.9 631.8h0M179.1 613.9h0M153.5 616.4h0M200.9 628.8h0M196.9 639.6h0M180 604.7h0M183.7 607.7h0M193.8 609.7h0M139.3 627.2h0M185 635.4h0M175.3 631.8h0M159.4 633.3h0M239.7 629.5h0M237.1 630.5h0M232.3 627.4h0M151.2 627h0M187.8 619.5h0M208.2 637.3h0M171.4 614.7h0M237.7 634.4h0M171.4 601.9h0M219.2 626.2h0M243.1 630.1h0M203.9 627.7h0M172 627h0M195.7 629.8h0M179.2 629.8h0M201.2 618.9h0M227.2 637.7h0M146.9 616.8h0M219.5 625.4h0M170.9 617.3h0M171.6 618.9h0M230.5 631h0M191.8 625.3h0M227.8 622.6h0M178.5 637.3h0M217 618.8h0M161.1 631h0M166.2 606h0M208.1 635.6h0M191.5 640.8h0M227.7 631.7h0M187.5 639.4h0M168.6 617.4h0M183.9 628.2h0M142.8 617.9h0M146.4 629.7h0M207.9 617.9h0M222.9 618.5h0M186.3 607.7h0M193 616.6h0M188.4 634.7h0M171.9 613.8h0M150.1 630.1h0M191.6 609.7h0M149.6 628.6h0M154.5 614.2h0M193.3 629.6h0M156 612.5h0M219.9 628.9h0M218.1 619.3h0M212.1 614h0M227.6 628.7h0M186.2 625.5h0M156.4 626.9h0M167.6 604.8h0M212.1 619.6h0M183.8 631.4h0M187.1 619.4h0M216.4 621.1h0M163.9 628.9h0M182.3 631.9h0M207 635.4h0M178 616.4h0M139.8 622.5h0M186.3 613.4h0M210.2 634.4h0M154.7 606.4h0M174.4 613.3h0M196.2 639.2h0M218.6 621.3h0M222.6 619h0M143 613h0M197.1 620h0M152.9 629.7h0M193.8 610.7h0M179.7 636.8h0M193.4 616.6h0M180.4 609.6h0M158.7 612h0M202.2 612.2h0M169.9 607.4h0M210.1 629h0M236.5 625.2h0M153.3 608.8h0M178.7 629.8h0M181.1 611.8h0M240.9 628.3h0M163.1 627.8h0M222.4 619.3h0M157.3 606.5h0M166.3 612.1h0M146.2 615.5h0M154 630h0M216.8 625.8h0M162.6 602.7h0M158.7 628.8h0M226.4 623.7h0M143.3 622.8h0M184.5 631.1h0M232.7 630.8h0M155.3 622.2h0M218.4 625.9h0M178.5 605.7h0M179.7 632.5h0M190.2 638.1h0M237.8 626.3h0M153.5 621.1h0M207.6 628.9h0M208.2 612.7h0M231.5 630h0M192.8 633.4h0M146.9 610.2h0M173.8 610.5h0M217.2 630.4h0M153.9 628.6h0M227.9 625.3h0M217.4 617.1h0M205 616.5h0M165.8 629.6h0M237.4 626h0M181.1 612.8h0M185.3 625h0M218.6 618.8h0M178.8 636.7h0M214.9 620.1h0M207.4 630.1h0M189.4 632.6h0M220.3 623.5h0M219.7 638h0M173.3 625.2h0M162.3 604.6h0M232.4 631.3h0M216.1 630h0M141 618.9h0M163.7 634.8h0M184.2 638h0M208.2 616.8h0M207.1 617.4h0M188.5 638.6h0M249.1 632.5h0M143.8 609h0M176.7 619.9h0M175.7 621.6h0M172.8 624.1h0M180.3 617.2h0M200.9 613.4h0M234.6 628.1h0M211.4 637.7h0M145.4 614.5h0M168.4 603.5h0M176.9 601.8h0M202.2 614.7h0M200.8 618.4h0M165.9 625.4h0M146.3 619.1h0M177.7 607.3h0M165.4 628.9h0M244.3 632.2h0M221.9 636.4h0M203 620h0M235.3 625.2h0M165.2 634.9h0M224.6 621.1h0M160 624.2h0M163.5 627.4h0M178.1 631.1h0M193.1 624.7h0M155.7 614.6h0M171.8 604.8h0M153.7 629.2h0M166.8 609.8h0M179.7 605h0M139.3 611.9h0M150 627.5h0M206.4 627.3h0M209.7 636.4h0M196.6 631h0M221.2 637.2h0M228.8 635.2h0M141.3 623.5h0M163.5 617h0M142.9 618.9h0M170 632.6h0M173.9 628.1h0M163.1 617.8h0M172.8 628h0M236.2 636.1h0M174 629.8h0M171.4 606.8h0M170.5 609.9h0M151.9 614.3h0M142.7 613.6h0M179 614.1h0M176.1 623.2h0M201.7 637.6h0M168.2 618.5h0M168.9 625.1h0M161.9 624.7h0M150 630.8h0M228.5 633.7h0M178.2 603h0M189.3 634.5h0M141.6 632.5h0M196.2 633.4h0M148.8 617.6h0M154.1 620.2h0M144.4 617.9h0M223.3 624.8h0M178.2 621.2h0M180.6 605.3h0M225 623.3h0M214.5 617.3h0M171.9 622.6h0M190.7 608.1h0M205.7 616.4h0M192.2 619.2h0M142.7 624.9h0M191.6 638.5h0M152.5 612.3h0M207.4 636.2h0M194.9 627h0M164.3 615.8h0M230.5 622.5h0M184.1 636.2h0M202.7 623.4h0M183.5 614.7h0M157.8 626.1h0M238.8 630.3h0M154 614.7h0M173.3 602.3h0M191.3 619.8h0M171.1 623.1h0M151.8 621.7h0M203.3 621.3h0M240.8 630.6h0M205.3 611.2h0M178 604.6h0M217.8 624.4h0M177.6 605h0M239.3 631.1h0M199.2 628.1h0M160.7 630h0M151 626.2h0M217.5 625.4h0M176.9 630.1h0M194.7 625.2h0M165.3 605h0M187.4 637.5h0M204.4 629.2h0M213.2 627.5h0M177 634.7h0M203.9 636.4h0M201.6 618h0M140 609.8h0M199.7 615.5h0M188.9 634.9h0M174.1 620.7h0M205.5 616.4h0M142.1 625.4h0M210.1 621.1h0M178.9 634.8h0M183.2 606.7h0M164.5 605.1h0M172.6 619.8h0M212.5 627h0M206.8 614.2h0M144.1 611.7h0M139.1 613.9h0M236.1 635h0M214.7 633.9h0M165.4 629.7h0M164.5 620.1h0M184.1 610.1h0M169.1 629.9h0M209 614h0M206.6 621.7h0M159.5 633.9h0M144 629.1h0M214.4 627.5h0M234.6 629.7h0M228.6 633.1h0M189.7 616.5h0M193 638.8h0M215.7 620.7h0M153 610.8h0M220.5 627.3h0M191.8 620.2h0M181.8 632.8h0M178.9 617.3h0M140.6 617h0M166.8 604.3h0M173.3 627.7h0M180.5 604.3h0M170 613.4h0M138.9 627.9h0M168.5 614.3h0M183.9 609.6h0M195.6 619h0M230.4 633h0M163.2 630.8h0M200.1 633.6h0M171.7 605.4h0M159.8 628.9h0M234 627.7h0M180.2 631.1h0M153.3 622.7h0M234.8 636h0M200.6 639.4h0M244 634h0M152 624h0M143.6 632.3h0M168.2 616.8h0M190.9 620.7h0M187.1 609h0M162.3 634.4h0M179.3 617.8h0M192.9 619.8h0M175.7 611.5h0M180.4 609.1h0M167.6 615.7h0M150.2 621.6h0M174.7 621.6h0M138.4 625.1h0M160.9 607.4h0M169.9 604.9h0M146.1 631.4h0M161.3 625.5h0M191.7 613.6h0M200.7 638.9h0M207.3 637.7h0M222.9 623.1h0M198.7 631.8h0M189.5 632.5h0M178 618h0M187 618.6h0M148.6 613h0M170.4 605.6h0M191.6 636h0M236.9 629.5h0M184.8 622.3h0M202.9 610.7h0M149.7 618.9h0M188.1 636.8h0M210.6 631.5h0M230.8 623.6h0M186.3 610.1h0M204.5 636.8h0M187 613.8h0M185.3 612.7h0M208.6 624.2h0M155.9 627h0M191.5 637.2h0M162.3 614h0M158 606.2h0M152.7 628.1h0M139.6 630.4h0M199.4 621.1h0M165.4 608.1h0M232.8 629.8h0M194.2 628.2h0M162.7 620.5h0M197.6 632.1h0M148.6 607.5h0M164.4 607.3h0M219.9 631.1h0M200.2 625.1h0M214.4 619.6h0M164 630.5h0M206.9 634.1h0M197.8 628.2h0M194.7 611.1h0M175.7 613.9h0M144.1 616.6h0M190.2 610.9h0M197.7 625.5h0M154 611.4h0M187.9 608.2h0M189.3 631.6h0M166.7 618h0M139.4 610.6h0M238.8 630.2h0M190.7 632.2h0M238.6 627.5h0M179.4 621.1h0M162.9 628.5h0M207.3 637.5h0M139.8 632.6h0M209.7 613.9h0M219.7 623h0M177.4 629.9h0M202.2 636.9h0M143.8 629.7h0M190.9 627.2h0M233.1 629.9h0M153 629.8h0M232.7 626.6h0M189 619.4h0M184.6 637.1h0M176.3 603.6h0M148.8 631.9h0M210.4 612.7h0M189.1 626.2h0M173.1 602.2h0M246 631.9h0M207.6 615.8h0M167.6 600.2h0M203.8 619.7h0M190.5 617.5h0M142.7 614.7h0M139.3 626.7h0M141.1 621.8h0M177.1 606h0M172.2 634.2h0M190.4 633.8h0M196.8 640.4h0M146.7 616.1h0M175.9 622.7h0M219.2 634.7h0M145.5 623.1h0M180.3 608.4h0M204.2 630.2h0M141.2 619.8h0M178.5 604h0M196.7 617h0M203.1 620h0M168 616.1h0M151.6 614h0M237.5 633h0M196 614.2h0M186.3 629.7h0M206.5 616.7h0M201.7 639.6h0M243.4 628.7h0M144.7 612.1h0M142.4 621.9h0M172.7 603.1h0M196.5 611.7h0M218 616.8h0M172.4 605h0M192.8 634.9h0M177.5 633.8h0M176.7 611h0M161.7 606.4h0M164.9 634.6h0M159.4 623.3h0M169 609.8h0M159 631.6h0M221.7 636.7h0M164 625.9h0M153.7 620.3h0M219.6 632.6h0M141.6 625.9h0M185.7 631.2h0M236.8 633.2h0M203.7 626.9h0M215.3 618.6h0M153.9 622.3h0M219.3 628.8h0M205.7 617.6h0M223.3 626.5h0M191.4 612.6h0M218.3 631.6h0M160.7 634.7h0M201.2 611.2h0M182.2 624.6h0M211.8 623.6h0M186.7 612.9h0M197.4 624.3h0M147.5 613.8h0M139.5 631h0M170.3 619.6h0M162.9 622.5h0M194 619.5h0M170.8 636.3h0M158.7 605.2h0M164.5 619.5h0M160.5 628.3h0M183.2 638.1h0M230 624.5h0M198 614.6h0M187.1 614.7h0M167.8 627.7h0M159.1 609.9h0M160.7 609.9h0M224.3 631.8h0M171.8 608h0M205 626h0M193.3 612.2h0M221.8 618.5h0M190.3 618.4h0M142.4 617.2h0M188.2 614.2h0M186.5 615.8h0M196.8 628.2h0M224.1 628.3h0M234.4 634.3h0M157.1 615.9h0M181.4 627.5h0M225 619.4h0M182.6 638.8h0M222.3 624.6h0M152.1 613.8h0M176.7 632.6h0M159.5 605.2h0M139.4 628.9h0M200.6 623.7h0M144.2 625.5h0M181.6 627h0M215.5 624.6h0M193.6 619.6h0M176.6 630h0M213.1 619.3h0M148.4 610.3h0M191.9 629.6h0M180.6 632.3h0M170.7 607.7h0M189.3 607.8h0M187.5 625.6h0M147.9 618.9h0M168.5 612.2h0M229.8 623.1h0M157.9 630.9h0M206.6 627.9h0M138.3 625.2h0M170.3 614.1h0M249.7 632.3h0M160.2 616.8h0M149.8 607.3h0M174.9 636.7h0M199.3 633.3h0M167.5 617.6h0M141.5 614.3h0M166.1 627h0M199.1 623.2h0M217.2 636.5h0M174.9 604.5h0M164.5 622h0M158.3 621h0M201 614.6h0M219.3 623.1h0M189.2 607.7h0M219.9 624.9h0M215.4 626.9h0M177.3 604.2h0M210 612h0M194.9 632.8h0M172.4 630.3h0M198.2 612.7h0M174.5 619.2h0M140.6 621.6h0M182.7 633.9h0M213.4 629.8h0M198.6 638.9h0M174.8 617.6h0M180.4 623.3h0M158.5 605h0M193.2 637.9h0M176.4 609.9h0M182.4 639.3h0M213.3 625.5h0M202 626.9h0M140 629.1h0M165.6 611.4h0M166.2 605.1h0M204.5 635.7h0M153 615.4h0M194.5 625.6h0M163.2 619h0M231 627.7h0M248.6 632h0M170.3 618.4h0M156.2 623.9h0M148.4 624h0M209.1 627.2h0M147.3 632.1h0M155.9 631.7h0M201.1 617.7h0M246 631.7h0M153.1 627.8h0M229.9 628.8h0M203.2 636.3h0M172.9 615.6h0M147.6 627.6h0M203.1 613.3h0M153.2 627.1h0M157.8 621.4h0M211.4 621.6h0M181.7 613.2h0M214 631.3h0M184 630.2h0M182.6 605.3h0M193.5 612.3h0M184.5 606.8h0M142.5 617.4h0M218.6 620h0M210.1 622.2h0M205 619.6h0M188.1 633.9h0M236.6 632.1h0M202.9 631.6h0M165.6 629.2h0M163.4 614.3h0M182.6 612.5h0M140.1 610.5h0M201.5 625.3h0M208.3 632.7h0M157.2 610.6h0M188.7 616.7h0M228 634.8h0M165.6 631.2h0M236.3 634.3h0M232.7 629.9h0M154.9 612.9h0M208.2 623.6h0M148.3 621.6h0M182.6 632.5h0M201.1 622.5h0M167.2 621.7h0M200.8 639.4h0M216.1 637.6h0M224 628.3h0M142.6 626.6h0M202.7 628.2h0M184.7 628.4h0M173.6 610.2h0M188 627h0M211.2 630.9h0M219.3 621.7h0M210.6 615.7h0M206.8 619.2h0M236.6 635.1h0M197.7 633.2h0M148.4 623.1h0M173.8 624.1h0M221.8 633.5h0M139.4 625.1h0M216.9 626.5h0M151.8 613.3h0M148.8 628h0M180.5 619.1h0M178.5 634.3h0M144.7 619.6h0M190.5 615.2h0M171.2 603.5h0M192.3 640.4h0M227.2 636.7h0M223.8 633.3h0M156.4 610.5h0M205.6 620h0M177.7 623.5h0M166.9 632.3h0M148.1 619.7h0M166.6 630.5h0M186.7 636.4h0M222.6 630.7h0M158.6 626.4h0M196.4 619h0M212.5 617.8h0M185.7 626.7h0M149.9 628h0M186.8 625.1h0M204.4 638.5h0M244.9 632.3h0M178 627.2h0M204.1 621.6h0M173.3 603.6h0M160.9 608.5h0M235.6 625.1h0M193.5 614.5h0M203 628h0M169.8 634h0M180.9 633.7h0M153.4 624.3h0M153.3 618.6h0M192.7 628.4h0M201.6 626h0M176.9 606h0M244.8 632.6h0M139.4 612.4h0M192.6 609.1h0M208.3 633.3h0M220.8 626.4h0M182.1 610.1h0M147.8 626.9h0M223.1 631.9h0M140.4 623.1h0M187.6 631.5h0M195.2 638.3h0M156.5 621h0M190 608.4h0M236.5 633.1h0M192.2 624.6h0M167.9 619.3h0M191 610.5h0M219.4 622.1h0M162.3 617.2h0M143.5 624.9h0M199.9 622.5h0M176.2 628.7h0M210.6 625.5h0M198.5 611.6h0M199.1 627.5h0M243.2 634.2h0M168.3 608.2h0M209.1 632.5h0M181.3 631.9h0M195.9 634.9h0M203.4 627.5h0M209.3 621.2h0M214 636.7h0M183.9 629.2h0M182.8 611h0M196.7 635.3h0M165.5 615.1h0M196.1 637h0M203.3 619h0M164.7 621.6h0M158.4 632.2h0M165.6 630.4h0M243.2 633.4h0M152.9 610h0M209.5 627.6h0M151.7 626.1h0M166.9 623.3h0M184.8 629.9h0M149.8 621.5h0M158.1 606.8h0M174.6 632h0M213.1 630.4h0M202.1 616.5h0M164.2 630h0M216.5 622.4h0M185.2 606.9h0M177 630.4h0M174.9 620.5h0M179.1 605.8h0M191.2 625.8h0M159 629.5h0M198.7 610.6h0M171.6 600.3h0M219.7 625.7h0M188.3 626.7h0M196.4 638.5h0M227.9 635.8h0M181.5 624.3h0M159.6 623.2h0M213.5 615.3h0M236.8 631.4h0M157.7 628h0M196.1 633.8h0M232.5 625.7h0M196.9 615.2h0M221.7 636h0M215.8 623.5h0M139.2 616.4h0M172.3 620.2h0M208.5 616h0M186.5 639.3h0M199.6 623.8h0M173.7 636.9h0M193.5 622.4h0M194.8 637.1h0M219.4 635.1h0M228.8 627.5h0M155.9 633.4h0M226.1 624.2h0M200.7 618.6h0M213.7 623.5h0M238.7 631.5h0M141.5 630.2h0M188.5 633.1h0M223.7 619.6h0M143 622.9h0M165.6 629.7h0M186.6 608h0M157.6 611.9h0M147.8 608.9h0M207.4 617.8h0M159.7 633.9h0M149.7 617.2h0M198.8 622.8h0M217.7 636.1h0M171.5 620.4h0M180.5 612h0M168.2 614.7h0M219.6 623.1h0M198.4 623.2h0M175.4 620.5h0M217.7 637.7h0M205.9 634.9h0M211.5 618.7h0M192.5 625.1h0M165.8 604.2h0M215.5 624.4h0M200.2 637.4h0M182.6 608.3h0M186.2 636.4h0M228.3 629h0M176.7 606h0M168.7 635.6h0M161 625.2h0M188.4 626.4h0M206.7 634.1h0M214.2 629.9h0M181 616.4h0M139.1 616.7h0M177.1 637.6h0M179.1 622.4h0M143.9 616h0M185.7 627.9h0M192.1 632.7h0M159.3 617.5h0M227.4 630h0M185.9 609.5h0M139.7 627.7h0M194.2 621.3h0M138.9 626.9h0M150.6 613.1h0M142.9 610.5h0M149.6 607.6h0M199.2 638.8h0M174.6 607.1h0M167.8 608.6h0M212.7 636.1h0M160.3 624.8h0M161.8 626.3h0M157.6 611.9h0M154 620.8h0M161 628.3h0M153.9 619.8h0M203.2 636.6h0M213.8 619.5h0M171.6 637h0M139.5 625.8h0M221.5 637.4h0M139.7 629.8h0M185.2 615.2h0M160.4 626h0M165.4 627.7h0M161.2 608.1h0M174.8 616.9h0M243.9 632.7h0M227.9 629.7h0M200.6 636.9h0M235.5 627.8h0M168.2 626.5h0M187.6 609.1h0M183.2 625.1h0M158.9 611.9h0M204.1 619.7h0M159.1 609.2h0M202.7 632.4h0M185.1 635.1h0M169 630.3h0M213.9 621.2h0M156.3 624.1h0M170.9 606.5h0M162 611.5h0M176.1 620.4h0M140.4 628.4h0M182.3 608.1h0M186.7 617.5h0M229.8 632.3h0M197.3 611h0M163.8 614h0M193.2 631.3h0M209.4 612.9h0M165.6 617.7h0M203.1 610.7h0M164.1 620.2h0M207.3 612.2h0M166 634.3h0M164.5 621.4h0M225.8 629.5h0M222.7 621.7h0M227.1 628.5h0M225.3 636.3h0M213.7 620.3h0M199.4 613.3h0M170.4 603h0M200.4 634.8h0M177.7 635.2h0M241.2 634h0M207 629.8h0M199.7 635.6h0M169.6 632.4h0M178.9 610.3h0M176.6 615.6h0M154.2 628h0M158.8 617.2h0M151.8 627.2h0M169.7 628.1h0M190.6 636.5h0M168 636h0M149.3 608.6h0M144.5 628.9h0M170.8 630h0M219.4 619.8h0M221.3 627.9h0M186.3 611.6h0M223.9 631.8h0M178.2 630.9h0M207.9 625.5h0M140 631.7h0M197.1 621.9h0M181.7 638.6h0M144.8 631.4h0M220.2 619.1h0M203.3 619.5h0M189.2 628.9h0M215 622.6h0M200.7 633.8h0M177.4 624h0M186.8 608.3h0M188.1 629h0M187.9 608.1h0M185 613.3h0M207.3 616h0M216.6 625.7h0M165.8 632h0M205.5 630h0M165.1 633.6h0M147.4 614h0M225.4 630.1h0M151.3 608.4h0M181.1 627.4h0M166.4 631.8h0M225.8 626.8h0M185.2 617.9h0M154.2 615.8h0M193.5 634.3h0M157.6 608.7h0M189.8 626.7h0M218.3 631.6h0M182.3 625.3h0M222.7 634.9h0M198.6 637.3h0M225.2 626.2h0M227.3 633.5h0M193.2 619h0M148.4 616.3h0M181.5 627.1h0M170.1 612.8h0M209.1 629.5h0M197.5 639.5h0M146.8 631.3h0M160.8 628.9h0M151.4 609.4h0M216.2 628h0M144 629.5h0M172.9 636.3h0M169.5 623.5h0M148.2 609.2h0M163.5 619.1h0M207.3 615.9h0M186.3 611.1h0M222.8 619.4h0M143.1 611.1h0M169.7 633.5h0M165.5 631.2h0M211 629.4h0M177.6 605.3h0M161.3 621.7h0M233.4 631.3h0M207.5 620.7h0M216 637.6h0M190 616.1h0M213.5 620.8h0M150.9 626.9h0M163.5 605.3h0M205.8 621.3h0M208 625h0M208.8 616.9h0M155.6 631.7h0M180.2 618.5h0M153 626h0M143.4 625.1h0M224.7 632.4h0M192.8 629.8h0M199.5 632h0M208.5 633.5h0M175.7 620.5h0M180.4 617.7h0M183.2 635.1h0M146.8 629.4h0M144.5 607.8h0M139.4 614.3h0M179.8 607.2h0M174.2 636.7h0M158.8 613h0M245.8 632.8h0M159.2 614.3h0M216.8 624.2h0M222.8 626.3h0M167.5 629.7h0M204.8 631h0M167.4 629.3h0M221.3 627.8h0M241.6 632.6h0M201 620.6h0M195.3 611.4h0M218.1 633.9h0M158.7 624h0M155.9 605.8h0M221 636.9h0M187 621.8h0M177.1 603.3h0M158.8 633.5h0M234.2 632.6h0M154.9 630.9h0M207.1 620.4h0M236.9 633.9h0M161.6 634.7h0M168.2 626.1h0M199.2 614.1h0M231.6 632.5h0M231.4 634.6h0M145.1 617.5h0M200.7 632.2h0M161 607.3h0M190.7 629.3h0M148.6 621.5h0M193.7 623.6h0M174.3 620.9h0M189 634h0M225.9 626.1h0M214.6 631.9h0M215.1 622h0M208.3 629.5h0M145.9 621.7h0M174.4 621.8h0M228.9 627.2h0M229 635.9h0M173.7 600.4h0M147.1 619.5h0M218.1 622.9h0M174.4 634.4h0M243.4 633.4h0M146.9 628h0M233.2 632.2h0M237 628.6h0M192.6 618.7h0M208.9 616.8h0M152.6 607.8h0M227.3 635.5h0M217.4 621.7h0M214.9 627.9h0M146.1 624.7h0M167.6 633.9h0M206.2 621.1h0M173.5 611h0M213.5 632.7h0M218.1 632.3h0M143.8 616.7h0M162.3 633.2h0M176 606h0M166.3 618.9h0M235.3 634.5h0M161.7 605.7h0M174.1 631h0M179.9 635.2h0M143.5 622.9h0M207.9 633.7h0M170.8 624.9h0M170.9 615.1h0M183 638h0M178.2 619.6h0M212.6 629.8h0M167.8 623.3h0M172 635.5h0M231.5 624.8h0M211.7 620.3h0M197.5 635h0M207 631.2h0M139.6 616.7h0M159.5 614.9h0M190.3 635.3h0M208.4 630h0M225.8 637.1h0M186.9 612.8h0M149.1 612.5h0M165.3 621.7h0M214.6 627.2h0M194.3 620.1h0M249.2 632h0M158 604.7h0M149.5 623.9h0M175 620.7h0M195.5 616.4h0M141.1 629.3h0M168.4 601.3h0M165.9 607.4h0M223.5 627.7h0M157.8 609.2h0M178.5 604.8h0M187.3 623.6h0M139.1 614.1h0M232.3 627h0M159.2 633.7h0M229 636.7h0M247 633.2h0M147.7 618.9h0M202.8 628.1h0M192.9 626.3h0M189.4 613.3h0M175.2 625.8h0M147.2 618.1h0M167.2 603.8h0M232.9 636.2h0M154.5 621.8h0M148.8 606.8h0M177.7 610.7h0M188.4 607.1h0M167.8 632.9h0M208.6 623.2h0M142.9 617.3h0M154.3 612.3h0M167.6 617.3h0M174 605.6h0M188.8 623.3h0M228.8 634.4h0M149.3 622.4h0M198.9 635.7h0M151.7 613h0M148 628.5h0M208.1 613.9h0M170.9 636.5h0M179.7 608.8h0M209.8 617.7h0M196.6 639.3h0M219.5 635.9h0M204.7 617.3h0M173.8 624h0M192.9 638.2h0M215.2 633.4h0M205.5 618.1h0M156.2 624.9h0M144.2 625.2h0M199.3 626.8h0M164 611.8h0M153.4 629.7h0M192.4 639.1h0M184.9 608.8h0M152.8 612.5h0M241.3 634.1h0M186.9 635.7h0M145.6 616.1h0M143.9 610.4h0M196.9 626.6h0M153.5 613.5h0M220.5 630.6h0M170.9 614.1h0M171.1 603.7h0" fill="none" stroke-linecap="round"/>
<path stroke="#F23A3A" stroke-width="1.8" d="M134.4 620.8h0M137.8 615.8h0M112.3 622.3h0M97.3 607.1h0M116.2 608.1h0M115.5 615.7h0M118.8 634.8h0M103 626h0M117 618.8h0M97.4 616.4h0M94.9 607.2h0M109 621.2h0M116.7 636.4h0M112.4 609.6h0M121.1 614.8h0M107.5 608.6h0M121 612.5h0M123.4 630.5h0M119.9 635.3h0M123 620h0M130.5 622.3h0M125.6 612.1h0M96.1 615h0M101.1 616.8h0M130 611.6h0M114.9 617.4h0M118.5 606.8h0M120 632.5h0M104.8 607.9h0M104.1 625.8h0M103 613.4h0M138.5 613.1h0M105.6 607.6h0M116.6 628h0M118.9 630.7h0M126.5 613.4h0M116.3 636h0M115.4 619.4h0M102 616.5h0M121.9 627.4h0M93.6 621.6h0M119.6 612.8h0M122 608.9h0M129.2 612.6h0M112.7 623.3h0M93 619.9h0M120.5 606.2h0M112.4 627.1h0M100.2 612h0M119.9 631.1h0M135.3 611.6h0M97.4 617.1h0M90.6 614.8h0M118.5 617.6h0M131.9 613.6h0M113.8 631.2h0M122.4 631.3h0M109.9 605h0M112 612.9h0M110.8 616.1h0M124.2 614.8h0M118.1 612.6h0M114.3 623.2h0M120 618.4h0M114 626.5h0M120.2 623.2h0M123.1 620.1h0M99.1 614.4h0M134.9 609.5h0M121.3 620h0M105.7 617.5h0M109.7 616.9h0M121.6 607.9h0M99.9 608.7h0M102.5 607.9h0M105.6 610.3h0M103.8 608.4h0M98.7 614.7h0M121.3 632.7h0M93.4 621.8h0M125.4 624.6h0M108.5 606.3h0M117.9 613h0M113.4 610.5h0M114.7 605.5h0M93.7 614.4h0M105.6 619.4h0M100.6 606.5h0M123.5 623h0M124 625.2h0M124.5 611.4h0M101.4 618h0M115.6 628.2h0M101.7 616.7h0M89.6 616h0M117.6 611.3h0M117.5 621.3h0M131 618h0M126.5 627.5h0M112.4 615.5h0M92.6 614.2h0M125.5 611.7h0M104.3 606.1h0M129.1 614.6h0M113 623.2h0M92.2 616.1h0M99.8 606.3h0M125.2 628.8h0M132.4 619.6h0M93 621.4h0M110.7 611.8h0M127.3 624.1h0M130.5 610.6h0M98.6 614.9h0M101.4 618.3h0M99.7 606.9h0M99.1 615.2h0M119.8 620.6h0M90 613.7h0M133.9 612.7h0M127.5 626.2h0M114.3 607.1h0M130.5 610.1h0M130.6 612.9h0M115.6 629.3h0M135.7 617.2h0M91.6 612h0M119.4 632.3h0M100 608.9h0M121.8 630.2h0M128.5 618.7h0M119.1 629.1h0M98.2 622.5h0M100 614h0M120.9 626.6h0M111.6 616.6h0M136 614.8h0M98.4 617.2h0M110.7 613h0M98.1 605.5h0M100.3 623.8h0M123.2 611.9h0M107.2 618.5h0M90 618.6h0M103.6 618h0M105.2 607.6h0M95.7 612.2h0M101.8 614.3h0M104.1 625.8h0M118.2 620.5h0M110.5 613h0M131.2 623.7h0M115.3 630.8h0M110.5 620.6h0M97.6 616.4h0M124 619.6h0M91.3 619.6h0M127.2 614.6h0M91.1 613.1h0M124.5 613.4h0M124.9 609.3h0M113.8 625.7h0M113 628.4h0M107.4 606.4h0M106.7 612.1h0M95.4 612.5h0M135.3 613.9h0M115.2 636h0M102.1 611.4h0M122.2 625.9h0M125.7 607.1h0M128.4 617.9h0M95.3 621.4h0M125.5 626.3h0M103.1 614.1h0M91.9 617.5h0M121.8 628.5h0M95.8 612.5h0M93.6 611.5h0M110.8 614h0M112.9 613.3h0M116.1 608.1h0M106.7 625.4h0M138.2 616.7h0M135.4 609.2h0M119.8 609.1h0M93.9 607.3h0M138.8 621.4h0M121 611.9h0M95.3 616.3h0M105.1 624.4h0M119.2 610.5h0M104.8 618.2h0M109.8 629.3h0M120.3 618.2h0M124.8 625.3h0M94.9 611.5h0M125.8 613.1h0M116.1 613.2h0M125.9 627.6h0M135.4 617h0M111.9 610.8h0M106.3 605.5h0M131.4 618.1h0M107.3 627.3h0M125 622.1h0M120.7 609.6h0M96.7 612h0M102.1 626h0M105.2 627.7h0M101.6 621.9h0M137.9 614.9h0M129.6 623.7h0M123.4 613.3h0M122.1 627.2h0M96.7 621.8h0M98.3 621.9h0M118.2 621.3h0M125.2 616.9h0M97.9 606.3h0M111.3 613.7h0M96.6 614h0M95.2 623.1h0M92.5 621.5h0M105.5 607.2h0M121.9 610.5h0M119.7 633h0M110.6 627.3h0M110.3 610.1h0M108.9 606.9h0M134.6 618.3h0M112.9 632.3h0M107.7 605.2h0M137.6 618.5h0M109.8 616.5h0M124.5 630.8h0M119.6 608.4h0M94.1 620h0M121.8 625.9h0M91.1 617.9h0M107.5 625h0M133.2 613.6h0M132 614.2h0M121.9 614.2h0M132.4 609.3h0M94.7 621h0M134.7 609.1h0M98.1 609h0M118.7 610.4h0M109.4 615.3h0M126.8 609.1h0M115 605.5h0M120.1 617.4h0M98.3 614.9h0M100.2 619.9h0M99.2 624.1h0M135.4 612.6h0M97.9 610.1h0M132.7 615.3h0M118.1 621.9h0M103.7 611.7h0M88.8 615.2h0M127.2 626.4h0M129.5 627.3h0M119.3 617.6h0M106.5 614.9h0M92.7 621.9h0M136.6 615.1h0M109.3 615.6h0M120.7 632.1h0M104.3 624.6h0M121.4 622.8h0M106.4 621.5h0M118.2 615.9h0M93.1 614.6h0M122 621.9h0M106.5 623.6h0M108.8 614.1h0M104.5 616.8h0M103 618.3h0M125.7 614.9h0M101.1 623.9h0M124 617.2h0M95.1 621.6h0M110.7 619.6h0M126.8 623.8h0M118.3 619.9h0M111.3 616h0M128.8 625.1h0M111.2 607.5h0M130.4 611.2h0M121.6 631.6h0M111.7 608.8h0M91.5 611.3h0M135.9 620.2h0M123.1 615.6h0M135.7 612.6h0M92.2 610.6h0M124.3 625.8h0M111.8 609.6h0M101.7 614.7h0M107.3 605h0M94.7 620.3h0M117.1 627.9h0M106.6 612.9h0M120.4 623.6h0M120.4 613.9h0M92.8 621.9h0M124.1 621.8h0M105.5 607.9h0M125.7 629.6h0M111.3 618.7h0M99.4 605.5h0M111.9 610.7h0M95.9 613.6h0M119.9 614.3h0M115.5 608.5h0M133.9 616.1h0M117.8 626.3h0M103.2 622.1h0M128.8 618.7h0M97.7 622.3h0M112.3 608.3h0M129.4 624.4h0M109.4 609.5h0M107.1 605.7h0M91.2 618.9h0M116 622.2h0M117 629.9h0M128.4 628.5h0M123.6 608.1h0M108.4 608.5h0M113.1 630.9h0M106.8 614.2h0M136.3 615.3h0M93.5 610.1h0M111.4 612.2h0M117.3 622.9h0M133.2 624.3h0M112.1 631.3h0M90.2 613.1h0M128.1 621.1h0M90 612.8h0M123.1 624h0M131.1 624.7h0M127.8 614.1h0M113.6 624.1h0M99.4 614.7h0M93.2 615.1h0M136.7 611h0M114.8 609.9h0M138.7 612.6h0M97.8 607.7h0M105 609h0M116.4 612.7h0M121.5 625.4h0M119.4 614.4h0M105.4 611.1h0M116.9 621.9h0M131.4 619.6h0M116.5 618.8h0M107.1 605.8h0M89.1 609.3h0M125.9 630.3h0M104.5 612.6h0M130.8 610.8h0M118.9 620.7h0M95.6 609.6h0M125.6 622.5h0M120.9 607.3h0M114.9 626.8h0M128.9 619.7h0M99.7 622h0M113.6 631.9h0M109.3 618.4h0M108.6 615.5h0M91.2 618.1h0M122.3 622.1h0M138.4 612.9h0M110.4 605.2h0M114.4 617.6h0M129.4 616.9h0M111.3 619.6h0M117.5 632.1h0M137.5 622.4h0M124 623.3h0M117.5 606.5h0M118.7 616.4h0M93.2 607.1h0M102.8 622.2h0M132.4 617.9h0M124.4 628.6h0M94.3 617.2h0M132.5 619h0M94.7 618.2h0M98.4 623h0M100.5 614.8h0M128.3 610.7h0M104.1 608.8h0M106.8 623.7h0M117.5 607.5h0M131.7 619.1h0M122.2 615.8h0M120.3 617.1h0M101.5 607h0M120.1 607.9h0M123.6 629h0M93.9 609.8h0M116.1 629.2h0M112.4 625.8h0M98.8 607.6h0M124.8 626.1h0M126.8 610.6h0M121.5 631.5h0M118.5 627.4h0M127 627.2h0M120.9 619.7h0M128.1 611.6h0M90 611.7h0M102.9 611.5h0M134.6 624h0M102.9 626.7h0M103.6 607.7h0M104.6 610.9h0M128 608.5h0M92.8 615.3h0M97.7 605.7h0M121.8 623.9h0M107 624.1h0M98.3 622h0M125 625.7h0M112 616h0M93.3 612h0M120.1 613.7h0M95.7 607.3h0M116.2 631.5h0M116.3 615.8h0M109.2 616.8h0M132.2 615.8h0M103.6 616.1h0M108.4 617.8h0M130.3 620.5h0M113.7 605h0M119.4 628.5h0M101.6 624.5h0M117.7 617h0M108.6 614h0M104.9 622.9h0M134.8 616h0M109.7 629.5h0M110.6 621.9h0M99.5 613.6h0M114.8 634.7h0M131.4 612.5h0M101.4 621.4h0M93 609.2h0M120.7 616.6h0M109.5 615.5h0M117.9 628.8h0M112.1 613.5h0M115.7 616.8h0M96 621.9h0M94.6 605.8h0M104.1 610.3h0M118.4 632.1h0M100.9 624.6h0M117.1 615h0M136.4 616.9h0M90.2 616.2h0M95.6 619.1h0M127.6 624h0M117.1 612.9h0M115.3 609.9h0M115.4 607.3h0M94.3 609.4h0M131.5 617h0M114.6 629.8h0M119.5 618.9h0M114.4 605.9h0M116.2 621.4h0M105 623.3h0M110.9 609.6h0M135.3 616.3h0M120.7 620.1h0M96.7 623.3h0M97 622.1h0M106.7 618.6h0M105.2 615.6h0M110.5 616.4h0M119.1 624.1h0M96.1 622.4h0M100.8 615.3h0M107.2 622.4h0M123 623h0M93.4 607.9h0M106.9 607.2h0M110.2 619.9h0M90.1 619.6h0M134.3 623.1h0M112.5 626.5h0M90.3 614.6h0M132.3 625.4h0M128.8 628h0M100.3 616.9h0M115.5 607.2h0M104.6 621.4h0M101.3 617.5h0M112.8 619.1h0M99.8 626.2h0M128.1 607.4h0M114.4 634.6h0M110.5 605.9h0M135.1 613.5h0M108.8 605.2h0M117.2 633.6h0M96.3 609.4h0M121.4 618.2h0M106.1 614.7h0M120.7 630.1h0M118.9 614.2h0M106.2 624.2h0M120.7 632.1h0M133.8 615.8h0M111.7 631.3h0M95.7 613.9h0M117.5 614.6h0M113 607.1h0M121.9 627.3h0M126.2 620.8h0M116.9 610.1h0M105 605.5h0M88.4 613.8h0M121.5 619.6h0M115.5 618.4h0M114.9 624.7h0M89.6 618.4h0M103.4 610.1h0M104.9 609h0M111.4 624.7h0M131.6 617.3h0M118.6 634.2h0M102.5 613.6h0M104.4 624.5h0M115.1 631.5h0M114.3 624.6h0M131.1 608.2h0M114.1 610.9h0M118.8 612.5h0M97.1 617.3h0M126.7 614h0M103.3 624.1h0M104.5 616.4h0M133.2 609.6h0M102 623.2h0M117.6 634.3h0M113.9 609.4h0M112.3 622.8h0M131.9 608.5h0M103.9 623.7h0M114.1 629h0M106.6 620.5h0M129.3 626.1h0M105.2 627.8h0M121.8 623.9h0M131 613h0M106.8 628.2h0M115.8 618h0M111.9 614.8h0M97.1 619.8h0M115.5 619h0M112.2 610.2h0M129.8 622.7h0M135 618.5h0M103.7 625.8h0M93.9 621.5h0M123.3 627.1h0M110 622.3h0M116.5 623.8h0M92.3 610.9h0M94.6 618h0M112.2 609.8h0M123.5 617.2h0M129.7 608.7h0M138.2 612.6h0M88.6 613.9h0M131.6 616.1h0M124.7 616h0M107.4 624.6h0M125.9 625.8h0M122.1 633.7h0M124 619.4h0M91.3 611.7h0M117.7 610.1h0M121.7 615.3h0M109.9 627.2h0M133.1 619.4h0M136.7 617.8h0M123 629.6h0M99.9 625.8h0M120 628.3h0M118.5 614.9h0M98.2 607h0M102.5 617.8h0M108.1 615.2h0M111.5 626.2h0M100 608.7h0M95.1 615h0M91.9 614.6h0M107.3 612.9h0M103.6 609.5h0M114.2 605.3h0M117.8 625.9h0M138.2 614h0M130.7 619.6h0M131.2 625.5h0M127.8 609.9h0M116.8 619.5h0M115.1 635.7h0M122.5 607h0M93.3 619.1h0M115.2 622.9h0M106.6 608.5h0M118.5 634h0M110.8 606.1h0M137.4 613.1h0M115.6 610.2h0M124.5 618.7h0M127.5 607.4h0M136.1 613.3h0M111.8 624.5h0M93.1 609.4h0M129.8 620.7h0M139.5 613.6h0M92.3 615.4h0M126.7 613.5h0M91.4 621.1h0M97.8 625.5h0M124.8 626.4h0M113.5 633.6h0M96 608.2h0M91.9 617.3h0M117.5 611h0M101.9 624.7h0M115.9 629.2h0M98 609.6h0M139.4 618.7h0M115.9 635.7h0M88.6 614.6h0M140 620.9h0M125.5 616.1h0M106.7 609.1h0M130.8 614.7h0M104.8 620.1h0M123.8 608.4h0M103.4 617.2h0M99.1 621.5h0M117.8 628.2h0M92 614.4h0M132.9 612h0M94.2 613.2h0M121.6 628.6h0M113.5 608.7h0M114.4 607.9h0M107.8 614.4h0M111.9 610.6h0M96.6 608.4h0M137 614.1h0M90.8 617.3h0M113.8 617.7h0M117.2 635.6h0M118.2 620h0M104.7 622.9h0M97.1 615h0M123.5 609.7h0M91.7 616.4h0M99.7 619.2h0M115.5 613.8h0M109.3 610h0M114.9 610.7h0M118.5 623.8h0M98.7 606.2h0M120.9 617h0M104.7 624.1h0M137.4 620.5h0M116 611.4h0M122.3 626.6h0M100.4 625.5h0M98.7 618h0M125.7 627.7h0M112.5 614h0M115.2 608.2h0M97.7 618.7h0M116.7 631.4h0M113 625.7h0M109.2 608.1h0M96.1 618.8h0M135.2 618.4h0M129.5 609.1h0M117.4 628.7h0M109.2 617.2h0M91.5 619.1h0M132.2 613.6h0M124 611.8h0M94.6 623.5h0M139.3 610.3h0M116.6 611.5h0M106.3 619.9h0M123.6 627h0M118.8 608.1h0M96.8 621.5h0M116 618.4h0M115.9 613.3h0M96.3 616.3h0M121.1 606.8h0M128 616.7h0M91.4 613.2h0M110.4 625.1h0M120.5 626.2h0M106.1 625.1h0M100.7 619.5h0M134 621h0M120.5 618.2h0M96.8 625.1h0M105.5 620.5h0M119.3 630h0M100.6 611.8h0M93.9 611.9h0M125.5 626.5h0M140.2 617.6h0M138.5 613.3h0M96.4 608.7h0M102.2 605.6h0M97.1 619.8h0M130.5 622.9h0M111 629.7h0M99.4 613.6h0M114.1 625.2h0M133.4 616.7h0M117 610.1h0M100.2 614.1h0M87.8 610.3h0M117.4 606.9h0M95.6 621.9h0M119.2 625.1h0M96.9 618.3h0M117.5 634.7h0M96.3 609.2h0M108.2 609.1h0M113.2 614.5h0M119 621.4h0M119 633h0M108.9 627.8h0M138.9 610.7h0M94.7 622.7h0M120.4 609.8h0M105.2 623.5h0M135.3 614.1h0M101.8 607h0M116.3 629.4h0M105.9 614.2h0M115.1 629.6h0M119.8 617.4h0M103.8 619.4h0M117.2 615.4h0M132 609h0M97.4 616.6h0M123.2 606.7h0M120.2 615.5h0M102.5 626.1h0M98.4 625.9h0M128.3 628.4h0M121.1 622.6h0M108 626.3h0M119.9 614.1h0M129.7 623.8h0M89.2 609.8h0M118.7 632.3h0M116.4 634.9h0M93.2 608.3h0M112.3 623.7h0M135.5 610.3h0M95.1 616.2h0M114.6 606.1h0M118.4 615h0M139.1 610.3h0M133.1 616.4h0M99.7 606.6h0M115.7 620.4h0M129.4 617.9h0M136.5 617.4h0M113.3 624.3h0M93.3 614.1h0M119.6 628.5h0M111.9 606h0M120.2 635h0M101.8 610.3h0M106.2 613.9h0M121.4 608.2h0M118.1 615.3h0M118.3 608h0M108.1 614.5h0M115.3 607.9h0M117 617.3h0M98.2 617.5h0M121.1 626.4h0M120.7 627.7h0M117.5 609.5h0M126.5 615.6h0M128.8 617.2h0M92.3 610.5h0M95 622.8h0M132 622.9h0M109.8 605.8h0M113.7 621.3h0M115.2 620.9h0M117.1 606.4h0M108.7 609.8h0M117.1 633.3h0M129.1 611.8h0M126.2 606.9h0M94.6 614.5h0M91.7 613.3h0M109.4 607.1h0M111.3 627.2h0M103.5 619.4h0M122.4 628.8h0M93.1 618.5h0M130.8 620.5h0M135.6 616.2h0M116.5 635.2h0M104.9 607.5h0M127.4 622.2h0M124 615.9h0M90.9 615h0M120.8 607.9h0M124.3 607h0M109.8 617.2h0M137.8 618.8h0M124.8 620.1h0M91.1 616.1h0M134.9 615.6h0M126.7 617.5h0M119 631.3h0M127.5 613.3h0" fill="none" stroke-linecap="round"/>
<path stroke="#F5B41E" stroke-width="1.8" d="M45.1 603.3h0M45.9 605.8h0M52.6 606h0M45 604.5h0M50.8 603.9h0M51.8 604.7h0M50.7 606h0M51.2 604h0M48.7 603.9h0M44.4 603.3h0M51.3 605.1h0M42.4 605.4h0M42.6 606.4h0M50.8 606.9h0M41.3 605.7h0M45 604.5h0M43 604.1h0M48.3 603.5h0M45.4 605.2h0M44.4 604.2h0M52.6 604.7h0M43.3 603.7h0M42.3 604.1h0M52.4 605.6h0M45.2 604.5h0M50.3 605.8h0M46.4 603.5h0M43.8 604.7h0M52.2 604.7h0M54.5 605.4h0M61.4 606.5h0M59.4 606.2h0M83.6 610.9h0M59.4 606.9h0M66.9 609h0M56.7 606.6h0M73.3 607.7h0M85.5 611.1h0M59.6 608.1h0M60.2 608.3h0M83.4 611h0M62.8 607.6h0M80.3 609h0M72 609.4h0M67.6 607.7h0M81.9 610.6h0M67.7 609.4h0M84.3 610.1h0M55.7 606.8h0M79.6 610.7h0M84.3 610.8h0M63.1 608.5h0M72.2 608.7h0M81.1 609.9h0M62.1 607.9h0M69.3 609.7h0M69.6 607.3h0M84.1 611.8h0M75.1 609.1h0M80.1 609.7h0M68.2 609h0M80.4 609.9h0M73.1 608.9h0M61.8 607.9h0M74.3 609.7h0M54.7 606.2h0M77.2 610.3h0M76.1 608.2h0M82.4 610.7h0M62.1 606.6h0M80.5 610.4h0M67.9 608.7h0M59.9 606.3h0M69.2 609.2h0M65.8 607.5h0M81.2 609.8h0M69.1 608.6h0M72.3 609.7h0M66.2 607h0M67.3 608.1h0M54.8 606.4h0M66 607.1h0M76.1 608.7h0M77.4 610.6h0M72.8 609h0" fill="none" stroke-linecap="round"/>
<path stroke="#1FC0C8" stroke-width="1.8" d="M264.2 615h0M238.6 593.4h0M254.9 601.9h0M228.9 609.4h0M244.9 598.6h0M255.6 614h0M246.2 595h0M246.3 610.2h0M252.3 604.4h0M219.3 603.9h0M247 609.6h0M267.1 615.9h0M242.6 599.9h0M222.8 606.2h0M240.7 593.2h0M256.6 608.8h0M246.7 606.5h0M240.9 598.5h0M227.1 605h0M213.8 611.1h0M263.6 614.5h0M246.8 601.7h0M243.4 605.9h0M237.2 601.7h0M246.7 597.3h0M262.6 614.4h0M233.1 602.9h0M248.7 606.8h0M221.4 611.7h0M252.3 606.4h0M237.5 607.1h0M237.2 600.9h0M258.9 613.3h0M227.9 602.1h0M216.2 602.9h0M259.4 612.9h0M250.2 609.2h0M244.8 599.9h0M223.4 598.2h0M219.6 602.7h0M258.6 613.8h0M249.3 598.2h0M249.6 596.2h0M244.7 601.4h0M226.2 610h0M220.1 604.6h0M265.5 613.8h0M241.2 602.3h0M247.6 604.4h0M247.6 605h0M231.6 593.1h0M236.9 601.1h0M218.3 601.2h0M215.3 611.1h0M228.2 605.5h0M224.9 607.5h0M240.7 609h0M224.3 607.9h0M252.1 605.3h0M218 611.2h0M238.7 605.5h0M227.1 611.5h0M242.5 605.4h0M218.3 608.2h0M253.4 603.3h0M250 611.8h0M227.1 598.4h0M216.5 611.9h0M235.6 603.7h0M258 609h0M224.5 600.3h0M238.5 605.8h0M217.6 604.2h0M221.6 606.8h0M223.1 601.3h0M243.4 599.9h0M252.7 606.1h0M258.1 612.2h0M245.8 600.5h0M242.6 594.8h0M216.5 603.9h0M244.3 598.7h0M263.9 612.2h0M254.2 611.4h0M234.1 597h0M243.4 604.1h0M236.2 604.5h0M235.8 592.1h0M229.2 609.8h0M254.7 607.9h0M247 598.6h0M237.2 606.7h0M238.2 591.6h0M225 605.7h0M244.5 608.8h0M231.2 603.5h0M225.8 604h0M231 606.6h0M239.5 609.1h0M244.3 595.9h0M265 613.6h0M225.3 600h0M256.1 609h0M218.7 600.8h0M230.9 601.5h0M239 593.4h0M242.6 599.2h0M219.3 606.1h0M258.3 608.6h0M233.1 607.9h0M233.5 603.3h0M262.4 614.4h0M238.5 595.2h0M225.8 606h0M236.1 608.1h0M239.3 596.2h0M250.8 609h0M225.1 594.7h0M256.8 611.4h0M244.4 607.3h0M227.4 597.1h0M225.2 595.9h0M221.1 602.8h0M229.8 607.4h0M233.6 608.2h0M235.3 603.3h0M223.9 609.7h0M226.9 599.2h0M231.4 608.5h0M225.2 601.7h0M248.1 601.2h0M231.1 595.3h0M222.2 599.3h0M233.3 605.3h0M229.8 593.1h0M235.6 606.7h0M255.4 604h0M243.1 594.4h0M233.6 608.3h0M240.7 600.4h0M234.8 598.1h0M216.6 602.8h0M255.6 613.8h0M224.2 598.9h0M232.5 600.9h0M235 607.5h0M250.9 599.3h0M232.2 604.8h0M242.1 596.1h0M238.2 596.7h0M226.9 596.5h0M228.5 596.5h0M228.7 611.3h0M224.5 605.4h0M258.9 608.8h0M240.9 603h0M237.7 606.5h0M252 604.7h0M225.6 596.2h0M257.3 610.7h0M232.2 594.1h0M247.2 593.3h0M253.2 612.9h0M237.7 607.6h0M243.1 606.2h0M244 605.6h0M232.6 591.6h0M230.4 601h0M254.1 600.7h0M263.8 613.5h0M235.5 594.7h0M222 610.7h0M231.6 603.9h0M230 597.6h0M227 604.3h0M220.9 610.8h0M217 607.4h0M249.7 596.5h0M238 595.2h0M225.5 595.6h0M253.5 613.4h0M225.4 598.3h0M249.7 610.2h0M224.4 609.2h0M248.2 598h0M253.2 600.3h0M222.8 610.4h0M243.3 602.3h0M222.5 603.6h0M224.3 598.2h0M240.4 609.6h0M240 603.3h0M225.8 597.5h0M220.3 605.1h0M250.5 605.6h0M243.7 605.2h0M234 600.3h0M266.8 615h0M257.5 608.4h0M217.3 601.7h0M255.6 607.5h0M254.3 611.6h0M255.3 600.8h0M249.7 599.4h0M240.1 607.5h0M245 593.6h0M243.6 608.6h0M230.2 597.9h0M232 606.8h0M241.1 598.7h0M220 609.7h0M254 609.9h0M243.9 602.1h0M237.1 606.4h0M233.1 597.9h0M265.2 615.8h0M220.8 612h0M228.8 599h0M247 609.9h0M219.9 601.5h0M246.1 610.6h0M233.1 607.8h0M230.3 600.2h0M244.7 600.1h0M247.2 594.9h0M249.7 606.9h0M245.2 595.8h0M242.9 608.3h0M234.6 594.4h0M228 600.7h0M226.9 609.2h0M229.5 600.1h0M224.9 609.6h0M254.1 600.4h0M219.3 604h0M228.6 607.7h0M248.5 598.8h0M218 604.8h0M219.9 610.9h0M219.3 605.4h0M261.2 614.2h0M249.7 605.1h0M254.4 603.5h0M228.1 598.5h0M245.6 602.5h0M251.7 608h0M256.2 609.7h0M249.9 600.8h0M247.6 595.5h0M249.9 609.8h0M240.6 607.4h0M233.7 608.8h0M233 607.3h0M230.1 600.9h0M228.8 604h0M231.7 597.6h0M222.1 608.1h0M230.9 597.9h0M265.7 614.3h0M242 607.1h0M254.4 606.5h0M250.5 597.1h0M235.6 595.7h0M241.6 594.1h0M218.2 610h0M239.4 606.4h0M232.9 605.5h0M267.3 615.8h0M219 603.7h0M247.6 606.8h0M241.1 595.6h0M219.6 608.3h0M223.2 607.2h0M222.9 606.1h0M259.5 610.7h0M246.4 596.7h0M245.6 600.6h0M231.8 600.1h0M240 596.8h0M227.1 607.5h0M227.9 608.2h0M253.6 609h0M230.1 596.4h0M238 604.1h0M258.6 609.6h0M214.7 607h0M235.9 599h0M239.9 605h0M252.2 607.9h0M214 608.8h0M239.4 594h0M217.8 609.8h0M243.7 603.8h0M241.4 605.2h0M243.1 607.1h0M222.9 603.5h0M234.8 592.6h0M219.5 609.5h0M238.7 597.2h0M246.4 606.5h0M216.5 610.5h0M253.5 607.3h0M244.7 592.8h0M226.3 595.1h0M251.3 607.9h0M239.6 596.2h0M244.2 604.5h0M236.4 591.4h0M218 608.5h0M223.2 610.5h0M226 600.3h0M242.2 606.5h0M243.2 600.7h0M222.4 605.5h0M234.6 603.9h0M235 607.7h0M226.4 602.1h0M247.1 605h0M266.2 615h0M241.3 592.8h0M218.8 604.5h0M255.2 614h0M237.2 609.2h0M219.1 604h0M242.2 594h0M238.6 608.7h0M228.8 601.4h0M223.5 600h0M238.4 592.9h0M255.9 610.1h0M255.3 610.5h0M243.1 607h0M222.6 603h0M260.6 609.6h0M263.8 612.9h0M230.1 610.4h0M235.7 608.4h0M217.9 609.4h0M220.6 605.4h0M224.7 598.4h0M266.7 614.8h0M233.2 606.7h0M243.1 592.3h0M230.5 596.7h0M214.9 605.7h0M225.8 610.9h0M232.3 600.4h0M246.4 598.6h0M237.8 591.3h0M245.2 605.4h0M212.8 611.9h0M228.1 609h0M259.7 613h0M226.2 600.2h0M239.5 594.5h0M230.8 609.4h0M228 598h0M245.2 608.5h0M235.3 592.2h0M263.6 611.9h0M221.3 608.9h0M267.6 616.3h0M216.5 610.5h0M236.6 596.6h0M241 593.5h0M261.1 611.2h0M218.9 609.7h0M241.7 596.7h0M241.4 599h0M225.5 603.1h0M245.2 594.6h0M258.3 609.7h0M222.3 597.6h0M231.1 599.4h0M235.6 597.6h0M227.4 606.5h0M247.9 609h0M247 604.6h0M248.6 600.5h0M231.9 606.8h0M217.5 603.5h0M261.4 612.2h0M227.2 609.9h0M228.7 607h0M240.1 592.3h0M242.3 603.3h0M235.6 591.5h0M255.2 605.9h0M232.6 608.5h0M243.5 608.1h0M254.9 602.2h0M244.5 607.5h0M239.4 595.7h0M220.5 608.8h0M245.7 608h0M234.1 606.2h0M231.6 609.3h0M251.7 597.2h0M237.2 605.9h0M251.9 600.1h0M216.5 611.5h0M252.4 605.3h0M227.1 611.5h0M245.5 592.9h0M228.9 596h0M223.2 599.5h0M244.9 601.1h0M214.6 606.2h0M240.9 604.5h0M251.4 609.5h0M218.9 603.9h0M265.1 615.8h0M220.3 600.5h0M255.9 604.9h0M213.2 610.6h0M251.3 603h0M235.4 591.5h0M237.5 600.9h0M221.9 600.8h0M241 598.1h0M216.5 609.7h0M241.9 594.6h0M223 602.9h0M217.9 604h0M248.7 605.1h0M250.9 597.4h0M242.6 604.9h0M245.3 607.5h0M226.5 607.5h0M243.7 610.6h0M218.9 609.1h0M229.8 606.6h0M228.3 600.9h0M237.6 604.7h0M243.9 596.9h0M231.9 594.6h0M236.9 606.3h0M245.7 602.5h0M263.2 612.3h0M227 597.9h0M228 609h0M247.1 611.2h0M253.5 605.9h0M236.3 593.7h0M249.4 596.2h0M230.5 604.2h0M240 594h0M234.5 592.2h0M250.9 610.2h0M239.1 605.8h0M227.3 594.9h0M258.9 614h0M250.9 601.8h0M221.7 600.9h0M220.3 602.6h0M228.8 596.7h0M257.8 608.5h0M259 614.2h0M250.4 604h0M252.7 602.6h0M251.4 600.4h0M246.2 603.1h0M255.1 604.6h0M228.9 602.8h0M233 593.1h0M244.1 607.7h0M223.5 599.7h0M221.6 598.3h0M216.4 609.3h0M253 599.7h0M253.8 610.1h0M226 597.9h0M229.4 601.5h0M240.9 609.8h0M224.1 599h0M235.4 609.3h0M224.8 601.2h0M240 605.7h0M234.4 607h0M232.9 604h0M216.5 610.7h0M236.7 608.9h0M224.4 601.9h0M222.8 601.6h0M250.8 612.1h0M242.5 597.4h0M219.5 607.2h0M252.1 608.5h0M227 600.4h0M229 600.4h0M229.3 597.1h0M234.4 601.7h0M218.4 611.7h0M228 606.6h0M232.1 597.1h0M250.9 598.9h0M231.4 606h0M253.8 599h0M224.9 607.1h0M224.8 609.4h0M231.5 596.9h0M222.9 599.2h0M254.4 613.1h0M232.2 599h0M257.1 609h0M218.4 604.6h0M246.4 609.3h0M248.8 603.7h0M227.9 600.2h0M254.4 612.6h0M243.1 604.3h0M236.5 596.9h0M223.8 606.1h0M229.6 594.4h0M227.5 594.1h0M217.2 607.5h0M254.4 599.7h0M245 604.3h0M248.6 598.2h0M249.8 603.7h0M246.3 593h0M229.6 610.5h0M215 605.4h0M235.1 595.9h0M216.4 607.9h0M252.4 609.9h0M227.4 602h0M232.8 600.5h0M235.7 606.4h0M218.1 608.3h0M214.3 610h0M245.4 606.3h0M226.5 596.4h0M226.3 607.9h0M231.2 600.8h0M232.5 598.7h0M223.1 603.9h0M229.8 601.6h0M246.5 607.5h0M216.1 603.2h0M261.3 612.6h0M220.6 605.2h0M223.2 605.1h0M232.1 595.4h0M221.5 607.3h0M254.3 602.5h0M230 601.9h0M257.7 610.9h0M242.8 609.5h0M224.4 611.5h0M231.3 595.6h0M247 604.3h0M241 595.8h0M220.9 599.5h0M238.7 594.7h0M227.3 597.4h0M231.3 595.8h0M242.6 592.2h0M222.2 599.3h0M251.9 604.2h0M254.8 600.5h0M238 602.2h0M229.2 607.2h0M221.5 597.5h0M215 610.2h0M249.7 611.4h0" fill="none" stroke-linecap="round"/>
<path stroke="#2589F3" stroke-width="1.8" d="M239 617.5h0M231.5 617h0M260.6 623.8h0M248.7 621.3h0M229.6 617.7h0M241.8 616.9h0M239.7 623.7h0M231.3 611.3h0M224.9 616.4h0M241 612h0M247.2 618.6h0M244.5 613.4h0M251 625.1h0M223.5 613.7h0M268.4 620.9h0M247.1 628.1h0M244.2 610.7h0M250.2 630.9h0M238.7 620.1h0M248.6 621.9h0M223.4 621.5h0M269 618.9h0M248 630.5h0M245.3 622.7h0M243.2 624.7h0M251.9 626.1h0M237.8 621h0M229.7 616.5h0M246.7 620.8h0M247.9 619.8h0M231.8 621.4h0M251.7 630.3h0M249.6 618.7h0M264.5 620.5h0M232.2 617.4h0M245.8 619.4h0M239.4 623h0M228.5 621.9h0M259.8 620.8h0M255.4 623.9h0M249.1 629.6h0M234.9 626.2h0M261.1 616.8h0M256.3 627.3h0M230.6 623h0M256.1 627.3h0M239.8 622.1h0M259.8 624h0M248 622.2h0M228.3 615.7h0M237.4 625.3h0M248.4 618.4h0M261.1 626.6h0M238.6 622.6h0M230.9 613.5h0M234.3 614.6h0M244.7 614.7h0M244.7 618.6h0M227.8 613.7h0M250.2 622.7h0M234.2 614.5h0M241.8 627.3h0M269.8 619.5h0M259.4 619.9h0M248.8 613.6h0M242.8 612.7h0M248.1 630.5h0M225.6 618.6h0M253.8 626.1h0M236.2 610.7h0M224.4 616.8h0M244.9 619.2h0M240.3 629.3h0M254.4 628.8h0M258.5 628.7h0M257.5 617.1h0M234.7 614.7h0M248.5 612.4h0M234.9 616.6h0M248.9 631h0M225 615.6h0M264.7 627.6h0M237.6 626.9h0M242.7 622.6h0M241.7 617.8h0M242.6 613.9h0M231.3 618.5h0M270 622.4h0M248.8 629.5h0M242.1 621.6h0M259.2 624.4h0M233.9 622.4h0M245 626.1h0M263.9 626.1h0M235.5 609.7h0M255.5 627.5h0M241.7 625.4h0M244.2 620.3h0M248.4 622.2h0M263 619h0M241.5 619.5h0M225.6 614.4h0M261.2 628.9h0M244.1 629.2h0M228.2 612.5h0M222.6 618.2h0M268.9 624.1h0M227.2 613.6h0M240.5 622.1h0M245.9 618h0M237 616.7h0M247.5 630.4h0M239.1 622.8h0M264.7 615.4h0M257.9 615.9h0M246.2 629.5h0M259.1 624.2h0M244.1 616.5h0M266.9 623.8h0M242.1 622h0M242.8 613.4h0M228.8 616.8h0M227 619.7h0M246.9 618.5h0M253.3 629h0M256.5 621.9h0M256.2 621.2h0M248.3 630.8h0M243.7 620.4h0M245.3 629.9h0M268.4 622.7h0M243.9 623.7h0M231.8 623.3h0M257 622.6h0M249 627.3h0M225.5 615.6h0M261.9 624.4h0M232.6 618.6h0M236.7 609.4h0M246.7 614.2h0M233.2 624.8h0M263.1 614.6h0M263.3 616.3h0M240.3 619.2h0M241.5 614.4h0M224.2 615.5h0M248.5 624.9h0M256.5 628.9h0M252 615.7h0M238.7 615.4h0M247.9 629.7h0M235.9 614.4h0M257.2 616.5h0M227.7 615.3h0M246.7 631.3h0M267.1 627.4h0M220.5 620.7h0M262.9 621.5h0M246.5 615.7h0M229.7 614.2h0M268.8 623.3h0M236.1 623.3h0M221.5 621h0M265.3 626.3h0M244.4 615.5h0M263 622.2h0M259 628.6h0M247 629h0M237.9 626h0M265.3 625.3h0M253.7 625.9h0M253.9 630.8h0M251.7 626.1h0M221.8 615.9h0M268.2 616.6h0M228.2 622.7h0M238.7 614.8h0M242.7 621.4h0M266.9 622.6h0M234 611.9h0M267.3 625h0M226.7 621.7h0M260.7 625.1h0M230.8 617.4h0M235.6 610.9h0M234.2 611.8h0M231.8 617.9h0M255.9 625.6h0M226.2 613.3h0M247.2 619.5h0M225.1 618.8h0M243.7 630.3h0M228 622.5h0M247.4 612.3h0M235.2 626.8h0M243.1 615.6h0M264.6 621.9h0M239.3 613.4h0M264.5 614.8h0M237.8 620.6h0M242.3 620.6h0M234.4 613.2h0M251.1 620.3h0M242 627.1h0M237.2 617.7h0M226.6 617.9h0M229.7 613.9h0M241.5 630h0M268.9 625.3h0M259.7 627.4h0M232.4 611.4h0M251.6 627.3h0M257 628.8h0M235.4 617.7h0M240.1 616.1h0M225.2 622.9h0M236.2 622.3h0M227.4 613.4h0M231.6 625.4h0M247.5 629.9h0M229.6 617.6h0M230.4 614.9h0M223.8 615.4h0M262.9 618.3h0M257.6 628.7h0M241.2 612.9h0M231.6 621.4h0M237 611h0M259.2 624.9h0M262.9 622.5h0M267.3 627.3h0M225.4 621.5h0M254.9 629.2h0M250 627.2h0M233 623.7h0M232.1 611.4h0M242 611.7h0M240.2 613.7h0M253.4 612.5h0M261.4 617.9h0M238.5 622.4h0M242.5 628.3h0M257.7 622.1h0M226.4 612.9h0M256.4 624.8h0M237.4 619.8h0M250.4 617.1h0M236.8 628.1h0M243.2 629.4h0M253.3 615.6h0M261.2 629.5h0M225.6 618.6h0M251.2 630.1h0M266 620.6h0M259.9 629.5h0M250.6 629.4h0M239.6 628.4h0M237.8 617.2h0M253.2 615.3h0M246.3 626.9h0M252.2 615h0M264.9 614.9h0M243.9 628.5h0M244 615.7h0M239.2 620.3h0M239.3 619.5h0M261.9 615.9h0M242.9 618.6h0M225.5 616.2h0M271.3 620.1h0M223.6 620.8h0M228 614.1h0M255.4 620.9h0M242.4 617.2h0M234.5 621.7h0M255.6 613.8h0M230.8 617h0M244.2 620.5h0M248 615.2h0M238.9 623.9h0M264.1 622.9h0M230.2 617.6h0M260.6 615.7h0M254.6 630.3h0M235.9 626.6h0M222.3 618.8h0M227.8 614.2h0M253.6 616.4h0M245.7 618.2h0M240.1 629.4h0M252.5 625.3h0M252.8 619.1h0M249.6 616.9h0M239.6 621.9h0M220.8 619.3h0M227 618.7h0M236.7 621.9h0M242 627.2h0M254.1 619.7h0M238 613.9h0M258.3 624.9h0M244.7 626h0M260.8 621.1h0M249.8 628.9h0M226.4 613.5h0M243.9 628.2h0M244.3 622.4h0M242.3 630.8h0M230 623.6h0M261.7 624.5h0M244.8 631.2h0M255.1 628.7h0M221 619.2h0M237.9 612.9h0M233.1 625.3h0M239.1 624.2h0M245.8 621.3h0M243.9 624h0M233.9 617h0M244.5 619.2h0M246.7 620.6h0M244 611.9h0M249.8 618.2h0M244.6 610.3h0M228 613.7h0M248 624.7h0M244.3 619.5h0M247.2 618.3h0M248.7 615.2h0M242.9 623.5h0M245 624.6h0M253.1 626h0M236.7 611.7h0M251.2 629.7h0M248.2 625h0M245.9 629.6h0M263.9 626.2h0M236.8 624.3h0M241.1 628.9h0M232.1 621.1h0M269.3 625.3h0M270 620.5h0M247.5 620.8h0M260.5 627.1h0M245.4 616.1h0M255.8 613.9h0M257.9 617.4h0M232.4 619.7h0M252.8 630.5h0M267.7 619.2h0M237.6 618.6h0M220.3 616.7h0M223.8 617.6h0M258.6 629.3h0M259.9 627.9h0M244.1 617.7h0M245.1 630.2h0M246.5 622.1h0M258.8 615.7h0M233.3 623.6h0M266.7 622h0M263.2 614.2h0M231.5 614.6h0M231.3 610.9h0M243.2 623h0M263.2 616.8h0M254.5 618.5h0M227.6 613h0M240.7 619.3h0M232.8 614.1h0M242.1 620.1h0M230.4 620.2h0M249.1 629.2h0M230.2 613.4h0M258.4 626.9h0M254.4 624.2h0M248.1 619.2h0M238.6 621.6h0M224.9 618.1h0M246.8 619.9h0M260.3 629.2h0M257.7 619h0M227.5 611.9h0M237.9 610.4h0M264.1 625.5h0M256.9 620.5h0M234.8 612.3h0M254.4 628.3h0M247.6 614.4h0M260.2 625.2h0M239.8 624.1h0M251.3 618.6h0M266.8 617.6h0M237.9 619.8h0M257.1 624.2h0M249.7 629.4h0M257.6 615h0M242.2 611.8h0M247.6 615.5h0M248.9 626.9h0M254 622.4h0M253.8 614.6h0M270 622.8h0M229.4 621.2h0M229 617.2h0M238.4 626.1h0M248.5 614.7h0M271.2 621.9h0M251.9 625.4h0M228.1 614.3h0M249.8 630.1h0M240.5 610.3h0M234.4 618.1h0M238.5 612.3h0M260.8 623.8h0M261.4 628.7h0M236.3 610.1h0M225.1 616.4h0M250.9 629.2h0M238 619.3h0M268 618.8h0M271.5 618.6h0M250.9 626h0M245.4 620.3h0M235.4 621.4h0M232 612.2h0M260.2 628.5h0M255.2 622.5h0M244.6 618.9h0M239.8 618.1h0M247 612.6h0M252.2 613.5h0M258.7 619.7h0M226.4 615.7h0M246.6 614.5h0M257.5 627.8h0M248 626.9h0M265.5 626.1h0M246.9 622h0M234.8 618.7h0M254 614.5h0M231.4 623.7h0M266.2 624h0M254.5 625h0M227.7 620.3h0M237.8 619.6h0M253.7 623.6h0M245.7 616.1h0M263.1 618.3h0M242.5 629.8h0M246.8 617.6h0M241.2 611.9h0M232.7 616.8h0M247.1 614.4h0M244.4 628.9h0M235.1 622.6h0M256.3 615h0M244.4 625.6h0M263.7 619.9h0M248.7 623.9h0M239.4 624.1h0M253.7 621.8h0M263.2 620.1h0M240.2 613h0M248.5 610.8h0M239 624.3h0M237.4 616.4h0M248.5 620.1h0M240.8 612.5h0M225.9 615.4h0M244.1 630.8h0M229.4 615h0M240.9 626h0M265.1 624h0M243.8 621.2h0M238.4 627h0M262.5 628.3h0M226.1 620.9h0M249 622.3h0M247.1 613.1h0M250.5 627.5h0M247.5 613.7h0M228.9 613.2h0M250.2 622.7h0M245.6 619.7h0M224.5 621.3h0M252.5 622.7h0M266.4 619.9h0M236.2 622.6h0M259.3 624h0M242.6 615.7h0M249.4 614.8h0M243.5 611.3h0M225.2 620.9h0M229.7 616.9h0M240.9 620.5h0M251 619.9h0M255.2 619h0M227.2 616.1h0M251.9 611.3h0M253.1 629.9h0M258.6 619.9h0M226.8 614.4h0M230.3 623.1h0M237.5 614.8h0M265.1 627.3h0M256.5 625.1h0M253.4 623.7h0M251.6 613.6h0M258.5 622.1h0M271.3 620.7h0M245.9 614.8h0M261.7 622.6h0M242 617.8h0M231.5 619.7h0M248 613.4h0M250.4 613.2h0M231.6 620.3h0M253 628.7h0M269.6 626.1h0M244.2 618.7h0M264.5 622.4h0M251.4 613.4h0M232.9 615.6h0M251.6 620.7h0M244.9 628.6h0M244 626.1h0M226.9 613.3h0M260.5 615.1h0M256.7 630.4h0M245.4 615.4h0M245.5 627.5h0M259.3 618.8h0M222.1 620.5h0M239.6 625.7h0M230.8 610.9h0M248.7 623.7h0M266.6 621.5h0M251.5 619.4h0M249.3 612.5h0M241.1 615.9h0M256.9 626.7h0M233.4 614.8h0M262.7 628h0M250.2 627.5h0M254.1 618.6h0M261.2 622.3h0M242.3 621.1h0M237.8 622.9h0M249.9 615h0M225.7 619.9h0M265.8 617.3h0M226 619.4h0M233 625.4h0M220.2 620.3h0M229.4 624.2h0M225.7 619.5h0M246.7 624.2h0M250.4 624.8h0M265.1 626.4h0M242.9 622.2h0M250.4 620.8h0M254.7 623.7h0M261.5 621h0M248.1 624h0M248.2 620.9h0M239.7 629.6h0M256.4 616.2h0M237.9 626.4h0M263.7 617.4h0M223.8 613.7h0M228.4 621.1h0M240 615.2h0M229.9 621.1h0M240 626.7h0M253.7 624h0M237.5 621.7h0M261.9 613.6h0M263.2 616.1h0M240.7 629.5h0M238.9 611.5h0M256.8 622.4h0M238.2 610.3h0M233.1 624.9h0M238.2 625.2h0M252.6 626.1h0M265.3 617.9h0M251.9 616.2h0M238.6 620.6h0M266.6 627.1h0M261.3 629.3h0M231.9 623.8h0M244.4 630.8h0M261.6 626.2h0M260.1 629.3h0M250.4 614.6h0M243.8 630.5h0M231.8 612.8h0M236.8 621.8h0M239.5 615.6h0M230 612.9h0M249.8 615.4h0M221.5 620.3h0M242.1 624h0M254 612.2h0M254.9 623.1h0M237.3 626.4h0M251.5 623.7h0M245.2 620.4h0M252.6 612.8h0M234.9 621.4h0M246.6 620.9h0M242.4 623h0M242.9 621h0M231.3 616.5h0M247.7 629.2h0M266.4 625h0M259.2 613.3h0M223.2 622.6h0M248.2 610.5h0M245.3 612.2h0M249.8 628.3h0M220.5 621h0M247.4 620.9h0M229.1 623.5h0M253.9 618.4h0M235.3 619.7h0M223.9 617.4h0M252.8 612.9h0M239.8 611.9h0M244.3 616.9h0M236.1 617.3h0M227 618.8h0M232.4 615.3h0M244.8 629.6h0" fill="none" stroke-linecap="round"/>
<path stroke="#8A7216" stroke-width="1.8" d="M119.7 641.7h0M111.7 647.7h0M121.2 654.5h0M114.9 640.1h0M117.2 646.3h0M123.6 644.1h0M118.8 640h0M112.8 641.4h0M120.2 655.2h0M124 640.9h0M122.4 652.6h0M117.2 652.5h0M121.7 640.4h0M124.5 649.1h0M115.1 652.8h0M124.2 651.7h0M114.4 643.1h0M111.5 642h0M117.6 644.5h0M121 645.1h0M115.6 653.4h0M120.6 645.8h0M115.8 639.4h0M117.8 647.7h0M118.5 650.2h0M121.6 641.1h0M115.4 647.8h0M115.4 653.4h0M117.8 647.8h0M115.7 646.8h0M122.8 642.9h0M123.6 650.4h0M124.1 642.2h0M122.3 640.2h0M122.4 650h0M124.3 652.1h0M122.2 653.6h0M117 642.3h0M124 641.1h0M123.6 643.1h0M117.5 648.9h0M121.8 648.4h0M122 644.7h0M119 641.2h0M120.3 653.6h0M118.6 641.5h0M119.6 640.3h0M115.8 643.2h0M115.6 646.1h0M123.2 649.2h0M120.5 649.5h0M121.4 645.7h0M116.3 654.2h0M112 648h0M115.7 648.9h0M115 646.4h0M118.3 647.7h0M116 652.7h0M111.7 649.5h0M123.3 653.7h0M117.2 649.3h0M119.1 653.1h0M114.9 652.9h0M115 643.7h0M123.9 641.1h0M125 651.3h0M118.7 654h0M123.2 652.2h0M116.3 649.2h0M118.6 640.4h0M113.5 643.8h0M113 652.3h0M113.9 646.4h0M116.4 651.1h0M119.8 639.7h0M114.5 644.2h0M119.2 653.4h0M113.4 642.1h0M118.3 641.6h0M118.7 652.8h0M117.7 643.8h0M121.7 649.2h0M120.7 649.3h0M118.2 650.3h0M118.8 640.6h0M119.1 650.7h0M125.4 649h0M116.4 640.6h0M115.6 643.5h0M117.1 654.9h0M120.9 642.9h0M120.5 640.6h0M178.3 681h0M154.6 651.7h0M152.9 654h0M170.9 673.5h0M170 651.5h0M165.9 674.1h0M179.5 670.7h0M164.5 653.1h0M160.4 655.6h0M178.9 667.6h0M158.9 653.3h0M156.7 659.1h0M171.6 675.6h0M174.4 682.5h0M169.9 677.7h0M176.9 669.5h0M169 669.4h0M178.4 679h0M175.8 666.1h0M172.2 669.5h0M175.4 676.5h0M170.4 671.1h0M173.6 651h0M178.3 659.6h0M168.5 652.8h0M175.8 678.2h0M172.5 661.3h0M177.4 671.6h0M170.5 676.5h0M178.4 667.9h0M165.7 664.1h0M164.3 668.3h0M166.4 653.2h0M156.5 651h0M179.2 673.1h0M169.3 662.4h0M166.4 655.5h0M166.6 670.4h0M170.2 675.2h0M172.5 674.9h0M173.7 679.3h0M153.1 653.3h0M174 653h0M176.6 670.1h0M178 671.3h0M168.6 680.7h0M178.4 680.8h0M168.9 671h0M172.4 681.3h0M165.2 660.9h0M174.1 656.9h0M160.3 651.3h0M178.9 674.1h0M168.5 655.9h0M164.3 659.5h0M174.2 659.7h0M163.8 660.4h0M157.4 655.2h0M174.2 672.1h0M171.4 675.7h0M179.2 681.3h0M166.8 657.9h0M170.4 651.2h0M154.7 652h0M160.7 654.2h0M167.1 653.2h0M171.7 654.1h0M166.8 653h0M157 658.7h0M175 682.9h0M158.7 664.6h0M156.2 661h0M173.4 658.3h0M158.5 661h0M163.9 654.8h0M169.5 663.6h0M164.4 667.1h0M179.2 671.8h0M160.5 658.2h0M156.7 660.7h0M171 664.9h0M154.9 652.9h0M167 662.2h0M172 678.2h0M157.1 651.4h0M172.6 656.4h0M167.3 655.6h0M162.9 668.1h0M167.4 661.8h0M175.7 667.5h0M170 668.7h0M171.8 678.1h0M153.8 656.5h0M176 683.5h0M174.8 660.6h0M155.6 661.8h0M170.5 677.9h0M154.3 660.3h0M177.7 675.5h0M178.2 667.9h0M177.2 683.2h0M175.4 684.8h0M177.6 661.8h0M171.3 672.9h0M157.4 654.3h0M173.5 679.1h0M172.9 655.3h0M176.3 676.1h0M170 671.7h0M173.7 660.3h0M166.6 670.8h0M172.7 659.3h0M171.5 675.2h0M171.8 667.4h0M155.9 656.9h0M176.8 666.9h0M172.6 671.1h0M174.1 663.2h0M163 666.4h0M161 661h0M166.5 655.8h0M177.8 656.5h0M176.7 670.7h0M160.8 666.1h0M167.3 663.5h0M169.5 669.1h0M162.3 666.3h0M176.6 662.1h0M160.7 656.7h0M178.2 685.7h0M177.4 685.2h0M179 677.9h0M177.3 652.8h0M179.9 676.5h0M163.2 653.7h0M168.9 655.5h0M170.9 678.8h0M173.4 658.5h0M165.7 656.4h0M173.2 678.5h0M160.4 659.5h0M176.5 652.3h0M168.1 654.5h0M178.7 673.5h0M171.1 673.5h0M174.3 653.4h0M157.1 655.5h0M178.7 681.8h0M167 655h0M173.1 677.3h0M170.7 660.4h0M166.2 660.3h0M170.8 684.2h0M177.9 662h0M178.1 669h0M171.1 684.4h0M176.9 682.3h0M168.3 666.3h0M163.9 661.5h0M169.6 684.1h0M173 681.6h0M174.3 665.9h0M176 677.3h0M177.6 659h0M172.6 653.1h0M168.6 656.2h0M174 683.2h0M170.6 652.3h0M159.3 663.6h0M153 653.8h0M167.5 678.3h0M159.7 666.6h0M179.2 674.3h0M159.9 654.1h0M157.5 664.5h0M163.9 651.6h0M172.6 666.9h0M173 655.4h0M158.8 652.8h0M173.8 682.7h0M169.4 680.5h0M159.4 653.2h0M170.2 675.2h0M170.4 681h0M178.2 676h0M176.5 686h0M162.7 667.3h0M173.1 665.9h0M173.2 663.9h0M166.1 667.1h0M164.3 663.3h0M169.8 656.1h0M162.1 662.8h0M179.8 669.4h0M179.7 681.6h0M157.7 663.5h0M170.8 665.1h0M179.9 675.8h0M174.8 681.2h0M173.2 680.5h0M168.7 667.7h0M173.5 666.1h0M173.6 651.1h0M178.3 684.1h0M169.2 655.7h0M176.2 666.2h0M168 676.3h0M157.5 653.7h0M174.3 663.1h0M166.5 651.4h0M168.7 668.5h0M157.6 655.4h0M160.4 660.7h0M174.9 672.6h0M171.6 662.2h0M169.7 685.2h0M179.5 672.6h0M174.7 652.1h0M158.1 665.8h0M177.4 673.2h0M179.1 676.4h0M158.6 661.7h0M173.8 656.1h0M170.9 656h0M156.4 651.6h0M165.9 664.4h0M160.3 658.2h0M152.7 652.8h0M178.7 679h0M158.3 652.6h0M153.5 659.1h0M165.1 664.8h0M165 664.7h0M178.6 671.1h0M169 657.7h0M172.1 683.7h0M166.2 659.9h0M155.6 658.9h0M170.1 657.4h0M157.7 664h0M179.2 674.8h0M175 667h0M176.4 681.1h0M173.9 652.6h0M176.5 663.4h0M177.8 671.1h0M169.5 660.3h0M173 659.4h0M174.6 665.7h0M173.4 671.9h0M166.5 652.7h0M170.5 665.1h0M171.1 657.9h0M177.3 683.2h0M160.3 665.8h0M171.3 675.8h0M157.1 652.6h0M171.5 676.8h0M177.3 669.7h0M166.3 674.4h0M173.9 662.9h0M168.8 680.5h0M177.6 655.9h0M166.4 673.7h0M174.6 663.3h0M165.2 669.9h0M168 679.8h0M170.5 685.5h0M169 683.6h0M175.5 656.9h0M169.2 658.8h0M177.6 666.7h0M166.9 670.3h0M162.4 662.9h0M154.8 651.3h0M178.3 672.2h0M174.5 658.2h0M166.9 655.2h0M159.3 655.6h0M163.9 662.6h0M173.3 683h0M161.3 666.6h0M175.7 682.9h0M162.4 659.2h0M173.4 682.5h0M169.1 655.3h0M178.7 669.6h0M170.4 668h0M165.7 660.2h0M175.6 664.3h0M175.5 685.6h0M173.5 682h0M170.1 668.9h0M169.8 661.4h0M179.1 678.7h0M165.6 669.4h0M173.5 676.5h0M165.4 663h0M160.9 664.5h0M175.3 661.6h0M166 670.7h0M172 680.1h0M175.3 680.3h0M176.1 680.7h0M176.5 658.4h0" fill="none" stroke-linecap="round"/>
<path stroke="#8A7216" stroke-width="1.8" d="M187.9 643.8h0M168.5 652h0M175.2 647.8h0M193 649.6h0M171 650.6h0M159.3 645.8h0M151.3 650.4h0M173.7 645h0M136 652.1h0M176.2 649.4h0M132.2 648.1h0M180 645.2h0M146.5 651.3h0M150.8 652.4h0M171.7 650.8h0M189.9 650.7h0M128.6 648.4h0M152.9 650.6h0M191.3 643.2h0M198.3 644.9h0M180.2 648.3h0M127.9 647.4h0M158.6 647.2h0M155.2 645.9h0M173.6 644.5h0M133.5 651.5h0M133.1 644.6h0M160.7 643.7h0M181.8 644.5h0M191 649.8h0M167.3 650h0M191.4 647.2h0M154.8 642.3h0M153.5 649.8h0M195.9 650.9h0M133.6 646.9h0M189.5 646.7h0M185.6 650.9h0M140 649.8h0M185.1 648.4h0M133 643.3h0M140.8 643.2h0M186.6 645.1h0M181.3 642.7h0M173.3 644.4h0M157.1 651.4h0M149.7 650.6h0M175 646h0M146.5 648.4h0M147 643.8h0M135.6 644.8h0M177.8 642.7h0M169.5 644.5h0M162.3 652.9h0M144.3 646.1h0M141.2 647.7h0M158.8 650.5h0M179.8 642.7h0M154.8 646.3h0M176.9 648.2h0M158.8 641.1h0M136.1 649.9h0M140.6 648.8h0M143.3 648.3h0M145 642.9h0M180.4 643.5h0M190.1 648.2h0M184.5 649.6h0M178.8 643.7h0M168 642.5h0M154.6 651.7h0M134.5 652h0M131.7 644.7h0M141.2 649.7h0M128.8 643h0M134.9 644.6h0M196.6 648.7h0M180.7 646.8h0M184.5 643.9h0M188.5 652.1h0M157.6 641.7h0M187.2 649.5h0M145 643.3h0M143.8 646.4h0M167 646.1h0M153.1 649.3h0M159.4 646.4h0M197.7 643.2h0M151.6 650h0M146.3 652.4h0M166.7 645.8h0M190.3 646.3h0M165.6 653.3h0M135.8 645.9h0M168.5 648.3h0M175.3 648.2h0M168.2 653.2h0M134.8 649.2h0M138.2 642.5h0M187.1 645.2h0M143.7 647.1h0M198.3 649.6h0M175.1 646.1h0M155.3 642.3h0M153.2 647.2h0M162.1 641.9h0M190 652.3h0M193.7 644.7h0M199.2 645.1h0M177.8 646.7h0M170.4 641.9h0M167.9 644.6h0M194.4 648.2h0M165.4 641.4h0M184.4 648.7h0M142 651.4h0M148.7 644.4h0" fill="none" stroke-linecap="round"/>
<path stroke="#F97D4B" stroke-width="1.8" d="M6.1 668.8h0M28.1 661.3h0M33.4 674.6h0M24.8 679.9h0M30.2 662.1h0M27.5 659.9h0M14.3 667.4h0M35.8 671.3h0M15.2 660h0M9.2 667.6h0M29.9 659.6h0M6.4 670.1h0M22.3 663.2h0M30.6 667.7h0M24.8 662.3h0M9 670.8h0M33.5 667h0M29.4 677.7h0M31.7 665.1h0M15.9 665.9h0M30.7 660.7h0M20.6 658.5h0M26.7 661h0M14.1 674.9h0M21.8 660.6h0M12.2 674.5h0M26.4 672.4h0M21.1 661.6h0M32.8 666.5h0M31 672.6h0M23.1 659.8h0M21.3 678.2h0M25.2 660.9h0M24.1 665.8h0M5.6 669.1h0M12.4 672h0M25.5 672.2h0M35.3 669.2h0M21.2 678.2h0M27 664.4h0M8.4 663.7h0M26.8 677.8h0M19 670h0M27.8 680h0M15.6 672.6h0M16.3 676.8h0M12.2 671.2h0M23.5 679.4h0M17.6 664.4h0M8.9 665.8h0M27.3 680.4h0M26.8 677.8h0M26.7 669.9h0M32.7 673.9h0M23.7 668.1h0M25.5 662.3h0M28.2 660.8h0M33.5 676h0M24.3 665.2h0M25.1 669.7h0M22.2 676.1h0M14.8 662.2h0M11.6 664.1h0M25.9 659.9h0M20 676.5h0M20.5 666.7h0M15.5 675h0M15.3 659.6h0M13.2 672.8h0M12.5 663h0M29.7 662.5h0M29.9 669.9h0M24.8 672.5h0M25.1 663.9h0M33.4 673.2h0M31.4 672.7h0M9.5 663.7h0M26.7 675.4h0M32.1 668.8h0M28.9 661.1h0M20.8 667.4h0M27.6 665.5h0M28.9 670.4h0M21.2 676.8h0M15.9 675.8h0M11.3 670.7h0M28.5 680.2h0M26.4 673.8h0M25.8 675.7h0M22.2 671.3h0M14.8 666h0M6.9 668.3h0M34 677.1h0M24.5 660.6h0M14.4 676h0M11.4 671.8h0M24.9 672.9h0M32.5 665.9h0M27.8 671.5h0M18.1 658.8h0M15.1 672.9h0M26.7 660.3h0M17.9 668.4h0M30.7 679.3h0M30.2 660.5h0M15.5 676.3h0M30.4 671.4h0M5.8 667.7h0M32.7 667.1h0M33 675.9h0M26.4 661.5h0M20.8 670.7h0M31.9 668.8h0M19.4 669.7h0M30.6 676.7h0M12.1 671.7h0M27 675.3h0M34.9 668.2h0M32.7 678.2h0M20.9 665.5h0M26.2 676h0M23.3 659.1h0M35.4 677.2h0M24.9 677.7h0M20.7 676.7h0M15.5 664.2h0M32.4 668.6h0M14.2 662.7h0M31.3 663.4h0M36.5 674.9h0M30.2 673.2h0M30.2 668.3h0M3.4 669.1h0M24 667.8h0M23.7 660.1h0M4.3 669.3h0M12.7 670.8h0M21.3 676.4h0M23.4 676.8h0M17.7 658.6h0M20.9 672.5h0M34 671.4h0M9.6 665.1h0M14.5 673.4h0M25.6 670.9h0M8.5 665.6h0M21.4 669.3h0M29.3 669.7h0M28.5 662.7h0M4.8 668.1h0M25.7 660.5h0M16.5 660.3h0M29.3 661.4h0M31.2 666h0M27.7 669.2h0M34.8 675.8h0M15.7 675.9h0M14.4 666.9h0M21.1 675.3h0M26.6 672.9h0M29.5 665.9h0M24.9 662.6h0M31.2 666.6h0M21.8 674.1h0M25.2 659.2h0M10 670.6h0M25.5 673.1h0M24.1 672.1h0M26.6 663.8h0M27.4 679.5h0M23.1 660.6h0M33.8 666.9h0M15.7 668.8h0M33.7 678.3h0M9 666.9h0M5.2 670.3h0M23.5 659.3h0M29 677.5h0M13.5 669.5h0M22 668.3h0M17.2 667.6h0M9.5 667.1h0M28.2 663.4h0M11.2 670h0M32.7 675.1h0M29.4 674.8h0M28.3 680.4h0M21.8 678.4h0M19.3 663h0M21.3 664.6h0M20.3 675.2h0M35.1 675.1h0M12.7 666h0M30 673.1h0M27.8 680.8h0M17.7 662.3h0M31.5 674h0M21.3 663.9h0M14.9 669.5h0M21.9 667.1h0M26.2 667.7h0M14.9 669.3h0M9.8 664.3h0M23.8 668.4h0M21.7 673.2h0M30.8 671.5h0M13.5 660.8h0M25.6 671.8h0M29.3 674.2h0M19.5 669.9h0M23.1 677.5h0M19.9 673.7h0M22.6 678.7h0M22 674h0M15.5 672.7h0M26 665.4h0M12.6 664.2h0M24 669.4h0M23.8 672.3h0M28.9 658.8h0M18.2 668.4h0M27 660.1h0M30.9 678h0M31.2 679h0M21.2 669.3h0M19.6 659.8h0M21.2 665.7h0M21 670.2h0M24 667.8h0M14.7 671.7h0M26.7 666h0M18.5 671.6h0M16.1 672.4h0M25 677.5h0M25.6 677.4h0M20.4 661.9h0M14.4 676.1h0M22.9 671.7h0M13 671.2h0M34.5 670.5h0M13.5 669.7h0M23.9 679.4h0M18.4 674.2h0M9 670.3h0M8.5 664.3h0M30 659.7h0M22.9 678.4h0M23.1 677.2h0M9.5 669.5h0M34.2 672.9h0M13.6 664.4h0M20.5 664.9h0M28.8 675.9h0M19.1 663.8h0M16.7 672.1h0M5.7 666.9h0M21.1 661.6h0M10.3 662.8h0M24.5 657.5h0M13.1 668.4h0M14.3 674h0M23.4 664.9h0M9.8 663.8h0M28.4 673.6h0M27.3 665.2h0M18.2 663.2h0M26.9 657.4h0M27.9 666.3h0M33.4 678.1h0M25.4 672.1h0M23.7 661.2h0M13.5 661.7h0M26.5 680.9h0M30 672.3h0M26.3 665.2h0M25.2 679.8h0M10.7 669.7h0M27.2 666.6h0M31 661.2h0M32.5 675.5h0M21.8 665.3h0M24.5 667.8h0M29.4 671.9h0M9 664.8h0M23 674.6h0M22.7 673.7h0M23.1 670.3h0M17 663.2h0M31.8 667.5h0M21.8 657.8h0M28.7 666.9h0M15.9 672.2h0M29.6 673.2h0M31.6 675.6h0M25.7 676h0M27.1 658.5h0M27.5 670.1h0M10.5 663.5h0M17 662.6h0M30.7 675.5h0M19.5 676.9h0M32.4 666.4h0M13.8 670.5h0M31.2 667.5h0M18.2 675h0M21.3 666.7h0M9.7 669.2h0M32.7 664.7h0M18.3 674.4h0M18.9 676.1h0M32.5 673.4h0M29.9 662.6h0M30.9 672h0M34.3 673.9h0M22.3 671.5h0M22.4 661.2h0M9.4 663.5h0M28.9 672h0M11.9 673.1h0M31.9 668.9h0M22.5 663.5h0M20.2 675.4h0M16 663.7h0M10.5 674.6h0M29.3 673.5h0M26.4 670.5h0M24.2 666.9h0M17.3 667.9h0M20 667.8h0M28.7 659.3h0M34.6 677.3h0M25.9 656.7h0M5.3 667.7h0M29.3 665.1h0M17.8 671.3h0M22.1 674.8h0M15.5 661.6h0M17.2 666.3h0M35.4 669.8h0M19.3 663.2h0M31.2 671.2h0M16.6 665.3h0M26.6 665.4h0M25.2 660.7h0M31.3 665.2h0M19.3 662.4h0M19.2 662.6h0M20.6 671h0M16.6 663.9h0M35.5 672.7h0M10.2 664.5h0M21.5 670.6h0M4.7 670.5h0M26.1 668.5h0M8.2 665.3h0M23.7 666.9h0M32.8 668.5h0M24.1 662.3h0M4.3 668.5h0M14.1 675.7h0M19.3 671.3h0M27.3 665.7h0M5.8 666.2h0M21.4 666.4h0M6.8 667.5h0M17 662.2h0M33.8 670.8h0M34.4 678h0M27.4 659.9h0M27.6 668.4h0M17 660.7h0M21.2 659.2h0M35.9 674.4h0M6.4 671.5h0M32.5 665.3h0M13 670.2h0M33.4 673.7h0M12.2 668h0M13.2 661.4h0M19.9 678.8h0M19.4 665.2h0M24.9 666.9h0M31.6 671.2h0M21.3 676.8h0M35.4 671.3h0M32.3 672.4h0M23.9 668.9h0M19.4 668.3h0M24.3 670.1h0M25.4 674.4h0M19.3 665.3h0M10.9 669.3h0M28.1 679.5h0M24.2 659.1h0M14.3 666.4h0M14.8 660h0M18.7 664.9h0M29.6 670.5h0M26 678.3h0M24.2 675h0M28.5 670.8h0M29.4 663.4h0M7.6 668.1h0M14.3 665.3h0M30.3 672.4h0M21.9 672h0M13.7 662.8h0M28.2 669.5h0M29.6 677.7h0M26.4 680.3h0M23.5 673h0M33.6 679h0M21.7 659h0M9.1 672.8h0M23.8 675.6h0M27.8 675.4h0M24.2 663.5h0M11.4 670.1h0M6.2 666.4h0M14.5 665.5h0M33.5 672.3h0M34.4 672h0M11.1 663.2h0M25.5 662.1h0M15.7 661.6h0M26.2 664.5h0M8.2 670.3h0M28.1 671.7h0M28.1 675.9h0M6.3 669.3h0M29.5 677h0M32.1 662.8h0M16.5 668.9h0M26.8 676h0M8.7 666.3h0M30.3 662.9h0M21.7 674h0M26.6 658h0M31.1 672.8h0M27.6 667.6h0M25.8 662.8h0M28 679.5h0M30.9 679.9h0M7.1 665.5h0M17.1 674.3h0M26.3 672.1h0M26.1 661h0M36.2 673.9h0M8.4 672.4h0M27.2 663.6h0M23.5 658.5h0M4.5 668.8h0M12.7 666.4h0M9.4 668h0M27 675h0M30.1 661.8h0M18 673.1h0M15.9 674.5h0M12.4 671.4h0M22.3 669.1h0M22.6 662.7h0M13.2 673.2h0M31.9 667.7h0M20.6 665.8h0M26.3 680.5h0M16.1 666.2h0M23 658.3h0M17.8 675.7h0M29.3 660.2h0M5.3 672.2h0M25.8 674.6h0M29.4 666.2h0M25.6 675.5h0M17.5 670.8h0M22.6 677.1h0M4.4 670.2h0M17.3 659.1h0M14.9 668.3h0M22.6 674.5h0M33 676.4h0M32.1 676.2h0M21.3 676.1h0M17.7 671.1h0M7.1 667.5h0M16.2 662.2h0M21.4 672.4h0M31.1 664.1h0M16.6 673.8h0M15.7 663.1h0M24.8 675.9h0M34.4 667.5h0M29.2 672.2h0M35.9 671.7h0M29.7 662.2h0M18.1 659.8h0M10 672.4h0M13.9 674.7h0M25.3 664.2h0M14.6 674.9h0M7.4 667.5h0M31.3 666.5h0M15.7 661.4h0M8.6 664.3h0M30.2 661.6h0M13.5 671.4h0M24.7 670.5h0M22.8 679.3h0M27 663.8h0M28.4 662.2h0M16.1 668.2h0M29.2 681.1h0M23.9 669.7h0M9.4 665.5h0M24.1 668.3h0M29.1 680h0M17.1 660.4h0M12 672.3h0M18.7 659.5h0M23 679h0M34.6 667.7h0M27 666.7h0M23.8 674.4h0M10.4 664.7h0M28.6 668.3h0M28.6 676.1h0M26.6 660.3h0M5.2 670.9h0M20.5 657.9h0M6.3 667.7h0M26 675.3h0M11.5 667.6h0M21.2 671.1h0M31.6 664.6h0M22.8 679.5h0M29.8 675.1h0M7.7 667.2h0M4.1 668.4h0M13.2 674.7h0M29.3 663.2h0M24.5 665.2h0M13.9 660.7h0M10.7 666.2h0M20.3 665.6h0M30.9 662.7h0M24 658.7h0M18 672.2h0M8.8 665.7h0M20.4 676h0M21.4 678.9h0M34.4 674.3h0M19.3 677.8h0M22.2 674.9h0M31.2 667.4h0M15.9 662.9h0M34.1 669h0M20.8 661.3h0M19.3 663.8h0M5.6 667.4h0M25.3 662.1h0M20.8 664.1h0M29.6 659.5h0M35.4 673.7h0M19.5 664.7h0M31.4 663.7h0M8.1 667.9h0M30.2 677.9h0M7.7 673.5h0M33.8 675.2h0M25.3 658.1h0M21.4 668.2h0M30.1 667.5h0M20.9 671.1h0M30.3 673h0M10.3 671.9h0M20.5 666.4h0M20.7 666.9h0M31.6 664.6h0M30.5 678h0M16.9 661.4h0M22.4 679.4h0M28.3 668.7h0M9.4 666.9h0M8.3 666h0M29.2 660.1h0M25.6 677.1h0M31.9 672.8h0M25.4 664.4h0M15.3 673.5h0M30.7 680.4h0M15.3 664.4h0M13.3 671h0M35.2 672.1h0M20.8 667.9h0M22.2 678.6h0M13.8 665.3h0M13.2 673.3h0M21.8 674.6h0M16.9 672.9h0M29.7 666.8h0M33.3 677.9h0M25.4 671h0M15.8 662h0M11.8 671h0M7 671.7h0M26.4 676.2h0M12.9 667.2h0M15 673.2h0M22.4 660.6h0M31.5 675.1h0M20.1 666.9h0" fill="none" stroke-linecap="round"/>
<path stroke="#D0309E" stroke-width="1.8" d="M37.5 672.2h0M29.7 659.1h0M36.4 669.6h0M34.4 666h0M31.5 662.4h0M34.5 669.8h0M33.1 663.2h0M32.1 662.6h0M28.8 659.5h0M33.3 663.6h0M29.4 661.3h0M35.2 666h0M35.4 669.3h0M36.2 671.6h0M30.3 659h0" fill="none" stroke-linecap="round"/>
<path stroke="#22BF22" stroke-width="1.8" d="M67.6 687.2h0M61.6 686.3h0M63.3 687.3h0M60.4 686.1h0M64.4 687.8h0M70.6 688.9h0M62.7 685.5h0M54.6 682.6h0M70.7 689.2h0M69.4 689.2h0M67.1 687.9h0M64.9 687.6h0M60.3 684.6h0M60.8 685.3h0M58.6 683.9h0M54.8 683.5h0M60.8 685.7h0M61.8 686.4h0M57.6 685h0M67.4 688.6h0M57.3 683.5h0M66.2 686.8h0M56 684.1h0M65.5 687h0M69.7 689.9h0M64.3 686.2h0M54.8 683.7h0M62.1 685.4h0M58.5 684.9h0M67.7 687.7h0M67 688.5h0M55.2 684.2h0M59.7 685.9h0M60 684.5h0M57.7 684.8h0M57.8 684.2h0M66.5 687.2h0M69.1 688.2h0M68.9 688.6h0M70.1 688.3h0M57.6 683.9h0M63.6 687.4h0M57.9 684.8h0" fill="none" stroke-linecap="round"/>
<path stroke="#4A8A6E" stroke-width="1.8" d="M204.7 729.6h0M206.5 723h0M203.2 719.5h0M214.7 744.3h0M223 729.7h0M215.7 719.2h0M214.4 733.6h0M218 729h0M216.4 744.6h0M220.5 730.2h0M220.1 722.3h0M222.3 723.3h0M203.9 730.4h0M213.8 733.2h0M220.3 735.7h0M192.5 735.9h0M217.1 715.7h0M214.5 744.3h0M196.3 727.7h0M218.4 739.6h0M229.1 736.5h0M206.5 732.2h0M219.4 743.8h0M212.3 729.2h0M232.7 733.2h0M217.9 726.5h0M207.4 732.1h0M210.8 717.8h0M201.7 720.6h0M232.4 731.4h0M214.2 721.1h0M231.5 731.1h0M196.2 736h0M201.1 737.9h0M207.7 724.1h0M223.8 725.9h0M206.2 743.2h0M225.5 735.4h0M226.5 740h0M226.6 738.1h0M219.4 742.7h0M226 726h0M209 727.8h0M227.4 745.3h0M192.3 723.3h0M218.2 742h0M208.8 723.8h0M227.9 742h0M192.4 723.2h0M204.7 723.4h0M212.6 736.7h0M205 739.4h0M234.8 735.9h0M208.4 723.6h0M219.2 723.1h0M214.5 717.1h0M232.6 736.1h0M216.6 733.2h0M210 719.8h0M193.7 732.8h0M206.3 728h0M194.6 732.7h0M222.2 734.6h0M222.3 734.3h0M214.1 735.5h0M195.4 731.1h0M220.3 740.2h0M209.4 721.3h0M218.7 732.3h0M217.9 726.8h0M207.8 726.2h0M199.4 727.3h0M218.6 741h0M217.1 740.3h0M190.5 726.9h0M208 722.9h0M216.8 732.2h0M216.6 745h0M229 730.2h0M197.1 728h0M197 724.3h0M209 722.9h0M225.5 744.2h0M215.3 728.2h0M193.5 728.8h0M203.3 725.9h0M226.7 731.6h0M206.9 728.5h0M226.3 744h0M218.2 721.3h0M223 737.5h0M207.5 721.4h0M217.2 714.9h0M223 736.1h0M202.7 733.6h0M198.9 738.8h0M220.5 725.2h0M193.9 736.5h0M209 731.9h0M215 726.1h0M213.5 722.7h0M212.8 730.2h0M195.2 731.4h0M208.1 744.1h0M201.3 738.4h0M214.3 735.9h0M210.4 743h0M196.1 731.8h0M197.6 729.1h0M203.8 741.6h0M213.7 728.5h0M226.5 742.3h0M213.1 719.5h0M212 720.1h0M224.8 742h0M218.2 743.4h0M195.9 739.2h0M192.9 733.2h0M192.5 727.4h0M215.6 727.9h0M216.9 723.5h0M220.6 729.8h0M217.2 738.2h0M204.2 726.6h0M219.8 721.4h0M233.8 732.9h0M199.7 733.8h0M216.4 729.6h0M228.7 730.1h0M226.7 742.7h0M218.4 723.9h0M205 725.4h0M214.5 743.8h0M214.6 747.3h0M206.1 733.2h0M198.3 724.6h0M210 742.4h0M226.7 740h0M212.5 718.4h0M214.5 726.4h0M224.9 742.9h0M227.3 741.2h0M205 732.9h0M207.6 730.4h0M195.4 731.5h0M207.3 740.4h0M213.2 738.4h0M216.6 728.2h0M212.1 720.2h0M201.2 720.4h0M210 723.5h0M191.2 724.4h0M220.5 727.8h0M221.8 730.3h0M232.7 731.5h0M215.2 738.2h0M221.4 722.7h0M219.6 722.7h0M216 728h0M211.8 723.6h0M222.4 720.4h0M226.1 746.5h0M217.4 734.8h0M200.1 720.9h0M222.9 730.1h0M217.7 728h0M227.1 742.9h0M206.3 718.8h0M211.6 722.7h0M220.2 728.4h0M209.2 728.8h0M222 723.9h0M219.6 725.6h0M206.4 718.2h0M215.2 718.2h0M215.5 729.1h0M203.5 735.4h0M215.3 730.3h0M233.4 740.6h0M217.2 738.9h0M220.9 722.5h0M217.3 720.4h0M209.1 730.4h0M192.4 735.5h0M223 722.4h0M212.9 727.4h0M192.1 736h0M201.7 720.5h0M220.5 736.8h0M217.5 733.7h0M223.5 729.7h0M205.9 744h0M223.5 745.3h0M195.8 735.7h0M202.3 741.5h0M205.8 725.9h0M214 721.7h0M233.5 737.4h0M207.9 744.5h0M204.5 725.9h0M212.3 738.2h0M229.4 733h0M203.3 729.4h0M203 742.5h0M207.6 727.6h0M214.2 719.1h0M218.3 728.4h0M218.2 742.1h0M202.1 731.6h0M209.1 723.4h0M203.8 740h0M232.7 731.6h0M219.5 747.6h0M219 739.4h0M211.9 738.1h0M217.1 744.4h0M211.4 746h0M209.2 739.2h0M219.4 745h0M213.9 746.6h0M200.7 720.5h0M220.8 730.6h0M196.4 723.3h0M217 722.3h0M208.1 722.7h0M202.5 725.4h0M211 722.7h0M211.5 730.8h0M190.4 725.6h0M197.1 725.3h0M217.5 740.9h0M217.5 727.4h0M224.3 732.8h0M209.4 721.7h0M229.1 739.6h0M200.7 741.9h0M218.1 723.2h0M204.4 733.3h0M217.8 739h0M211.1 745.6h0M230.7 739h0M216.8 747.6h0M217.7 734.9h0M217.3 716.8h0M220.1 736.5h0M216.3 717.6h0M203.7 741.5h0M217.6 717.9h0M206.1 726.2h0M204.7 739.7h0M198.6 731.2h0M202.7 739.7h0M195.5 736.1h0M200.5 741.8h0M208.1 725.8h0M201.9 739.9h0M215.6 717.4h0M196.9 740.2h0M209.6 722.2h0M225.1 733.7h0M204.3 723.9h0M210.2 726h0M229.1 734.1h0M221.8 738.6h0M235.2 734.4h0M218.4 738.2h0M225.7 746.8h0M200.2 727.6h0M220.5 722.1h0M208.1 718.8h0M218.6 742.2h0M206.4 725.3h0M202.8 725.5h0M202 721.5h0M208 718.5h0M215.8 732.7h0M233.6 732.8h0M223.5 743.7h0M225.1 740.3h0M226.9 728.8h0M198.1 735.6h0M193.9 737.9h0M226.1 740.4h0M201.8 732.3h0M215 728.4h0M197.1 736.8h0M209.5 721.3h0M215.6 720.5h0M227.9 739.6h0M217.7 728h0M211.6 727.3h0M210.4 723.8h0M209.2 741h0M201.3 727.5h0M225.6 738h0M224.1 746.1h0M202.7 742.1h0M230.2 739.3h0M212 720h0M193.4 728.5h0M217.9 736.9h0M202.4 728.9h0M214.6 721.7h0M230.4 737.4h0M196.3 723h0M225.5 733h0M223.5 745.7h0M225.4 745.8h0M216.1 714.3h0M204.3 742.3h0M209.5 745.1h0M215.6 730.1h0M218 732.7h0M190.5 733.3h0M217.2 746.3h0M202.1 738.8h0M203.4 737.7h0M208.4 721.8h0M226.8 731.1h0M194.6 733.3h0M209.3 741h0M230.3 730.2h0M214.9 729.7h0M229.6 730.9h0M226.4 742.5h0M205.3 740.1h0M192.5 735h0M205.6 724.9h0M214.7 717.9h0M218 726.4h0M218.7 733.8h0M209.7 739.6h0M219.4 717.8h0M196.2 739.7h0M221.9 722.9h0M205.5 743.7h0M211.1 720.1h0M234.8 733.6h0M196.9 734.6h0M210.2 743.6h0M220.2 740.1h0M191.2 730h0M203.2 740.6h0M208.7 729.3h0M215 741.1h0M222.2 732h0M204.7 729.7h0M228.3 743.2h0M208.8 734.2h0M219.4 741.7h0M220.8 745h0M217.4 725.3h0M197.5 726.2h0M220.7 731.6h0M195.7 733.8h0M195.5 724.1h0M202 741.3h0M206.8 720.2h0M208.6 718.3h0M201.6 729.9h0M198.5 729.1h0M204.9 728h0M200.6 729.3h0M200.5 732.6h0M213.1 726.8h0M212.4 735.1h0M217.3 716.1h0M214.2 722.1h0M230.3 732.4h0M217.8 745.6h0M208.5 734.9h0M201 729.8h0M221.5 727h0M229.3 734.5h0M199.2 721.6h0M210.4 717.9h0M227.7 733.9h0M201.4 732.9h0M209.6 735h0M193.9 728.7h0M209.6 721.3h0M226.5 728.3h0M227 738.4h0M211 744h0M210.3 719.6h0M194.1 738h0M211.1 745.3h0M224.3 736.5h0M216.7 742.7h0M227.9 735.7h0M216.3 728.3h0M230.9 741.6h0M204.8 738.1h0M206.3 742.8h0M218.6 724.2h0M220 734h0M213.3 741.1h0M220.6 731.3h0M202.4 737.7h0M227.9 728.4h0M201.2 733.1h0M216.7 726.1h0M208 738h0M203.9 728h0M213.5 721.6h0M222.6 738.9h0M197.3 726.6h0M206 738.7h0M218.2 730.9h0M230.3 731.8h0M209.3 736.9h0M202 726.2h0M203.7 721h0M233.4 738.9h0M227.2 731h0M216.9 723.4h0M214.6 742.8h0M225.4 737.2h0M191.1 729.7h0M210.7 733.8h0M192.6 727.5h0M210 736.9h0M216.7 731.7h0M221 740.5h0M215 745h0M220.3 725.8h0M218.4 735.6h0M216.2 733.7h0M194.8 729.5h0M210.4 717.1h0M233 741.1h0M208.5 729.9h0M223 734.8h0M215.1 722.5h0M210.2 743.8h0M200.8 728.7h0M218.6 735.5h0M213.2 729.2h0M190.9 723.8h0M191.9 732.8h0M217.6 745h0M194.9 725.6h0M207.8 727.8h0M216.8 717.4h0M202.9 729.2h0M233.5 733.5h0M194 726.4h0M200.6 730.7h0M196.5 732.4h0M229.1 743.6h0M225.6 739h0M194.7 724.1h0M223.5 736.1h0M220.5 719.5h0M208.1 728.4h0M220.9 722.5h0M190.7 727.4h0M207.8 722.5h0M207.1 739.1h0M201.5 738.6h0M213.2 724.3h0M193.8 725h0M218 728.4h0M202.7 731.3h0M221.7 745h0M207 722.3h0M229 740.1h0M215.1 747h0M207.7 726.5h0M208.4 726.1h0M221.5 737.9h0M220.3 741.3h0M202 728.4h0M224.4 723.4h0M195 733h0M212.8 721.7h0M201.1 731.8h0M219.3 734.6h0M204.8 727.1h0M215.8 735.4h0M217.5 729.8h0M201.7 732.8h0M219.2 720.3h0M193 733.9h0M232.7 733.3h0M216.7 731.3h0M224.1 727.6h0M213.4 741.6h0M217.1 728.9h0M225.5 745.3h0M217.7 733h0M225.4 729.6h0M214.6 734.4h0M203 730.6h0M223.5 745h0M193.4 724.5h0M216.2 741.9h0M207.2 727.3h0M204.9 732h0M207.8 726.6h0M227.5 731.2h0M223.1 723h0M214 739.4h0M219 740.8h0M224.5 733.7h0M193.1 736.3h0M230.2 735.4h0M216.1 737.1h0M219.7 739.1h0M215.9 747.1h0M225.1 739.3h0M198.5 730.9h0M197.5 733h0M204.5 725.4h0M209.4 725.8h0M231.1 732.2h0M209.4 726.6h0M220.6 744h0M216.2 731.5h0M195.4 736.4h0M229.5 731.9h0M211.2 734h0M199.5 741.5h0M205.2 730.3h0M220.9 720.8h0M200.4 728.3h0M225.4 743.5h0M216.2 737.9h0M224.5 724.6h0M220.6 746h0M200.9 722.6h0M213.3 718.1h0M193.7 735h0M208.6 731.7h0M227.5 730.2h0M216.8 732.9h0M208.8 743.2h0M210.8 738h0M213.5 745.6h0M230.9 732.7h0M213.2 719.3h0M195.5 728.8h0M213.1 716.8h0M192 724.4h0M223.2 744.5h0M212.6 737.7h0M205.5 727.2h0M203.9 727.6h0M222.2 736.4h0M214.6 733.4h0M207 727.8h0M200.6 724.4h0M218.7 739.4h0M234.4 734.7h0M202 742h0M199.9 722.3h0M220.1 743.2h0M215 744.2h0M213.9 724.9h0M212.3 726.2h0M227.7 732.1h0M208.3 737.3h0M227.6 742h0M206.8 738.5h0M201.1 729.2h0M205 728.8h0M212.4 716.9h0M218.8 727.6h0M209.1 740.6h0M233 736.9h0M229.2 737.9h0M216.2 717.5h0M211.4 735.3h0M218.4 724.1h0M223.6 736.9h0M205.8 719.5h0M215.8 741.9h0M207.9 724h0M190.5 728.6h0M213 746h0M208.9 738.7h0M214.2 745.1h0M215.1 744.7h0M212.9 716.4h0M226.7 727.5h0M220.7 740.9h0M215.8 745h0M211.2 730.4h0M222.3 735.9h0M200.5 731.7h0M199.8 725.8h0M225 742.9h0M208.9 744.1h0M211.1 728.7h0M215.3 738h0M200.3 724.2h0M193.6 737.9h0M210.1 724.1h0M204 734.8h0M212.7 746.1h0M197.6 734.7h0M203.4 740.8h0M196 738.1h0M227.2 730.5h0M220.9 720.5h0M216 737.3h0M219.8 731.4h0M208.6 733.7h0M214.7 744h0M214 729.1h0M227.8 730.7h0M201.2 722.2h0M194 731h0M213.9 727.2h0M220.6 722.2h0M191.5 723.9h0M207.3 740h0M220 726.7h0M215.3 720.6h0M223.8 726h0M192.7 729.2h0M218.3 728.6h0M220.1 728.7h0M200.8 741.1h0M215.4 727.8h0M224.1 726.7h0M217.5 720.6h0M219.1 720h0M205.7 725.6h0M198.2 736.1h0M204.2 734.1h0M218.1 730.6h0M223 724.1h0M214.1 735h0M205.1 740.2h0M215.6 724.6h0M214.8 733.8h0M215.2 738.9h0M223.6 739.3h0M213 741.6h0M229 744h0M226 733.9h0M216.8 717.3h0M230.6 730.5h0M230.2 741.2h0M211.6 741.8h0M219.8 730.9h0M222 719.9h0M196.6 726.3h0M200.8 741.3h0M222.3 728.7h0M228.3 737h0M225.8 738.8h0M211.3 739.8h0M199.8 722.7h0M202.4 727.3h0M213.6 723.6h0M207.4 744.2h0M216.6 743.8h0M225 731h0M218.8 745.3h0M208.5 724.9h0M213.4 722.7h0M208.4 717.8h0M223.8 730.3h0M221.1 739.3h0M196 737h0M196.8 722.6h0M210.2 730.4h0M206.6 736.5h0M210.1 717.9h0M192.2 734.5h0M195.2 723.5h0M202.9 727.7h0M217.9 740.5h0M209.4 724.1h0M205.8 729.6h0M210.4 719.8h0M219.6 728h0M215.4 720.4h0M207 727h0M203.8 740.9h0M208.2 724h0M226.5 729.2h0M220.9 720.3h0M197.7 726.7h0M212.1 724.9h0M225.3 734h0M210.7 745.9h0M204.5 725.8h0M220.7 738.1h0M213.2 745.3h0M232.5 742.2h0M190.7 730.3h0M217.8 738.4h0M198.1 740.9h0M194.5 723.7h0M199.8 737.8h0M221.6 720.2h0M221.4 722.2h0M193.8 732.4h0M225.3 747.1h0M231.8 741.5h0M207.3 732.9h0M218.9 738.7h0M219 718.6h0M216.9 732.5h0M224 732.8h0M219.7 730.9h0M197 728.1h0M222.8 723.9h0M211.5 717.4h0M231 731.5h0M201.3 733.2h0M206.8 734.4h0M205.8 736.1h0M198.5 720.5h0M204 732.5h0M213.2 717.2h0M209.1 725.5h0M214.8 720.5h0M191.5 727.8h0M224 726.9h0M199 723.9h0M208.8 727.5h0M231 731h0M227.2 742.3h0M207 740.7h0M206.1 720.1h0M216.4 727.2h0M212.2 716.7h0M224.9 744h0M202 739.9h0M209.2 718.2h0M214.8 721.1h0M209.1 727.3h0M214.6 732.6h0M219.3 737.8h0M217.3 724.2h0M205 720.1h0M207.4 723.3h0M230.8 740.7h0M220 734.3h0M231.1 731.2h0M196.2 721.5h0M206.3 738.1h0M231.4 737.6h0M232.2 735.8h0M211.5 741.5h0M207.5 719.2h0M231.7 734.8h0M210.9 721.8h0M217.1 742.6h0M234.6 734.6h0M207.5 740.3h0M221.5 736.2h0M216.5 729.7h0M203.4 723.2h0M210.3 740.4h0M212.5 721.5h0M223.8 741.1h0M229.9 730.1h0M219 734h0M192.3 728.6h0M204.8 729.8h0M211.4 734.4h0M189.5 728.4h0M232.1 736.3h0M214.7 732.9h0M224.6 725.1h0M200.2 737.4h0M231.7 731.8h0M198.4 735.7h0M201.3 737.6h0M209.3 742.1h0M223.1 726.9h0M218.1 745h0M215.5 729.2h0M204 736h0M224.5 741.6h0M212 740h0M216.8 747.6h0M205.5 729.9h0M189.9 727.7h0M216.9 727h0M193.4 732h0M214.3 720.7h0M205.2 739.2h0M215.4 726h0M216.9 721.1h0M203.6 737.9h0M197.6 735.5h0M207.4 724.1h0M227.2 745.9h0M219.8 731.8h0M208.4 737.7h0M220 735.8h0M197.1 734.2h0M217.3 720.7h0M205.3 731h0M219.4 717.9h0M210.5 722.5h0M193.5 731.8h0M226.1 729.3h0M210.5 721.4h0M193.4 736.3h0M231.6 736.2h0M222.5 725.7h0M205.4 730.3h0M219.1 732.3h0M224.2 735.3h0M219.9 742.6h0M224.6 723.6h0M217 720.2h0M205.4 729.2h0M220.7 725.1h0M211.2 740.9h0M197.2 733.3h0M199.3 725.3h0M201.6 732.8h0M212.9 727.5h0M221.2 728.1h0M222.8 730.6h0M194.9 739.1h0M206.9 730.2h0M197.7 720.8h0M206.2 735.8h0M208.1 729h0M219.9 744.5h0M228.7 740.8h0M218.4 728.6h0M221.2 731.3h0M211.6 738.6h0M200.5 729.3h0M222.1 743h0M226.5 736.4h0M196.6 723.1h0M193 732.3h0M224.7 729.9h0M193.5 738.1h0M197.8 723.4h0M203.2 732.3h0M210.5 740.7h0M208.9 737.5h0M217.3 733.8h0" fill="none" stroke-linecap="round"/>
<path stroke="#D46E90" stroke-width="1.8" d="M255.3 737.7h0M271 732.5h0M232.2 746.2h0M225.6 732.6h0M231.9 728h0M264.2 742.4h0M247 737.7h0M251.8 727.7h0M242.1 753.1h0M240 749.8h0M232.1 729.8h0M241.9 744.3h0M265.2 732.2h0M278.4 735.5h0M252.7 749.7h0M238.2 745.8h0M258.2 744.9h0M230.3 735.7h0M243.7 743.2h0M268.4 746.8h0M250.2 746.4h0M258.7 746.9h0M258 746.3h0M234.6 744.8h0M241.7 728.6h0M235.2 734.8h0M248 732.5h0M239.5 749.7h0M237.4 746.2h0M237.3 746.5h0M239.4 734.6h0M254.8 752.6h0M261 738.3h0M248.1 726.1h0M253.7 748.5h0M228.3 745.6h0M241.2 728h0M263.5 729.2h0M252.2 738.7h0M263.7 728.7h0M263.5 744.9h0M242.8 743.7h0M266.2 732.3h0M245.1 751.8h0M258.5 747.8h0M239.1 735.9h0M257.8 751h0M244.5 744.9h0M239.3 732.8h0M241.9 737.8h0M238.4 749.5h0M249.4 749.2h0M258.8 733.6h0M260.2 742h0M278 737h0M265.1 735h0M253.7 728.3h0M275.8 742.6h0M235.7 733.7h0M242 740.3h0M254.9 744.4h0M239.6 749.2h0M237 735.3h0M224.3 736.8h0M259.4 742.3h0M246.5 744.7h0M275.3 746.6h0M237 731.7h0M250 727.8h0M273.6 742.8h0M274.4 735.9h0M236.3 737.7h0M256.2 738.2h0M254.5 745.4h0M250.4 728.8h0M235.7 750.4h0M272.3 730.8h0M256.4 743.8h0M233.2 735h0M270.7 731.1h0M226.7 737.1h0M279.7 738.9h0M264.4 750.2h0M272 733.7h0M269.9 745.7h0M240.3 745.4h0M229.5 730.5h0M239.2 737.6h0M246.5 750.6h0M255 728.6h0M265.1 750.9h0M229.9 743.4h0M247.7 751.9h0M231.5 749.2h0M262.8 733.6h0M241.3 737.7h0M242.6 749.6h0M254 733.9h0M250 750.7h0M224.7 738.1h0M272 731.4h0M250 748.2h0M243.6 753.1h0M262.9 729h0M279.8 740.2h0M266.6 742.4h0M230.2 733.4h0M245.4 737.6h0M256.1 748.3h0M263.9 736h0M253.3 738.2h0M242.4 733.8h0M272.2 747.8h0M261.6 727.8h0M265.9 735.5h0M256.9 737.6h0M275.3 733.1h0M234.8 733.7h0M258.3 744.4h0M270.5 744.6h0M229.2 739h0M269.9 736.2h0M225.8 734.4h0M270.3 745.8h0M277.2 740.8h0M225.7 735.3h0M233.4 729.4h0M269.7 748.6h0M235.9 739.8h0M226.5 734.9h0M277.1 736.5h0M264.1 747.8h0M243.6 728.4h0M235.1 729.2h0M230.2 743h0M244.3 741.8h0M230.9 739.6h0M228 735.5h0M230.5 744.2h0M229.6 743.3h0M271.2 734.1h0M251.8 743.3h0M254.6 740.9h0M272.9 738.6h0M237.8 748.1h0M275.7 739h0M247.7 730.1h0M257.1 749.9h0M258.8 730.9h0M263.7 739.7h0M259.1 739.8h0M269.4 742.8h0M262 740.4h0M240.2 747.7h0M273.4 737.5h0M238 736.6h0M236 749.1h0M241.1 741.1h0M234.4 733.5h0M232.8 745.6h0M230.6 738.4h0M269.9 730.7h0M239.2 751.9h0M242.5 727.2h0M234.3 748.1h0M243.9 737.8h0M236.8 735.4h0M235.6 743.5h0M247.3 743.4h0M246.2 741.8h0M254.4 729.6h0M257.9 733h0M244.6 729.3h0M232.7 741.8h0M257.6 746.2h0M245.7 738.7h0M226.4 735.7h0M256.9 746.7h0M230.1 738.4h0M265.9 729.7h0M242.4 733.8h0M246.9 739.8h0M239.4 738.7h0M251.6 726.8h0M239.4 733.6h0M244.9 741.8h0M252.6 743.5h0M227.4 729.3h0M273.8 732.1h0M262.4 737.7h0M253.9 734h0M227.2 734.1h0M228.9 729.3h0M265.6 733.5h0M270 737.1h0M244.4 733.8h0M271.8 736.6h0M271.8 731.5h0M253.8 743.6h0M234.2 750.4h0M239.7 727.3h0M262.8 732.7h0M249.3 729.8h0M229.5 746.6h0M224.8 735h0M238 732h0M243.7 740.5h0M257.6 744.3h0M254.9 728.3h0M252.9 730h0M275.1 743.3h0M252.7 726.5h0M236.2 740.4h0M257.1 727.3h0M256.7 745.3h0M238.9 735.7h0M236.5 733.9h0M252.2 753.8h0M246.2 745.1h0M238.4 739.7h0M231.6 746.4h0M233.1 738.2h0M260.6 751.8h0M243.4 753h0M231.2 732.1h0M226.4 741.2h0M227.5 739.4h0M252.2 753.4h0M241.6 734.4h0M249.7 743.8h0M246.3 746.5h0M259.3 751.8h0M274.3 733.7h0M232.8 747.4h0M238.5 746.2h0M263 738.6h0M242 734.7h0M241 732.5h0M262.1 751.4h0M275.5 742.3h0M259.7 752h0M235.7 729.3h0M260.6 735.9h0M239.1 752.3h0M251.6 734.5h0M236.4 732.3h0M261 728.6h0M232.8 734h0M269.6 730.2h0M261.8 736.3h0M263.3 746.1h0M276.3 741.6h0M245.9 737h0M252.3 742.9h0M242.2 752.5h0M235.3 743.3h0M243.8 752.6h0M255.8 752.8h0M231.4 728.5h0M237.6 748.7h0M278.8 740.7h0M273.4 748.2h0M268.4 737.4h0M255.8 727.1h0M272.7 739.7h0M259.2 737.7h0M256.8 744.8h0M263.3 728.4h0M242.1 730.2h0M273.1 742.4h0M242.8 748.3h0M240.3 744.6h0M230.1 733.3h0M269.1 733.7h0M279.8 739.7h0M228.7 732.2h0M262.1 733.4h0M249.8 739.1h0M240.5 732h0M255.6 746.4h0M232.5 731.7h0M254.8 731.6h0M263.5 743h0M235.4 729.8h0M232.9 750.3h0M235.6 736.6h0M262.7 729.4h0M261.9 741.4h0M243.8 741h0M227.7 746.5h0M235.2 738.8h0M248.8 742.7h0M225.3 738.6h0M268.4 749.7h0M257.1 731.4h0M268.3 738.1h0M257.3 735.3h0M271.1 748h0M269.9 733.8h0M225.5 743.3h0M261.6 745.4h0M254.7 736h0M230.2 738.2h0M250.8 747.7h0M253.1 746.7h0M258.3 738h0M259.6 736h0M254.2 748.2h0M232.7 748.4h0M256.1 733.9h0M267.2 740.4h0M233.1 733.5h0M236.5 729.4h0M233.9 741.1h0M266.9 732h0M236.2 748.4h0M231.9 747h0M256.8 750.7h0M224.5 737.5h0M234.2 741.7h0M248.4 730.7h0M247.7 744.2h0M243 751.4h0M250.8 753.5h0M253.6 728.8h0M246.1 732.5h0M238.4 742.6h0M230.6 740.8h0M238.7 733.6h0M248.1 741.6h0M256.7 751.3h0M258.9 733.7h0M229.6 729.7h0M250.7 741.7h0M254.2 737.5h0M250.5 727.9h0M247.4 748.6h0M272.3 735.5h0M252.9 741.3h0M241.4 735.5h0M268.3 744.5h0M233.1 739.6h0M255 728.9h0M254.6 728h0M234.7 728.5h0M255 733.5h0M244.5 750.9h0M272.8 738.9h0M235.9 731.3h0M258.8 744.4h0M272.8 733.3h0M241.6 747.5h0M244.5 743.4h0M262.4 741.1h0M263.8 737h0M239.1 745.1h0M253.9 751.6h0M251.9 734.9h0M254.1 734h0M254.6 739.3h0M252.2 726.8h0M267.6 738.7h0M257.3 746.2h0M263.7 742.6h0M228.4 729.2h0M276.8 740.9h0M270.3 747.8h0M262.8 741.9h0M258.7 750.6h0M272.7 739.5h0M258.9 746.5h0M252.8 737.4h0M234.5 744.9h0M230.1 743.7h0M267.3 743.1h0M238.6 743.3h0M260.5 732.3h0M246.7 729.6h0M250 726.9h0M265.2 739.1h0M235.8 750.5h0M260.3 735.9h0M264.2 746.7h0M252.3 753.5h0M234.8 727.5h0M251.5 734.1h0M265.7 731.3h0M275.3 747h0M227.3 731.2h0M236.4 736.3h0M245.4 735.2h0M225.2 738.1h0M269.7 729.3h0M236.8 741.9h0M267.7 734.3h0M232.6 733.7h0M254.1 748.8h0M242.4 744.3h0M244 741h0M253.4 747.7h0M265.1 738h0M275 741.5h0M231.9 741.1h0M273.1 743.2h0M232.6 741.8h0M263.1 728.5h0M266 738h0M236.7 741.9h0M251.7 741.2h0M230.5 742.1h0M237.6 729.7h0M238.1 753.3h0M272.1 739.4h0M232 741h0M252.7 737.3h0M253.6 750.5h0M235.4 743.3h0M253.5 746.9h0M240.4 751.6h0M237.1 733.8h0M260.7 747h0M238.1 737.3h0M260.2 728.2h0M258.9 730.5h0M231 745.2h0M243.2 739.4h0M244.4 751h0M242.6 729h0M258.5 733.4h0M230 741.2h0M256.8 735.3h0M252 733.8h0M244.2 730.5h0M232 734.3h0M226.7 739.4h0M252.1 739.9h0M240.3 736h0M256 745.9h0M246.3 738.9h0M265.4 739.2h0M240.6 730h0M272.6 737.2h0M254 752.2h0M250.6 736.3h0M229.5 737.8h0M254.8 737.9h0M272.5 748.8h0M276.3 734.3h0M236.2 748.8h0M262.9 730.4h0M278.1 739.7h0M241.6 733.1h0M263.2 750.6h0M243.1 747.3h0M266.8 739.8h0M271.7 748.4h0M244.8 732.1h0M246.3 728.5h0M236.7 746.9h0M275.7 744h0M273.3 733.6h0M263.2 746.3h0M264.5 732.4h0M248.6 744.8h0M260.3 746.7h0M280.1 738.3h0M276.2 745.6h0M268.4 746h0M228.1 746.4h0M275.1 745.3h0M270 745.8h0M273.2 736.8h0M252.6 747.3h0M272 733.5h0M258.5 752.5h0M260.1 749.9h0M241.5 737.2h0M246 732.2h0M250.1 728.2h0M247.3 739.7h0M230.6 744.7h0M241.1 736.7h0M234 734.3h0M233.4 739.8h0M249.4 733.5h0M257.7 736.9h0M234.8 743.8h0M235.3 727.1h0M261.9 741.6h0M245.9 729.9h0M257.3 749.6h0M245.7 725.9h0M245.8 729.3h0M255.6 737.6h0M252.1 736.8h0M254.6 746h0M243.5 728.8h0M253 739.6h0M273.9 744.7h0M250.9 730.8h0M231.6 743.7h0M229.9 737.6h0M269.9 743.8h0M266.3 742.1h0M238.5 737.9h0M260.9 752.1h0M234.4 732.4h0M226.9 743.6h0M233.2 733.1h0M278.4 743.3h0M273.8 747.6h0M236.8 738.4h0M264.3 734.8h0M265.3 749.8h0M259.4 745.1h0M255.7 751.4h0M259.4 731.3h0M266.4 735.2h0M269 737.8h0M267 749.9h0M239.3 728.1h0M234 743.3h0M242.9 749h0M248.8 748.9h0M275.9 743.9h0M240.6 742.3h0M267.8 740.1h0M258 739.9h0M246.7 749.4h0M228.9 741h0M256.9 745.7h0M267.5 733.9h0M253.6 745.5h0M272.9 743.1h0M227.8 739h0M253.1 732h0M246.8 732.2h0M229.8 741.8h0M243.1 744.6h0M256.7 742.6h0M243.7 732.3h0M246.3 739.7h0M269.1 739.1h0M276.2 744.3h0M252.5 748.7h0M273.5 739.1h0M254 727.3h0M235.8 748.9h0M271.3 744.2h0M245.3 733.4h0M259 730.2h0M270.2 729.6h0M261.8 744.6h0M251.8 751.7h0M241.5 739.8h0M266.8 731.4h0M259.8 731.3h0M240.7 732h0M235.7 741.6h0M234.3 734h0M239 734h0M235.2 736.6h0M246.8 738.4h0M245.5 735.8h0M231.5 728h0M232.4 748.6h0M249.3 746.6h0M249.7 726.5h0M273.3 737.6h0M247.6 753.1h0M263.5 733.3h0M235 733.4h0M269.8 748.6h0M237.9 735.8h0M234.5 748.2h0M278.6 744.3h0M270.8 747.1h0M245.8 739.8h0M273.4 738.2h0M231.6 730.6h0M251.2 747.2h0M228.9 729.1h0M264.4 733.4h0M253.2 739.8h0M277.7 742.2h0M265.1 749.6h0M264.3 742.4h0M260.5 736.2h0M244.2 746.4h0M238.6 738.3h0M248.7 728.7h0M276.4 736.4h0M255.2 748.9h0M230 738h0M247.6 734.8h0M259.4 747.9h0M236.5 745h0M269.9 734.5h0M253.9 735.8h0M245.7 728.2h0M226.8 740.7h0M270.2 738.9h0M249.2 750.2h0M238.3 751.8h0M231.7 749.7h0M256 751.7h0M230 746.2h0M273.6 739h0M247.3 730.3h0M261 746.3h0M265.5 750.6h0M262.5 748.5h0M240.4 745.5h0M255 744.7h0M253.3 729.6h0M260.2 740.8h0M243.4 752.3h0M234.1 750.2h0M264.3 738.2h0M244.4 736h0M238.3 744.4h0M245.3 748.8h0M263.4 729.1h0M239.6 739h0M250.8 745.4h0M263.9 729.8h0M263.7 740h0M233 733.1h0M241.1 735.1h0M233.7 738h0M227.8 732h0M264.5 737.8h0M254.6 732.1h0M227.9 735.5h0M243.5 729.3h0M261.3 742.3h0M252.1 742.8h0M250.4 741.3h0M252.5 727.1h0M244.1 744.6h0M255.2 730.4h0M245.1 736.2h0M272.2 741.8h0M255.5 744.1h0M245.1 729.6h0M240.6 742h0M276.6 738.6h0M265.2 745.8h0M233.8 744.9h0M255.9 736.5h0M238.2 726.3h0M245.4 737.6h0M267.9 748.8h0M234.8 748.2h0M246.5 730.6h0M257.7 733.4h0M277.6 735.2h0M243.4 746.3h0M259.4 744.2h0M259.4 738.2h0M249.5 733.6h0M261.4 739.7h0M278 735.4h0M262.1 730.5h0M275.7 737.9h0M254 735.3h0M257.4 749.2h0M242.5 750.4h0M278.6 736h0M246.1 751.6h0M228.4 735.6h0M276.9 740.8h0M245.3 730.9h0M239.8 751.3h0M257.7 735.8h0M253.7 734h0M225.8 734.7h0M262.8 748.9h0M255.9 745.6h0M255.5 733.7h0M245.8 745h0M264.1 739h0M259.8 731.6h0M249.8 738.1h0M251.9 739.1h0M255.8 738.2h0M269.2 744.6h0M245.2 736h0M260.6 728.8h0M239.5 731.7h0M254.8 746.2h0M274.4 740.1h0M255.1 745.6h0M256.9 737.6h0M235.2 749.4h0M262.9 737.3h0M271.5 729.9h0M258.5 740.2h0M247.3 738.5h0M250.6 744.3h0M234.1 741.3h0M240.3 748.2h0M240.5 728.2h0M264.7 743.4h0M245.6 732.5h0M271.7 748.1h0M243 726.2h0M239.8 745.6h0M263.2 736.4h0M272.4 746.1h0M256.8 737.1h0M239.7 745.2h0M235.7 751.1h0M260.1 741.9h0M248.5 744.8h0M263 732.1h0M236.1 732.3h0M236.5 738.4h0M270.4 743.4h0M261.4 729.7h0M231.5 744h0M269.2 733.5h0M238.4 745.4h0M241.3 752.2h0M239.5 745.7h0M230.9 730.3h0M227.5 740.9h0M243.5 735.6h0M232.3 740.9h0M272.4 745.5h0M243.6 727.1h0M264.5 747h0M238.2 736.7h0M262.8 745h0M252.3 740.4h0M254.1 752.1h0M229.1 739.9h0M237.8 733.6h0M268.7 733.8h0M270.7 739.9h0M268.8 745.1h0M242.4 730.5h0M243.7 735.6h0M280.1 736.9h0M245.1 739.5h0M253.7 730.9h0M240 735.8h0M228.3 733.8h0M240.4 751.7h0M265.8 730.1h0M260 739.2h0M258.9 748.8h0M254.1 735.9h0M279 739.3h0M242.1 749.7h0M229.8 744h0M240.2 748.9h0M241.5 727.6h0M230.6 734.1h0M257.8 739.2h0M231.4 735.3h0M266.1 750.7h0M272.2 735h0M266.6 735.9h0M267.2 735.6h0M257.5 749.7h0M251.4 731.7h0M232.1 745.8h0M243.8 732.5h0M268.1 729.7h0M236.4 743.4h0M269.9 739.3h0M253 743.9h0M277.5 743.6h0M236.3 734.3h0M234.3 736.1h0M267.1 741.6h0M235 751.6h0M262.6 742.6h0M268.5 730.3h0M273.4 739.2h0M244.2 740.1h0M277.2 743.2h0M258.7 748.2h0M245.3 727.5h0M253.3 745.7h0M256.8 732.9h0M274.8 745.1h0M256.7 750.8h0M234.2 731.2h0M230.5 743.2h0M250.3 741.3h0M245.6 734.3h0M244.2 739.3h0M234.3 737.4h0M272.2 743.2h0M242.5 737.7h0M252.9 736.7h0M227.6 733.4h0M257.9 733.3h0M255.8 730h0M251.8 749.7h0M235.5 740.7h0M238.7 742h0M252 736.3h0M228.6 729.3h0M237.9 746.5h0M232.5 737.4h0M234.4 727.1h0M256.7 742.1h0M234.7 744.4h0M255.5 752.1h0M273.8 745.2h0M276.6 741h0M245.9 734.8h0M267.2 730.4h0M257.6 736.4h0M262.9 730h0M239.9 740h0M262 731.4h0M273.9 732.5h0M263.2 732.4h0M254.2 747.8h0M240.5 736.4h0M279.1 745.1h0M243.6 753.2h0M230.3 747.9h0M237.1 729.4h0M278.1 736.8h0M257.9 753.1h0M245.8 726.3h0M232.9 738.9h0M244.2 737.4h0M271.1 735.7h0M226 735.5h0M239.2 739.7h0M228.8 740.8h0M234.5 729.1h0M232.8 732.7h0M254 737.3h0M261.9 735.2h0M260.3 749.3h0M258.4 735.6h0M227.1 741.6h0M274 738.8h0M263 747.4h0M253 747.1h0M263.6 745.2h0M273.3 744.9h0M236.3 739.8h0M238.4 729.7h0M271.8 741.2h0M252.2 728.9h0M243.4 747.6h0M248.9 735.5h0M249.6 729.5h0M254.4 738h0M276.5 746h0M253.2 737.8h0M233 732.2h0M247.9 731.7h0M257.2 731.7h0M239.7 732.5h0M237.1 729.7h0M237.8 733.3h0M270.3 741.6h0M275.9 746.3h0M238.4 737.1h0M245.8 749.4h0M249.8 750.2h0M234.8 742.7h0M251.5 737.2h0M233.4 730.9h0M231.4 729.8h0M244.7 746.1h0M255.6 752.6h0M225.8 741.2h0M272.2 748h0M230.6 741.4h0M247.3 735h0M278.5 741.5h0M245.1 750.7h0M229.2 744.3h0M260.6 730.9h0M231.9 739.4h0M238.3 741h0M235.8 749.4h0M268.2 748.7h0M246.5 730.2h0M231.6 735h0M242.7 734.8h0M260.2 730.8h0M235 726.9h0M256.7 739.5h0M261 743.1h0M250.3 735.9h0M229.3 734.8h0M247.3 738.5h0M250.5 732.9h0M260 733.6h0M239.8 743.9h0M242.6 752.7h0M242 726.6h0M253.5 732.2h0M232.9 731.5h0M260 729.9h0M255.6 744.6h0M258.2 740.4h0M271.4 747.5h0M224.4 740.4h0M256.9 744h0M251.2 726.5h0M262.6 730.3h0M253.7 733.1h0M243.9 752.4h0M239.7 737.9h0M237.6 734.5h0M225.7 739.1h0M245.8 751.7h0M249.9 740.6h0M264.2 740.9h0M249.1 742.6h0M249.4 728.3h0M236.7 747.5h0M279.9 737.1h0M250.8 736.8h0M236.2 731.5h0M256 743.5h0M242.7 746.3h0M255.1 741.4h0M243.6 750.3h0M247 746.6h0M247.2 730.3h0M258.2 740.7h0M279.6 742.4h0M241 736.8h0M273.7 746.4h0M236.5 745.1h0M232.8 750.3h0M265.5 736.9h0M255.9 731.5h0M233.7 735.1h0M260.9 736.6h0M228.7 735.9h0M261 750.4h0M252.7 731.7h0M260.7 750.6h0M271.5 736h0M264.3 736.5h0M273 740.7h0M249.5 727.2h0M278.4 735.6h0M227.5 733h0M247.5 741.5h0M255 731.6h0M245.7 740h0M262.1 749.1h0M273 731.8h0M251.1 729.4h0M254 739h0M246.7 751.9h0M238.9 744.7h0M241.1 740.2h0M269 732h0M274 740.8h0M266 743.6h0M241.6 739h0M249.2 743.3h0M238.5 740.1h0M269.2 736.9h0M228.9 747.8h0M275.6 734.1h0M268.3 735.2h0M232.2 745.1h0M271.9 741.3h0M241.8 750.8h0M236.4 728.1h0M243 731.3h0M246.3 734.8h0M259.5 738h0M229.3 734.7h0M272.2 746.6h0M249.4 747.7h0M251.2 729.5h0M275.1 733.4h0M249.5 736.1h0M257.5 728.2h0M269.1 740.9h0M237.7 734.3h0M243.3 747.2h0M254.9 736.7h0M242.8 727.3h0M235 744.1h0M271.8 730.9h0M263.5 735.7h0M254.9 752.5h0M243.4 744.8h0M275.8 744h0M265.5 730.2h0M249.3 730.4h0M269.2 733.1h0M241.2 747h0M259.4 730.9h0M258.1 751.9h0M241.9 745.3h0M234 740.5h0M271.1 731.7h0M249.2 753.6h0M245.3 741h0M267.2 730.4h0M250.8 753.7h0M240.8 738.2h0M265.4 748.2h0M258.1 727.7h0M268.6 733.4h0M236.4 747.8h0M226.4 743.2h0M234.1 748h0M257.5 746.8h0M259.8 735.5h0M226.3 731.6h0M254.6 730.2h0M277 736.4h0M230.9 748.8h0M229.6 743.3h0M260.6 741.8h0M264.6 741.1h0M235.5 734.8h0M260.5 733.7h0M259.2 742h0M236.4 732.5h0M234.7 746.4h0M247.5 752.7h0M269.4 733.4h0M273.2 734.1h0M265.7 740.5h0M247.7 738.4h0M238 751.5h0M257.2 736.5h0M249.3 743.2h0M229.7 747.2h0M257.9 731.8h0M263.8 747.8h0M267.1 736.5h0M250.3 744h0M253 746.3h0M228.8 739.4h0M251.1 745.7h0M240.2 741.2h0M251.6 728.8h0M260.4 751.7h0" fill="none" stroke-linecap="round"/>
<path stroke="#D46E90" stroke-width="1.8" d="M235.1 711h0M226.1 718.7h0M226.2 717.1h0M238.6 712.9h0M231.6 712.7h0M230.4 710.8h0M237.4 710.9h0M226.9 717.8h0M238 714.9h0M240.1 716.8h0M223.4 717h0M238 712.2h0M237.1 713.6h0M228.1 715.3h0M239.4 712.9h0M226.4 714.9h0M226 718.4h0M236.9 712.9h0M236.3 713.7h0M238.6 715.9h0M230.9 712.8h0M237.8 713.6h0M223.3 716.4h0M239.1 715.9h0M239 712.3h0M232.5 711.1h0M225.8 714.2h0M234.4 712h0M241 715.4h0M236.7 710.8h0M235.7 714.6h0M234.5 710.7h0M228 712.4h0M228.3 715.7h0M228 712.3h0" fill="none" stroke-linecap="round"/>
<path stroke="#4A8A6E" stroke-width="1.8" d="M212.2 718.9h0M213.6 718.5h0M210.3 720.1h0M217.4 716h0M219.6 715.5h0M218.5 716.3h0M214.2 716.2h0M220 716.5h0M218.1 715.7h0M221.1 715.6h0M218.1 714.2h0M210.3 719.6h0M220.2 713h0M210.6 719.1h0M219.7 716.2h0M213.7 721.6h0M211.6 718.1h0M214.6 716.4h0M217.1 715.5h0M217.8 717.1h0M212.1 721.9h0M219.9 713.2h0M216.4 715.5h0M210.3 720.9h0M219.2 714.1h0" fill="none" stroke-linecap="round"/>
<path stroke="#1FC0C8" stroke-width="1.8" d="M185.2 624.2h0M180.3 631.3h0M183.5 641.3h0M201.7 628.3h0M199.6 622.1h0M201.9 638.5h0M186 641.7h0M207.9 637.9h0M191.1 642.4h0M193.9 637.2h0M186.2 623.1h0M202 627.1h0M184.9 631.1h0M182.1 634.9h0M189.4 631.2h0M186.3 634.5h0M190.5 641.5h0M200.3 629.5h0M185.6 639.3h0M188.1 621.6h0M190.5 637h0M207.7 636.5h0M201.7 635.2h0M191.1 622.7h0M190.7 639.1h0M182.2 643.7h0M201.2 623.9h0M193.3 629.9h0M200.1 635h0M194.3 638h0M188.5 635.1h0M198.4 624.7h0M193.3 631.3h0M202.4 636.8h0M193.8 632.6h0M196.8 625h0M203.4 623.4h0M189 622.3h0M198.6 627.8h0M182.5 635.8h0M184.3 639.8h0M195.6 636.1h0M203.1 630.6h0M180.1 643.8h0M207.1 636.4h0M203.2 620.5h0M187.6 626.2h0M194.5 642.6h0M197.4 623h0M188.5 634.9h0M180.3 631.8h0M200.6 625.9h0M184.8 622.9h0M186.5 636.4h0M202.4 633.9h0M196.5 627.1h0M186.8 625.1h0M196.9 639.6h0M198.6 638.2h0M195 639h0M189.3 625.8h0M204.1 639.5h0M199 628.2h0M187.4 640.4h0M196.8 622.7h0M200.3 624.3h0M183.5 629.6h0M204.1 628.3h0M189.4 634h0M200.2 624.1h0M184.8 632.6h0M191.8 634.1h0M192.5 627.7h0M208.6 641.5h0M193.9 629.9h0M189.1 623.7h0M201.7 631.5h0M183 628.9h0M203.1 629h0M180.6 632.1h0M188 637.5h0M199.9 622.4h0M197.2 636.3h0M193.5 623.6h0M190.6 624.1h0M207.4 635.3h0M208 636.6h0M184.6 626.3h0M205.8 624.9h0M189.6 643.2h0M181.1 638.3h0M202.2 636.9h0M189.8 632.2h0M189.9 639.6h0M188.9 642.6h0M181.8 632.1h0M184.2 624.9h0M201.4 636.9h0M200 636.2h0M204.9 629.9h0M194.4 636.6h0M194.2 625.9h0M183.4 630.6h0M187.7 626.5h0M201.8 637.1h0M188.1 635.5h0M184.1 643.5h0M183 629.3h0M187.2 628.8h0M201.2 624.7h0M184.7 626.6h0" fill="none" stroke-linecap="round"/>
<path stroke="#D46E90" stroke-width="1.8" d="M226.3 740.3h0M227.7 741.5h0M231.4 733.3h0M231.6 733.8h0M229.8 731.5h0M232.1 741.7h0M223.4 732.1h0M226.2 734.6h0M224.7 730.4h0M229 742.9h0M221.7 741.6h0M226.4 731.4h0M229.3 742.6h0M221.7 733.2h0M221.3 738.2h0M226.6 739.5h0M228.9 745.2h0M221.5 731.3h0M224 734.1h0M224.4 744.1h0M233.1 733.4h0M222.1 729.7h0M224.5 737.7h0M228.5 731.1h0M230.9 731.3h0M221.9 738.1h0M225.8 744.2h0M232.9 740.3h0M224.7 736.6h0M227.4 740.1h0M223.7 735.4h0M221.9 735.2h0" fill="none" stroke-linecap="round"/>
<path stroke="#4A8A6E" stroke-width="1.8" d="M236.2 738.7h0M229.4 735.2h0M231.3 738h0M234.1 744.2h0M232.2 746.1h0M236.4 747.8h0M238.1 739.9h0M237.2 747.9h0M237.3 746.7h0M229 745.5h0M229.6 748.1h0M236.2 747.5h0M237 751.2h0M232.7 740.8h0M237.9 745.1h0M237.1 735.3h0M233.6 739.8h0M240.1 749.8h0M236.6 744.7h0M241.2 736.9h0M231.1 741.2h0M229.9 740.7h0M232.7 739.9h0M232.8 739.1h0M235.8 745.5h0M233.5 741.4h0M229.8 737.2h0" fill="none" stroke-linecap="round"/>
<path stroke="#F23A3A" stroke-width="1.8" d="M161.3 614.6h0M155.4 605.2h0M159.3 606.5h0M159.4 617.6h0M157.6 608.8h0M140.4 607.6h0M150.7 620.7h0M144.5 606.4h0M147 613.7h0M140.3 616.9h0M152.4 618.8h0M142.6 609.4h0M158.2 619.7h0M142.9 613.8h0M142.3 611.6h0M140.2 620.4h0M160.5 609.3h0M156.7 614.9h0M140.7 625h0M140.8 617.1h0" fill="none" stroke-linecap="round"/>
<path stroke="#EC7AEE" stroke-width="1.8" d="M70.2 827.8h0M64.2 837.2h0M67.5 830.6h0M65.9 837.9h0M66.3 829.9h0M66.5 832.6h0M69.2 836h0M69 836.5h0M69.7 831.9h0M62.9 838.8h0M60.7 836.2h0M68.4 832.8h0M70.3 826.6h0M65.3 835.6h0M72.8 831h0M70.9 829.3h0M67.6 836h0M71.5 832.6h0M69.7 831.9h0M68.1 829.1h0M69.7 837.2h0M70.7 835.2h0M62.4 834.3h0M70 827.1h0M72.9 829h0M70.4 829h0M71.1 834.6h0M73.7 828.1h0M68.4 833h0M69.3 834.7h0M69.3 835.3h0M66.8 836.6h0M70.5 831.1h0M63.7 831.9h0M65.7 836.9h0M67.6 831.6h0M72.7 834.5h0M73.6 829.8h0M71.2 828.1h0M69.1 833.3h0M66.1 833.3h0M69.1 837.4h0M73.5 829.2h0M60.8 837h0M66.2 832.1h0M74.1 830.3h0M61.5 834.6h0M61.6 836.4h0M72.6 833.9h0M73.9 830.9h0M62.9 835.8h0M72.9 832.2h0M70.4 827.2h0M72.8 834.4h0M67 837.7h0M69.7 827.9h0M70.2 827.8h0M72.4 827.2h0M66.4 835.9h0M67.1 836.1h0M68.5 837.1h0M66.7 836.2h0M63 838.6h0M72.7 831.2h0M69.5 836.1h0M72.3 826.6h0M67.8 829.2h0M71.9 833.5h0M71.4 825.7h0M68.2 834.1h0M73 828.7h0M69.3 833.7h0M65.6 830.3h0M63.4 831.5h0M64.8 835.2h0M72.2 834.3h0M62.7 838h0M66.6 834.1h0M64.3 834.4h0M63.9 835.9h0M62.3 835.8h0M69.2 828.5h0M68.5 837.2h0M71.3 833.6h0M73.7 827.4h0M69.6 833.9h0M68.8 834.9h0M68.4 836.2h0M69.3 833.6h0M72.1 835.5h0M71.1 832.5h0M72.2 830.5h0M71.6 828.8h0M59.9 837.1h0M65.8 836.4h0M72.2 829.5h0M72.8 831.3h0M66.6 833.2h0M66.6 830.8h0M70.9 829.3h0M67.4 831.6h0M70 835.7h0M73.3 826.7h0M68.3 834h0M63.5 835.2h0M64.8 837.9h0M72.2 834.4h0M71.1 831.5h0M62.8 837.8h0M70.2 830.6h0M72.9 829.2h0M65.2 838.2h0M72.8 828.1h0M70.3 827.4h0M71 829.4h0M68.1 830h0M63.7 833.6h0M68.4 829h0M72.6 831.1h0M62.6 838.3h0M68.9 834.9h0M69.6 833.2h0M71 833.5h0M60.3 837.5h0M70.2 836.7h0M62 836.3h0M66.1 835.2h0M64.3 835.8h0M71.8 830.2h0M66.5 837.6h0M65.8 835.8h0M61.4 838.3h0M70.2 833.7h0M66.4 832.6h0M73 825.9h0M71.5 828.3h0M65.5 836h0M71.9 833h0M70.8 833.2h0M68.6 832.2h0M71 829.7h0M63.7 831.9h0M60.9 838.1h0M69.5 827.5h0M67 830.1h0M71.9 834.7h0M63.3 837.8h0M67.5 837.9h0M69.4 833.9h0M72.2 828.5h0M62.2 835.7h0M62.4 833.5h0M60.9 836.2h0M67.3 830.8h0M74 833.3h0M69.9 831.4h0M71.5 829.6h0M73.8 834h0M66 837.2h0M60.3 836.5h0M63.7 838.3h0M62.9 837h0M70.9 828h0M70.4 836.6h0M63.6 835.3h0M65.4 838.7h0M69.9 832h0M70.8 832.5h0M69.8 836.5h0M73.8 830.4h0M64.4 832.3h0M71.6 830.5h0M65.8 836.2h0M73.9 833.4h0M65.2 834.9h0M68.3 829.9h0M73.3 831.6h0M61.8 838.7h0M62.1 835.4h0M70.4 835.8h0M71.5 828.8h0M62.6 833.5h0M64.1 835.7h0M65.5 834.2h0M70.2 826.6h0M66.1 836.6h0M72.9 829.1h0M70.6 835.9h0M69.8 836.4h0M73.1 828.9h0M73 827.6h0M63 834.8h0M62 835.8h0M72.6 832.8h0M72.2 827.2h0M64.8 830.9h0M66 835.2h0M68.5 837.2h0M67.8 830.7h0M63 838.9h0M66 835.7h0M65.9 837.3h0M62.2 837.7h0M73.9 831.8h0M72.4 831.9h0M62.6 837.1h0M65 832.1h0M67.8 835.7h0M72 826.5h0M69.6 827.3h0M74 826.9h0M69.9 830.3h0M71 830.9h0" fill="none" stroke-linecap="round"/>
<path stroke="#F7A5B5" stroke-width="1.8" d="M80.9 817.7h0M80.7 817.8h0M78.7 819.5h0M77.2 821.3h0M75.6 822.4h0M78.5 819.5h0M77.7 819.5h0M83.1 817.4h0M81.3 817.3h0M77.3 820.9h0M74.5 822.2h0M77.9 819h0M80.6 818h0M82.3 817.9h0M77.8 819.1h0M76.9 821.3h0M77.2 820.7h0M79.5 818.1h0M80.3 818.2h0M77.7 820.4h0M81.4 817.9h0" fill="none" stroke-linecap="round"/>
<path stroke="#60D060" stroke-width="1.8" d="M61.1 838.6h0M59.8 837h0M59.2 837.7h0M61.4 838.3h0M61.1 838.9h0M62.2 838.1h0M60.1 838.8h0M61.2 837.3h0M61.9 836.8h0M59.7 838.2h0M60 837.1h0M59.3 838.1h0M59.9 839.1h0" fill="none" stroke-linecap="round"/>
<rect x="331" y="0" width="193.5" height="14.7" fill="#D9D9D9" stroke="none" stroke-width="0.6" />
<text x="428" y="12" font-size="10.5" font-weight="bold" text-anchor="middle" fill="#111" >scRNA-seq (mouse)</text>
<text x="377.6" y="28.5" font-size="10" font-weight="bold" text-anchor="middle" fill="#111" >BM</text>
<text x="479" y="28.5" font-size="10" font-weight="bold" text-anchor="middle" fill="#111" >Spleen</text>
<path d="M353.6 32.7C360.5 32.7 360.5 32.7 367.3 32.7L367.3 38.9C360.5 38.9 360.5 48.2 353.6 48.2Z" fill="#F8535A" fill-opacity="0.72"/>
<path d="M353.6 48.2C360.5 48.2 360.5 38.9 367.3 38.9L367.3 43C360.5 43 360.5 53.4 353.6 53.4Z" fill="#FBC743" fill-opacity="0.72"/>
<path d="M353.6 53.4C360.5 53.4 360.5 43 367.3 43L367.3 76.1C360.5 76.1 360.5 86 353.6 86Z" fill="#A07FDF" fill-opacity="0.72"/>
<path d="M353.6 86C360.5 86 360.5 76.1 367.3 76.1L367.3 157.7C360.5 157.7 360.5 157.7 353.6 157.7Z" fill="#3D96F3" fill-opacity="0.72"/>
<path d="M353.6 157.7C360.5 157.7 360.5 157.7 367.3 157.7L367.3 164.9C360.5 164.9 360.5 162.9 353.6 162.9Z" fill="#20C5CF" fill-opacity="0.72"/>
<path d="M353.6 162.9C360.5 162.9 360.5 164.9 367.3 164.9L367.3 174.2C360.5 174.2 360.5 174.8 353.6 174.8Z" fill="#B3D8E8" fill-opacity="0.72"/>
<path d="M353.6 174.8C360.5 174.8 360.5 174.2 367.3 174.2L367.3 176.3C360.5 176.3 360.5 176.3 353.6 176.3Z" fill="#8A7418" fill-opacity="0.72"/>
<path d="M353.6 176.3C360.5 176.3 360.5 176.3 367.3 176.3L367.3 213.9C360.5 213.9 360.5 210.4 353.6 210.4Z" fill="#FB895C" fill-opacity="0.72"/>
<path d="M353.6 210.4C360.5 210.4 360.5 218.2 367.3 218.2L367.3 222.4C360.5 222.4 360.5 219.3 353.6 219.3Z" fill="#22CB24" fill-opacity="0.72"/>
<path d="M353.6 219.3C360.5 219.3 360.5 222.4 367.3 222.4L367.3 232.7C360.5 232.7 360.5 224.4 353.6 224.4Z" fill="#DCF585" fill-opacity="0.72"/>
<path d="M353.6 224.4C360.5 224.4 360.5 232.7 367.3 232.7L367.3 235.2C360.5 235.2 360.5 233.5 353.6 233.5Z" fill="#DA7B9B" fill-opacity="0.72"/>
<path d="M353.6 233.5C360.5 233.5 360.5 235.2 367.3 235.2L367.3 236.2C360.5 236.2 360.5 234.3 353.6 234.3Z" fill="#5E9A84" fill-opacity="0.72"/>
<path d="M353.6 234.3C360.5 234.3 360.5 236.2 367.3 236.2L367.3 236.4C360.5 236.4 360.5 234.5 353.6 234.5Z" fill="#A4ECA0" fill-opacity="0.72"/>
<path d="M353.6 234.5C360.5 234.5 360.5 236.4 367.3 236.4L367.3 238.3C360.5 238.3 360.5 237.2 353.6 237.2Z" fill="#FDCAD6" fill-opacity="0.72"/>
<path d="M353.6 237.2C360.5 237.2 360.5 238.3 367.3 238.3L367.3 239.3C360.5 239.3 360.5 239.3 353.6 239.3Z" fill="#EB82EC" fill-opacity="0.72"/>
<path d="M388.3 32.7C395.4 32.7 395.4 32.7 402.4 32.7L402.4 43C395.4 43 395.4 38.9 388.3 38.9Z" fill="#F8535A" fill-opacity="0.72"/>
<path d="M388.3 38.9C395.4 38.9 395.4 43 402.4 43L402.4 54.8C395.4 54.8 395.4 43 388.3 43Z" fill="#FBC743" fill-opacity="0.72"/>
<path d="M388.3 43C395.4 43 395.4 54.8 402.4 54.8L402.4 89.5C395.4 89.5 395.4 76.1 388.3 76.1Z" fill="#A07FDF" fill-opacity="0.72"/>
<path d="M388.3 76.1C395.4 76.1 395.4 89.5 402.4 89.5L402.4 163.3C395.4 163.3 395.4 157.7 388.3 157.7Z" fill="#3D96F3" fill-opacity="0.72"/>
<path d="M388.3 157.7C395.4 157.7 395.4 163.3 402.4 163.3L402.4 172.8C395.4 172.8 395.4 164.9 388.3 164.9Z" fill="#20C5CF" fill-opacity="0.72"/>
<path d="M388.3 164.9C395.4 164.9 395.4 172.8 402.4 172.8L402.4 185C395.4 185 395.4 174.2 388.3 174.2Z" fill="#B3D8E8" fill-opacity="0.72"/>
<path d="M388.3 174.2C395.4 174.2 395.4 185 402.4 185L402.4 199.4C395.4 199.4 395.4 176.3 388.3 176.3Z" fill="#8A7418" fill-opacity="0.72"/>
<path d="M388.3 176.3C395.4 176.3 395.4 199.4 402.4 199.4L402.4 214.5C395.4 214.5 395.4 213.9 388.3 213.9Z" fill="#FB895C" fill-opacity="0.72"/>
<path d="M388.3 213.9C395.4 213.9 395.4 214.5 402.4 214.5L402.4 214.9C395.4 214.9 395.4 218.2 388.3 218.2Z" fill="#CF35A0" fill-opacity="0.72"/>
<path d="M388.3 218.2C395.4 218.2 395.4 214.9 402.4 214.9L402.4 221.3C395.4 221.3 395.4 222.4 388.3 222.4Z" fill="#22CB24" fill-opacity="0.72"/>
<path d="M388.3 222.4C395.4 222.4 395.4 221.3 402.4 221.3L402.4 231.7C395.4 231.7 395.4 232.7 388.3 232.7Z" fill="#DCF585" fill-opacity="0.72"/>
<path d="M388.3 232.7C395.4 232.7 395.4 231.7 402.4 231.7L402.4 235.2C395.4 235.2 395.4 235.2 388.3 235.2Z" fill="#DA7B9B" fill-opacity="0.72"/>
<path d="M388.3 235.2C395.4 235.2 395.4 235.2 402.4 235.2L402.4 235.4C395.4 235.4 395.4 236.2 388.3 236.2Z" fill="#5E9A84" fill-opacity="0.72"/>
<path d="M388.3 236.2C395.4 236.2 395.4 235.4 402.4 235.4L402.4 235.6C395.4 235.6 395.4 236.4 388.3 236.4Z" fill="#A4ECA0" fill-opacity="0.72"/>
<path d="M388.3 236.4C395.4 236.4 395.4 235.6 402.4 235.6L402.4 237.9C395.4 237.9 395.4 238.3 388.3 238.3Z" fill="#FDCAD6" fill-opacity="0.72"/>
<path d="M388.3 238.3C395.4 238.3 395.4 237.9 402.4 237.9L402.4 239.3C395.4 239.3 395.4 239.3 388.3 239.3Z" fill="#EB82EC" fill-opacity="0.72"/>
<rect x="332.6" y="32.7" width="21" height="15.5" fill="#F8535A" stroke="#2a2a2a" stroke-width="0.55" />
<rect x="332.6" y="48.2" width="21" height="5.2" fill="#FBC743" stroke="#2a2a2a" stroke-width="0.55" />
<rect x="332.6" y="53.4" width="21" height="32.6" fill="#A07FDF" stroke="#2a2a2a" stroke-width="0.55" />
<rect x="332.6" y="86" width="21" height="71.7" fill="#3D96F3" stroke="#2a2a2a" stroke-width="0.55" />
<rect x="332.6" y="157.7" width="21" height="5.2" fill="#20C5CF" stroke="#2a2a2a" stroke-width="0.55" />
<rect x="332.6" y="162.9" width="21" height="12" fill="#B3D8E8" stroke="#2a2a2a" stroke-width="0.55" />
<rect x="332.6" y="174.8" width="21" height="1.4" fill="#8A7418" stroke="#2a2a2a" stroke-width="0.55" />
<rect x="332.6" y="176.3" width="21" height="34.1" fill="#FB895C" stroke="#2a2a2a" stroke-width="0.55" />
<rect x="332.6" y="210.4" width="21" height="8.9" fill="#22CB24" stroke="#2a2a2a" stroke-width="0.55" />
<rect x="332.6" y="219.3" width="21" height="5.2" fill="#DCF585" stroke="#2a2a2a" stroke-width="0.55" />
<rect x="332.6" y="224.4" width="21" height="9.1" fill="#DA7B9B" stroke="#2a2a2a" stroke-width="0.55" />
<rect x="332.6" y="233.5" width="21" height="0.8" fill="#5E9A84" stroke="#2a2a2a" stroke-width="0.55" />
<rect x="332.6" y="234.3" width="21" height="0.2" fill="#A4ECA0" stroke="#2a2a2a" stroke-width="0.55" />
<rect x="332.6" y="234.5" width="21" height="2.7" fill="#FDCAD6" stroke="#2a2a2a" stroke-width="0.55" />
<rect x="332.6" y="237.2" width="21" height="2.1" fill="#EB82EC" stroke="#2a2a2a" stroke-width="0.55" />
<rect x="367.3" y="32.7" width="21" height="6.2" fill="#F8535A" stroke="#2a2a2a" stroke-width="0.55" />
<rect x="367.3" y="38.9" width="21" height="4.1" fill="#FBC743" stroke="#2a2a2a" stroke-width="0.55" />
<rect x="367.3" y="43" width="21" height="33.1" fill="#A07FDF" stroke="#2a2a2a" stroke-width="0.55" />
<rect x="367.3" y="76.1" width="21" height="81.6" fill="#3D96F3" stroke="#2a2a2a" stroke-width="0.55" />
<rect x="367.3" y="157.7" width="21" height="7.2" fill="#20C5CF" stroke="#2a2a2a" stroke-width="0.55" />
<rect x="367.3" y="164.9" width="21" height="9.3" fill="#B3D8E8" stroke="#2a2a2a" stroke-width="0.55" />
<rect x="367.3" y="174.2" width="21" height="2.1" fill="#8A7418" stroke="#2a2a2a" stroke-width="0.55" />
<rect x="367.3" y="176.3" width="21" height="37.6" fill="#FB895C" stroke="#2a2a2a" stroke-width="0.55" />
<rect x="367.3" y="213.9" width="21" height="4.3" fill="#CF35A0" stroke="#2a2a2a" stroke-width="0.55" />
<rect x="367.3" y="218.2" width="21" height="4.1" fill="#22CB24" stroke="#2a2a2a" stroke-width="0.55" />
<rect x="367.3" y="222.4" width="21" height="10.3" fill="#DCF585" stroke="#2a2a2a" stroke-width="0.55" />
<rect x="367.3" y="232.7" width="21" height="2.5" fill="#DA7B9B" stroke="#2a2a2a" stroke-width="0.55" />
<rect x="367.3" y="235.2" width="21" height="1" fill="#5E9A84" stroke="#2a2a2a" stroke-width="0.55" />
<rect x="367.3" y="236.2" width="21" height="0.2" fill="#A4ECA0" stroke="#2a2a2a" stroke-width="0.55" />
<rect x="367.3" y="236.4" width="21" height="1.9" fill="#FDCAD6" stroke="#2a2a2a" stroke-width="0.55" />
<rect x="367.3" y="238.3" width="21" height="1" fill="#EB82EC" stroke="#2a2a2a" stroke-width="0.55" />
<rect x="402.4" y="32.7" width="21" height="10.3" fill="#F8535A" stroke="#2a2a2a" stroke-width="0.55" />
<rect x="402.4" y="43" width="21" height="11.8" fill="#FBC743" stroke="#2a2a2a" stroke-width="0.55" />
<rect x="402.4" y="54.8" width="21" height="34.7" fill="#A07FDF" stroke="#2a2a2a" stroke-width="0.55" />
<rect x="402.4" y="89.5" width="21" height="73.8" fill="#3D96F3" stroke="#2a2a2a" stroke-width="0.55" />
<rect x="402.4" y="163.3" width="21" height="9.5" fill="#20C5CF" stroke="#2a2a2a" stroke-width="0.55" />
<rect x="402.4" y="172.8" width="21" height="12.2" fill="#B3D8E8" stroke="#2a2a2a" stroke-width="0.55" />
<rect x="402.4" y="185" width="21" height="14.5" fill="#8A7418" stroke="#2a2a2a" stroke-width="0.55" />
<rect x="402.4" y="199.4" width="21" height="15.1" fill="#FB895C" stroke="#2a2a2a" stroke-width="0.55" />
<rect x="402.4" y="214.5" width="21" height="0.4" fill="#CF35A0" stroke="#2a2a2a" stroke-width="0.55" />
<rect x="402.4" y="214.9" width="21" height="6.4" fill="#22CB24" stroke="#2a2a2a" stroke-width="0.55" />
<rect x="402.4" y="221.3" width="21" height="10.3" fill="#DCF585" stroke="#2a2a2a" stroke-width="0.55" />
<rect x="402.4" y="231.7" width="21" height="3.5" fill="#DA7B9B" stroke="#2a2a2a" stroke-width="0.55" />
<rect x="402.4" y="235.2" width="21" height="0.2" fill="#5E9A84" stroke="#2a2a2a" stroke-width="0.55" />
<rect x="402.4" y="235.4" width="21" height="0.2" fill="#A4ECA0" stroke="#2a2a2a" stroke-width="0.55" />
<rect x="402.4" y="235.6" width="21" height="2.3" fill="#FDCAD6" stroke="#2a2a2a" stroke-width="0.55" />
<rect x="402.4" y="237.9" width="21" height="1.4" fill="#EB82EC" stroke="#2a2a2a" stroke-width="0.55" />
<path d="M454.3 32.7C461.2 32.7 461.2 32.7 468.2 32.7L468.2 38.9C461.2 38.9 461.2 37.5 454.3 37.5Z" fill="#F8535A" fill-opacity="0.72"/>
<path d="M454.3 37.5C461.2 37.5 461.2 38.9 468.2 38.9L468.2 39.3C461.2 39.3 461.2 38.9 454.3 38.9Z" fill="#FBC743" fill-opacity="0.72"/>
<path d="M454.3 38.9C461.2 38.9 461.2 39.3 468.2 39.3L468.2 49.8C461.2 49.8 461.2 42.4 454.3 42.4Z" fill="#A07FDF" fill-opacity="0.72"/>
<path d="M454.3 42.4C461.2 42.4 461.2 49.8 468.2 49.8L468.2 63.3C461.2 63.3 461.2 44.7 454.3 44.7Z" fill="#3D96F3" fill-opacity="0.72"/>
<path d="M454.3 46.3C461.2 46.3 461.2 65.3 468.2 65.3L468.2 107.5C461.2 107.5 461.2 87.4 454.3 87.4Z" fill="#FB895C" fill-opacity="0.72"/>
<path d="M454.3 87.4C461.2 87.4 461.2 114.3 468.2 114.3L468.2 119.5C461.2 119.5 461.2 102.3 454.3 102.3Z" fill="#22CB24" fill-opacity="0.72"/>
<path d="M454.3 102.3C461.2 102.3 461.2 119.5 468.2 119.5L468.2 139.5C461.2 139.5 461.2 110.6 454.3 110.6Z" fill="#DA7B9B" fill-opacity="0.72"/>
<path d="M454.3 110.6C461.2 110.6 461.2 139.5 468.2 139.5L468.2 195.7C461.2 195.7 461.2 186.8 454.3 186.8Z" fill="#5E9A84" fill-opacity="0.72"/>
<path d="M454.3 186.8C461.2 186.8 461.2 195.7 468.2 195.7L468.2 220.1C461.2 220.1 461.2 216.4 454.3 216.4Z" fill="#A4ECA0" fill-opacity="0.72"/>
<path d="M454.3 216.4C461.2 216.4 461.2 220.1 468.2 220.1L468.2 223.2C461.2 223.2 461.2 220.5 454.3 220.5Z" fill="#FDCAD6" fill-opacity="0.72"/>
<path d="M454.3 220.5C461.2 220.5 461.2 223.2 468.2 223.2L468.2 239.3C461.2 239.3 461.2 239.3 454.3 239.3Z" fill="#EB82EC" fill-opacity="0.72"/>
<path d="M489.5 32.7C496.4 32.7 496.4 32.7 503.3 32.7L503.3 44.1C496.4 44.1 496.4 38.9 489.5 38.9Z" fill="#F8535A" fill-opacity="0.72"/>
<path d="M489.5 38.9C496.4 38.9 496.4 44.1 503.3 44.1L503.3 46.1C496.4 46.1 496.4 39.3 489.5 39.3Z" fill="#FBC743" fill-opacity="0.72"/>
<path d="M489.5 39.3C496.4 39.3 496.4 46.1 503.3 46.1L503.3 69.9C496.4 69.9 496.4 49.8 489.5 49.8Z" fill="#A07FDF" fill-opacity="0.72"/>
<path d="M489.5 49.8C496.4 49.8 496.4 69.9 503.3 69.9L503.3 93C496.4 93 496.4 63.3 489.5 63.3Z" fill="#3D96F3" fill-opacity="0.72"/>
<path d="M489.5 63.3C496.4 63.3 496.4 104.2 503.3 104.2L503.3 108.5C496.4 108.5 496.4 65.3 489.5 65.3Z" fill="#8A7418" fill-opacity="0.72"/>
<path d="M489.5 65.3C496.4 65.3 496.4 108.5 503.3 108.5L503.3 139.5C496.4 139.5 496.4 107.5 489.5 107.5Z" fill="#FB895C" fill-opacity="0.72"/>
<path d="M489.5 114.3C496.4 114.3 496.4 139.5 503.3 139.5L503.3 149.4C496.4 149.4 496.4 119.5 489.5 119.5Z" fill="#22CB24" fill-opacity="0.72"/>
<path d="M489.5 119.5C496.4 119.5 496.4 151.5 503.3 151.5L503.3 166.6C496.4 166.6 496.4 139.5 489.5 139.5Z" fill="#DA7B9B" fill-opacity="0.72"/>
<path d="M489.5 139.5C496.4 139.5 496.4 166.6 503.3 166.6L503.3 201.5C496.4 201.5 496.4 195.7 489.5 195.7Z" fill="#5E9A84" fill-opacity="0.72"/>
<path d="M489.5 195.7C496.4 195.7 496.4 201.5 503.3 201.5L503.3 224.6C496.4 224.6 496.4 220.1 489.5 220.1Z" fill="#A4ECA0" fill-opacity="0.72"/>
<path d="M489.5 220.1C496.4 220.1 496.4 224.6 503.3 224.6L503.3 235.6C496.4 235.6 496.4 223.2 489.5 223.2Z" fill="#FDCAD6" fill-opacity="0.72"/>
<path d="M489.5 223.2C496.4 223.2 496.4 235.6 503.3 235.6L503.3 239.3C496.4 239.3 496.4 239.3 489.5 239.3Z" fill="#EB82EC" fill-opacity="0.72"/>
<rect x="433" y="32.7" width="21.3" height="4.8" fill="#F8535A" stroke="#2a2a2a" stroke-width="0.55" />
<rect x="433" y="37.5" width="21.3" height="1.4" fill="#FBC743" stroke="#2a2a2a" stroke-width="0.55" />
<rect x="433" y="38.9" width="21.3" height="3.5" fill="#A07FDF" stroke="#2a2a2a" stroke-width="0.55" />
<rect x="433" y="42.4" width="21.3" height="2.3" fill="#3D96F3" stroke="#2a2a2a" stroke-width="0.55" />
<rect x="433" y="44.7" width="21.3" height="0.8" fill="#20C5CF" stroke="#2a2a2a" stroke-width="0.55" />
<rect x="433" y="45.5" width="21.3" height="0.8" fill="#B3D8E8" stroke="#2a2a2a" stroke-width="0.55" />
<rect x="433" y="46.3" width="21.3" height="41.1" fill="#FB895C" stroke="#2a2a2a" stroke-width="0.55" />
<rect x="433" y="87.4" width="21.3" height="14.9" fill="#22CB24" stroke="#2a2a2a" stroke-width="0.55" />
<rect x="433" y="102.3" width="21.3" height="8.3" fill="#DA7B9B" stroke="#2a2a2a" stroke-width="0.55" />
<rect x="433" y="110.6" width="21.3" height="76.2" fill="#5E9A84" stroke="#2a2a2a" stroke-width="0.55" />
<rect x="433" y="186.8" width="21.3" height="29.5" fill="#A4ECA0" stroke="#2a2a2a" stroke-width="0.55" />
<rect x="433" y="216.4" width="21.3" height="4.1" fill="#FDCAD6" stroke="#2a2a2a" stroke-width="0.55" />
<rect x="433" y="220.5" width="21.3" height="18.8" fill="#EB82EC" stroke="#2a2a2a" stroke-width="0.55" />
<rect x="468.2" y="32.7" width="21.3" height="6.2" fill="#F8535A" stroke="#2a2a2a" stroke-width="0.55" />
<rect x="468.2" y="38.9" width="21.3" height="0.4" fill="#FBC743" stroke="#2a2a2a" stroke-width="0.55" />
<rect x="468.2" y="39.3" width="21.3" height="10.5" fill="#A07FDF" stroke="#2a2a2a" stroke-width="0.55" />
<rect x="468.2" y="49.8" width="21.3" height="13.4" fill="#3D96F3" stroke="#2a2a2a" stroke-width="0.55" />
<rect x="468.2" y="63.3" width="21.3" height="2.1" fill="#8A7418" stroke="#2a2a2a" stroke-width="0.55" />
<rect x="468.2" y="65.3" width="21.3" height="42.1" fill="#FB895C" stroke="#2a2a2a" stroke-width="0.55" />
<rect x="468.2" y="107.5" width="21.3" height="6.8" fill="#CF35A0" stroke="#2a2a2a" stroke-width="0.55" />
<rect x="468.2" y="114.3" width="21.3" height="5.2" fill="#22CB24" stroke="#2a2a2a" stroke-width="0.55" />
<rect x="468.2" y="119.5" width="21.3" height="20" fill="#DA7B9B" stroke="#2a2a2a" stroke-width="0.55" />
<rect x="468.2" y="139.5" width="21.3" height="56.2" fill="#5E9A84" stroke="#2a2a2a" stroke-width="0.55" />
<rect x="468.2" y="195.7" width="21.3" height="24.4" fill="#A4ECA0" stroke="#2a2a2a" stroke-width="0.55" />
<rect x="468.2" y="220.1" width="21.3" height="3.1" fill="#FDCAD6" stroke="#2a2a2a" stroke-width="0.55" />
<rect x="468.2" y="223.2" width="21.3" height="16.1" fill="#EB82EC" stroke="#2a2a2a" stroke-width="0.55" />
<rect x="503.3" y="32.7" width="21.3" height="11.4" fill="#F8535A" stroke="#2a2a2a" stroke-width="0.55" />
<rect x="503.3" y="44.1" width="21.3" height="2.1" fill="#FBC743" stroke="#2a2a2a" stroke-width="0.55" />
<rect x="503.3" y="46.1" width="21.3" height="23.8" fill="#A07FDF" stroke="#2a2a2a" stroke-width="0.55" />
<rect x="503.3" y="69.9" width="21.3" height="23.1" fill="#3D96F3" stroke="#2a2a2a" stroke-width="0.55" />
<rect x="503.3" y="93" width="21.3" height="9.1" fill="#20C5CF" stroke="#2a2a2a" stroke-width="0.55" />
<rect x="503.3" y="102.1" width="21.3" height="2.1" fill="#B3D8E8" stroke="#2a2a2a" stroke-width="0.55" />
<rect x="503.3" y="104.2" width="21.3" height="4.3" fill="#8A7418" stroke="#2a2a2a" stroke-width="0.55" />
<rect x="503.3" y="108.5" width="21.3" height="31" fill="#FB895C" stroke="#2a2a2a" stroke-width="0.55" />
<rect x="503.3" y="139.5" width="21.3" height="9.9" fill="#22CB24" stroke="#2a2a2a" stroke-width="0.55" />
<rect x="503.3" y="149.4" width="21.3" height="2.1" fill="#DCF585" stroke="#2a2a2a" stroke-width="0.55" />
<rect x="503.3" y="151.5" width="21.3" height="15.1" fill="#DA7B9B" stroke="#2a2a2a" stroke-width="0.55" />
<rect x="503.3" y="166.6" width="21.3" height="34.9" fill="#5E9A84" stroke="#2a2a2a" stroke-width="0.55" />
<rect x="503.3" y="201.5" width="21.3" height="23.1" fill="#A4ECA0" stroke="#2a2a2a" stroke-width="0.55" />
<rect x="503.3" y="224.6" width="21.3" height="10.9" fill="#FDCAD6" stroke="#2a2a2a" stroke-width="0.55" />
<rect x="503.3" y="235.6" width="21.3" height="3.7" fill="#EB82EC" stroke="#2a2a2a" stroke-width="0.55" />
<line x1="332.4" y1="27" x2="332.4" y2="239.3" stroke="#333" stroke-width="0.8"/>
<line x1="329.5" y1="239.3" x2="332.4" y2="239.3" stroke="#555" stroke-width="0.8"/>
<text x="328.5" y="242.4" font-size="8.5" font-weight="normal" text-anchor="end" fill="#666" >0</text>
<line x1="329.5" y1="218.6" x2="332.4" y2="218.6" stroke="#555" stroke-width="0.8"/>
<text x="328.5" y="221.7" font-size="8.5" font-weight="normal" text-anchor="end" fill="#666" >10</text>
<line x1="329.5" y1="198" x2="332.4" y2="198" stroke="#555" stroke-width="0.8"/>
<text x="328.5" y="201.1" font-size="8.5" font-weight="normal" text-anchor="end" fill="#666" >20</text>
<line x1="329.5" y1="177.3" x2="332.4" y2="177.3" stroke="#555" stroke-width="0.8"/>
<text x="328.5" y="180.4" font-size="8.5" font-weight="normal" text-anchor="end" fill="#666" >30</text>
<line x1="329.5" y1="156.7" x2="332.4" y2="156.7" stroke="#555" stroke-width="0.8"/>
<text x="328.5" y="159.8" font-size="8.5" font-weight="normal" text-anchor="end" fill="#666" >40</text>
<line x1="329.5" y1="136" x2="332.4" y2="136" stroke="#555" stroke-width="0.8"/>
<text x="328.5" y="139.1" font-size="8.5" font-weight="normal" text-anchor="end" fill="#666" >50</text>
<line x1="329.5" y1="115.3" x2="332.4" y2="115.3" stroke="#555" stroke-width="0.8"/>
<text x="328.5" y="118.4" font-size="8.5" font-weight="normal" text-anchor="end" fill="#666" >60</text>
<line x1="329.5" y1="94.7" x2="332.4" y2="94.7" stroke="#555" stroke-width="0.8"/>
<text x="328.5" y="97.8" font-size="8.5" font-weight="normal" text-anchor="end" fill="#666" >70</text>
<line x1="329.5" y1="74" x2="332.4" y2="74" stroke="#555" stroke-width="0.8"/>
<text x="328.5" y="77.1" font-size="8.5" font-weight="normal" text-anchor="end" fill="#666" >80</text>
<line x1="329.5" y1="53.4" x2="332.4" y2="53.4" stroke="#555" stroke-width="0.8"/>
<text x="328.5" y="56.5" font-size="8.5" font-weight="normal" text-anchor="end" fill="#666" >90</text>
<line x1="329.5" y1="32.7" x2="332.4" y2="32.7" stroke="#555" stroke-width="0.8"/>
<text x="328.5" y="35.8" font-size="8.5" font-weight="normal" text-anchor="end" fill="#666" >100</text>
<text transform="translate(311,132.5) rotate(-90)" font-size="7.6" text-anchor="middle" fill="#555">Percentage</text>
<text x="343" y="250" font-size="7.9" font-weight="normal" text-anchor="middle" fill="#666" >Naive</text>
<text x="377.8" y="250" font-size="7.9" font-weight="normal" text-anchor="middle" fill="#666" >14 DPI</text>
<text x="413" y="250" font-size="7.9" font-weight="normal" text-anchor="middle" fill="#666" >20 DPI</text>
<text x="443.5" y="250" font-size="7.9" font-weight="normal" text-anchor="middle" fill="#666" >Naive</text>
<text x="478.8" y="250" font-size="7.9" font-weight="normal" text-anchor="middle" fill="#666" >14 DPI</text>
<text x="514" y="250" font-size="7.9" font-weight="normal" text-anchor="middle" fill="#666" >20 DPI</text>
<rect x="531" y="37.4" width="11.5" height="11.5" fill="#F8535A" stroke="#555" stroke-width="0.5" />
<text x="548.4" y="46.4" font-size="10.3" font-weight="normal" text-anchor="start" fill="#1a1a1a" >HSC</text>
<rect x="531" y="50" width="11.5" height="11.5" fill="#FBC743" stroke="#555" stroke-width="0.5" />
<text x="548.4" y="59" font-size="10.3" font-weight="normal" text-anchor="start" fill="#1a1a1a" >CLP</text>
<rect x="531" y="62.5" width="11.5" height="11.5" fill="#A07FDF" stroke="#555" stroke-width="0.5" />
<text x="548.4" y="71.5" font-size="10.3" font-weight="normal" text-anchor="start" fill="#1a1a1a" >GMP</text>
<rect x="531" y="75.1" width="11.5" height="11.5" fill="#3D96F3" stroke="#555" stroke-width="0.5" />
<text x="548.4" y="84.1" font-size="10.3" font-weight="normal" text-anchor="start" fill="#1a1a1a" >MP</text>
<rect x="531" y="87.6" width="11.5" height="11.5" fill="#20C5CF" stroke="#555" stroke-width="0.5" />
<text x="548.4" y="96.6" font-size="10.3" font-weight="normal" text-anchor="start" fill="#1a1a1a" >MDP</text>
<rect x="531" y="100.2" width="11.5" height="11.5" fill="#B3D8E8" stroke="#555" stroke-width="0.5" />
<text x="548.4" y="109.2" font-size="10.3" font-weight="normal" text-anchor="start" fill="#1a1a1a" >CDP</text>
<rect x="531" y="112.7" width="11.5" height="11.5" fill="#8A7418" stroke="#555" stroke-width="0.5" />
<text x="548.4" y="121.7" font-size="10.3" font-weight="normal" text-anchor="start" fill="#1a1a1a" >pre-pDC</text>
<rect x="531" y="125.2" width="11.5" height="11.5" fill="#FB895C" stroke="#555" stroke-width="0.5" />
<text x="548.4" y="134.2" font-size="10.3" font-weight="normal" text-anchor="start" fill="#1a1a1a" >pDC</text>
<rect x="531" y="137.8" width="11.5" height="11.5" fill="#CF35A0" stroke="#555" stroke-width="0.5" />
<text x="548.4" y="146.8" font-size="10.3" font-weight="normal" text-anchor="start" fill="#1a1a1a" >pDC_IFN</text>
<rect x="531" y="150.3" width="11.5" height="11.5" fill="#22CB24" stroke="#555" stroke-width="0.5" />
<text x="548.4" y="159.3" font-size="10.3" font-weight="normal" text-anchor="start" fill="#1a1a1a" >pre-cDC2</text>
<rect x="531" y="162.9" width="11.5" height="11.5" fill="#DCF585" stroke="#555" stroke-width="0.5" />
<text x="548.4" y="171.9" font-size="10.3" font-weight="normal" text-anchor="start" fill="#1a1a1a" >pro-DC3</text>
<rect x="531" y="175.5" width="11.5" height="11.5" fill="#DA7B9B" stroke="#555" stroke-width="0.5" />
<text x="548.4" y="184.5" font-size="10.3" font-weight="normal" text-anchor="start" fill="#1a1a1a" >DC3</text>
<rect x="531" y="188" width="11.5" height="11.5" fill="#5E9A84" stroke="#555" stroke-width="0.5" />
<text x="548.4" y="197" font-size="10.3" font-weight="normal" text-anchor="start" fill="#1a1a1a" >cDC2</text>
<rect x="531" y="200.6" width="11.5" height="11.5" fill="#A4ECA0" stroke="#555" stroke-width="0.5" />
<text x="548.4" y="209.6" font-size="10.3" font-weight="normal" text-anchor="start" fill="#1a1a1a" >Ccr7<tspan dy="-3.5" font-size="7">+</tspan><tspan dy="3.5"> cDC</tspan></text>
<rect x="531" y="213.1" width="11.5" height="11.5" fill="#FDCAD6" stroke="#555" stroke-width="0.5" />
<text x="548.4" y="222.1" font-size="10.3" font-weight="normal" text-anchor="start" fill="#1a1a1a" >pre-cDC1</text>
<rect x="531" y="225.7" width="11.5" height="11.5" fill="#EB82EC" stroke="#555" stroke-width="0.5" />
<text x="548.4" y="234.7" font-size="10.3" font-weight="normal" text-anchor="start" fill="#1a1a1a" >cDC1</text>
<rect x="368" y="572.5" width="162" height="16.1" fill="#D9D9D9" stroke="none" stroke-width="0.6" />
<text x="449" y="585.5" font-size="10.6" font-weight="bold" text-anchor="middle" fill="#111" >scRNA-seq (human)</text>
<path d="M389.7 599.5C396.6 599.5 396.6 599.5 403.6 599.5L403.6 630.7C396.6 630.7 396.6 667.6 389.7 667.6Z" fill="#F8535A" fill-opacity="0.72"/>
<path d="M389.7 667.6C396.6 667.6 396.6 630.7 403.6 630.7L403.6 635.6C396.6 635.6 396.6 678.2 389.7 678.2Z" fill="#FBC743" fill-opacity="0.72"/>
<path d="M389.7 678.2C396.6 678.2 396.6 635.6 403.6 635.6L403.6 667.3C396.6 667.3 396.6 731.4 389.7 731.4Z" fill="#A07FDF" fill-opacity="0.72"/>
<path d="M389.7 731.4C396.6 731.4 396.6 667.3 403.6 667.3L403.6 676.2C396.6 676.2 396.6 747.5 389.7 747.5Z" fill="#3D96F3" fill-opacity="0.72"/>
<path d="M389.7 747.5C396.6 747.5 396.6 676.2 403.6 676.2L403.6 685.6C396.6 685.6 396.6 767.1 389.7 767.1Z" fill="#20C5CF" fill-opacity="0.72"/>
<path d="M389.7 767.1C396.6 767.1 396.6 685.6 403.6 685.6L403.6 690.6C396.6 690.6 396.6 778.7 389.7 778.7Z" fill="#8A7418" fill-opacity="0.72"/>
<path d="M389.7 778.7C396.6 778.7 396.6 690.6 403.6 690.6L403.6 724.2C396.6 724.2 396.6 826.5 389.7 826.5Z" fill="#FB895C" fill-opacity="0.72"/>
<path d="M389.7 826.7C396.6 826.7 396.6 724.2 403.6 724.2L403.6 727.5C396.6 727.5 396.6 827 389.7 827Z" fill="#22CB24" fill-opacity="0.72"/>
<path d="M389.7 827C396.6 827 396.6 727.5 403.6 727.5L403.6 794.3C396.6 794.3 396.6 835.6 389.7 835.6Z" fill="#5E9A84" fill-opacity="0.72"/>
<path d="M389.7 835.6C396.6 835.6 396.6 794.3 403.6 794.3L403.6 840.1C396.6 840.1 396.6 843.3 389.7 843.3Z" fill="#DA7B9B" fill-opacity="0.72"/>
<path d="M389.7 843.8C396.6 843.8 396.6 840.1 403.6 840.1L403.6 847C396.6 847 396.6 847 389.7 847Z" fill="#EB82EC" fill-opacity="0.72"/>
<path d="M424.8 599.5C431.8 599.5 431.8 599.5 438.7 599.5L438.7 639.6C431.8 639.6 431.8 630.7 424.8 630.7Z" fill="#F8535A" fill-opacity="0.72"/>
<path d="M424.8 630.7C431.8 630.7 431.8 639.6 438.7 639.6L438.7 650C431.8 650 431.8 635.6 424.8 635.6Z" fill="#FBC743" fill-opacity="0.72"/>
<path d="M424.8 635.6C431.8 635.6 431.8 650 438.7 650L438.7 675.5C431.8 675.5 431.8 667.3 424.8 667.3Z" fill="#A07FDF" fill-opacity="0.72"/>
<path d="M424.8 667.3C431.8 667.3 431.8 675.5 438.7 675.5L438.7 684.6C431.8 684.6 431.8 676.2 424.8 676.2Z" fill="#3D96F3" fill-opacity="0.72"/>
<path d="M424.8 676.2C431.8 676.2 431.8 684.6 438.7 684.6L438.7 697.5C431.8 697.5 431.8 685.6 424.8 685.6Z" fill="#20C5CF" fill-opacity="0.72"/>
<path d="M424.8 685.6C431.8 685.6 431.8 697.5 438.7 697.5L438.7 712.4C431.8 712.4 431.8 690.6 424.8 690.6Z" fill="#8A7418" fill-opacity="0.72"/>
<path d="M424.8 690.6C431.8 690.6 431.8 712.4 438.7 712.4L438.7 744.8C431.8 744.8 431.8 724.2 424.8 724.2Z" fill="#FB895C" fill-opacity="0.72"/>
<path d="M424.8 724.2C431.8 724.2 431.8 744.8 438.7 744.8L438.7 747.5C431.8 747.5 431.8 727.5 424.8 727.5Z" fill="#22CB24" fill-opacity="0.72"/>
<path d="M424.8 727.5C431.8 727.5 431.8 747.5 438.7 747.5L438.7 787.1C431.8 787.1 431.8 794.3 424.8 794.3Z" fill="#5E9A84" fill-opacity="0.72"/>
<path d="M424.8 794.3C431.8 794.3 431.8 787.1 438.7 787.1L438.7 841.6C431.8 841.6 431.8 840.1 424.8 840.1Z" fill="#DA7B9B" fill-opacity="0.72"/>
<path d="M424.8 840.1C431.8 840.1 431.8 841.6 438.7 841.6L438.7 847C431.8 847 431.8 847 424.8 847Z" fill="#EB82EC" fill-opacity="0.72"/>
<path d="M459.9 599.5C466.9 599.5 466.9 599.5 473.9 599.5L473.9 619.3C466.9 619.3 466.9 639.6 459.9 639.6Z" fill="#F8535A" fill-opacity="0.72"/>
<path d="M459.9 639.6C466.9 639.6 466.9 619.3 473.9 619.3L473.9 624C466.9 624 466.9 650 459.9 650Z" fill="#FBC743" fill-opacity="0.72"/>
<path d="M459.9 650C466.9 650 466.9 624 473.9 624L473.9 686.6C466.9 686.6 466.9 675.5 459.9 675.5Z" fill="#A07FDF" fill-opacity="0.72"/>
<path d="M459.9 675.5C466.9 675.5 466.9 686.6 473.9 686.6L473.9 708.4C466.9 708.4 466.9 684.6 459.9 684.6Z" fill="#3D96F3" fill-opacity="0.72"/>
<path d="M459.9 684.6C466.9 684.6 466.9 708.4 473.9 708.4L473.9 734.4C466.9 734.4 466.9 697.5 459.9 697.5Z" fill="#20C5CF" fill-opacity="0.72"/>
<path d="M459.9 697.5C466.9 697.5 466.9 734.4 473.9 734.4L473.9 756.7C466.9 756.7 466.9 712.4 459.9 712.4Z" fill="#8A7418" fill-opacity="0.72"/>
<path d="M459.9 712.4C466.9 712.4 466.9 756.7 473.9 756.7L473.9 772.3C466.9 772.3 466.9 744.8 459.9 744.8Z" fill="#FB895C" fill-opacity="0.72"/>
<path d="M459.9 744.8C466.9 744.8 466.9 773.2 473.9 773.2L473.9 774.7C466.9 774.7 466.9 747.5 459.9 747.5Z" fill="#22CB24" fill-opacity="0.72"/>
<path d="M459.9 747.5C466.9 747.5 466.9 774.7 473.9 774.7L473.9 802.5C466.9 802.5 466.9 787.1 459.9 787.1Z" fill="#5E9A84" fill-opacity="0.72"/>
<path d="M459.9 787.1C466.9 787.1 466.9 802.5 473.9 802.5L473.9 839.6C466.9 839.6 466.9 841.6 459.9 841.6Z" fill="#DA7B9B" fill-opacity="0.72"/>
<path d="M459.9 841.6C466.9 841.6 466.9 839.8 473.9 839.8L473.9 847C466.9 847 466.9 847 459.9 847Z" fill="#EB82EC" fill-opacity="0.72"/>
<path d="M495.1 599.5C502.1 599.5 502.1 599.5 509.2 599.5L509.2 612.1C502.1 612.1 502.1 619.3 495.1 619.3Z" fill="#F8535A" fill-opacity="0.72"/>
<path d="M495.1 619.3C502.1 619.3 502.1 612.1 509.2 612.1L509.2 617.6C502.1 617.6 502.1 624 495.1 624Z" fill="#FBC743" fill-opacity="0.72"/>
<path d="M495.1 624C502.1 624 502.1 617.6 509.2 617.6L509.2 647.5C502.1 647.5 502.1 686.6 495.1 686.6Z" fill="#A07FDF" fill-opacity="0.72"/>
<path d="M495.1 686.6C502.1 686.6 502.1 647.5 509.2 647.5L509.2 663.1C502.1 663.1 502.1 708.4 495.1 708.4Z" fill="#3D96F3" fill-opacity="0.72"/>
<path d="M495.1 708.4C502.1 708.4 502.1 663.1 509.2 663.1L509.2 680.2C502.1 680.2 502.1 734.4 495.1 734.4Z" fill="#20C5CF" fill-opacity="0.72"/>
<path d="M495.1 734.4C502.1 734.4 502.1 680.2 509.2 680.2L509.2 699.7C502.1 699.7 502.1 756.7 495.1 756.7Z" fill="#8A7418" fill-opacity="0.72"/>
<path d="M495.1 756.7C502.1 756.7 502.1 699.7 509.2 699.7L509.2 715.8C502.1 715.8 502.1 772.3 495.1 772.3Z" fill="#FB895C" fill-opacity="0.72"/>
<path d="M495.1 772.3C502.1 772.3 502.1 715.8 509.2 715.8L509.2 717.8C502.1 717.8 502.1 773.2 495.1 773.2Z" fill="#CF35A0" fill-opacity="0.72"/>
<path d="M495.1 773.2C502.1 773.2 502.1 717.8 509.2 717.8L509.2 720.3C502.1 720.3 502.1 774.7 495.1 774.7Z" fill="#22CB24" fill-opacity="0.72"/>
<path d="M495.1 774.7C502.1 774.7 502.1 720.3 509.2 720.3L509.2 762.1C502.1 762.1 502.1 802.5 495.1 802.5Z" fill="#5E9A84" fill-opacity="0.72"/>
<path d="M495.1 802.5C502.1 802.5 502.1 762.1 509.2 762.1L509.2 838.3C502.1 838.3 502.1 839.6 495.1 839.6Z" fill="#DA7B9B" fill-opacity="0.72"/>
<path d="M495.1 839.8C502.1 839.8 502.1 838.3 509.2 838.3L509.2 847C502.1 847 502.1 847 495.1 847Z" fill="#EB82EC" fill-opacity="0.72"/>
<rect x="368.5" y="599.5" width="21.2" height="68.1" fill="#F8535A" stroke="#2a2a2a" stroke-width="0.55" />
<rect x="368.5" y="667.6" width="21.2" height="10.6" fill="#FBC743" stroke="#2a2a2a" stroke-width="0.55" />
<rect x="368.5" y="678.2" width="21.2" height="53.2" fill="#A07FDF" stroke="#2a2a2a" stroke-width="0.55" />
<rect x="368.5" y="731.4" width="21.2" height="16.1" fill="#3D96F3" stroke="#2a2a2a" stroke-width="0.55" />
<rect x="368.5" y="747.5" width="21.2" height="19.6" fill="#20C5CF" stroke="#2a2a2a" stroke-width="0.55" />
<rect x="368.5" y="767.1" width="21.2" height="11.6" fill="#8A7418" stroke="#2a2a2a" stroke-width="0.55" />
<rect x="368.5" y="778.7" width="21.2" height="47.8" fill="#FB895C" stroke="#2a2a2a" stroke-width="0.55" />
<rect x="368.5" y="826.5" width="21.2" height="0.2" fill="#CF35A0" stroke="#2a2a2a" stroke-width="0.55" />
<rect x="368.5" y="826.7" width="21.2" height="0.2" fill="#22CB24" stroke="#2a2a2a" stroke-width="0.55" />
<rect x="368.5" y="827" width="21.2" height="8.7" fill="#5E9A84" stroke="#2a2a2a" stroke-width="0.55" />
<rect x="368.5" y="835.6" width="21.2" height="7.7" fill="#DA7B9B" stroke="#2a2a2a" stroke-width="0.55" />
<rect x="368.5" y="843.3" width="21.2" height="0.2" fill="#A4ECA0" stroke="#2a2a2a" stroke-width="0.55" />
<rect x="368.5" y="843.5" width="21.2" height="0.2" fill="#FDCAD6" stroke="#2a2a2a" stroke-width="0.55" />
<rect x="368.5" y="843.8" width="21.2" height="3.2" fill="#EB82EC" stroke="#2a2a2a" stroke-width="0.55" />
<rect x="403.6" y="599.5" width="21.2" height="31.2" fill="#F8535A" stroke="#2a2a2a" stroke-width="0.55" />
<rect x="403.6" y="630.7" width="21.2" height="5" fill="#FBC743" stroke="#2a2a2a" stroke-width="0.55" />
<rect x="403.6" y="635.6" width="21.2" height="31.7" fill="#A07FDF" stroke="#2a2a2a" stroke-width="0.55" />
<rect x="403.6" y="667.3" width="21.2" height="8.9" fill="#3D96F3" stroke="#2a2a2a" stroke-width="0.55" />
<rect x="403.6" y="676.2" width="21.2" height="9.4" fill="#20C5CF" stroke="#2a2a2a" stroke-width="0.55" />
<rect x="403.6" y="685.6" width="21.2" height="5" fill="#8A7418" stroke="#2a2a2a" stroke-width="0.55" />
<rect x="403.6" y="690.6" width="21.2" height="33.7" fill="#FB895C" stroke="#2a2a2a" stroke-width="0.55" />
<rect x="403.6" y="724.2" width="21.2" height="3.2" fill="#22CB24" stroke="#2a2a2a" stroke-width="0.55" />
<rect x="403.6" y="727.5" width="21.2" height="66.8" fill="#5E9A84" stroke="#2a2a2a" stroke-width="0.55" />
<rect x="403.6" y="794.3" width="21.2" height="45.8" fill="#DA7B9B" stroke="#2a2a2a" stroke-width="0.55" />
<rect x="403.6" y="840.1" width="21.2" height="6.9" fill="#EB82EC" stroke="#2a2a2a" stroke-width="0.55" />
<rect x="438.7" y="599.5" width="21.2" height="40.1" fill="#F8535A" stroke="#2a2a2a" stroke-width="0.55" />
<rect x="438.7" y="639.6" width="21.2" height="10.4" fill="#FBC743" stroke="#2a2a2a" stroke-width="0.55" />
<rect x="438.7" y="650" width="21.2" height="25.5" fill="#A07FDF" stroke="#2a2a2a" stroke-width="0.55" />
<rect x="438.7" y="675.5" width="21.2" height="9.2" fill="#3D96F3" stroke="#2a2a2a" stroke-width="0.55" />
<rect x="438.7" y="684.6" width="21.2" height="12.9" fill="#20C5CF" stroke="#2a2a2a" stroke-width="0.55" />
<rect x="438.7" y="697.5" width="21.2" height="14.9" fill="#8A7418" stroke="#2a2a2a" stroke-width="0.55" />
<rect x="438.7" y="712.4" width="21.2" height="32.4" fill="#FB895C" stroke="#2a2a2a" stroke-width="0.55" />
<rect x="438.7" y="744.8" width="21.2" height="2.7" fill="#22CB24" stroke="#2a2a2a" stroke-width="0.55" />
<rect x="438.7" y="747.5" width="21.2" height="39.6" fill="#5E9A84" stroke="#2a2a2a" stroke-width="0.55" />
<rect x="438.7" y="787.1" width="21.2" height="54.5" fill="#DA7B9B" stroke="#2a2a2a" stroke-width="0.55" />
<rect x="438.7" y="841.6" width="21.2" height="5.4" fill="#EB82EC" stroke="#2a2a2a" stroke-width="0.55" />
<rect x="473.9" y="599.5" width="21.2" height="19.8" fill="#F8535A" stroke="#2a2a2a" stroke-width="0.55" />
<rect x="473.9" y="619.3" width="21.2" height="4.7" fill="#FBC743" stroke="#2a2a2a" stroke-width="0.55" />
<rect x="473.9" y="624" width="21.2" height="62.6" fill="#A07FDF" stroke="#2a2a2a" stroke-width="0.55" />
<rect x="473.9" y="686.6" width="21.2" height="21.8" fill="#3D96F3" stroke="#2a2a2a" stroke-width="0.55" />
<rect x="473.9" y="708.4" width="21.2" height="26" fill="#20C5CF" stroke="#2a2a2a" stroke-width="0.55" />
<rect x="473.9" y="734.4" width="21.2" height="22.3" fill="#8A7418" stroke="#2a2a2a" stroke-width="0.55" />
<rect x="473.9" y="756.7" width="21.2" height="15.6" fill="#FB895C" stroke="#2a2a2a" stroke-width="0.55" />
<rect x="473.9" y="772.3" width="21.2" height="1" fill="#CF35A0" stroke="#2a2a2a" stroke-width="0.55" />
<rect x="473.9" y="773.2" width="21.2" height="1.5" fill="#22CB24" stroke="#2a2a2a" stroke-width="0.55" />
<rect x="473.9" y="774.7" width="21.2" height="27.7" fill="#5E9A84" stroke="#2a2a2a" stroke-width="0.55" />
<rect x="473.9" y="802.5" width="21.2" height="37.1" fill="#DA7B9B" stroke="#2a2a2a" stroke-width="0.55" />
<rect x="473.9" y="839.6" width="21.2" height="0.2" fill="#A4ECA0" stroke="#2a2a2a" stroke-width="0.55" />
<rect x="473.9" y="839.8" width="21.2" height="7.2" fill="#EB82EC" stroke="#2a2a2a" stroke-width="0.55" />
<rect x="509.2" y="599.5" width="21.2" height="12.6" fill="#F8535A" stroke="#2a2a2a" stroke-width="0.55" />
<rect x="509.2" y="612.1" width="21.2" height="5.4" fill="#FBC743" stroke="#2a2a2a" stroke-width="0.55" />
<rect x="509.2" y="617.6" width="21.2" height="29.9" fill="#A07FDF" stroke="#2a2a2a" stroke-width="0.55" />
<rect x="509.2" y="647.5" width="21.2" height="15.6" fill="#3D96F3" stroke="#2a2a2a" stroke-width="0.55" />
<rect x="509.2" y="663.1" width="21.2" height="17.1" fill="#20C5CF" stroke="#2a2a2a" stroke-width="0.55" />
<rect x="509.2" y="680.2" width="21.2" height="19.6" fill="#8A7418" stroke="#2a2a2a" stroke-width="0.55" />
<rect x="509.2" y="699.7" width="21.2" height="16.1" fill="#FB895C" stroke="#2a2a2a" stroke-width="0.55" />
<rect x="509.2" y="715.8" width="21.2" height="2" fill="#CF35A0" stroke="#2a2a2a" stroke-width="0.55" />
<rect x="509.2" y="717.8" width="21.2" height="2.5" fill="#22CB24" stroke="#2a2a2a" stroke-width="0.55" />
<rect x="509.2" y="720.3" width="21.2" height="41.8" fill="#5E9A84" stroke="#2a2a2a" stroke-width="0.55" />
<rect x="509.2" y="762.1" width="21.2" height="76.2" fill="#DA7B9B" stroke="#2a2a2a" stroke-width="0.55" />
<rect x="509.2" y="838.3" width="21.2" height="8.7" fill="#EB82EC" stroke="#2a2a2a" stroke-width="0.55" />
<line x1="368.3" y1="591.6" x2="368.3" y2="847" stroke="#333" stroke-width="0.8"/>
<line x1="364.8" y1="847" x2="368.3" y2="847" stroke="#555" stroke-width="0.8"/>
<text x="363.8" y="850.4" font-size="9.5" font-weight="normal" text-anchor="end" fill="#666" >0</text>
<line x1="364.8" y1="822.2" x2="368.3" y2="822.2" stroke="#555" stroke-width="0.8"/>
<text x="363.8" y="825.6" font-size="9.5" font-weight="normal" text-anchor="end" fill="#666" >10</text>
<line x1="364.8" y1="797.5" x2="368.3" y2="797.5" stroke="#555" stroke-width="0.8"/>
<text x="363.8" y="800.9" font-size="9.5" font-weight="normal" text-anchor="end" fill="#666" >20</text>
<line x1="364.8" y1="772.8" x2="368.3" y2="772.8" stroke="#555" stroke-width="0.8"/>
<text x="363.8" y="776.1" font-size="9.5" font-weight="normal" text-anchor="end" fill="#666" >30</text>
<line x1="364.8" y1="748" x2="368.3" y2="748" stroke="#555" stroke-width="0.8"/>
<text x="363.8" y="751.4" font-size="9.5" font-weight="normal" text-anchor="end" fill="#666" >40</text>
<line x1="364.8" y1="723.2" x2="368.3" y2="723.2" stroke="#555" stroke-width="0.8"/>
<text x="363.8" y="726.6" font-size="9.5" font-weight="normal" text-anchor="end" fill="#666" >50</text>
<line x1="364.8" y1="698.5" x2="368.3" y2="698.5" stroke="#555" stroke-width="0.8"/>
<text x="363.8" y="701.9" font-size="9.5" font-weight="normal" text-anchor="end" fill="#666" >60</text>
<line x1="364.8" y1="673.8" x2="368.3" y2="673.8" stroke="#555" stroke-width="0.8"/>
<text x="363.8" y="677.1" font-size="9.5" font-weight="normal" text-anchor="end" fill="#666" >70</text>
<line x1="364.8" y1="649" x2="368.3" y2="649" stroke="#555" stroke-width="0.8"/>
<text x="363.8" y="652.4" font-size="9.5" font-weight="normal" text-anchor="end" fill="#666" >80</text>
<line x1="364.8" y1="624.2" x2="368.3" y2="624.2" stroke="#555" stroke-width="0.8"/>
<text x="363.8" y="627.6" font-size="9.5" font-weight="normal" text-anchor="end" fill="#666" >90</text>
<line x1="364.8" y1="599.5" x2="368.3" y2="599.5" stroke="#555" stroke-width="0.8"/>
<text x="363.8" y="602.9" font-size="9.5" font-weight="normal" text-anchor="end" fill="#666" >100</text>
<text transform="translate(343,719.3) rotate(-90)" font-size="8.5" text-anchor="middle" fill="#555">Percentage</text>
<text x="379" y="857.5" font-size="9.2" font-weight="normal" text-anchor="middle" fill="#666" >Healthy</text>
<text x="414.2" y="857.5" font-size="9.2" font-weight="normal" text-anchor="middle" fill="#666" >MGUS</text>
<text x="449.3" y="857.5" font-size="9.2" font-weight="normal" text-anchor="middle" fill="#666" >SMM</text>
<text x="484.5" y="857.5" font-size="9.2" font-weight="normal" text-anchor="middle" fill="#666" >NDMM</text>
<text x="519.8" y="857.5" font-size="9.2" font-weight="normal" text-anchor="middle" fill="#666" >RRMM</text>
<rect x="535.8" y="633.9" width="11.2" height="11.5" fill="#F8535A" stroke="#555" stroke-width="0.5" />
<text x="550.3" y="644.5" font-size="10.5" font-weight="normal" text-anchor="start" fill="#111" >HSC</text>
<rect x="535.8" y="646.6" width="11.2" height="11.5" fill="#FBC743" stroke="#555" stroke-width="0.5" />
<text x="550.3" y="657.2" font-size="10.5" font-weight="normal" text-anchor="start" fill="#111" >CLP</text>
<rect x="535.8" y="659.3" width="11.2" height="11.5" fill="#A07FDF" stroke="#555" stroke-width="0.5" />
<text x="550.3" y="669.9" font-size="10.5" font-weight="normal" text-anchor="start" fill="#111" >GMP</text>
<rect x="535.8" y="671.9" width="11.2" height="11.5" fill="#3D96F3" stroke="#555" stroke-width="0.5" />
<text x="550.3" y="682.5" font-size="10.5" font-weight="normal" text-anchor="start" fill="#111" >MP</text>
<rect x="535.8" y="684.6" width="11.2" height="11.5" fill="#20C5CF" stroke="#555" stroke-width="0.5" />
<text x="550.3" y="695.2" font-size="10.5" font-weight="normal" text-anchor="start" fill="#111" >MDP</text>
<rect x="535.8" y="697.3" width="11.2" height="11.5" fill="#8A7418" stroke="#555" stroke-width="0.5" />
<text x="550.3" y="707.9" font-size="10.5" font-weight="normal" text-anchor="start" fill="#111" >DC prolif</text>
<rect x="535.8" y="710" width="11.2" height="11.5" fill="#FB895C" stroke="#555" stroke-width="0.5" />
<text x="550.3" y="720.6" font-size="10.5" font-weight="normal" text-anchor="start" fill="#111" >pDC</text>
<rect x="535.8" y="722.7" width="11.2" height="11.5" fill="#CF35A0" stroke="#555" stroke-width="0.5" />
<text x="550.3" y="733.3" font-size="10.5" font-weight="normal" text-anchor="start" fill="#111" >pDC_IFN</text>
<rect x="535.8" y="735.3" width="11.2" height="11.5" fill="#22CB24" stroke="#555" stroke-width="0.5" />
<text x="550.3" y="745.9" font-size="10.5" font-weight="normal" text-anchor="start" fill="#111" >pre-cDC2</text>
<rect x="535.8" y="748" width="11.2" height="11.5" fill="#5E9A84" stroke="#555" stroke-width="0.5" />
<text x="550.3" y="758.6" font-size="10.5" font-weight="normal" text-anchor="start" fill="#111" >cDC2</text>
<rect x="535.8" y="760.7" width="11.2" height="11.5" fill="#DA7B9B" stroke="#555" stroke-width="0.5" />
<text x="550.3" y="771.3" font-size="10.5" font-weight="normal" text-anchor="start" fill="#111" >DC3</text>
<rect x="535.8" y="773.4" width="11.2" height="11.5" fill="#A4ECA0" stroke="#555" stroke-width="0.5" />
<text x="550.3" y="784" font-size="10.5" font-weight="normal" text-anchor="start" fill="#111" >CCR7<tspan dy="-3.5" font-size="7">+</tspan><tspan dy="3.5"> cDC</tspan></text>
<rect x="535.8" y="786.1" width="11.2" height="11.5" fill="#FDCAD6" stroke="#555" stroke-width="0.5" />
<text x="550.3" y="796.7" font-size="10.5" font-weight="normal" text-anchor="start" fill="#111" >cDC1 prolif</text>
<rect x="535.8" y="798.7" width="11.2" height="11.5" fill="#EB82EC" stroke="#555" stroke-width="0.5" />
<text x="550.3" y="809.3" font-size="10.5" font-weight="normal" text-anchor="start" fill="#111" >cDC1</text>
<line x1="58.9" y1="293" x2="58.9" y2="381.4" stroke="#9a9a9a" stroke-width="1.1"/>
<line x1="58.9" y1="381.4" x2="146.9" y2="381.4" stroke="#9a9a9a" stroke-width="1.1"/>
<line x1="55.4" y1="381.4" x2="58.9" y2="381.4" stroke="#9a9a9a" stroke-width="0.9"/>
<text x="54.4" y="383.9" font-size="7" font-weight="bold" text-anchor="end" fill="#222" >0</text>
<line x1="55.4" y1="363.9" x2="58.9" y2="363.9" stroke="#9a9a9a" stroke-width="0.9"/>
<text x="54.4" y="366.4" font-size="7" font-weight="bold" text-anchor="end" fill="#222" >2</text>
<line x1="55.4" y1="346.4" x2="58.9" y2="346.4" stroke="#9a9a9a" stroke-width="0.9"/>
<text x="54.4" y="348.9" font-size="7" font-weight="bold" text-anchor="end" fill="#222" >4</text>
<line x1="55.4" y1="329" x2="58.9" y2="329" stroke="#9a9a9a" stroke-width="0.9"/>
<text x="54.4" y="331.5" font-size="7" font-weight="bold" text-anchor="end" fill="#222" >6</text>
<line x1="55.4" y1="311.5" x2="58.9" y2="311.5" stroke="#9a9a9a" stroke-width="0.9"/>
<text x="54.4" y="314" font-size="7" font-weight="bold" text-anchor="end" fill="#222" >8</text>
<line x1="55.4" y1="294" x2="58.9" y2="294" stroke="#9a9a9a" stroke-width="0.9"/>
<text x="54.4" y="296.5" font-size="7" font-weight="bold" text-anchor="end" fill="#222" >10</text>
<rect x="65.8" y="365.7" width="13.3" height="15.7" fill="#8F8F8F" stroke="#444" stroke-width="0.7" />
<line x1="72.5" y1="381.4" x2="72.5" y2="384.4" stroke="#9a9a9a" stroke-width="0.9"/>
<line x1="72.5" y1="360.4" x2="72.5" y2="370.9" stroke="#222" stroke-width="0.8"/>
<line x1="69.5" y1="360.4" x2="75.5" y2="360.4" stroke="#222" stroke-width="0.8"/>
<line x1="69.5" y1="370.9" x2="75.5" y2="370.9" stroke="#222" stroke-width="0.8"/>
<circle cx="74.9" cy="361.1" r="1.1" fill="#111"/>
<circle cx="70.8" cy="369" r="1.1" fill="#111"/>
<circle cx="72.1" cy="365.6" r="1.1" fill="#111"/>
<circle cx="74.5" cy="367.6" r="1.1" fill="#111"/>
<circle cx="69.2" cy="360.6" r="1.1" fill="#111"/>
<text transform="translate(74.7,390) rotate(-45)" font-size="7" font-weight="bold" text-anchor="end" fill="#222">Naive</text>
<rect x="86" y="367" width="13.3" height="14.4" fill="#DCE5F1" stroke="#444" stroke-width="0.7" />
<line x1="92.7" y1="381.4" x2="92.7" y2="384.4" stroke="#9a9a9a" stroke-width="0.9"/>
<line x1="92.7" y1="363" x2="92.7" y2="370.9" stroke="#222" stroke-width="0.8"/>
<line x1="89.7" y1="363" x2="95.7" y2="363" stroke="#222" stroke-width="0.8"/>
<line x1="89.7" y1="370.9" x2="95.7" y2="370.9" stroke="#222" stroke-width="0.8"/>
<circle cx="92.2" cy="370.1" r="1.1" fill="#111"/>
<circle cx="89.2" cy="369.5" r="1.1" fill="#111"/>
<circle cx="94.3" cy="366.5" r="1.1" fill="#111"/>
<circle cx="95.8" cy="364.4" r="1.1" fill="#111"/>
<circle cx="89.4" cy="370.8" r="1.1" fill="#111"/>
<text transform="translate(94.9,390) rotate(-45)" font-size="7" font-weight="bold" text-anchor="end" fill="#222">7 DPI</text>
<rect x="106.2" y="341.2" width="13.3" height="40.2" fill="#FFD865" stroke="#444" stroke-width="0.7" />
<line x1="112.9" y1="381.4" x2="112.9" y2="384.4" stroke="#9a9a9a" stroke-width="0.9"/>
<line x1="112.9" y1="339.4" x2="112.9" y2="342.9" stroke="#222" stroke-width="0.8"/>
<line x1="109.9" y1="339.4" x2="115.9" y2="339.4" stroke="#222" stroke-width="0.8"/>
<line x1="109.9" y1="342.9" x2="115.9" y2="342.9" stroke="#222" stroke-width="0.8"/>
<circle cx="113.2" cy="339.2" r="1.1" fill="#111"/>
<circle cx="112.1" cy="343" r="1.1" fill="#111"/>
<circle cx="112.4" cy="340" r="1.1" fill="#111"/>
<circle cx="111" cy="339.2" r="1.1" fill="#111"/>
<circle cx="112.9" cy="340.9" r="1.1" fill="#111"/>
<text transform="translate(115.1,390) rotate(-45)" font-size="7" font-weight="bold" text-anchor="end" fill="#222">14 DPI</text>
<rect x="126.4" y="363.5" width="13.3" height="17.9" fill="#F8B678" stroke="#444" stroke-width="0.7" />
<line x1="133.1" y1="381.4" x2="133.1" y2="384.4" stroke="#9a9a9a" stroke-width="0.9"/>
<line x1="133.1" y1="359.1" x2="133.1" y2="367.9" stroke="#222" stroke-width="0.8"/>
<line x1="130.1" y1="359.1" x2="136.1" y2="359.1" stroke="#222" stroke-width="0.8"/>
<line x1="130.1" y1="367.9" x2="136.1" y2="367.9" stroke="#222" stroke-width="0.8"/>
<circle cx="131.2" cy="360.7" r="1.1" fill="#111"/>
<circle cx="132.8" cy="360.5" r="1.1" fill="#111"/>
<circle cx="129.8" cy="361.3" r="1.1" fill="#111"/>
<circle cx="133.5" cy="367" r="1.1" fill="#111"/>
<circle cx="130.9" cy="365" r="1.1" fill="#111"/>
<text transform="translate(135.3,390) rotate(-45)" font-size="7" font-weight="bold" text-anchor="end" fill="#222">20 DPI</text>
<path d="M72.5 299V294H111.4V299" fill="none" stroke="#777" stroke-width="0.9"/>
<text x="92" y="295.5" font-size="8.5" font-weight="bold" text-anchor="middle" fill="#222" >****</text>
<path d="M114.4 299V294H133.1V299" fill="none" stroke="#777" stroke-width="0.9"/>
<text x="123.8" y="295.5" font-size="8.5" font-weight="bold" text-anchor="middle" fill="#222" >****</text>
<path d="M92.7 311.4V306.4H112.9V311.4" fill="none" stroke="#777" stroke-width="0.9"/>
<text x="102.8" y="307.9" font-size="8.5" font-weight="bold" text-anchor="middle" fill="#222" >****</text>
<text x="102.9" y="282.5" font-size="9" font-weight="bold" text-anchor="middle" fill="#111" >pDC</text>
<text transform="translate(40.5,337.7) rotate(-90)" font-size="7.5" font-weight="bold" text-anchor="middle" fill="#222">% within CD45<tspan dy="-2.5" font-size="5">+</tspan><tspan dy="2.5"> cells</tspan></text>
<line x1="172.4" y1="293.3" x2="172.4" y2="381.4" stroke="#9a9a9a" stroke-width="1.1"/>
<line x1="172.4" y1="381.4" x2="260.4" y2="381.4" stroke="#9a9a9a" stroke-width="1.1"/>
<line x1="168.9" y1="381.4" x2="172.4" y2="381.4" stroke="#9a9a9a" stroke-width="0.9"/>
<text x="167.9" y="383.9" font-size="7" font-weight="bold" text-anchor="end" fill="#222" >0.0</text>
<line x1="168.9" y1="364" x2="172.4" y2="364" stroke="#9a9a9a" stroke-width="0.9"/>
<text x="167.9" y="366.5" font-size="7" font-weight="bold" text-anchor="end" fill="#222" >0.2</text>
<line x1="168.9" y1="346.6" x2="172.4" y2="346.6" stroke="#9a9a9a" stroke-width="0.9"/>
<text x="167.9" y="349.1" font-size="7" font-weight="bold" text-anchor="end" fill="#222" >0.4</text>
<line x1="168.9" y1="329.1" x2="172.4" y2="329.1" stroke="#9a9a9a" stroke-width="0.9"/>
<text x="167.9" y="331.6" font-size="7" font-weight="bold" text-anchor="end" fill="#222" >0.6</text>
<line x1="168.9" y1="311.7" x2="172.4" y2="311.7" stroke="#9a9a9a" stroke-width="0.9"/>
<text x="167.9" y="314.2" font-size="7" font-weight="bold" text-anchor="end" fill="#222" >0.8</text>
<line x1="168.9" y1="294.3" x2="172.4" y2="294.3" stroke="#9a9a9a" stroke-width="0.9"/>
<text x="167.9" y="296.8" font-size="7" font-weight="bold" text-anchor="end" fill="#222" >1.0</text>
<rect x="179.3" y="374.4" width="13.3" height="7" fill="#8F8F8F" stroke="#444" stroke-width="0.7" />
<line x1="186" y1="381.4" x2="186" y2="384.4" stroke="#9a9a9a" stroke-width="0.9"/>
<line x1="186" y1="371.8" x2="186" y2="377" stroke="#222" stroke-width="0.8"/>
<line x1="183" y1="371.8" x2="189" y2="371.8" stroke="#222" stroke-width="0.8"/>
<line x1="183" y1="377" x2="189" y2="377" stroke="#222" stroke-width="0.8"/>
<circle cx="189.1" cy="377.3" r="1.1" fill="#111"/>
<circle cx="183.1" cy="371.7" r="1.1" fill="#111"/>
<circle cx="187.7" cy="376.5" r="1.1" fill="#111"/>
<circle cx="184.7" cy="375.5" r="1.1" fill="#111"/>
<circle cx="186.7" cy="375.1" r="1.1" fill="#111"/>
<text transform="translate(188.2,390) rotate(-45)" font-size="7" font-weight="bold" text-anchor="end" fill="#222">Naive</text>
<rect x="199.5" y="375.3" width="13.3" height="6.1" fill="#DCE5F1" stroke="#444" stroke-width="0.7" />
<line x1="206.2" y1="381.4" x2="206.2" y2="384.4" stroke="#9a9a9a" stroke-width="0.9"/>
<line x1="206.2" y1="373.6" x2="206.2" y2="377" stroke="#222" stroke-width="0.8"/>
<line x1="203.2" y1="373.6" x2="209.2" y2="373.6" stroke="#222" stroke-width="0.8"/>
<line x1="203.2" y1="377" x2="209.2" y2="377" stroke="#222" stroke-width="0.8"/>
<circle cx="203.8" cy="375.6" r="1.1" fill="#111"/>
<circle cx="205.5" cy="375" r="1.1" fill="#111"/>
<circle cx="209.7" cy="376.2" r="1.1" fill="#111"/>
<circle cx="206.5" cy="377.2" r="1.1" fill="#111"/>
<circle cx="204.6" cy="375.1" r="1.1" fill="#111"/>
<text transform="translate(208.4,390) rotate(-45)" font-size="7" font-weight="bold" text-anchor="end" fill="#222">7 DPI</text>
<rect x="219.8" y="377.9" width="13.3" height="3.5" fill="#FFD865" stroke="#444" stroke-width="0.7" />
<line x1="226.4" y1="381.4" x2="226.4" y2="384.4" stroke="#9a9a9a" stroke-width="0.9"/>
<line x1="226.4" y1="376.6" x2="226.4" y2="379.2" stroke="#222" stroke-width="0.8"/>
<line x1="223.4" y1="376.6" x2="229.4" y2="376.6" stroke="#222" stroke-width="0.8"/>
<line x1="223.4" y1="379.2" x2="229.4" y2="379.2" stroke="#222" stroke-width="0.8"/>
<circle cx="223.1" cy="376.5" r="1.1" fill="#111"/>
<circle cx="225.1" cy="377.8" r="1.1" fill="#111"/>
<circle cx="229.1" cy="377.5" r="1.1" fill="#111"/>
<circle cx="226.8" cy="378" r="1.1" fill="#111"/>
<circle cx="223.1" cy="377.1" r="1.1" fill="#111"/>
<text transform="translate(228.6,390) rotate(-45)" font-size="7" font-weight="bold" text-anchor="end" fill="#222">14 DPI</text>
<rect x="239.9" y="349.2" width="13.3" height="32.2" fill="#F8B678" stroke="#444" stroke-width="0.7" />
<line x1="246.6" y1="381.4" x2="246.6" y2="384.4" stroke="#9a9a9a" stroke-width="0.9"/>
<line x1="246.6" y1="340.5" x2="246.6" y2="357.9" stroke="#222" stroke-width="0.8"/>
<line x1="243.6" y1="340.5" x2="249.6" y2="340.5" stroke="#222" stroke-width="0.8"/>
<line x1="243.6" y1="357.9" x2="249.6" y2="357.9" stroke="#222" stroke-width="0.8"/>
<circle cx="244.1" cy="345.5" r="1.1" fill="#111"/>
<circle cx="250.1" cy="349.4" r="1.1" fill="#111"/>
<circle cx="244.4" cy="352.8" r="1.1" fill="#111"/>
<circle cx="248.7" cy="357.4" r="1.1" fill="#111"/>
<circle cx="249.4" cy="354.1" r="1.1" fill="#111"/>
<text transform="translate(248.8,390) rotate(-45)" font-size="7" font-weight="bold" text-anchor="end" fill="#222">20 DPI</text>
<path d="M186 299.3V294.3H246.6V299.3" fill="none" stroke="#777" stroke-width="0.9"/>
<text x="216.3" y="295.8" font-size="8.5" font-weight="bold" text-anchor="middle" fill="#222" >****</text>
<path d="M206.2 312V307H246.6V312" fill="none" stroke="#777" stroke-width="0.9"/>
<text x="226.4" y="308.5" font-size="8.5" font-weight="bold" text-anchor="middle" fill="#222" >****</text>
<path d="M226.4 324V319H246.6V324" fill="none" stroke="#777" stroke-width="0.9"/>
<text x="236.5" y="320.5" font-size="8.5" font-weight="bold" text-anchor="middle" fill="#222" >****</text>
<text x="216.4" y="282.5" font-size="9" font-weight="bold" text-anchor="middle" fill="#111" >cDC</text>
<text transform="translate(155,337.9) rotate(-90)" font-size="7.5" font-weight="bold" text-anchor="middle" fill="#222">% within CD45<tspan dy="-2.5" font-size="5">+</tspan><tspan dy="2.5"> cells</tspan></text>
<line x1="58.9" y1="430.2" x2="58.9" y2="518.6" stroke="#9a9a9a" stroke-width="1.1"/>
<line x1="58.9" y1="518.6" x2="146.9" y2="518.6" stroke="#9a9a9a" stroke-width="1.1"/>
<line x1="55.4" y1="518.6" x2="58.9" y2="518.6" stroke="#9a9a9a" stroke-width="0.9"/>
<text x="54.4" y="521.1" font-size="7" font-weight="bold" text-anchor="end" fill="#222" >0.0</text>
<line x1="55.4" y1="496.8" x2="58.9" y2="496.8" stroke="#9a9a9a" stroke-width="0.9"/>
<text x="54.4" y="499.2" font-size="7" font-weight="bold" text-anchor="end" fill="#222" >0.5</text>
<line x1="55.4" y1="474.9" x2="58.9" y2="474.9" stroke="#9a9a9a" stroke-width="0.9"/>
<text x="54.4" y="477.4" font-size="7" font-weight="bold" text-anchor="end" fill="#222" >1.0</text>
<line x1="55.4" y1="453.1" x2="58.9" y2="453.1" stroke="#9a9a9a" stroke-width="0.9"/>
<text x="54.4" y="455.6" font-size="7" font-weight="bold" text-anchor="end" fill="#222" >1.5</text>
<line x1="55.4" y1="431.2" x2="58.9" y2="431.2" stroke="#9a9a9a" stroke-width="0.9"/>
<text x="54.4" y="433.7" font-size="7" font-weight="bold" text-anchor="end" fill="#222" >2.0</text>
<rect x="65.8" y="473.2" width="13.3" height="45.4" fill="#8F8F8F" stroke="#444" stroke-width="0.7" />
<line x1="72.5" y1="518.6" x2="72.5" y2="521.6" stroke="#9a9a9a" stroke-width="0.9"/>
<line x1="72.5" y1="468.8" x2="72.5" y2="477.5" stroke="#222" stroke-width="0.8"/>
<line x1="69.5" y1="468.8" x2="75.5" y2="468.8" stroke="#222" stroke-width="0.8"/>
<line x1="69.5" y1="477.5" x2="75.5" y2="477.5" stroke="#222" stroke-width="0.8"/>
<circle cx="72.8" cy="470.4" r="1.1" fill="#111"/>
<circle cx="73.2" cy="471.8" r="1.1" fill="#111"/>
<circle cx="69.5" cy="474.5" r="1.1" fill="#111"/>
<circle cx="74.9" cy="468" r="1.1" fill="#111"/>
<circle cx="70.6" cy="470.6" r="1.1" fill="#111"/>
<text transform="translate(74.7,527.2) rotate(-45)" font-size="7" font-weight="bold" text-anchor="end" fill="#222">Naive</text>
<rect x="86" y="495" width="13.3" height="23.6" fill="#DCE5F1" stroke="#444" stroke-width="0.7" />
<line x1="92.7" y1="518.6" x2="92.7" y2="521.6" stroke="#9a9a9a" stroke-width="0.9"/>
<line x1="92.7" y1="494.1" x2="92.7" y2="495.9" stroke="#222" stroke-width="0.8"/>
<line x1="89.7" y1="494.1" x2="95.7" y2="494.1" stroke="#222" stroke-width="0.8"/>
<line x1="89.7" y1="495.9" x2="95.7" y2="495.9" stroke="#222" stroke-width="0.8"/>
<circle cx="92.5" cy="496" r="1.1" fill="#111"/>
<circle cx="92.5" cy="495.7" r="1.1" fill="#111"/>
<circle cx="90.3" cy="495.3" r="1.1" fill="#111"/>
<circle cx="95.3" cy="495.3" r="1.1" fill="#111"/>
<circle cx="94.4" cy="495.1" r="1.1" fill="#111"/>
<text transform="translate(94.9,527.2) rotate(-45)" font-size="7" font-weight="bold" text-anchor="end" fill="#222">7 DPI</text>
<rect x="106.2" y="470.5" width="13.3" height="48.1" fill="#FFD865" stroke="#444" stroke-width="0.7" />
<line x1="112.9" y1="518.6" x2="112.9" y2="521.6" stroke="#9a9a9a" stroke-width="0.9"/>
<line x1="112.9" y1="459.6" x2="112.9" y2="481.5" stroke="#222" stroke-width="0.8"/>
<line x1="109.9" y1="459.6" x2="115.9" y2="459.6" stroke="#222" stroke-width="0.8"/>
<line x1="109.9" y1="481.5" x2="115.9" y2="481.5" stroke="#222" stroke-width="0.8"/>
<circle cx="109.8" cy="475" r="1.1" fill="#111"/>
<circle cx="113.5" cy="477.3" r="1.1" fill="#111"/>
<circle cx="109.6" cy="465.3" r="1.1" fill="#111"/>
<circle cx="112.7" cy="480.1" r="1.1" fill="#111"/>
<circle cx="115.6" cy="476.3" r="1.1" fill="#111"/>
<text transform="translate(115.1,527.2) rotate(-45)" font-size="7" font-weight="bold" text-anchor="end" fill="#222">14 DPI</text>
<rect x="126.4" y="491.1" width="13.3" height="27.5" fill="#F8B678" stroke="#444" stroke-width="0.7" />
<line x1="133.1" y1="518.6" x2="133.1" y2="521.6" stroke="#9a9a9a" stroke-width="0.9"/>
<line x1="133.1" y1="482.3" x2="133.1" y2="499.8" stroke="#222" stroke-width="0.8"/>
<line x1="130.1" y1="482.3" x2="136.1" y2="482.3" stroke="#222" stroke-width="0.8"/>
<line x1="130.1" y1="499.8" x2="136.1" y2="499.8" stroke="#222" stroke-width="0.8"/>
<circle cx="136" cy="495.6" r="1.1" fill="#111"/>
<circle cx="135.2" cy="488.9" r="1.1" fill="#111"/>
<circle cx="136.1" cy="489.9" r="1.1" fill="#111"/>
<circle cx="130.3" cy="499" r="1.1" fill="#111"/>
<circle cx="131.1" cy="483.4" r="1.1" fill="#111"/>
<text transform="translate(135.3,527.2) rotate(-45)" font-size="7" font-weight="bold" text-anchor="end" fill="#222">20 DPI</text>
<path d="M72.5 436.2V431.2H133.1V436.2" fill="none" stroke="#777" stroke-width="0.9"/>
<text x="102.8" y="432.7" font-size="8.5" font-weight="bold" text-anchor="middle" fill="#222" >**</text>
<path d="M72.5 448.2V443.2H91.2V448.2" fill="none" stroke="#777" stroke-width="0.9"/>
<text x="81.8" y="444.7" font-size="8.5" font-weight="bold" text-anchor="middle" fill="#222" >**</text>
<path d="M94.2 448.2V443.2H111.4V448.2" fill="none" stroke="#777" stroke-width="0.9"/>
<text x="102.8" y="444.7" font-size="8.5" font-weight="bold" text-anchor="middle" fill="#222" >***</text>
<path d="M114.4 448.2V443.2H133.1V448.2" fill="none" stroke="#777" stroke-width="0.9"/>
<text x="123.8" y="444.7" font-size="8.5" font-weight="bold" text-anchor="middle" fill="#222" >**</text>
<text x="102.9" y="419.5" font-size="9" font-weight="bold" text-anchor="middle" fill="#111" >pDC</text>
<text transform="translate(40.5,474.9) rotate(-90)" font-size="7.5" font-weight="bold" text-anchor="middle" fill="#222">% within CD45<tspan dy="-2.5" font-size="5">+</tspan><tspan dy="2.5"> cells</tspan></text>
<line x1="172.4" y1="430.2" x2="172.4" y2="518.6" stroke="#9a9a9a" stroke-width="1.1"/>
<line x1="172.4" y1="518.6" x2="260.4" y2="518.6" stroke="#9a9a9a" stroke-width="1.1"/>
<line x1="168.9" y1="518.6" x2="172.4" y2="518.6" stroke="#9a9a9a" stroke-width="0.9"/>
<text x="167.9" y="521.1" font-size="7" font-weight="bold" text-anchor="end" fill="#222" >0</text>
<line x1="168.9" y1="489.5" x2="172.4" y2="489.5" stroke="#9a9a9a" stroke-width="0.9"/>
<text x="167.9" y="492" font-size="7" font-weight="bold" text-anchor="end" fill="#222" >1</text>
<line x1="168.9" y1="460.3" x2="172.4" y2="460.3" stroke="#9a9a9a" stroke-width="0.9"/>
<text x="167.9" y="462.8" font-size="7" font-weight="bold" text-anchor="end" fill="#222" >2</text>
<line x1="168.9" y1="431.2" x2="172.4" y2="431.2" stroke="#9a9a9a" stroke-width="0.9"/>
<text x="167.9" y="433.7" font-size="7" font-weight="bold" text-anchor="end" fill="#222" >3</text>
<rect x="179.3" y="468.2" width="13.3" height="50.4" fill="#8F8F8F" stroke="#444" stroke-width="0.7" />
<line x1="186" y1="518.6" x2="186" y2="521.6" stroke="#9a9a9a" stroke-width="0.9"/>
<line x1="186" y1="460.9" x2="186" y2="475.5" stroke="#222" stroke-width="0.8"/>
<line x1="183" y1="460.9" x2="189" y2="460.9" stroke="#222" stroke-width="0.8"/>
<line x1="183" y1="475.5" x2="189" y2="475.5" stroke="#222" stroke-width="0.8"/>
<circle cx="183.2" cy="463.6" r="1.1" fill="#111"/>
<circle cx="183.6" cy="466.4" r="1.1" fill="#111"/>
<circle cx="185.3" cy="460.6" r="1.1" fill="#111"/>
<circle cx="188.1" cy="475.5" r="1.1" fill="#111"/>
<circle cx="184.1" cy="472.8" r="1.1" fill="#111"/>
<text transform="translate(188.2,527.2) rotate(-45)" font-size="7" font-weight="bold" text-anchor="end" fill="#222">Naive</text>
<rect x="199.5" y="474.9" width="13.3" height="43.7" fill="#DCE5F1" stroke="#444" stroke-width="0.7" />
<line x1="206.2" y1="518.6" x2="206.2" y2="521.6" stroke="#9a9a9a" stroke-width="0.9"/>
<line x1="206.2" y1="469.1" x2="206.2" y2="480.7" stroke="#222" stroke-width="0.8"/>
<line x1="203.2" y1="469.1" x2="209.2" y2="469.1" stroke="#222" stroke-width="0.8"/>
<line x1="203.2" y1="480.7" x2="209.2" y2="480.7" stroke="#222" stroke-width="0.8"/>
<circle cx="204.6" cy="475.4" r="1.1" fill="#111"/>
<circle cx="203.4" cy="470.3" r="1.1" fill="#111"/>
<circle cx="209.2" cy="470.9" r="1.1" fill="#111"/>
<circle cx="208.3" cy="479.5" r="1.1" fill="#111"/>
<circle cx="204.1" cy="479.1" r="1.1" fill="#111"/>
<text transform="translate(208.4,527.2) rotate(-45)" font-size="7" font-weight="bold" text-anchor="end" fill="#222">7 DPI</text>
<rect x="219.8" y="481.6" width="13.3" height="37" fill="#FFD865" stroke="#444" stroke-width="0.7" />
<line x1="226.4" y1="518.6" x2="226.4" y2="521.6" stroke="#9a9a9a" stroke-width="0.9"/>
<line x1="226.4" y1="478.1" x2="226.4" y2="485.1" stroke="#222" stroke-width="0.8"/>
<line x1="223.4" y1="478.1" x2="229.4" y2="478.1" stroke="#222" stroke-width="0.8"/>
<line x1="223.4" y1="485.1" x2="229.4" y2="485.1" stroke="#222" stroke-width="0.8"/>
<circle cx="227.3" cy="480" r="1.1" fill="#111"/>
<circle cx="228.9" cy="483.5" r="1.1" fill="#111"/>
<circle cx="223.5" cy="484.8" r="1.1" fill="#111"/>
<circle cx="227.6" cy="482.5" r="1.1" fill="#111"/>
<circle cx="224.1" cy="481.7" r="1.1" fill="#111"/>
<text transform="translate(228.6,527.2) rotate(-45)" font-size="7" font-weight="bold" text-anchor="end" fill="#222">14 DPI</text>
<rect x="239.9" y="473.4" width="13.3" height="45.2" fill="#F8B678" stroke="#444" stroke-width="0.7" />
<line x1="246.6" y1="518.6" x2="246.6" y2="521.6" stroke="#9a9a9a" stroke-width="0.9"/>
<line x1="246.6" y1="469.1" x2="246.6" y2="477.8" stroke="#222" stroke-width="0.8"/>
<line x1="243.6" y1="469.1" x2="249.6" y2="469.1" stroke="#222" stroke-width="0.8"/>
<line x1="243.6" y1="477.8" x2="249.6" y2="477.8" stroke="#222" stroke-width="0.8"/>
<circle cx="243.7" cy="473.2" r="1.1" fill="#111"/>
<circle cx="249.2" cy="478" r="1.1" fill="#111"/>
<circle cx="245.2" cy="473.9" r="1.1" fill="#111"/>
<circle cx="247.1" cy="477.7" r="1.1" fill="#111"/>
<circle cx="249" cy="477.5" r="1.1" fill="#111"/>
<text transform="translate(248.8,527.2) rotate(-45)" font-size="7" font-weight="bold" text-anchor="end" fill="#222">20 DPI</text>
<path d="M186 436.2V431.2H226.4V436.2" fill="none" stroke="#777" stroke-width="0.9"/>
<text x="206.2" y="432.7" font-size="8.5" font-weight="bold" text-anchor="middle" fill="#222" >**</text>
<text x="216.4" y="419.5" font-size="9" font-weight="bold" text-anchor="middle" fill="#111" >cDC</text>
<text transform="translate(155,474.9) rotate(-90)" font-size="7.5" font-weight="bold" text-anchor="middle" fill="#222">% within CD45<tspan dy="-2.5" font-size="5">+</tspan><tspan dy="2.5"> cells</tspan></text>
<line x1="311.2" y1="294.4" x2="311.2" y2="381.5" stroke="#9a9a9a" stroke-width="1.1"/>
<line x1="311.2" y1="381.5" x2="399.2" y2="381.5" stroke="#9a9a9a" stroke-width="1.1"/>
<line x1="307.7" y1="381.5" x2="311.2" y2="381.5" stroke="#9a9a9a" stroke-width="0.9"/>
<text x="306.7" y="384" font-size="7" font-weight="bold" text-anchor="end" fill="#222" >0.00</text>
<line x1="307.7" y1="364.3" x2="311.2" y2="364.3" stroke="#9a9a9a" stroke-width="0.9"/>
<text x="306.7" y="366.8" font-size="7" font-weight="bold" text-anchor="end" fill="#222" >0.02</text>
<line x1="307.7" y1="347.1" x2="311.2" y2="347.1" stroke="#9a9a9a" stroke-width="0.9"/>
<text x="306.7" y="349.6" font-size="7" font-weight="bold" text-anchor="end" fill="#222" >0.04</text>
<line x1="307.7" y1="329.8" x2="311.2" y2="329.8" stroke="#9a9a9a" stroke-width="0.9"/>
<text x="306.7" y="332.3" font-size="7" font-weight="bold" text-anchor="end" fill="#222" >0.06</text>
<line x1="307.7" y1="312.6" x2="311.2" y2="312.6" stroke="#9a9a9a" stroke-width="0.9"/>
<text x="306.7" y="315.1" font-size="7" font-weight="bold" text-anchor="end" fill="#222" >0.08</text>
<line x1="307.7" y1="295.4" x2="311.2" y2="295.4" stroke="#9a9a9a" stroke-width="0.9"/>
<text x="306.7" y="297.9" font-size="7" font-weight="bold" text-anchor="end" fill="#222" >0.10</text>
<rect x="318.2" y="376.3" width="13.3" height="5.2" fill="#8F8F8F" stroke="#444" stroke-width="0.7" />
<line x1="324.8" y1="381.5" x2="324.8" y2="384.5" stroke="#9a9a9a" stroke-width="0.9"/>
<line x1="324.8" y1="372.9" x2="324.8" y2="379.8" stroke="#222" stroke-width="0.8"/>
<line x1="321.8" y1="372.9" x2="327.8" y2="372.9" stroke="#222" stroke-width="0.8"/>
<line x1="321.8" y1="379.8" x2="327.8" y2="379.8" stroke="#222" stroke-width="0.8"/>
<circle cx="326.5" cy="377.3" r="1.1" fill="#111"/>
<circle cx="327.9" cy="378.8" r="1.1" fill="#111"/>
<circle cx="327.8" cy="378.3" r="1.1" fill="#111"/>
<circle cx="324.6" cy="372.4" r="1.1" fill="#111"/>
<circle cx="325.8" cy="380" r="1.1" fill="#111"/>
<text transform="translate(327,390.1) rotate(-45)" font-size="7" font-weight="bold" text-anchor="end" fill="#222">Naive</text>
<rect x="338.4" y="374.6" width="13.3" height="6.9" fill="#DCE5F1" stroke="#444" stroke-width="0.7" />
<line x1="345" y1="381.5" x2="345" y2="384.5" stroke="#9a9a9a" stroke-width="0.9"/>
<line x1="345" y1="371.2" x2="345" y2="378.1" stroke="#222" stroke-width="0.8"/>
<line x1="342" y1="371.2" x2="348" y2="371.2" stroke="#222" stroke-width="0.8"/>
<line x1="342" y1="378.1" x2="348" y2="378.1" stroke="#222" stroke-width="0.8"/>
<circle cx="342.3" cy="377.9" r="1.1" fill="#111"/>
<circle cx="343.2" cy="374.4" r="1.1" fill="#111"/>
<circle cx="345.5" cy="375" r="1.1" fill="#111"/>
<circle cx="343" cy="370.6" r="1.1" fill="#111"/>
<circle cx="347.9" cy="372.8" r="1.1" fill="#111"/>
<text transform="translate(347.2,390.1) rotate(-45)" font-size="7" font-weight="bold" text-anchor="end" fill="#222">7 DPI</text>
<rect x="358.6" y="380.6" width="13.3" height="0.9" fill="#FFD865" stroke="#444" stroke-width="0.7" />
<line x1="365.2" y1="381.5" x2="365.2" y2="384.5" stroke="#9a9a9a" stroke-width="0.9"/>
<line x1="365.2" y1="379.8" x2="365.2" y2="381.5" stroke="#222" stroke-width="0.8"/>
<line x1="362.2" y1="379.8" x2="368.2" y2="379.8" stroke="#222" stroke-width="0.8"/>
<line x1="362.2" y1="381.5" x2="368.2" y2="381.5" stroke="#222" stroke-width="0.8"/>
<circle cx="362.8" cy="381.2" r="1.1" fill="#111"/>
<circle cx="362.7" cy="381.3" r="1.1" fill="#111"/>
<circle cx="362.6" cy="380.9" r="1.1" fill="#111"/>
<circle cx="367.8" cy="379.6" r="1.1" fill="#111"/>
<circle cx="363.2" cy="380" r="1.1" fill="#111"/>
<text transform="translate(367.4,390.1) rotate(-45)" font-size="7" font-weight="bold" text-anchor="end" fill="#222">14 DPI</text>
<rect x="378.8" y="360.8" width="13.3" height="20.7" fill="#F8B678" stroke="#444" stroke-width="0.7" />
<line x1="385.4" y1="381.5" x2="385.4" y2="384.5" stroke="#9a9a9a" stroke-width="0.9"/>
<line x1="385.4" y1="357.4" x2="385.4" y2="364.3" stroke="#222" stroke-width="0.8"/>
<line x1="382.4" y1="357.4" x2="388.4" y2="357.4" stroke="#222" stroke-width="0.8"/>
<line x1="382.4" y1="364.3" x2="388.4" y2="364.3" stroke="#222" stroke-width="0.8"/>
<circle cx="388" cy="364.8" r="1.1" fill="#111"/>
<circle cx="388.6" cy="359.1" r="1.1" fill="#111"/>
<circle cx="386.6" cy="361.2" r="1.1" fill="#111"/>
<circle cx="388.5" cy="358.4" r="1.1" fill="#111"/>
<circle cx="388.7" cy="362.4" r="1.1" fill="#111"/>
<text transform="translate(387.6,390.1) rotate(-45)" font-size="7" font-weight="bold" text-anchor="end" fill="#222">20 DPI</text>
<path d="M324.8 300.4V295.4H385.4V300.4" fill="none" stroke="#777" stroke-width="0.9"/>
<text x="355.1" y="296.9" font-size="8.5" font-weight="bold" text-anchor="middle" fill="#222" >****</text>
<path d="M345 312.4V307.4H385.4V312.4" fill="none" stroke="#777" stroke-width="0.9"/>
<text x="365.2" y="308.9" font-size="8.5" font-weight="bold" text-anchor="middle" fill="#222" >****</text>
<path d="M345 324.3V319.3H363.7V324.3" fill="none" stroke="#777" stroke-width="0.9"/>
<text x="354.4" y="320.8" font-size="8.5" font-weight="bold" text-anchor="middle" fill="#222" >*</text>
<path d="M366.7 324.3V319.3H385.4V324.3" fill="none" stroke="#777" stroke-width="0.9"/>
<text x="376" y="320.8" font-size="8.5" font-weight="bold" text-anchor="middle" fill="#222" >****</text>
<text x="355.2" y="284" font-size="9" font-weight="bold" text-anchor="middle" fill="#111" >Ccr7<tspan dy="-2.5" font-size="5">-</tspan><tspan dy="2.5"> cDC1</tspan></text>
<text transform="translate(289,338.4) rotate(-90)" font-size="7.5" font-weight="bold" text-anchor="middle" fill="#222">% within CD45<tspan dy="-2.5" font-size="5">+</tspan><tspan dy="2.5"> cells</tspan></text>
<line x1="429.2" y1="294.4" x2="429.2" y2="381.5" stroke="#9a9a9a" stroke-width="1.1"/>
<line x1="429.2" y1="381.5" x2="517.2" y2="381.5" stroke="#9a9a9a" stroke-width="1.1"/>
<line x1="425.7" y1="381.5" x2="429.2" y2="381.5" stroke="#9a9a9a" stroke-width="0.9"/>
<text x="424.7" y="384" font-size="7" font-weight="bold" text-anchor="end" fill="#222" >0.0</text>
<line x1="425.7" y1="367.1" x2="429.2" y2="367.1" stroke="#9a9a9a" stroke-width="0.9"/>
<text x="424.7" y="369.6" font-size="7" font-weight="bold" text-anchor="end" fill="#222" >0.1</text>
<line x1="425.7" y1="352.8" x2="429.2" y2="352.8" stroke="#9a9a9a" stroke-width="0.9"/>
<text x="424.7" y="355.3" font-size="7" font-weight="bold" text-anchor="end" fill="#222" >0.2</text>
<line x1="425.7" y1="338.4" x2="429.2" y2="338.4" stroke="#9a9a9a" stroke-width="0.9"/>
<text x="424.7" y="340.9" font-size="7" font-weight="bold" text-anchor="end" fill="#222" >0.3</text>
<line x1="425.7" y1="324.1" x2="429.2" y2="324.1" stroke="#9a9a9a" stroke-width="0.9"/>
<text x="424.7" y="326.6" font-size="7" font-weight="bold" text-anchor="end" fill="#222" >0.4</text>
<line x1="425.7" y1="309.8" x2="429.2" y2="309.8" stroke="#9a9a9a" stroke-width="0.9"/>
<text x="424.7" y="312.2" font-size="7" font-weight="bold" text-anchor="end" fill="#222" >0.5</text>
<line x1="425.7" y1="295.4" x2="429.2" y2="295.4" stroke="#9a9a9a" stroke-width="0.9"/>
<text x="424.7" y="297.9" font-size="7" font-weight="bold" text-anchor="end" fill="#222" >0.6</text>
<rect x="436.2" y="375" width="13.3" height="6.5" fill="#8F8F8F" stroke="#444" stroke-width="0.7" />
<line x1="442.8" y1="381.5" x2="442.8" y2="384.5" stroke="#9a9a9a" stroke-width="0.9"/>
<line x1="442.8" y1="373.3" x2="442.8" y2="376.8" stroke="#222" stroke-width="0.8"/>
<line x1="439.8" y1="373.3" x2="445.8" y2="373.3" stroke="#222" stroke-width="0.8"/>
<line x1="439.8" y1="376.8" x2="445.8" y2="376.8" stroke="#222" stroke-width="0.8"/>
<circle cx="445.1" cy="376.3" r="1.1" fill="#111"/>
<circle cx="441.1" cy="375" r="1.1" fill="#111"/>
<circle cx="443.9" cy="373" r="1.1" fill="#111"/>
<circle cx="444.6" cy="374.9" r="1.1" fill="#111"/>
<circle cx="444.7" cy="374.5" r="1.1" fill="#111"/>
<text transform="translate(445,390.1) rotate(-45)" font-size="7" font-weight="bold" text-anchor="end" fill="#222">Naive</text>
<rect x="456.4" y="377.2" width="13.3" height="4.3" fill="#DCE5F1" stroke="#444" stroke-width="0.7" />
<line x1="463" y1="381.5" x2="463" y2="384.5" stroke="#9a9a9a" stroke-width="0.9"/>
<line x1="463" y1="376.5" x2="463" y2="377.9" stroke="#222" stroke-width="0.8"/>
<line x1="460" y1="376.5" x2="466" y2="376.5" stroke="#222" stroke-width="0.8"/>
<line x1="460" y1="377.9" x2="466" y2="377.9" stroke="#222" stroke-width="0.8"/>
<circle cx="465.1" cy="376.8" r="1.1" fill="#111"/>
<circle cx="462.4" cy="377.6" r="1.1" fill="#111"/>
<circle cx="464.3" cy="377.3" r="1.1" fill="#111"/>
<circle cx="463.4" cy="376.7" r="1.1" fill="#111"/>
<circle cx="461.4" cy="377.7" r="1.1" fill="#111"/>
<text transform="translate(465.2,390.1) rotate(-45)" font-size="7" font-weight="bold" text-anchor="end" fill="#222">7 DPI</text>
<rect x="476.6" y="377.9" width="13.3" height="3.6" fill="#FFD865" stroke="#444" stroke-width="0.7" />
<line x1="483.2" y1="381.5" x2="483.2" y2="384.5" stroke="#9a9a9a" stroke-width="0.9"/>
<line x1="483.2" y1="376.8" x2="483.2" y2="379.1" stroke="#222" stroke-width="0.8"/>
<line x1="480.2" y1="376.8" x2="486.2" y2="376.8" stroke="#222" stroke-width="0.8"/>
<line x1="480.2" y1="379.1" x2="486.2" y2="379.1" stroke="#222" stroke-width="0.8"/>
<circle cx="484.5" cy="378.7" r="1.1" fill="#111"/>
<circle cx="482" cy="378.9" r="1.1" fill="#111"/>
<circle cx="485.3" cy="376.8" r="1.1" fill="#111"/>
<circle cx="482.8" cy="378.8" r="1.1" fill="#111"/>
<circle cx="481.1" cy="376.8" r="1.1" fill="#111"/>
<text transform="translate(485.4,390.1) rotate(-45)" font-size="7" font-weight="bold" text-anchor="end" fill="#222">14 DPI</text>
<rect x="496.8" y="348.5" width="13.3" height="33" fill="#F8B678" stroke="#444" stroke-width="0.7" />
<line x1="503.4" y1="381.5" x2="503.4" y2="384.5" stroke="#9a9a9a" stroke-width="0.9"/>
<line x1="503.4" y1="341.3" x2="503.4" y2="355.7" stroke="#222" stroke-width="0.8"/>
<line x1="500.4" y1="341.3" x2="506.4" y2="341.3" stroke="#222" stroke-width="0.8"/>
<line x1="500.4" y1="355.7" x2="506.4" y2="355.7" stroke="#222" stroke-width="0.8"/>
<circle cx="501.9" cy="350.8" r="1.1" fill="#111"/>
<circle cx="504" cy="356.3" r="1.1" fill="#111"/>
<circle cx="504.5" cy="343.3" r="1.1" fill="#111"/>
<circle cx="506.4" cy="346.1" r="1.1" fill="#111"/>
<circle cx="503.5" cy="355.5" r="1.1" fill="#111"/>
<text transform="translate(505.6,390.1) rotate(-45)" font-size="7" font-weight="bold" text-anchor="end" fill="#222">20 DPI</text>
<path d="M442.8 300.4V295.4H503.4V300.4" fill="none" stroke="#777" stroke-width="0.9"/>
<text x="473.1" y="296.9" font-size="8.5" font-weight="bold" text-anchor="middle" fill="#222" >****</text>
<path d="M463 312.4V307.4H503.4V312.4" fill="none" stroke="#777" stroke-width="0.9"/>
<text x="483.2" y="308.9" font-size="8.5" font-weight="bold" text-anchor="middle" fill="#222" >****</text>
<path d="M483.2 324.3V319.3H503.4V324.3" fill="none" stroke="#777" stroke-width="0.9"/>
<text x="493.3" y="320.8" font-size="8.5" font-weight="bold" text-anchor="middle" fill="#222" >****</text>
<text x="473.2" y="284" font-size="9" font-weight="bold" text-anchor="middle" fill="#111" >Ccr7<tspan dy="-2.5" font-size="5">-</tspan><tspan dy="2.5"> cDC2</tspan></text>
<text transform="translate(407,338.4) rotate(-90)" font-size="7.5" font-weight="bold" text-anchor="middle" fill="#222">% within CD45<tspan dy="-2.5" font-size="5">+</tspan><tspan dy="2.5"> cells</tspan></text>
<line x1="552.1" y1="294.4" x2="552.1" y2="381.5" stroke="#9a9a9a" stroke-width="1.1"/>
<line x1="552.1" y1="381.5" x2="640.1" y2="381.5" stroke="#9a9a9a" stroke-width="1.1"/>
<line x1="548.6" y1="381.5" x2="552.1" y2="381.5" stroke="#9a9a9a" stroke-width="0.9"/>
<text x="547.6" y="384" font-size="7" font-weight="bold" text-anchor="end" fill="#222" >0.00</text>
<line x1="548.6" y1="364.3" x2="552.1" y2="364.3" stroke="#9a9a9a" stroke-width="0.9"/>
<text x="547.6" y="366.8" font-size="7" font-weight="bold" text-anchor="end" fill="#222" >0.02</text>
<line x1="548.6" y1="347.1" x2="552.1" y2="347.1" stroke="#9a9a9a" stroke-width="0.9"/>
<text x="547.6" y="349.6" font-size="7" font-weight="bold" text-anchor="end" fill="#222" >0.04</text>
<line x1="548.6" y1="329.8" x2="552.1" y2="329.8" stroke="#9a9a9a" stroke-width="0.9"/>
<text x="547.6" y="332.3" font-size="7" font-weight="bold" text-anchor="end" fill="#222" >0.06</text>
<line x1="548.6" y1="312.6" x2="552.1" y2="312.6" stroke="#9a9a9a" stroke-width="0.9"/>
<text x="547.6" y="315.1" font-size="7" font-weight="bold" text-anchor="end" fill="#222" >0.08</text>
<line x1="548.6" y1="295.4" x2="552.1" y2="295.4" stroke="#9a9a9a" stroke-width="0.9"/>
<text x="547.6" y="297.9" font-size="7" font-weight="bold" text-anchor="end" fill="#222" >0.10</text>
<rect x="559.1" y="371.2" width="13.3" height="10.3" fill="#8F8F8F" stroke="#444" stroke-width="0.7" />
<line x1="565.7" y1="381.5" x2="565.7" y2="384.5" stroke="#9a9a9a" stroke-width="0.9"/>
<line x1="565.7" y1="366" x2="565.7" y2="376.3" stroke="#222" stroke-width="0.8"/>
<line x1="562.7" y1="366" x2="568.7" y2="366" stroke="#222" stroke-width="0.8"/>
<line x1="562.7" y1="376.3" x2="568.7" y2="376.3" stroke="#222" stroke-width="0.8"/>
<circle cx="563.3" cy="369" r="1.1" fill="#111"/>
<circle cx="562.7" cy="373" r="1.1" fill="#111"/>
<circle cx="564.8" cy="371.6" r="1.1" fill="#111"/>
<circle cx="565.8" cy="365.7" r="1.1" fill="#111"/>
<circle cx="565.2" cy="365.4" r="1.1" fill="#111"/>
<text transform="translate(567.9,390.1) rotate(-45)" font-size="7" font-weight="bold" text-anchor="end" fill="#222">Naive</text>
<rect x="579.3" y="378.1" width="13.3" height="3.4" fill="#DCE5F1" stroke="#444" stroke-width="0.7" />
<line x1="585.9" y1="381.5" x2="585.9" y2="384.5" stroke="#9a9a9a" stroke-width="0.9"/>
<line x1="585.9" y1="377.2" x2="585.9" y2="378.9" stroke="#222" stroke-width="0.8"/>
<line x1="582.9" y1="377.2" x2="588.9" y2="377.2" stroke="#222" stroke-width="0.8"/>
<line x1="582.9" y1="378.9" x2="588.9" y2="378.9" stroke="#222" stroke-width="0.8"/>
<circle cx="583" cy="377.2" r="1.1" fill="#111"/>
<circle cx="588.2" cy="377.9" r="1.1" fill="#111"/>
<circle cx="584" cy="377.3" r="1.1" fill="#111"/>
<circle cx="589" cy="378.3" r="1.1" fill="#111"/>
<circle cx="585.2" cy="378.2" r="1.1" fill="#111"/>
<text transform="translate(588.1,390.1) rotate(-45)" font-size="7" font-weight="bold" text-anchor="end" fill="#222">7 DPI</text>
<rect x="599.5" y="377.2" width="13.3" height="4.3" fill="#FFD865" stroke="#444" stroke-width="0.7" />
<line x1="606.1" y1="381.5" x2="606.1" y2="384.5" stroke="#9a9a9a" stroke-width="0.9"/>
<line x1="606.1" y1="372.9" x2="606.1" y2="381.5" stroke="#222" stroke-width="0.8"/>
<line x1="603.1" y1="372.9" x2="609.1" y2="372.9" stroke="#222" stroke-width="0.8"/>
<line x1="603.1" y1="381.5" x2="609.1" y2="381.5" stroke="#222" stroke-width="0.8"/>
<circle cx="602.9" cy="382.1" r="1.1" fill="#111"/>
<circle cx="604.6" cy="380.9" r="1.1" fill="#111"/>
<circle cx="603.4" cy="373.5" r="1.1" fill="#111"/>
<circle cx="608.3" cy="375.2" r="1.1" fill="#111"/>
<circle cx="606.7" cy="373.9" r="1.1" fill="#111"/>
<text transform="translate(608.3,390.1) rotate(-45)" font-size="7" font-weight="bold" text-anchor="end" fill="#222">14 DPI</text>
<rect x="619.7" y="369.4" width="13.3" height="12.1" fill="#F8B678" stroke="#444" stroke-width="0.7" />
<line x1="626.3" y1="381.5" x2="626.3" y2="384.5" stroke="#9a9a9a" stroke-width="0.9"/>
<line x1="626.3" y1="366" x2="626.3" y2="372.9" stroke="#222" stroke-width="0.8"/>
<line x1="623.3" y1="366" x2="629.3" y2="366" stroke="#222" stroke-width="0.8"/>
<line x1="623.3" y1="372.9" x2="629.3" y2="372.9" stroke="#222" stroke-width="0.8"/>
<circle cx="625.4" cy="370.6" r="1.1" fill="#111"/>
<circle cx="623.2" cy="369.8" r="1.1" fill="#111"/>
<circle cx="624.2" cy="365.8" r="1.1" fill="#111"/>
<circle cx="625.8" cy="370.9" r="1.1" fill="#111"/>
<circle cx="626.9" cy="367.9" r="1.1" fill="#111"/>
<text transform="translate(628.5,390.1) rotate(-45)" font-size="7" font-weight="bold" text-anchor="end" fill="#222">20 DPI</text>
<path d="M585.9 300.4V295.4H626.3V300.4" fill="none" stroke="#777" stroke-width="0.9"/>
<text x="606.1" y="296.9" font-size="8.5" font-weight="bold" text-anchor="middle" fill="#222" >**</text>
<path d="M606.1 312.8V307.8H626.3V312.8" fill="none" stroke="#777" stroke-width="0.9"/>
<text x="616.2" y="309.3" font-size="8.5" font-weight="bold" text-anchor="middle" fill="#222" >*</text>
<text x="596.1" y="284" font-size="9" font-weight="bold" text-anchor="middle" fill="#111" >Ccr7<tspan dy="-2.5" font-size="5">+</tspan><tspan dy="2.5"> cDC</tspan></text>
<text transform="translate(530.5,338.4) rotate(-90)" font-size="7.5" font-weight="bold" text-anchor="middle" fill="#222">% within CD45<tspan dy="-2.5" font-size="5">+</tspan><tspan dy="2.5"> cells</tspan></text>
<line x1="696.2" y1="292.8" x2="696.2" y2="381.4" stroke="#9a9a9a" stroke-width="1.1"/>
<line x1="696.2" y1="381.4" x2="784.2" y2="381.4" stroke="#9a9a9a" stroke-width="1.1"/>
<line x1="692.7" y1="381.4" x2="696.2" y2="381.4" stroke="#9a9a9a" stroke-width="0.9"/>
<text x="691.7" y="383.9" font-size="7" font-weight="bold" text-anchor="end" fill="#222" >0</text>
<line x1="692.7" y1="359.5" x2="696.2" y2="359.5" stroke="#9a9a9a" stroke-width="0.9"/>
<text x="691.7" y="362" font-size="7" font-weight="bold" text-anchor="end" fill="#222" >1000</text>
<line x1="692.7" y1="337.6" x2="696.2" y2="337.6" stroke="#9a9a9a" stroke-width="0.9"/>
<text x="691.7" y="340.1" font-size="7" font-weight="bold" text-anchor="end" fill="#222" >2000</text>
<line x1="692.7" y1="315.7" x2="696.2" y2="315.7" stroke="#9a9a9a" stroke-width="0.9"/>
<text x="691.7" y="318.2" font-size="7" font-weight="bold" text-anchor="end" fill="#222" >3000</text>
<line x1="692.7" y1="293.8" x2="696.2" y2="293.8" stroke="#9a9a9a" stroke-width="0.9"/>
<text x="691.7" y="296.3" font-size="7" font-weight="bold" text-anchor="end" fill="#222" >4000</text>
<rect x="703.2" y="358.4" width="13.3" height="23" fill="#8F8F8F" stroke="#444" stroke-width="0.7" />
<line x1="709.8" y1="381.4" x2="709.8" y2="384.4" stroke="#9a9a9a" stroke-width="0.9"/>
<line x1="709.8" y1="355.8" x2="709.8" y2="361" stroke="#222" stroke-width="0.8"/>
<line x1="706.8" y1="355.8" x2="712.8" y2="355.8" stroke="#222" stroke-width="0.8"/>
<line x1="706.8" y1="361" x2="712.8" y2="361" stroke="#222" stroke-width="0.8"/>
<circle cx="713" cy="356.7" r="1.1" fill="#111"/>
<circle cx="711.2" cy="356" r="1.1" fill="#111"/>
<circle cx="708" cy="355.8" r="1.1" fill="#111"/>
<circle cx="707.8" cy="361.6" r="1.1" fill="#111"/>
<circle cx="709.5" cy="359.3" r="1.1" fill="#111"/>
<text transform="translate(712,390) rotate(-45)" font-size="7" font-weight="bold" text-anchor="end" fill="#222">Naive</text>
<rect x="723.4" y="347.5" width="13.3" height="33.9" fill="#DCE5F1" stroke="#444" stroke-width="0.7" />
<line x1="730" y1="381.4" x2="730" y2="384.4" stroke="#9a9a9a" stroke-width="0.9"/>
<line x1="730" y1="342.6" x2="730" y2="352.3" stroke="#222" stroke-width="0.8"/>
<line x1="727" y1="342.6" x2="733" y2="342.6" stroke="#222" stroke-width="0.8"/>
<line x1="727" y1="352.3" x2="733" y2="352.3" stroke="#222" stroke-width="0.8"/>
<circle cx="730" cy="346.9" r="1.1" fill="#111"/>
<circle cx="732.3" cy="343.9" r="1.1" fill="#111"/>
<circle cx="728.1" cy="342.7" r="1.1" fill="#111"/>
<circle cx="728.4" cy="341.9" r="1.1" fill="#111"/>
<circle cx="732.8" cy="346.4" r="1.1" fill="#111"/>
<text transform="translate(732.2,390) rotate(-45)" font-size="7" font-weight="bold" text-anchor="end" fill="#222">7 DPI</text>
<rect x="743.6" y="360.2" width="13.3" height="21.2" fill="#FFD865" stroke="#444" stroke-width="0.7" />
<line x1="750.2" y1="381.4" x2="750.2" y2="384.4" stroke="#9a9a9a" stroke-width="0.9"/>
<line x1="750.2" y1="355.8" x2="750.2" y2="364.5" stroke="#222" stroke-width="0.8"/>
<line x1="747.2" y1="355.8" x2="753.2" y2="355.8" stroke="#222" stroke-width="0.8"/>
<line x1="747.2" y1="364.5" x2="753.2" y2="364.5" stroke="#222" stroke-width="0.8"/>
<circle cx="747.5" cy="358.9" r="1.1" fill="#111"/>
<circle cx="753.6" cy="357.6" r="1.1" fill="#111"/>
<circle cx="751" cy="355.6" r="1.1" fill="#111"/>
<circle cx="751.3" cy="358.9" r="1.1" fill="#111"/>
<circle cx="751.5" cy="358.5" r="1.1" fill="#111"/>
<text transform="translate(752.4,390) rotate(-45)" font-size="7" font-weight="bold" text-anchor="end" fill="#222">14 DPI</text>
<rect x="763.8" y="374" width="13.3" height="7.4" fill="#F8B678" stroke="#444" stroke-width="0.7" />
<line x1="770.4" y1="381.4" x2="770.4" y2="384.4" stroke="#9a9a9a" stroke-width="0.9"/>
<line x1="770.4" y1="370.7" x2="770.4" y2="377.2" stroke="#222" stroke-width="0.8"/>
<line x1="767.4" y1="370.7" x2="773.4" y2="370.7" stroke="#222" stroke-width="0.8"/>
<line x1="767.4" y1="377.2" x2="773.4" y2="377.2" stroke="#222" stroke-width="0.8"/>
<circle cx="771.4" cy="373.9" r="1.1" fill="#111"/>
<circle cx="771" cy="377.1" r="1.1" fill="#111"/>
<circle cx="767.4" cy="371.1" r="1.1" fill="#111"/>
<circle cx="770.3" cy="377.5" r="1.1" fill="#111"/>
<circle cx="773.5" cy="371.5" r="1.1" fill="#111"/>
<text transform="translate(772.6,390) rotate(-45)" font-size="7" font-weight="bold" text-anchor="end" fill="#222">20 DPI</text>
<path d="M709.8 298.8V293.8H770.4V298.8" fill="none" stroke="#777" stroke-width="0.9"/>
<text x="740.1" y="295.3" font-size="8.5" font-weight="bold" text-anchor="middle" fill="#222" >****</text>
<path d="M730 312V307H770.4V312" fill="none" stroke="#777" stroke-width="0.9"/>
<text x="750.2" y="308.5" font-size="8.5" font-weight="bold" text-anchor="middle" fill="#222" >****</text>
<path d="M709.8 324V319H728.5V324" fill="none" stroke="#777" stroke-width="0.9"/>
<text x="719.2" y="320.5" font-size="8.5" font-weight="bold" text-anchor="middle" fill="#222" >**</text>
<path d="M731.5 324V319H748.7V324" fill="none" stroke="#777" stroke-width="0.9"/>
<text x="740.1" y="320.5" font-size="8.5" font-weight="bold" text-anchor="middle" fill="#222" >***</text>
<path d="M751.7 324V319H770.4V324" fill="none" stroke="#777" stroke-width="0.9"/>
<text x="761.1" y="320.5" font-size="8.5" font-weight="bold" text-anchor="middle" fill="#222" >***</text>
<text x="740.2" y="284" font-size="9" font-weight="bold" text-anchor="middle" fill="#111" >cDC</text>
<text transform="translate(674,337.6) rotate(-90)" font-size="7.5" font-weight="bold" text-anchor="middle" fill="#222">&#916;MFI CD80</text>
<line x1="311.2" y1="431" x2="311.2" y2="518.6" stroke="#9a9a9a" stroke-width="1.1"/>
<line x1="311.2" y1="518.6" x2="399.2" y2="518.6" stroke="#9a9a9a" stroke-width="1.1"/>
<line x1="307.7" y1="518.6" x2="311.2" y2="518.6" stroke="#9a9a9a" stroke-width="0.9"/>
<text x="306.7" y="521.1" font-size="7" font-weight="bold" text-anchor="end" fill="#222" >0.0</text>
<line x1="307.7" y1="501.3" x2="311.2" y2="501.3" stroke="#9a9a9a" stroke-width="0.9"/>
<text x="306.7" y="503.8" font-size="7" font-weight="bold" text-anchor="end" fill="#222" >0.2</text>
<line x1="307.7" y1="484" x2="311.2" y2="484" stroke="#9a9a9a" stroke-width="0.9"/>
<text x="306.7" y="486.5" font-size="7" font-weight="bold" text-anchor="end" fill="#222" >0.4</text>
<line x1="307.7" y1="466.6" x2="311.2" y2="466.6" stroke="#9a9a9a" stroke-width="0.9"/>
<text x="306.7" y="469.1" font-size="7" font-weight="bold" text-anchor="end" fill="#222" >0.6</text>
<line x1="307.7" y1="449.3" x2="311.2" y2="449.3" stroke="#9a9a9a" stroke-width="0.9"/>
<text x="306.7" y="451.8" font-size="7" font-weight="bold" text-anchor="end" fill="#222" >0.8</text>
<line x1="307.7" y1="432" x2="311.2" y2="432" stroke="#9a9a9a" stroke-width="0.9"/>
<text x="306.7" y="434.5" font-size="7" font-weight="bold" text-anchor="end" fill="#222" >1.0</text>
<rect x="318.2" y="486.6" width="13.3" height="32" fill="#8F8F8F" stroke="#444" stroke-width="0.7" />
<line x1="324.8" y1="518.6" x2="324.8" y2="521.6" stroke="#9a9a9a" stroke-width="0.9"/>
<line x1="324.8" y1="482.2" x2="324.8" y2="490.9" stroke="#222" stroke-width="0.8"/>
<line x1="321.8" y1="482.2" x2="327.8" y2="482.2" stroke="#222" stroke-width="0.8"/>
<line x1="321.8" y1="490.9" x2="327.8" y2="490.9" stroke="#222" stroke-width="0.8"/>
<circle cx="323.9" cy="486.2" r="1.1" fill="#111"/>
<circle cx="327.4" cy="482.8" r="1.1" fill="#111"/>
<circle cx="324.8" cy="481.4" r="1.1" fill="#111"/>
<circle cx="321.9" cy="490.7" r="1.1" fill="#111"/>
<circle cx="325.6" cy="487.1" r="1.1" fill="#111"/>
<text transform="translate(327,527.2) rotate(-45)" font-size="7" font-weight="bold" text-anchor="end" fill="#222">Naive</text>
<rect x="338.4" y="488.3" width="13.3" height="30.3" fill="#DCE5F1" stroke="#444" stroke-width="0.7" />
<line x1="345" y1="518.6" x2="345" y2="521.6" stroke="#9a9a9a" stroke-width="0.9"/>
<line x1="345" y1="480.5" x2="345" y2="496.1" stroke="#222" stroke-width="0.8"/>
<line x1="342" y1="480.5" x2="348" y2="480.5" stroke="#222" stroke-width="0.8"/>
<line x1="342" y1="496.1" x2="348" y2="496.1" stroke="#222" stroke-width="0.8"/>
<circle cx="344.2" cy="479.7" r="1.1" fill="#111"/>
<circle cx="344.7" cy="492.1" r="1.1" fill="#111"/>
<circle cx="342.6" cy="492.5" r="1.1" fill="#111"/>
<circle cx="342.3" cy="483.4" r="1.1" fill="#111"/>
<circle cx="348" cy="488.4" r="1.1" fill="#111"/>
<text transform="translate(347.2,527.2) rotate(-45)" font-size="7" font-weight="bold" text-anchor="end" fill="#222">7 DPI</text>
<rect x="358.6" y="512.5" width="13.3" height="6.1" fill="#FFD865" stroke="#444" stroke-width="0.7" />
<line x1="365.2" y1="518.6" x2="365.2" y2="521.6" stroke="#9a9a9a" stroke-width="0.9"/>
<line x1="365.2" y1="511.2" x2="365.2" y2="513.8" stroke="#222" stroke-width="0.8"/>
<line x1="362.2" y1="511.2" x2="368.2" y2="511.2" stroke="#222" stroke-width="0.8"/>
<line x1="362.2" y1="513.8" x2="368.2" y2="513.8" stroke="#222" stroke-width="0.8"/>
<circle cx="367.1" cy="512.8" r="1.1" fill="#111"/>
<circle cx="366.9" cy="512.2" r="1.1" fill="#111"/>
<circle cx="363.7" cy="511.3" r="1.1" fill="#111"/>
<circle cx="366.8" cy="513.1" r="1.1" fill="#111"/>
<circle cx="362.3" cy="512.3" r="1.1" fill="#111"/>
<text transform="translate(367.4,527.2) rotate(-45)" font-size="7" font-weight="bold" text-anchor="end" fill="#222">14 DPI</text>
<rect x="378.8" y="503.9" width="13.3" height="14.7" fill="#F8B678" stroke="#444" stroke-width="0.7" />
<line x1="385.4" y1="518.6" x2="385.4" y2="521.6" stroke="#9a9a9a" stroke-width="0.9"/>
<line x1="385.4" y1="499.5" x2="385.4" y2="508.2" stroke="#222" stroke-width="0.8"/>
<line x1="382.4" y1="499.5" x2="388.4" y2="499.5" stroke="#222" stroke-width="0.8"/>
<line x1="382.4" y1="508.2" x2="388.4" y2="508.2" stroke="#222" stroke-width="0.8"/>
<circle cx="383.4" cy="501.5" r="1.1" fill="#111"/>
<circle cx="387.6" cy="501.6" r="1.1" fill="#111"/>
<circle cx="388.1" cy="500.8" r="1.1" fill="#111"/>
<circle cx="382.3" cy="507.8" r="1.1" fill="#111"/>
<circle cx="385.3" cy="502.6" r="1.1" fill="#111"/>
<text transform="translate(387.6,527.2) rotate(-45)" font-size="7" font-weight="bold" text-anchor="end" fill="#222">20 DPI</text>
<path d="M324.8 437V432H385.4V437" fill="none" stroke="#777" stroke-width="0.9"/>
<text x="355.1" y="433.5" font-size="8.5" font-weight="bold" text-anchor="middle" fill="#222" >***</text>
<path d="M345 449.6V444.6H385.4V449.6" fill="none" stroke="#777" stroke-width="0.9"/>
<text x="365.2" y="446.1" font-size="8.5" font-weight="bold" text-anchor="middle" fill="#222" >***</text>
<path d="M324.8 461.4V456.4H365.2V461.4" fill="none" stroke="#777" stroke-width="0.9"/>
<text x="345" y="457.9" font-size="8.5" font-weight="bold" text-anchor="middle" fill="#222" >****</text>
<path d="M345 472.9V467.9H365.2V472.9" fill="none" stroke="#777" stroke-width="0.9"/>
<text x="355.1" y="469.4" font-size="8.5" font-weight="bold" text-anchor="middle" fill="#222" >****</text>
<text x="355.2" y="421" font-size="9" font-weight="bold" text-anchor="middle" fill="#111" >Ccr7<tspan dy="-2.5" font-size="5">-</tspan><tspan dy="2.5"> cDC1</tspan></text>
<text transform="translate(289,475.3) rotate(-90)" font-size="7.5" font-weight="bold" text-anchor="middle" fill="#222">% within CD45<tspan dy="-2.5" font-size="5">+</tspan><tspan dy="2.5"> cells</tspan></text>
<line x1="429.2" y1="431" x2="429.2" y2="518.6" stroke="#9a9a9a" stroke-width="1.1"/>
<line x1="429.2" y1="518.6" x2="517.2" y2="518.6" stroke="#9a9a9a" stroke-width="1.1"/>
<line x1="425.7" y1="518.6" x2="429.2" y2="518.6" stroke="#9a9a9a" stroke-width="0.9"/>
<text x="424.7" y="521.1" font-size="7" font-weight="bold" text-anchor="end" fill="#222" >0.0</text>
<line x1="425.7" y1="497" x2="429.2" y2="497" stroke="#9a9a9a" stroke-width="0.9"/>
<text x="424.7" y="499.5" font-size="7" font-weight="bold" text-anchor="end" fill="#222" >0.5</text>
<line x1="425.7" y1="475.3" x2="429.2" y2="475.3" stroke="#9a9a9a" stroke-width="0.9"/>
<text x="424.7" y="477.8" font-size="7" font-weight="bold" text-anchor="end" fill="#222" >1.0</text>
<line x1="425.7" y1="453.6" x2="429.2" y2="453.6" stroke="#9a9a9a" stroke-width="0.9"/>
<text x="424.7" y="456.1" font-size="7" font-weight="bold" text-anchor="end" fill="#222" >1.5</text>
<line x1="425.7" y1="432" x2="429.2" y2="432" stroke="#9a9a9a" stroke-width="0.9"/>
<text x="424.7" y="434.5" font-size="7" font-weight="bold" text-anchor="end" fill="#222" >2.0</text>
<rect x="436.2" y="477.5" width="13.3" height="41.1" fill="#8F8F8F" stroke="#444" stroke-width="0.7" />
<line x1="442.8" y1="518.6" x2="442.8" y2="521.6" stroke="#9a9a9a" stroke-width="0.9"/>
<line x1="442.8" y1="472.3" x2="442.8" y2="482.7" stroke="#222" stroke-width="0.8"/>
<line x1="439.8" y1="472.3" x2="445.8" y2="472.3" stroke="#222" stroke-width="0.8"/>
<line x1="439.8" y1="482.7" x2="445.8" y2="482.7" stroke="#222" stroke-width="0.8"/>
<circle cx="442.3" cy="478.4" r="1.1" fill="#111"/>
<circle cx="440.7" cy="478.4" r="1.1" fill="#111"/>
<circle cx="445.1" cy="481.4" r="1.1" fill="#111"/>
<circle cx="440.4" cy="479.4" r="1.1" fill="#111"/>
<circle cx="441.6" cy="477.7" r="1.1" fill="#111"/>
<text transform="translate(445,527.2) rotate(-45)" font-size="7" font-weight="bold" text-anchor="end" fill="#222">Naive</text>
<rect x="456.4" y="484" width="13.3" height="34.6" fill="#DCE5F1" stroke="#444" stroke-width="0.7" />
<line x1="463" y1="518.6" x2="463" y2="521.6" stroke="#9a9a9a" stroke-width="0.9"/>
<line x1="463" y1="479.6" x2="463" y2="488.3" stroke="#222" stroke-width="0.8"/>
<line x1="460" y1="479.6" x2="466" y2="479.6" stroke="#222" stroke-width="0.8"/>
<line x1="460" y1="488.3" x2="466" y2="488.3" stroke="#222" stroke-width="0.8"/>
<circle cx="466.2" cy="481.4" r="1.1" fill="#111"/>
<circle cx="459.8" cy="489.1" r="1.1" fill="#111"/>
<circle cx="463.7" cy="487.7" r="1.1" fill="#111"/>
<circle cx="461.5" cy="482.7" r="1.1" fill="#111"/>
<circle cx="462.7" cy="485.8" r="1.1" fill="#111"/>
<text transform="translate(465.2,527.2) rotate(-45)" font-size="7" font-weight="bold" text-anchor="end" fill="#222">7 DPI</text>
<rect x="476.6" y="484" width="13.3" height="34.6" fill="#FFD865" stroke="#444" stroke-width="0.7" />
<line x1="483.2" y1="518.6" x2="483.2" y2="521.6" stroke="#9a9a9a" stroke-width="0.9"/>
<line x1="483.2" y1="479.6" x2="483.2" y2="488.3" stroke="#222" stroke-width="0.8"/>
<line x1="480.2" y1="479.6" x2="486.2" y2="479.6" stroke="#222" stroke-width="0.8"/>
<line x1="480.2" y1="488.3" x2="486.2" y2="488.3" stroke="#222" stroke-width="0.8"/>
<circle cx="484.3" cy="485.9" r="1.1" fill="#111"/>
<circle cx="485.1" cy="480.1" r="1.1" fill="#111"/>
<circle cx="486.5" cy="489" r="1.1" fill="#111"/>
<circle cx="480" cy="485.1" r="1.1" fill="#111"/>
<circle cx="480.6" cy="478.8" r="1.1" fill="#111"/>
<text transform="translate(485.4,527.2) rotate(-45)" font-size="7" font-weight="bold" text-anchor="end" fill="#222">14 DPI</text>
<rect x="496.8" y="484" width="13.3" height="34.6" fill="#F8B678" stroke="#444" stroke-width="0.7" />
<line x1="503.4" y1="518.6" x2="503.4" y2="521.6" stroke="#9a9a9a" stroke-width="0.9"/>
<line x1="503.4" y1="479.6" x2="503.4" y2="488.3" stroke="#222" stroke-width="0.8"/>
<line x1="500.4" y1="479.6" x2="506.4" y2="479.6" stroke="#222" stroke-width="0.8"/>
<line x1="500.4" y1="488.3" x2="506.4" y2="488.3" stroke="#222" stroke-width="0.8"/>
<circle cx="502" cy="488.5" r="1.1" fill="#111"/>
<circle cx="506.2" cy="482.6" r="1.1" fill="#111"/>
<circle cx="503.7" cy="482" r="1.1" fill="#111"/>
<circle cx="500.4" cy="483.3" r="1.1" fill="#111"/>
<circle cx="505.8" cy="484.8" r="1.1" fill="#111"/>
<text transform="translate(505.6,527.2) rotate(-45)" font-size="7" font-weight="bold" text-anchor="end" fill="#222">20 DPI</text>
<text x="473.2" y="421" font-size="9" font-weight="bold" text-anchor="middle" fill="#111" >Ccr7<tspan dy="-2.5" font-size="5">-</tspan><tspan dy="2.5"> cDC2</tspan></text>
<text transform="translate(407,475.3) rotate(-90)" font-size="7.5" font-weight="bold" text-anchor="middle" fill="#222">% within CD45<tspan dy="-2.5" font-size="5">+</tspan><tspan dy="2.5"> cells</tspan></text>
<line x1="552.1" y1="431" x2="552.1" y2="518.6" stroke="#9a9a9a" stroke-width="1.1"/>
<line x1="552.1" y1="518.6" x2="640.1" y2="518.6" stroke="#9a9a9a" stroke-width="1.1"/>
<line x1="548.6" y1="518.6" x2="552.1" y2="518.6" stroke="#9a9a9a" stroke-width="0.9"/>
<text x="547.6" y="521.1" font-size="7" font-weight="bold" text-anchor="end" fill="#222" >0.0</text>
<line x1="548.6" y1="501.3" x2="552.1" y2="501.3" stroke="#9a9a9a" stroke-width="0.9"/>
<text x="547.6" y="503.8" font-size="7" font-weight="bold" text-anchor="end" fill="#222" >0.2</text>
<line x1="548.6" y1="484" x2="552.1" y2="484" stroke="#9a9a9a" stroke-width="0.9"/>
<text x="547.6" y="486.5" font-size="7" font-weight="bold" text-anchor="end" fill="#222" >0.4</text>
<line x1="548.6" y1="466.6" x2="552.1" y2="466.6" stroke="#9a9a9a" stroke-width="0.9"/>
<text x="547.6" y="469.1" font-size="7" font-weight="bold" text-anchor="end" fill="#222" >0.6</text>
<line x1="548.6" y1="449.3" x2="552.1" y2="449.3" stroke="#9a9a9a" stroke-width="0.9"/>
<text x="547.6" y="451.8" font-size="7" font-weight="bold" text-anchor="end" fill="#222" >0.8</text>
<line x1="548.6" y1="432" x2="552.1" y2="432" stroke="#9a9a9a" stroke-width="0.9"/>
<text x="547.6" y="434.5" font-size="7" font-weight="bold" text-anchor="end" fill="#222" >1.0</text>
<rect x="559.1" y="498.7" width="13.3" height="19.9" fill="#8F8F8F" stroke="#444" stroke-width="0.7" />
<line x1="565.7" y1="518.6" x2="565.7" y2="521.6" stroke="#9a9a9a" stroke-width="0.9"/>
<line x1="565.7" y1="493.5" x2="565.7" y2="503.9" stroke="#222" stroke-width="0.8"/>
<line x1="562.7" y1="493.5" x2="568.7" y2="493.5" stroke="#222" stroke-width="0.8"/>
<line x1="562.7" y1="503.9" x2="568.7" y2="503.9" stroke="#222" stroke-width="0.8"/>
<circle cx="566.1" cy="498.1" r="1.1" fill="#111"/>
<circle cx="565.5" cy="504" r="1.1" fill="#111"/>
<circle cx="566.3" cy="498.8" r="1.1" fill="#111"/>
<circle cx="565.8" cy="494.7" r="1.1" fill="#111"/>
<circle cx="567.8" cy="500.3" r="1.1" fill="#111"/>
<text transform="translate(567.9,527.2) rotate(-45)" font-size="7" font-weight="bold" text-anchor="end" fill="#222">Naive</text>
<rect x="579.3" y="502.1" width="13.3" height="16.5" fill="#DCE5F1" stroke="#444" stroke-width="0.7" />
<line x1="585.9" y1="518.6" x2="585.9" y2="521.6" stroke="#9a9a9a" stroke-width="0.9"/>
<line x1="585.9" y1="500.4" x2="585.9" y2="503.9" stroke="#222" stroke-width="0.8"/>
<line x1="582.9" y1="500.4" x2="588.9" y2="500.4" stroke="#222" stroke-width="0.8"/>
<line x1="582.9" y1="503.9" x2="588.9" y2="503.9" stroke="#222" stroke-width="0.8"/>
<circle cx="584.5" cy="500.5" r="1.1" fill="#111"/>
<circle cx="588.1" cy="500.4" r="1.1" fill="#111"/>
<circle cx="582.7" cy="503" r="1.1" fill="#111"/>
<circle cx="589.2" cy="504.2" r="1.1" fill="#111"/>
<circle cx="586.7" cy="502.8" r="1.1" fill="#111"/>
<text transform="translate(588.1,527.2) rotate(-45)" font-size="7" font-weight="bold" text-anchor="end" fill="#222">7 DPI</text>
<rect x="599.5" y="499.5" width="13.3" height="19.1" fill="#FFD865" stroke="#444" stroke-width="0.7" />
<line x1="606.1" y1="518.6" x2="606.1" y2="521.6" stroke="#9a9a9a" stroke-width="0.9"/>
<line x1="606.1" y1="495.2" x2="606.1" y2="503.9" stroke="#222" stroke-width="0.8"/>
<line x1="603.1" y1="495.2" x2="609.1" y2="495.2" stroke="#222" stroke-width="0.8"/>
<line x1="603.1" y1="503.9" x2="609.1" y2="503.9" stroke="#222" stroke-width="0.8"/>
<circle cx="602.7" cy="496" r="1.1" fill="#111"/>
<circle cx="603" cy="499.8" r="1.1" fill="#111"/>
<circle cx="604.3" cy="496.3" r="1.1" fill="#111"/>
<circle cx="605.8" cy="494.7" r="1.1" fill="#111"/>
<circle cx="608.5" cy="498.9" r="1.1" fill="#111"/>
<text transform="translate(608.3,527.2) rotate(-45)" font-size="7" font-weight="bold" text-anchor="end" fill="#222">14 DPI</text>
<rect x="619.7" y="486.6" width="13.3" height="32" fill="#F8B678" stroke="#444" stroke-width="0.7" />
<line x1="626.3" y1="518.6" x2="626.3" y2="521.6" stroke="#9a9a9a" stroke-width="0.9"/>
<line x1="626.3" y1="481.4" x2="626.3" y2="491.8" stroke="#222" stroke-width="0.8"/>
<line x1="623.3" y1="481.4" x2="629.3" y2="481.4" stroke="#222" stroke-width="0.8"/>
<line x1="623.3" y1="491.8" x2="629.3" y2="491.8" stroke="#222" stroke-width="0.8"/>
<circle cx="627.3" cy="486.8" r="1.1" fill="#111"/>
<circle cx="627.4" cy="486.6" r="1.1" fill="#111"/>
<circle cx="624.7" cy="486" r="1.1" fill="#111"/>
<circle cx="629.8" cy="492.8" r="1.1" fill="#111"/>
<circle cx="627.8" cy="490.8" r="1.1" fill="#111"/>
<text transform="translate(628.5,527.2) rotate(-45)" font-size="7" font-weight="bold" text-anchor="end" fill="#222">20 DPI</text>
<path d="M565.7 437V432H626.3V437" fill="none" stroke="#777" stroke-width="0.9"/>
<text x="596" y="433.5" font-size="8.5" font-weight="bold" text-anchor="middle" fill="#222" >**</text>
<path d="M585.9 449.6V444.6H626.3V449.6" fill="none" stroke="#777" stroke-width="0.9"/>
<text x="606.1" y="446.1" font-size="8.5" font-weight="bold" text-anchor="middle" fill="#222" >***</text>
<path d="M606.1 461.4V456.4H626.3V461.4" fill="none" stroke="#777" stroke-width="0.9"/>
<text x="616.2" y="457.9" font-size="8.5" font-weight="bold" text-anchor="middle" fill="#222" >***</text>
<text x="596.1" y="421" font-size="9" font-weight="bold" text-anchor="middle" fill="#111" >Ccr7<tspan dy="-2.5" font-size="5">+</tspan><tspan dy="2.5"> cDC</tspan></text>
<text transform="translate(530.5,475.3) rotate(-90)" font-size="7.5" font-weight="bold" text-anchor="middle" fill="#222">% within CD45<tspan dy="-2.5" font-size="5">+</tspan><tspan dy="2.5"> cells</tspan></text>
<line x1="696.2" y1="430" x2="696.2" y2="518.5" stroke="#9a9a9a" stroke-width="1.1"/>
<line x1="696.2" y1="518.5" x2="784.2" y2="518.5" stroke="#9a9a9a" stroke-width="1.1"/>
<line x1="692.7" y1="518.5" x2="696.2" y2="518.5" stroke="#9a9a9a" stroke-width="0.9"/>
<text x="691.7" y="521" font-size="7" font-weight="bold" text-anchor="end" fill="#222" >0</text>
<line x1="692.7" y1="496.6" x2="696.2" y2="496.6" stroke="#9a9a9a" stroke-width="0.9"/>
<text x="691.7" y="499.1" font-size="7" font-weight="bold" text-anchor="end" fill="#222" >1000</text>
<line x1="692.7" y1="474.8" x2="696.2" y2="474.8" stroke="#9a9a9a" stroke-width="0.9"/>
<text x="691.7" y="477.2" font-size="7" font-weight="bold" text-anchor="end" fill="#222" >2000</text>
<line x1="692.7" y1="452.9" x2="696.2" y2="452.9" stroke="#9a9a9a" stroke-width="0.9"/>
<text x="691.7" y="455.4" font-size="7" font-weight="bold" text-anchor="end" fill="#222" >3000</text>
<line x1="692.7" y1="431" x2="696.2" y2="431" stroke="#9a9a9a" stroke-width="0.9"/>
<text x="691.7" y="433.5" font-size="7" font-weight="bold" text-anchor="end" fill="#222" >4000</text>
<rect x="703.2" y="482.4" width="13.3" height="36.1" fill="#8F8F8F" stroke="#444" stroke-width="0.7" />
<line x1="709.8" y1="518.5" x2="709.8" y2="521.5" stroke="#9a9a9a" stroke-width="0.9"/>
<line x1="709.8" y1="479.1" x2="709.8" y2="485.7" stroke="#222" stroke-width="0.8"/>
<line x1="706.8" y1="479.1" x2="712.8" y2="479.1" stroke="#222" stroke-width="0.8"/>
<line x1="706.8" y1="485.7" x2="712.8" y2="485.7" stroke="#222" stroke-width="0.8"/>
<circle cx="710.9" cy="482.2" r="1.1" fill="#111"/>
<circle cx="707.3" cy="483.7" r="1.1" fill="#111"/>
<circle cx="708.9" cy="478.6" r="1.1" fill="#111"/>
<circle cx="712" cy="480.6" r="1.1" fill="#111"/>
<circle cx="710.5" cy="483.9" r="1.1" fill="#111"/>
<text transform="translate(712,527.1) rotate(-45)" font-size="7" font-weight="bold" text-anchor="end" fill="#222">Naive</text>
<rect x="723.4" y="474.3" width="13.3" height="44.2" fill="#DCE5F1" stroke="#444" stroke-width="0.7" />
<line x1="730" y1="518.5" x2="730" y2="521.5" stroke="#9a9a9a" stroke-width="0.9"/>
<line x1="730" y1="473" x2="730" y2="475.6" stroke="#222" stroke-width="0.8"/>
<line x1="727" y1="473" x2="733" y2="473" stroke="#222" stroke-width="0.8"/>
<line x1="727" y1="475.6" x2="733" y2="475.6" stroke="#222" stroke-width="0.8"/>
<circle cx="731.1" cy="474.5" r="1.1" fill="#111"/>
<circle cx="729.6" cy="473.2" r="1.1" fill="#111"/>
<circle cx="732.8" cy="473.2" r="1.1" fill="#111"/>
<circle cx="732.2" cy="472.9" r="1.1" fill="#111"/>
<circle cx="731.3" cy="473" r="1.1" fill="#111"/>
<text transform="translate(732.2,527.1) rotate(-45)" font-size="7" font-weight="bold" text-anchor="end" fill="#222">7 DPI</text>
<rect x="743.6" y="487.7" width="13.3" height="30.8" fill="#FFD865" stroke="#444" stroke-width="0.7" />
<line x1="750.2" y1="518.5" x2="750.2" y2="521.5" stroke="#9a9a9a" stroke-width="0.9"/>
<line x1="750.2" y1="485.5" x2="750.2" y2="489.8" stroke="#222" stroke-width="0.8"/>
<line x1="747.2" y1="485.5" x2="753.2" y2="485.5" stroke="#222" stroke-width="0.8"/>
<line x1="747.2" y1="489.8" x2="753.2" y2="489.8" stroke="#222" stroke-width="0.8"/>
<circle cx="749.5" cy="486.8" r="1.1" fill="#111"/>
<circle cx="746.8" cy="489.5" r="1.1" fill="#111"/>
<circle cx="753.1" cy="485.4" r="1.1" fill="#111"/>
<circle cx="747.3" cy="487.7" r="1.1" fill="#111"/>
<circle cx="753.3" cy="490.2" r="1.1" fill="#111"/>
<text transform="translate(752.4,527.1) rotate(-45)" font-size="7" font-weight="bold" text-anchor="end" fill="#222">14 DPI</text>
<rect x="763.8" y="499.2" width="13.3" height="19.2" fill="#F8B678" stroke="#444" stroke-width="0.7" />
<line x1="770.4" y1="518.5" x2="770.4" y2="521.5" stroke="#9a9a9a" stroke-width="0.9"/>
<line x1="770.4" y1="497.9" x2="770.4" y2="500.6" stroke="#222" stroke-width="0.8"/>
<line x1="767.4" y1="497.9" x2="773.4" y2="497.9" stroke="#222" stroke-width="0.8"/>
<line x1="767.4" y1="500.6" x2="773.4" y2="500.6" stroke="#222" stroke-width="0.8"/>
<circle cx="769.9" cy="498" r="1.1" fill="#111"/>
<circle cx="769.1" cy="498.1" r="1.1" fill="#111"/>
<circle cx="768" cy="499.6" r="1.1" fill="#111"/>
<circle cx="767.3" cy="499.9" r="1.1" fill="#111"/>
<circle cx="772.6" cy="498.2" r="1.1" fill="#111"/>
<text transform="translate(772.6,527.1) rotate(-45)" font-size="7" font-weight="bold" text-anchor="end" fill="#222">20 DPI</text>
<path d="M709.8 436V431H770.4V436" fill="none" stroke="#777" stroke-width="0.9"/>
<text x="740.1" y="432.5" font-size="8.5" font-weight="bold" text-anchor="middle" fill="#222" >****</text>
<path d="M730 448.8V443.8H770.4V448.8" fill="none" stroke="#777" stroke-width="0.9"/>
<text x="750.2" y="445.3" font-size="8.5" font-weight="bold" text-anchor="middle" fill="#222" >****</text>
<path d="M709.8 460.5V455.5H750.2V460.5" fill="none" stroke="#777" stroke-width="0.9"/>
<text x="730" y="457" font-size="8.5" font-weight="bold" text-anchor="middle" fill="#222" >**</text>
<path d="M709.8 472.3V467.3H728.5V472.3" fill="none" stroke="#777" stroke-width="0.9"/>
<text x="719.2" y="468.8" font-size="8.5" font-weight="bold" text-anchor="middle" fill="#222" >****</text>
<path d="M731.5 472.3V467.3H748.7V472.3" fill="none" stroke="#777" stroke-width="0.9"/>
<text x="740.1" y="468.8" font-size="8.5" font-weight="bold" text-anchor="middle" fill="#222" >****</text>
<path d="M751.7 472.3V467.3H770.4V472.3" fill="none" stroke="#777" stroke-width="0.9"/>
<text x="761.1" y="468.8" font-size="8.5" font-weight="bold" text-anchor="middle" fill="#222" >****</text>
<text x="740.2" y="421" font-size="9" font-weight="bold" text-anchor="middle" fill="#111" >cDC</text>
<text transform="translate(674,474.8) rotate(-90)" font-size="7.5" font-weight="bold" text-anchor="middle" fill="#222">&#916;MFI CD80</text>
<line x1="23.2" y1="289" x2="23.2" y2="386" stroke="#333" stroke-width="1"/>
<line x1="23.2" y1="426.6" x2="23.2" y2="524.4" stroke="#333" stroke-width="1"/>
<text transform="translate(16.2,332) rotate(-90)" font-size="10" font-weight="bold" text-anchor="middle" fill="#111">BM</text>
<text transform="translate(16.2,475.5) rotate(-90)" font-size="10" font-weight="bold" text-anchor="middle" fill="#111">Spleen</text>
<text x="150" y="23.5" font-size="10.5" font-weight="bold" text-anchor="start" fill="#111" font-style="italic" >Ccr7<tspan dy="-3.5" font-size="7">+</tspan><tspan dy="3.5" font-style="normal"> cDC</tspan></text>
<line x1="140.5" y1="19.5" x2="146.8" y2="19.5" stroke="#444" stroke-width="0.7"/>
<text x="159" y="45" font-size="10.5" font-weight="bold" text-anchor="start" fill="#111" >cDC2</text>
<line x1="150" y1="41.5" x2="155" y2="41.5" stroke="#444" stroke-width="0.7"/>
<text x="107.8" y="68.4" font-size="10.5" font-weight="bold" text-anchor="start" fill="#111" >DC3</text>
<line x1="125.7" y1="69" x2="132" y2="74" stroke="#444" stroke-width="0.7"/>
<text x="171" y="79.8" font-size="10.5" font-weight="bold" text-anchor="start" fill="#111" >cDC1</text>
<line x1="162.8" y1="76" x2="168" y2="76" stroke="#444" stroke-width="0.7"/>
<text x="161.5" y="95" font-size="10.5" font-weight="bold" text-anchor="start" fill="#111" >pre-cDC1</text>
<line x1="150.6" y1="91.4" x2="157" y2="91.4" stroke="#444" stroke-width="0.7"/>
<text x="94" y="103.3" font-size="10.5" font-weight="bold" text-anchor="start" fill="#111" >pro-DC3</text>
<line x1="125" y1="105" x2="129" y2="110" stroke="#444" stroke-width="0.7"/>
<text x="180.5" y="111.6" font-size="10.5" font-weight="bold" text-anchor="start" fill="#111" >pre-cDC2</text>
<line x1="183" y1="113" x2="178" y2="118" stroke="#444" stroke-width="0.7"/>
<text x="235" y="93" font-size="10.5" font-weight="bold" text-anchor="start" fill="#111" >pDC_IFN</text>
<line x1="251" y1="96" x2="251" y2="102" stroke="#444" stroke-width="0.7"/>
<text x="259" y="143.5" font-size="10.5" font-weight="bold" text-anchor="start" fill="#111" >pDC</text>
<line x1="254.8" y1="131.4" x2="262" y2="134" stroke="#444" stroke-width="0.7"/>
<text x="205" y="168.5" font-size="10.5" font-weight="bold" text-anchor="start" fill="#111" >pre-pDC</text>
<line x1="212.6" y1="153" x2="212.6" y2="159.5" stroke="#444" stroke-width="0.7"/>
<text x="150.3" y="165" font-size="10.5" font-weight="bold" text-anchor="start" fill="#111" >CDP</text>
<line x1="164" y1="156" x2="167" y2="152" stroke="#444" stroke-width="0.7"/>
<text x="108" y="175" font-size="10.5" font-weight="bold" text-anchor="start" fill="#111" >MDP</text>
<line x1="122" y1="177" x2="127" y2="181" stroke="#444" stroke-width="0.7"/>
<text x="194.5" y="191.6" font-size="10.5" font-weight="bold" text-anchor="start" fill="#111" >CLP</text>
<line x1="185" y1="187" x2="191" y2="187" stroke="#444" stroke-width="0.7"/>
<text x="10.8" y="166.6" font-size="10.5" font-weight="bold" text-anchor="start" fill="#111" >MP</text>
<line x1="27.4" y1="163" x2="34" y2="163" stroke="#444" stroke-width="0.7"/>
<text x="32.3" y="216.3" font-size="10.5" font-weight="bold" text-anchor="start" fill="#111" >GMP</text>
<line x1="57" y1="213" x2="64.7" y2="213" stroke="#444" stroke-width="0.7"/>
<text x="174.6" y="239" font-size="10.5" font-weight="bold" text-anchor="start" fill="#111" >HSC/CMP</text>
<line x1="166" y1="235" x2="172" y2="235" stroke="#444" stroke-width="0.7"/>
<text x="102.4" y="593.6" font-size="10.5" font-weight="bold" text-anchor="start" fill="#111" >HSC</text>
<line x1="112.5" y1="597.4" x2="112.5" y2="604" stroke="#444" stroke-width="0.7"/>
<text x="160.4" y="587.6" font-size="10.5" font-weight="bold" text-anchor="start" fill="#111" >GMP</text>
<line x1="171.2" y1="592" x2="171.2" y2="598.4" stroke="#444" stroke-width="0.7"/>
<text x="247" y="585.5" font-size="10.5" font-weight="bold" text-anchor="start" fill="#111" >MDP</text>
<line x1="258" y1="588" x2="254" y2="593" stroke="#444" stroke-width="0.7"/>
<text x="281.8" y="626.6" font-size="10.5" font-weight="bold" text-anchor="start" fill="#111" >MP</text>
<line x1="272" y1="622" x2="278.6" y2="622" stroke="#444" stroke-width="0.7"/>
<text x="41" y="626" font-size="10.5" font-weight="bold" text-anchor="start" fill="#111" >CLP</text>
<line x1="50.7" y1="607" x2="50.7" y2="613" stroke="#444" stroke-width="0.7"/>
<text x="3.8" y="652" font-size="10.5" font-weight="bold" text-anchor="start" fill="#111" >pDC</text>
<line x1="17" y1="652" x2="22" y2="657" stroke="#444" stroke-width="0.7"/>
<text x="36.3" y="663.4" font-size="10.5" font-weight="bold" text-anchor="start" fill="#111" >pDC_IFN</text>
<line x1="40" y1="665" x2="34.4" y2="671" stroke="#444" stroke-width="0.7"/>
<text x="45" y="701.7" font-size="10.5" font-weight="bold" text-anchor="start" fill="#111" >pre-cDC2</text>
<line x1="62" y1="686" x2="58" y2="691" stroke="#444" stroke-width="0.7"/>
<text x="190.7" y="681" font-size="10.5" font-weight="bold" text-anchor="start" fill="#111" >cDC2 prolif</text>
<line x1="178.8" y1="676" x2="186.4" y2="676" stroke="#444" stroke-width="0.7"/>
<text x="173.4" y="761.6" font-size="10.5" font-weight="bold" text-anchor="start" fill="#111" >cDC2</text>
<line x1="202.8" y1="745.5" x2="197.5" y2="750" stroke="#444" stroke-width="0.7"/>
<text x="242" y="767.9" font-size="10.5" font-weight="bold" text-anchor="start" fill="#111" >DC3</text>
<line x1="252" y1="751.8" x2="252" y2="758" stroke="#444" stroke-width="0.7"/>
<text x="91.4" y="823" font-size="10.5" font-weight="bold" text-anchor="start" fill="#111" >cDC1 prolif</text>
<line x1="80.7" y1="817" x2="87" y2="817" stroke="#444" stroke-width="0.7"/>
<text x="84.3" y="836.4" font-size="10.5" font-weight="bold" text-anchor="start" fill="#111" >cDC1</text>
<line x1="75" y1="833" x2="81" y2="833" stroke="#444" stroke-width="0.7"/>
<text x="32.5" y="857.9" font-size="10.5" font-weight="bold" text-anchor="start" fill="#111" font-style="italic" >CCR7<tspan dy="-3.5" font-size="7">+</tspan><tspan dy="3.5" font-style="normal"> cDC</tspan></text>
<line x1="59.3" y1="838" x2="59.3" y2="844.5" stroke="#444" stroke-width="0.7"/>
<rect x="734.3" y="7" width="9.7" height="9.6" fill="#9E9EA6" stroke="none" stroke-width="0.6" />
<text x="748.8" y="15.3" font-size="10.5" font-weight="bold" text-anchor="start" fill="#111" >Na&#239;ve</text>
<rect x="734.3" y="21.7" width="9.7" height="9.6" fill="#F8C94A" stroke="none" stroke-width="0.6" />
<text x="748.8" y="30" font-size="10.5" font-weight="bold" text-anchor="start" fill="#111" >14 DPI</text>
<rect x="734.3" y="36.4" width="9.7" height="9.6" fill="#FC9678" stroke="none" stroke-width="0.6" />
<text x="748.8" y="44.7" font-size="10.5" font-weight="bold" text-anchor="start" fill="#111" >20 DPI</text>
<rect x="733.8" y="143.2" width="9.8" height="9.5" fill="#F46E66" stroke="none" stroke-width="0.6" />
<text x="747.6" y="151.5" font-size="10.5" font-weight="bold" text-anchor="start" fill="#111" >BM</text>
<rect x="733.8" y="157.2" width="9.8" height="9.5" fill="#1EB8C4" stroke="none" stroke-width="0.6" />
<text x="747.6" y="165.5" font-size="10.5" font-weight="bold" text-anchor="start" fill="#111" >Spleen</text>
<text x="0.2" y="15.5" font-size="22" font-weight="bold" text-anchor="start" fill="#000" >A</text>
<text x="283" y="15.5" font-size="22" font-weight="bold" text-anchor="start" fill="#000" >B</text>
<text x="616" y="15.3" font-size="22" font-weight="bold" text-anchor="start" fill="#000" >C</text>
<text x="616.8" y="140.7" font-size="22" font-weight="bold" text-anchor="start" fill="#000" >D</text>
<text x="0.3" y="283.4" font-size="22" font-weight="bold" text-anchor="start" fill="#000" >E</text>
<text x="274.5" y="283.2" font-size="22" font-weight="bold" text-anchor="start" fill="#000" >F</text>
<text x="657.6" y="283.2" font-size="22" font-weight="bold" text-anchor="start" fill="#000" >G</text>
<text x="0" y="579.7" font-size="22" font-weight="bold" text-anchor="start" fill="#000" >H</text>
<text x="328.5" y="579" font-size="22" font-weight="bold" text-anchor="start" fill="#000" >I</text>
</svg></body></html>
